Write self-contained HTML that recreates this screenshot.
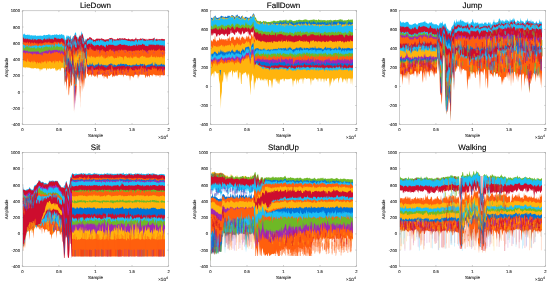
<!DOCTYPE html>
<html><head><meta charset="utf-8"><title>Activity amplitude plots</title>
<style>html,body{margin:0;padding:0;background:#fff}svg{display:block}</style></head>
<body>
<svg width="550" height="286" viewBox="0 0 550 286" font-family="'Liberation Sans', sans-serif" text-rendering="geometricPrecision">
<rect width="550" height="286" fill="#fff"/>
<filter id="bl" x="-2%" y="-2%" width="104%" height="104%"><feGaussianBlur stdDeviation="0.35"/></filter>
<g filter="url(#bl)">
<rect x="23" y="32" width="41" height="92" fill="#1CBEF5"/>
<path fill="#CD0F2D" d="M23 38.4l.5-1.3 .5 1.7 .5 .4 .5-1.3 .5 .6 .5 .9 .5-.5 .5-.5 .5 .3 .5 .1 .5 .9 .5-1 .5 .6 .5 .2 .5 .1 .5-.3 .5 .6 .5-.2 .5-.5 .5-1.3 .5 2.9 .5-1.2 .5-.6 .5 .8 .5-.8 .5 .8 .5 .8 .5-1.1 .5 0 .5 0 .5-.7 .5 .7 .5-.2 .5-.3 .5 0 .5 .9 .5-.5 .5 .7 .5 .6 .5-1.5 .5 .2 .5-.3 .5-.8 .5 .5 .5 1.2 .5-.9 .5 .7 .5-1.8 .5 1.1 .5 .3 .5 0 .5-2.7 .5 2.4 .5-.4 .5 .8 .5-1.1 .5 .5 .5 .6 .5-.7 .5 0 .5 1.4 .5-1.8 .5-1.3 .5 1.1 .5-.4 .5-.3 .5 .9 .5 1.2 .5-1.1 .5 .1 .5-.2 .5 .4 .5 .1 .5 0 .5 .1 .5-.5 .5-.6 .5 .5 .5 0 .5 .2 .5 .6 .5 .7V124H23z"/>
<path fill="#FF5F10" d="M23 41.4l.5 .9 .5 .5 .5-.6 .5 0 .5 .2 .5 .4 .5-.1 .5-.3 .5-1 .5 1.6 .5 .7 .5-1.9 .5 .5 .5 .2 .5 1.1 .5 .4 .5-2 .5 .9 .5-.3 .5 .4 .5 1.1 .5-2.1 .5 .6 .5 .5 .5 0 .5 .8 .5-.3 .5-1 .5 .7 .5 1.9 .5-1.4 .5-.9 .5 .9 .5-.8 .5 1.1 .5-2.4 .5 2.5 .5-1.3 .5 .5 .5 0 .5-.4 .5-.8 .5 .2 .5 .5 .5-1.1 .5 .6 .5 0 .5 .3 .5-.2 .5 .1 .5-.4 .5-.8 .5 1.2 .5 .3 .5-.4 .5 .5 .5 .3 .5-.7 .5 .7 .5 .2 .5-1.2 .5 .4 .5-1 .5-.3 .5 .7 .5 .2 .5 .8 .5-1.6 .5 .9 .5-.2 .5-.4 .5 2.2 .5-1.3 .5-.8 .5 1.4 .5-1.8 .5-.1 .5 .7 .5 1.3 .5-1.7 .5 2.3 .5-.4V124H23z"/>
<path fill="#1CBEF5" d="M23 43.8l.5 1.2 .5 .1 .5-.1 .5 .5 .5-.1 .5 2.6 .5-3.5 .5 1 .5-.8 .5 .8 .5 .6 .5 1.2 .5-2.5 .5 .7 .5 1.1 .5 .2 .5-1.2 .5 1.1 .5-1.3 .5 0 .5 .6 .5-.6 .5 .1 .5-.1 .5 0 .5-.1 .5-.3 .5 1 .5 0 .5 .1 .5 .1 .5-.6 .5-.4 .5 .1 .5 .5 .5 .5 .5-.6 .5-.2 .5 .3 .5-.8 .5-.5 .5 .7 .5 .4 .5-.5 .5 .2 .5-1.7 .5 1.5 .5-.1 .5-.5 .5 0 .5 .3 .5 .2 .5-.6 .5 .6 .5-.9 .5 2.6 .5-2 .5-.2 .5-.2 .5 2.5 .5-2.3 .5 .2 .5 1.6 .5-.9 .5-2.3 .5 1.3 .5 0 .5 .2 .5-.4 .5 0 .5-1.9 .5 1.2 .5 1.3 .5-.7 .5 .4 .5 .2 .5-.8 .5-.4 .5 2.6 .5-.3 .5-.3 .5 1.1V124H23z"/>
<path fill="#6EB928" d="M23 45.3l.5 1.7 .5 1.9 .5-.7 .5-.4 .5-1.1 .5 .9 .5-1.6 .5 .9 .5-1.2 .5 1.1 .5 1 .5-1.1 .5 .2 .5 1.8 .5-1.1 .5 .1 .5-.5 .5 1.1 .5-.3 .5-.2 .5 .2 .5-1.2 .5 .6 .5 .4 .5 1 .5-.2 .5-.2 .5-.6 .5-1.6 .5 2.5 .5-1.9 .5 .6 .5 .5 .5 .2 .5 .4 .5-.7 .5-.5 .5-.9 .5 1.8 .5 .8 .5-2.2 .5 .8 .5-.6 .5 0 .5 .1 .5-2.3 .5 2.3 .5-.7 .5 .6 .5-.5 .5 .7 .5 .4 .5-1 .5-.3 .5 1.6 .5-.8 .5-.9 .5-.7 .5 3.1 .5-1.9 .5-1.3 .5 1 .5-.3 .5-.1 .5 1.4 .5-.1 .5-1.9 .5 .1 .5 .6 .5 .7 .5-.1 .5 .4 .5-.3 .5-.2 .5 .9 .5-2.4 .5 2.1 .5-.6 .5 .7 .5 2.4 .5-1.5 .5-.7V124H23z"/>
<path fill="#A028B4" d="M23 50.6l.5 .4 .5-1 .5 .5 .5-1.1 .5 1.7 .5 .1 .5-.2 .5-.4 .5 .3 .5-.4 .5 1.6 .5 .3 .5-1.3 .5 .3 .5 .7 .5-.8 .5 .9 .5-.9 .5 .5 .5-.5 .5 .4 .5 .7 .5-2 .5 1.6 .5-.5 .5 .3 .5 0 .5-1.2 .5 .9 .5 .4 .5-1 .5 1.3 .5 .7 .5 .3 .5-.4 .5-.4 .5-1.1 .5 1.9 .5-2 .5 .9 .5-.1 .5-.9 .5 .1 .5-.3 .5 .3 .5-.5 .5-.2 .5-.3 .5 1 .5 .3 .5-1.6 .5-1 .5 1.5 .5-.5 .5 .4 .5 .8 .5-.3 .5-.3 .5-.5 .5 .6 .5-.5 .5 0 .5-.3 .5 .8 .5-1 .5 .6 .5-.6 .5 1 .5-.8 .5 .2 .5 1 .5-.3 .5-1 .5 .5 .5 2.6 .5-3.5 .5 1.3 .5 1.7 .5-2.9 .5 2.1 .5 .2 .5 0V124H23z"/>
<path fill="#FF5F10" d="M23 52.5l.5 .2 .5 0 .5-.8 .5 1.5 .5 0 .5-.2 .5-1 .5 .6 .5 0 .5 .1 .5 1 .5-.9 .5 .1 .5-.4 .5 .8 .5 .5 .5 .1 .5-.8 .5 2.3 .5-1.7 .5-.3 .5-.2 .5 .7 .5-1 .5 .6 .5 .7 .5-.2 .5 .3 .5-.5 .5 0 .5-.3 .5 1.4 .5-1.5 .5 .5 .5 .1 .5 1 .5 .1 .5-2.7 .5 3.7 .5-2.4 .5-1.3 .5 .7 .5-.9 .5 1.4 .5-.7 .5 .1 .5 .1 .5 .1 .5 .3 .5 .3 .5-1.3 .5 .6 .5-2.4 .5 1.9 .5 1.7 .5-1.8 .5 1.3 .5-.8 .5-.6 .5 .7 .5-.7 .5 .8 .5-2 .5 .1 .5 1.3 .5-.5 .5-.6 .5 .6 .5-.2 .5 .4 .5 .6 .5 .5 .5-1.8 .5 1.5 .5 1.5 .5-1.8 .5 .5 .5-1.2 .5 1.7 .5 .3 .5 .7 .5 .1V124H23z"/>
<path fill="#FFB40A" d="M23 62l.5-2.8 .5 2.6 .5-1.5 .5 .5 .5 .2 .5 .7 .5-.2 .5 1.3 .5-4.9 .5 2.6 .5 .8 .5 1 .5-.8 .5 .3 .5 .6 .5-.1 .5-.7 .5-1.2 .5 1.4 .5 1.3 .5-1 .5-2.2 .5 1.9 .5-.1 .5 .3 .5 .5 .5 2 .5-2.8 .5 .5 .5 .3 .5 1 .5-.6 .5-.8 .5 .8 .5-.4 .5 2.1 .5-2.7 .5-.8 .5 2 .5-1.5 .5 1.2 .5-1 .5 0 .5-1.3 .5 2 .5-2.6 .5 4.2 .5-1.3 .5-1.7 .5-.9 .5 2.4 .5-1 .5-1.1 .5 .9 .5-.3 .5 .7 .5 .4 .5 .9 .5-.8 .5-1.8 .5 1 .5-.2 .5 3 .5-4.8 .5 1.7 .5 1.5 .5-1.7 .5-.3 .5 .7 .5-.3 .5 2.2 .5-3 .5 .6 .5-.6 .5 1.8 .5-1 .5 1.7 .5 0 .5 .5 .5-1.5 .5-5.1 .5 5.7V124H23z"/>
<rect x="64" y="30" width="23" height="94" fill="#1CBEF5"/>
<path fill="#CD0F2D" d="M64 39.5l.5 1.1 .5 3.5 .5 .9 .5-6.2 .5 1.4 .5-.3 .5-.6 .5-2.2 .5 1.5 .5 .5 .5 1 .5-.5 .5 .7 .5-.5 .5 2 .5-.3 .5-1.5 .5-5 .5 6 .5-2.7 .5-3.1 .5-.5 .5 .2 .5 1.5 .5 .2 .5 1.2 .5 1.2 .5 2.3 .5-3.3 .5-4.8 .5 3.8 .5-.7 .5-5.1 .5 10.1 .5-6.9 .5-.2 .5 .4 .5-1.7 .5 7.3 .5 2.2 .5-2.3 .5 3.1 .5-1.8 .5-2.3 .5 1.5 .5 1.2V124H64z"/>
<path fill="#1CBEF5" d="M64 43l.5 5.2 .5-5.6 .5 3.6 .5 .9 .5-.6 .5-2.1 .5-1.7 .5 1.1 .5-6.6 .5 5.3 .5-.1 .5 7.5 .5-8.2 .5-1 .5 3.7 .5 0 .5-4.4 .5 2.9 .5-3.5 .5 4.8 .5-5.8 .5 4.1 .5-4.3 .5 4.2 .5 1.4 .5-2.6 .5-1.2 .5 3.8 .5-1.8 .5-1.3 .5 1.7 .5 .3 .5-2.6 .5 .8 .5-2.2 .5-.7 .5 .1 .5 1.7 .5 2 .5-.4 .5 6 .5-3 .5-.2 .5 .2 .5-3 .5 1.1V124H64z"/>
<path fill="#CD0F2D" d="M64 41.9l.5 6.5 .5 1 .5 3.5 .5-2.5 .5-3.3 .5-.5 .5-2 .5-1.6 .5 5.1 .5-4.5 .5 1.4 .5 2.4 .5-1.4 .5 .3 .5 4.7 .5-4.6 .5-1.9 .5-3.3 .5 4.7 .5-.3 .5-2.5 .5 4 .5-.1 .5 1.4 .5-1 .5-3.4 .5-3 .5 5 .5-4.3 .5 5.4 .5-9.6 .5 7.9 .5-4.9 .5-2.7 .5 2.8 .5-3.1 .5 6.8 .5-1.3 .5 1.1 .5 1.2 .5 3.6 .5-2 .5 1.4 .5-.3 .5-5.1 .5 .6V124H64z"/>
<path fill="#FF5F10" d="M64 47l.5 7.8 .5-3.8 .5-2.3 .5 5.1 .5-2.6 .5-2.2 .5-.7 .5-1.7 .5 4.4 .5-.6 .5-1.2 .5-1.6 .5 1.3 .5 8.2 .5-6.2 .5-.3 .5 1.3 .5-10.8 .5 5.6 .5 9.5 .5-10.3 .5 8.6 .5-3.1 .5-.9 .5 1.2 .5-1.9 .5 .2 .5-.1 .5-.5 .5-2.6 .5 1.4 .5 3.2 .5-2.7 .5 2.9 .5-6.5 .5 1.9 .5 1.2 .5-.9 .5 3.7 .5 1.1 .5 1.2 .5-1 .5 2.8 .5-5.9 .5-2.3 .5-.6V124H64z"/>
<path fill="#FFB40A" d="M64 52.9l.5 10 .5-1.3 .5 2.2 .5-3.2 .5 2.1 .5-6.4 .5-2.2 .5-2.8 .5-.5 .5 5.4 .5 .3 .5 1.3 .5-9.3 .5 10.2 .5-3.3 .5-1.7 .5-1.5 .5 1.1 .5-1.6 .5 7.5 .5-7.2 .5 5.9 .5-4.8 .5 4.8 .5-2 .5-3.9 .5 2.2 .5-1.1 .5 1.3 .5-2.5 .5 .7 .5 6.2 .5-8.6 .5 4.6 .5-6.9 .5 10.4 .5 .6 .5-8.4 .5 12 .5-9.4 .5 6 .5-.1 .5-1.1 .5-1 .5-6 .5 3.5V124H64z"/>
<path fill="#0573D7" d="M64 56.4l.5 17.4 .5-4.1 .5 .8 .5-2.8 .5-.2 .5-.3 .5-7 .5-1.8 .5 .7 .5-3.1 .5 5.2 .5 2.4 .5-5.4 .5 5.8 .5 .7 .5-1.9 .5-6.3 .5 2.2 .5 1.8 .5 14.4 .5-10.8 .5 8.1 .5-3.5 .5 6.9 .5-7.3 .5-4.4 .5-.8 .5-.9 .5 7.4 .5-6.9 .5 1.9 .5 11 .5-14.8 .5 7.2 .5-4.6 .5-1.9 .5 6.2 .5-.7 .5 8.2 .5-13.3 .5 11.2 .5-8.1 .5 2.4 .5-2.8 .5-7.9 .5 6.3V124H64z"/>
<path fill="#CD0F2D" d="M64 61.8l.5 14.7 .5-9.3 .5 3.4 .5-.2 .5-1.2 .5-2.7 .5-3.7 .5-.3 .5-4.1 .5 6.8 .5 .3 .5 3.9 .5-7 .5 4.9 .5-.3 .5-2.3 .5-4.8 .5 2.5 .5 1.9 .5 17.5 .5-15.6 .5 11.8 .5-4.9 .5 4.1 .5-3 .5-4.9 .5-4.4 .5 5.5 .5-3.8 .5-2.7 .5 6 .5 7.8 .5-15.8 .5 8.9 .5-9.4 .5 6.8 .5 3.6 .5-4.8 .5 7.8 .5-9.9 .5 13.4 .5-8.8 .5 0 .5-3.5 .5-10.8 .5 6.3V124H64z"/>
<path fill="#FF5F10" d="M64 62.1l.5 12.6 .5-3.7 .5 .7 .5-1.1 .5 1 .5 .5 .5-4.5 .5 2.3 .5 .1 .5 3 .5 1.2 .5-.2 .5-3.9 .5 .3 .5 3.7 .5 1.6 .5-11.3 .5 2.4 .5 1.6 .5 18.7 .5-12.2 .5 5 .5-1.4 .5 5 .5-5.2 .5-3.1 .5-10.5 .5 6.9 .5 2.4 .5-3 .5 4.1 .5 9.3 .5-20.2 .5 13.6 .5-12.5 .5 3.5 .5 5.9 .5-1.3 .5 10.9 .5-16.6 .5 12.6 .5-9.7 .5 3.1 .5-3.6 .5-13.5 .5 6.6V124H64z"/>
<path stroke="#FF5F10" stroke-width="0.6" fill="none" opacity="0.85" d="M68.6 68.9v10.3M85.3 63.4v9.5M75 65.7v11.7M64.4 44.3v11.4M73.8 51.3v10.5M68.1 65.4v9M72 72.4v12.2M83.6 75.4v12.4M68.1 66.2v11.2M80.5 62.2v7.4M67.3 57.8v9.7M81.8 67.7v7.6M67.6 67.6v11M72.4 71.2v13M81.8 55.1v5.8M70.8 70.7v13.9M69.1 72.1v11.1M68.4 67.5v4.7M71.7 76.5v10.9M80.2 91.5v4.2"/>
<path stroke="#CD0F2D" stroke-width="0.6" fill="none" opacity="0.85" d="M65 72v7.8M78.4 69v5.6M77.9 60.1v4.8M75.7 62.7v6.1M69.4 60.7v7.2M71.2 76v6.1M80.1 62.9v6.7M74.3 67.2v5.1M68.8 63v9.8M66.5 67.1v4.2M79.9 55v9.3M71.7 66v13.8M77.3 64.4v9.3M71.6 68.3v8.7M79.2 57.3v4.3M72.6 50.9v10.3M71.3 69v6.6M72.6 55.6v13.3M66.9 73.5v12M67.4 75.8v7.5M86.9 53v8.9M83.3 64.4v9.1M68.5 65.7v6.8M66.3 59.8v11.7M64.5 51.8v10M69.9 81.8v4.1M82.1 59.2v10M75.3 90.1v12.7M77.2 68v6.7M72.8 50.6v12.5M65.7 53.1v11.7M66.2 67v5M72.7 67.5v7M73.7 65.5v4.5M66.4 72.1v6.2M75.5 70.7v6.4M82.9 61.3v4.8"/>
<path stroke="#0573D7" stroke-width="0.6" fill="none" opacity="0.85" d="M66.8 50.4v14M79.2 65.8v10.1M78.6 66.7v4.7M83.8 69.8v10.3M71.9 61.1v11M79.2 68.3v9.4M66.2 55.1v10.3M83.6 59.4v11.6M67.9 58.3v13.2M84.2 58.4v4.6M69.7 64.3v4.5M86.6 45.5v9.3M67.9 48.3v13.2"/>
<path stroke="#A028B4" stroke-width="0.6" fill="none" opacity="0.85" d="M81.1 63.1v7.9M70.6 64.7v12.8M81.1 71.3v11.1M70 55.5v9.3M66.1 71.7v7.4M81.9 61v6.3"/>
<path stroke="#1CBEF5" stroke-width="0.6" fill="none" opacity="0.85" d="M73.3 68.8v4.4M86.8 51.5v7.6M64.1 56.4v10.7M64.9 72v13.9M81.9 47.4v11.5M81.2 66.4v5M72.9 65.3v13M70.8 71.8v13.2M86.7 51.6v6.3M76.5 75.2v8.8M78.8 74.9v6.9M79.7 58.5v12.6M65.4 69v6.9M75.7 73.9v11"/>
<path stroke="#1CBEF5" stroke-width="0.6" fill="none" opacity="0.8" d="M84.1 38.8v3.9M80.3 44v6.6M70.8 40.1v3.1M83.8 52.6v6.4M77.7 49.4v7.3M70.6 39.6v7.4M70.1 41.4v5.6"/>
<path stroke="#0573D7" stroke-width="0.6" fill="none" opacity="0.8" d="M85.9 51.7v7.1M70.9 47.5v3.8M78.2 40.9v3.1M85.3 53.2v3.2M81.5 39.9v4.3M73 42.5v5.3M84.7 47.7v4.3M74.3 50.4v4.1"/>
<path stroke="#CD0F2D" stroke-width="0.6" fill="none" opacity="0.8" d="M78.4 45.4v3.7M76.3 38v7.9M71.9 49.3v6.9M83.2 43.9v7.2M70.2 44.3v4.3M81.5 40.9v3.7M70.2 53.5v7M81.2 39.1v4.8M86.7 40.5v6.9M85.5 53.7v4.5M70.4 36.5v6.8M83.3 38.2v4.2M77.7 50.1v5.4M82.1 46.9v5M72.4 51.4v4.9"/>
<rect x="87" y="35" width="78" height="89" fill="#CD0F2D"/>
<path fill="#1CBEF5" d="M87 40.9l.5-.1 .5-.3 .5-.7 .5 .5 .5-1.3 .5-.6 .5 .9 .5 .5 .5 .6 .5-.7 .5 .4 .5 .7 .5 1.4 .5-.9 .5 0 .5-.4 .5 2.2 .5-2.9 .5 .6 .5 0 .5 0 .5 0 .5-.9 .5-.3 .5 2.3 .5-1.8 .5-.2 .5-.8 .5 1.2 .5 .3 .5-.2 .5-.1 .5 .4 .5 1.6 .5-1.2 .5 .6 .5 .4 .5-.7 .5-.4 .5-.6 .5 .7 .5 .2 .5 .4 .5-2.4 .5-.2 .5 .6 .5 .4 .5-1.5 .5 .8 .5-.3 .5 4.1 .5-3.4 .5-.2 .5 1.6 .5-.9 .5 .6 .5-.6 .5 .4 .5-.4 .5 0 .5 .1 .5-.3 .5 .2 .5 .6 .5-1 .5-1.8 .5 2.9 .5-1.7 .5 .5 .5 0 .5 0 .5-.2 .5 .3 .5 .1 .5-.1 .5-.3 .5 .5 .5 .1 .5 0 .5 .3 .5 .2 .5-.2 .5 .4 .5 .2 .5-.2 .5-.4 .5 1.5 .5-2 .5 1.4 .5-.6 .5 .1 .5 .7 .5-.9 .5 1.4 .5-.8 .5-1.7 .5 .7 .5 .1 .5-1.1 .5 1.4 .5 1.7 .5-2.5 .5-.3 .5 .8 .5 .1 .5-.7 .5 .1 .5 .8 .5-.6 .5-.2 .5-1.1 .5 .1 .5 2.3 .5-1.2 .5 1.3 .5-1 .5 .8 .5-.1 .5-1.1 .5 .2 .5 .7 .5-.5 .5 .1 .5-.6 .5 .6 .5 0 .5-.4 .5 .2 .5-.1 .5 .1 .5-1.3 .5 3.6 .5-2.7 .5 1.3 .5-3.3 .5 1.4 .5 .5 .5 1.7 .5-.9 .5 .6 .5-.4 .5-1 .5 .7 .5-.4 .5 .4 .5 .2 .5-1 .5 1.7 .5-1.1 .5-.1 .5 .8 .5-.7 .5 .9 .5-.6 .5 .1 .5-.4V124H87z"/>
<path fill="#CD0F2D" d="M87 44.2l.5 .8 .5-.8 .5-.6 .5 .3 .5 .1 .5-1.8 .5 3.7 .5-4.3 .5 2.3 .5 .1 .5 .4 .5 .6 .5 .2 .5 .2 .5 .4 .5 .9 .5-1.7 .5-.1 .5 .6 .5-.4 .5-.3 .5 .2 .5 .1 .5 .6 .5 .6 .5-.7 .5-.6 .5 .5 .5-.4 .5-.6 .5 2 .5-1.5 .5 .7 .5 .2 .5 1 .5-.4 .5 1.5 .5-3.1 .5-.3 .5 .9 .5 .4 .5-.3 .5-1.1 .5 0 .5 .4 .5-.5 .5 .5 .5-.5 .5 .5 .5-.1 .5 0 .5 0 .5 .2 .5 .4 .5 0 .5 .4 .5-.4 .5 .4 .5-.6 .5 1.1 .5-1 .5-.8 .5 .4 .5-.2 .5-.6 .5 .3 .5-.3 .5 0 .5 1.1 .5-.5 .5 .2 .5-.2 .5 .2 .5-.4 .5 .3 .5 0 .5 .1 .5 .9 .5-.8 .5-.1 .5 .5 .5 .5 .5 .2 .5-.5 .5-.2 .5 .4 .5 .6 .5-1 .5 .6 .5 .1 .5-.3 .5-.5 .5 .3 .5-.5 .5 .2 .5-.1 .5 1.3 .5-2.3 .5 0 .5 1.3 .5 .7 .5-2.3 .5 1.5 .5-1.3 .5 1.5 .5-1.4 .5 .9 .5-.2 .5 .2 .5-.8 .5-.8 .5 .8 .5 .3 .5-.1 .5 .1 .5 .9 .5 .2 .5 .5 .5-.6 .5 .4 .5 0 .5 .5 .5-.9 .5-1.8 .5 1.6 .5-1.5 .5 1.3 .5-1 .5 .8 .5-.8 .5 1.4 .5-1.8 .5 1.1 .5 .3 .5-.7 .5 .7 .5 0 .5-.2 .5 .1 .5-1.6 .5 2 .5-1.1 .5 .5 .5-.7 .5 1.5 .5-.6 .5 .2 .5 0 .5 .2 .5-.2 .5 .1 .5-.3 .5 .5 .5 1.7 .5-1.8 .5 0V124H87z"/>
<path fill="#FF5F10" d="M87 50.9l.5-2.1 .5-.1 .5 1.2 .5 .5 .5-2.6 .5-.7 .5-.2 .5 2.3 .5-.4 .5 1.2 .5 .4 .5-1.8 .5 2.5 .5-.6 .5 .5 .5-.2 .5 0 .5-.3 .5-2.3 .5 2.3 .5-.4 .5 .1 .5-.6 .5 .3 .5 .8 .5 1.4 .5-2.1 .5 .7 .5-.5 .5-.7 .5-.7 .5 2.6 .5-1 .5-.2 .5 1.3 .5 .3 .5 .6 .5-1.1 .5-.3 .5 0 .5-.3 .5 .5 .5 .6 .5-2.5 .5 .7 .5-.4 .5-.7 .5 1 .5 1.3 .5-1.8 .5 1 .5 .6 .5-.6 .5 1.5 .5-.7 .5 .2 .5-.7 .5 .1 .5-.4 .5 1.3 .5-.7 .5-1.3 .5 .7 .5-.6 .5 .6 .5-.6 .5 1.2 .5-.7 .5-1 .5 .5 .5 .2 .5 .9 .5-.9 .5-.5 .5 .4 .5-.2 .5 .1 .5 .5 .5 0 .5 .3 .5 1 .5 .4 .5-1.8 .5 .7 .5 .2 .5-.8 .5 .8 .5-.6 .5 .4 .5-.1 .5 .9 .5-1 .5 0 .5 .2 .5-.4 .5 .9 .5-1.2 .5-.3 .5 .7 .5 .1 .5-.1 .5-.8 .5 .1 .5 1.2 .5-.4 .5 .1 .5-1.1 .5 .2 .5 .9 .5-1.1 .5-.8 .5 .8 .5 .8 .5-.5 .5 .3 .5 .9 .5-.1 .5 .2 .5 1.1 .5-1.5 .5 .7 .5-.4 .5-1 .5-.5 .5 .8 .5-.7 .5 .9 .5-.2 .5-1.6 .5 1.9 .5-.5 .5-.5 .5-.5 .5 .8 .5 .9 .5-.6 .5 .2 .5 .1 .5 0 .5-.1 .5-.6 .5 0 .5-1.3 .5 2.1 .5-2.9 .5 2.1 .5 .6 .5-.2 .5 .6 .5-1.1 .5 0 .5 0 .5 .9 .5-.4 .5 .2 .5 .4V124H87z"/>
<path fill="#FFB40A" d="M87 56.3l.5 .5 .5-2.6 .5 2.1 .5 1 .5 0 .5-1.5 .5 2.4 .5-2.7 .5 .4 .5 .7 .5 .3 .5 .7 .5-.7 .5-1.1 .5 2.1 .5-.9 .5 1.6 .5-1.9 .5 .3 .5-.7 .5 .4 .5 .5 .5-.7 .5-1.3 .5 2.1 .5 .2 .5-1.4 .5 .6 .5-1.3 .5-.7 .5 2.4 .5-.1 .5 1.4 .5-3.2 .5 3 .5 .5 .5-.5 .5-.2 .5-.5 .5 0 .5-1.2 .5 2.5 .5-3.4 .5 .6 .5 1.3 .5-.8 .5 0 .5-.4 .5-.7 .5 1.6 .5-1.1 .5 .7 .5 1.3 .5-.5 .5 1.7 .5-1.9 .5 .7 .5 0 .5 0 .5 .3 .5-2.6 .5 1.8 .5 .3 .5-2.3 .5 1.4 .5-.4 .5 .1 .5 .3 .5 .3 .5 0 .5 .6 .5-.7 .5 4.1 .5-4.1 .5-.5 .5-.5 .5-.2 .5 1 .5-.4 .5 1.2 .5 .3 .5-.2 .5-.4 .5 .2 .5-.3 .5 1.7 .5-3.4 .5 1.9 .5 .5 .5-.8 .5 1.7 .5-.9 .5-.6 .5-1.2 .5 1 .5 .2 .5-.5 .5-1.6 .5 2.1 .5-.1 .5 .7 .5-.4 .5 .2 .5 .9 .5-.4 .5-1.5 .5 .3 .5-.4 .5-.3 .5-.2 .5-.7 .5 .9 .5 .1 .5 .9 .5-.7 .5-.8 .5 1.9 .5-.6 .5 .8 .5-.5 .5 .4 .5-.6 .5 .3 .5 .6 .5-1 .5 .2 .5-.3 .5-1.1 .5-1.1 .5 2.8 .5-.9 .5 .3 .5-.4 .5 1.1 .5-1.5 .5 .9 .5 .4 .5 .4 .5-2.4 .5 1.6 .5 .1 .5 .3 .5-1 .5 .6 .5 .5 .5-.1 .5-.7 .5 .3 .5-.5 .5 .3 .5 .3 .5 1.6 .5-3.7 .5 3.9 .5-3.4 .5 .7V124H87z"/>
<path fill="#0573D7" d="M87 64.2l.5 .1 .5 .9 .5-.2 .5 .5 .5-1.3 .5-1.7 .5 1.9 .5 .7 .5-1.5 .5 1.6 .5-3.3 .5 3.1 .5-.3 .5 1.3 .5-.1 .5-1.9 .5 1.2 .5-.7 .5 .4 .5-1.2 .5 .7 .5 0 .5-2.5 .5 2.3 .5 1.2 .5-2 .5 2.3 .5-1.5 .5-.5 .5 2.1 .5-1.1 .5 0 .5 0 .5 1.1 .5-1.1 .5 .5 .5 .2 .5-1.1 .5 1.6 .5-.6 .5 0 .5 .5 .5-1 .5-.8 .5 .3 .5-.4 .5-.3 .5-.1 .5-.1 .5 .7 .5-.4 .5 3.1 .5-2.3 .5 .3 .5-.6 .5 1 .5-.1 .5 .3 .5 .7 .5-1.5 .5 .5 .5-.7 .5-.1 .5-.6 .5 1.2 .5-1.2 .5 .6 .5-1.7 .5 1.9 .5-.8 .5 .3 .5 .3 .5-.6 .5 .4 .5 .7 .5-1.2 .5 .8 .5-.3 .5 0 .5 .6 .5 .2 .5 .1 .5 .5 .5-.3 .5-.4 .5 .2 .5 .4 .5 .3 .5-.3 .5-.3 .5-.5 .5 1.3 .5-1.4 .5 .3 .5 .8 .5-1.5 .5 1.3 .5-1.6 .5-.2 .5 1.3 .5 0 .5-.5 .5 .8 .5-.4 .5 .6 .5-1.9 .5 .4 .5-.2 .5 .9 .5-.6 .5 0 .5-.2 .5 .8 .5 1.9 .5-3.1 .5 1.1 .5 1.3 .5-.2 .5 0 .5-.7 .5 .2 .5-.8 .5 .4 .5-.1 .5-.1 .5 0 .5-.2 .5-.6 .5-.5 .5 1.4 .5-2.9 .5 4.1 .5-1 .5 1.3 .5-1.5 .5-2.9 .5 2.3 .5 .4 .5-.2 .5-.7 .5 2 .5 .1 .5-.6 .5-1 .5 1.2 .5-.3 .5-.5 .5-.6 .5-.2 .5 .7 .5 1 .5-1.7 .5 1.2 .5-.2 .5 .9 .5-1.3V124H87z"/>
<path fill="#CD0F2D" d="M87 66.8l.5-.4 .5 .4 .5 .2 .5 .1 .5-.1 .5-.9 .5-.1 .5-.4 .5 .4 .5-.2 .5 1.3 .5-1.8 .5 .8 .5 1.3 .5 0 .5 1.1 .5-1.6 .5-1.5 .5 1.8 .5-.9 .5 .4 .5-2.1 .5 .1 .5 1.4 .5 .4 .5-.3 .5 .1 .5-.3 .5-.8 .5-.2 .5 1.2 .5 .3 .5-.3 .5 0 .5 .8 .5 .3 .5-.2 .5 1 .5 .1 .5-2.4 .5 1.1 .5-.5 .5-.1 .5-1.7 .5 .4 .5-.7 .5 .6 .5 .9 .5-1.4 .5 1.9 .5 .1 .5-.7 .5 1.1 .5 1.2 .5-2.1 .5 1.2 .5-.1 .5-.3 .5 .1 .5-1 .5 .7 .5-.5 .5 .1 .5 1 .5-1.4 .5-.4 .5 1.5 .5-.9 .5 .2 .5-.7 .5 .5 .5-.2 .5 .4 .5-.4 .5-.6 .5 1.6 .5-.3 .5 1.2 .5-1.4 .5-.1 .5-.1 .5 .3 .5 .1 .5-.3 .5 .3 .5 .1 .5 1.1 .5-.8 .5 .6 .5-1.7 .5 .9 .5 1.6 .5-2.8 .5 .2 .5 1 .5-.6 .5-.2 .5 .3 .5 .3 .5-.3 .5 .1 .5 0 .5 .8 .5-1.3 .5 .6 .5-.2 .5-1.5 .5 2.2 .5 .6 .5-1.8 .5 .4 .5-.4 .5 1.6 .5-1.5 .5-1.8 .5 1.6 .5 1.3 .5-1.3 .5 2.9 .5-1.2 .5-.3 .5 .2 .5-.6 .5 .5 .5-.1 .5-.6 .5-.4 .5-.2 .5 .1 .5-.1 .5-.5 .5 1.5 .5-1.2 .5 .6 .5-1.2 .5 1.4 .5 .4 .5-1.2 .5 2.6 .5-2.3 .5 .2 .5 .8 .5-.6 .5 .7 .5-.9 .5 0 .5 .7 .5 .2 .5-.1 .5-.9 .5 .6 .5-.2 .5 .6 .5-.8 .5 1 .5-.2V124H87z"/>
<path fill="#FF5F10" d="M87 68.1l.5 .6 .5 .1 .5 2.3 .5-2 .5 .3 .5 1.7 .5-2.3 .5 2.4 .5-2.7 .5-3 .5 2.1 .5 2 .5-.7 .5 1.8 .5-1 .5 .4 .5-.8 .5 .2 .5 .4 .5-1 .5 .1 .5 1.2 .5 .6 .5-2.5 .5-1.4 .5 3.1 .5-1.2 .5 2.6 .5-2.1 .5-.8 .5 1.8 .5-1 .5 .6 .5 1.1 .5-1 .5 2.4 .5-2.5 .5-.3 .5 .5 .5-.5 .5 .6 .5-.6 .5 .3 .5-.1 .5-1 .5 1.4 .5-1 .5 .4 .5-4.9 .5 0 .5 4.3 .5-.6 .5 2.3 .5-1.4 .5 .8 .5-1.1 .5 1 .5 1.3 .5-.2 .5-2 .5 0 .5 .2 .5-.7 .5 .2 .5 2.5 .5-1.5 .5-1.8 .5 1.1 .5 2 .5-2.8 .5 1.4 .5-.1 .5 .7 .5-3.5 .5 3.9 .5 1.3 .5-3.8 .5 1.2 .5-1.9 .5 1.9 .5 .6 .5 .1 .5 .6 .5-1.8 .5-.9 .5 2.6 .5-3.9 .5 2.2 .5 0 .5 1.6 .5-.8 .5 1.2 .5-1.1 .5 .8 .5-.4 .5 .4 .5-2.1 .5-.1 .5 1 .5 .2 .5 .2 .5 .3 .5-1.4 .5-.7 .5 2.1 .5-.8 .5-1.1 .5-1.4 .5-1.1 .5 2.2 .5-.1 .5 .1 .5-1.4 .5 1.4 .5 .7 .5-1 .5 1.2 .5 .7 .5 1.3 .5 .5 .5-1.9 .5-1 .5 .4 .5 .8 .5-.4 .5 .2 .5 .3 .5-.1 .5 .6 .5-3.2 .5 1.4 .5-2.5 .5 2.8 .5 .5 .5-1.1 .5-1.2 .5 2.4 .5-1.1 .5 .2 .5 .6 .5 2.5 .5-2.5 .5 .9 .5-1.2 .5 .3 .5-1.2 .5 .5 .5 1.6 .5-1.1 .5-.3 .5 4.6 .5-2.4 .5-1.8 .5 .4 .5 .3 .5-1.2V124H87z"/>
<path stroke="#CD0F2D" stroke-width="0.6" fill="none" opacity="0.8" d="M120.3 66.1v4.3M164.3 67.7v2.7M128.2 68.3v3.6M113.2 72.8v2.3M91.6 72.6v2.4M114.8 67.1v3.8M163.8 66.7v3.4M103.2 65v4.4M97.5 71.7v2.4M113.5 71.4v4.7M143.5 66.4v2.5M135 71.7v4.5M160.4 66v4.3M121.4 69.3v4.1M142 67.7v2.7M115.8 70.9v3M144.4 67.1v4.7M104.2 72.1v2.3M160 66.9v4.7M110.6 67.7v3.7M87.7 69.9v3.6M158.1 66.5v3.9M161.1 65.7v2.4M113.6 68.6v2.5M103.4 67v3.9M116.4 71.5v3M99.4 65.8v4.7M122.5 67.5v2.3"/>
<path stroke="#A028B4" stroke-width="0.6" fill="none" opacity="0.8" d="M92.9 71.3v4.4M107.9 70.9v3M128 69.3v3.7M118.4 68v2.7M89.1 66.1v1.7M102.5 73.1v2.2M110.9 69.2v2.6M92.5 69.5v4M147.4 69.6v2.1M87.3 67.1v4.8M144.7 70.1v2.3M119.6 70.7v2.3M98.9 71.2v3.8M134.1 67.8v2.6M163 67.4v2.9M108.5 73.7v1.6M146.9 67.9v3.9M122.7 70.8v3.5M116.1 73.8v2.2M163.5 72.1v3.6M135.6 72.5v3M147.4 72.8v3M137.9 66.6v1.8M93.2 65.6v4.4M162.9 67v4.5M139.3 71.4v2.4M125.7 72.7v2.5M99 71.1v2.5M91.6 67.6v3.9M141.9 69.8v4.3M105.8 72.7v1.7M112.1 70v2.3"/>
<path stroke="#A028B4" stroke-width="0.6" fill="none" opacity="0.7" d="M114.6 51v2.9M113.6 50v1.2M139.4 52.9v1M113.9 49.1v2.9M97.3 48.9v2.5M164.9 52.3v1.2M118.8 50.1v2.8M145.8 49.7v1.9M147.7 51.2v2.3M162.5 52v2.7M131.6 50.8v1.3M100.1 50.5v2.5M154 51.9v1.6M113.1 49.1v2.1M160.8 51.8v1.9M99.4 50.9v2.8M146.9 50.4v1.8M132.5 53.1v1.5M119.7 49v1M106 52.5v2.4M124.2 50v1.5M146.8 51.5v1.1M135.9 52.7v1.1M164.8 49.7v1.6M163.2 52.8v1.4M143.2 50.8v1.8M148.1 52.1v1.5M125.2 50.8v2.2M129.4 52.1v1.3M90.3 47.5v2.2"/>
<path fill="#fff" d="M23 33.4l.5 1.2 .5-.2 .5-1.1 .5 1.4 .5 .1 .5 .3 .5-.2 .5-.1 .5-.2 .5 .4 .5 .3 .5-1.3 .5 1 .5 .5 .5-.1 .5-.4 .5 .3 .5 .2 .5 .1 .5-.1 .5-.1 .5 .1 .5-.1 .5 .2 .5-.6 .5 1 .5 .2 .5-1 .5 .8 .5-.2 .5-.1 .5 .1 .5-.1 .5-.3 .5 0 .5 .6 .5-.5 .5 .6 .5-.4 .5 0 .5-.7 .5 .3 .5-.6 .5 .4 .5 .4 .5-.5 .5-.1 .5 .1 .5 0 .5-.3 .5-.6 .5 1.2 .5-.7 .5-.3 .5 .9 .5 .3 .5-.3 .5-.1 .5-.3 .5 .1 .5 0 .5-.1 .5-.2 .5 0 .5 .2 .5-.1 .5-.8 .5 .8 .5 .1 .5 0 .5 .3 .5-.1 .5-.9 .5 1 .5-.1 .5-1.3 .5 .5 .5 .2 .5 .2 .5 .9 .5-.9 .5 .7 0-.4 .5 1.1 .5 3.4 .5 .6 .5-3.1 .5-.5 .5-1.9 .5 1.9 .5-.1 .5-.7 .5 1 .5 .1 .5-.2 .5-1.5 .5 3.9 .5-.1 .5-.1 .5-.9 .5-1.3 .5-.6 .5 .2 .5-1.4 .5-2 .5-.3 .5 .4 .5 3.9 .5 .1 .5 .2 .5 2.3 .5-1.6 .5-1.2 .5-.4 .5-1.9 .5 2 .5-1.1 .5-4 .5 2.1 .5 .1 .5 2 .5 1.2 .5 1.8 .5 2.4 .5 .9 .5-2.8 .5 1 .5-.9 .5 .7 0-1.4 .5 .2 .5 .7 .5-.5 .5-.6 .5-.8 .5-.5 .5 .7 .5 .3 .5 .4 .5 .4 .5 .9 .5 .1 .5-.2 .5 .4 .5 .3 .5-.3 .5-.3 .5-.7 .5 .3 .5-.9 .5 .7 .5 .2 .5-.6 .5 .3 .5 .1 .5-.1 .5 .2 .5-.5 .5-.1 .5 .3 .5 .2 .5 .4 .5-.1 .5-.1 .5 .7 .5 0 .5-.2 .5 .1 .5-.4 .5 .2 .5-.4 .5 .4 .5-.3 .5-.3 .5-.5 .5-.2 .5 0 .5 0 .5-.4 .5 .5 .5 .4 .5-.1 .5 .7 .5 .3 .5-.2 .5-.4 .5 .6 .5-.1 .5-.1 .5 0 .5-1.6 .5 1.4 .5-.1 .5-.9 .5 .5 .5-.8 .5 .7 .5 0 .5 .3 .5-.7 .5 .3 .5-.1 .5 .4 .5-.1 .5-.4 .5-.5 .5 1 .5 .2 .5 .1 .5 0 .5 .4 .5-.7 .5-.1 .5 .4 .5 .5 .5-.6 .5 .8 .5-.5 .5 0 .5-.1 .5-.4 .5 1.1 .5-.4 .5-.4 .5 .4 .5-.5 .5-.4 .5-1.3 .5 1.7 .5 .3 .5-.2 .5 .2 .5 0 .5-.3 .5 .5 .5-1 .5 .2 .5 0 .5 .3 .5-.3 .5-.2 .5 .1 .5 .2 .5 .2 .5-.1 .5 .5 .5 .5 .5-1.4 .5 1.1 .5 .4 .5-1 .5 1 .5-.6 .5-.8 .5 .6 .5 .1 .5-.4 .5 .5 .5-.3 .5-.2 .5 .2 .5-.6 .5-.3 .5 .7 .5-1.5 .5 1.7 .5 .5 .5-.3 .5-.2 .5-.5 .5 .9 .5 0 .5-.1 .5-.1 .5 0 .5-.1 .5 .4 .5-.6 .5-.2 .5 .6 .5-.6 .5 .4 .5 .2 .5-.2 .5 .1 .5 .2V11H23z"/>
<path fill="#fff" d="M23 66.7l.5 .8 .5-.3 .5 .4 .5-.2 .5-.1 .5 1.1 .5-1.3 .5 0 .5 .7 .5-.4 .5 .2 .5 .2 .5-.4 .5 .6 .5-.3 .5 .7 .5-.3 .5 .7 .5-.8 .5 .8 .5-.6 .5 .4 .5-.5 .5-.1 .5-.1 .5 .6 .5 .3 .5-.6 .5 .4 .5 0 .5-.3 .5 .9 .5-.8 .5 3.4 .5-2.8 .5 .6 .5-.5 .5 1.5 .5-2.3 .5 1 .5-1.2 .5 .2 .5 .2 .5-.2 .5 .2 .5-.6 .5 2.8 .5-1.2 .5-.9 .5-.9 .5 1.8 .5-.9 .5-.2 .5-.3 .5 1.5 .5-1 .5 .5 .5-.5 .5-.4 .5 .4 .5 0 .5 .1 .5-.6 .5-.1 .5 3.1 .5-2.4 .5 1.9 .5 1 .5-1.8 .5 .2 .5-.4 .5-.8 .5-.1 .5 2.6 .5-1.2 .5-1.5 .5-.6 .5-.4 .5 .1 .5 .2 .5 .2 .5 1.2 0-.5 .5 17.4 .5-5.6 .5 1.4 .5 .2 .5 8.5 .5-10 .5-2.6 .5-3.1 .5 19.1 .5 1.6 .5-10 .5 2.7 .5-7.5 .5 3.7 .5 1 .5 .5 .5-13.1 .5 2.5 .5 2.6 .5 35.2 .5-29.9 .5 20.2 .5-13.2 .5 6 .5-8.2 .5-8.9 .5-3.2 .5 3.1 .5 1.9 .5-3.3 .5 3.8 .5 17.1 .5-27.8 .5 13.7 .5-5.8 .5 13.4 .5-7.4 .5-4.2 .5 8.8 .5-17.6 .5 15.4 .5-10.8 .5 2.2 .5 0 .5-16.6 .5 10.6 0 1.1 .5 .4 .5 .3 .5 2.6 .5-2.5 .5 .5 .5 .2 .5-.7 .5 .1 .5 2.7 .5-3 .5 .3 .5 1.1 .5 .1 .5-1 .5 2.1 .5-.6 .5-.9 .5 2 .5-2.7 .5-.1 .5 4.1 .5-3.5 .5-.7 .5 .2 .5 0 .5-.3 .5 .7 .5-1 .5 .5 .5 .3 .5 1.6 .5-.5 .5-1.1 .5 4 .5-2.8 .5 .5 .5 .5 .5-1 .5 1 .5 1.6 .5 0 .5-2.8 .5-.4 .5 .3 .5 .5 .5-.7 .5-.4 .5-.5 .5-.8 .5 .6 .5 2.8 .5-.2 .5-1.2 .5-.6 .5 1.4 .5-.5 .5-.6 .5-.3 .5 .3 .5 .9 .5-1.1 .5-.2 .5-.3 .5-.5 .5 .4 .5 .3 .5 .1 .5-.9 .5 1 .5 0 .5-.2 .5-.7 .5 3.2 .5-3 .5 .5 .5-.4 .5 .6 .5-.5 .5 1.1 .5-.2 .5-.6 .5 1.1 .5-1.3 .5 1.5 .5-1.2 .5 5.7 .5-4.9 .5 .2 .5-.5 .5 .4 .5 .9 .5-1 .5 1.9 .5-1.4 .5-1.6 .5-.1 .5-.1 .5-.2 .5 .2 .5 .6 .5-.6 .5 4.4 .5-3.7 .5 1.7 .5-2.1 .5-.4 .5-.1 .5 .5 .5-.4 .5 .4 .5-.4 .5 .4 .5-.5 .5 .4 .5-.2 .5 .9 .5 2.6 .5-1.3 .5-1.7 .5 .6 .5 1.7 .5-1.5 .5-.5 .5 .5 .5 1.8 .5-2.9 .5 .1 .5 0 .5 .7 .5-1 .5 2 .5-2.4 .5-.1 .5 1.4 .5-1.1 .5 .4 .5 .1 .5 2.1 .5-1.9 .5-.3 .5 .3 .5 1 .5-.5 .5-1 .5 .5 .5 2.9 .5-2.7 .5-.6 .5 .8 .5-.9 .5 .4 .5 .9 .5-.8 .5 0 .5 .1 .5-.1V124H23z"/>
<path fill="#A028B4" d="M74.2 86L74.6 100 74.9 111 75.2 98 75.6 86z"/><path fill="#1CBEF5" d="M74.0 84L74.4 97 74.7 84z"/><path fill="#FF5F10" opacity=".7" d="M79.9 86L80.2 110 80.5 86z"/><path fill="#CD0F2D" opacity=".7" d="M75.6 86L75.9 104 76.3 86z"/>
</g>
<g stroke="#262626" stroke-width="0.5" fill="none" opacity="0.45">
<rect x="22.3" y="10.8" width="146.3" height="113.6"/>
<path d="M22.3 124.4v-1.3M22.3 10.8v1.3M58.9 124.4v-1.3M58.9 10.8v1.3M95.4 124.4v-1.3M95.4 10.8v1.3M132 124.4v-1.3M132 10.8v1.3M168.6 124.4v-1.3M168.6 10.8v1.3M22.3 10.8h1.3M168.6 10.8h-1.3M22.3 27h1.3M168.6 27h-1.3M22.3 43.3h1.3M168.6 43.3h-1.3M22.3 59.5h1.3M168.6 59.5h-1.3M22.3 75.7h1.3M168.6 75.7h-1.3M22.3 91.9h1.3M168.6 91.9h-1.3M22.3 108.2h1.3M168.6 108.2h-1.3M22.3 124.4h1.3M168.6 124.4h-1.3"/>
</g>
<g fill="#262626" stroke="#262626" stroke-width="0.1">
<text x="95.5" y="8.2" font-size="8" text-anchor="middle" fill="#000" stroke="#000" stroke-width="0.12">LieDown</text>
<g font-size="4.2">
<text x="22.3" y="131.3" text-anchor="middle">0</text>
<text x="58.9" y="131.3" text-anchor="middle">0.5</text>
<text x="95.4" y="131.3" text-anchor="middle">1</text>
<text x="132" y="131.3" text-anchor="middle">1.5</text>
<text x="168.6" y="131.3" text-anchor="middle">2</text>
<text x="20" y="12.4" text-anchor="end">1000</text>
<text x="20" y="28.6" text-anchor="end">800</text>
<text x="20" y="44.8" text-anchor="end">600</text>
<text x="20" y="61" text-anchor="end">400</text>
<text x="20" y="77.3" text-anchor="end">200</text>
<text x="20" y="93.5" text-anchor="end">0</text>
<text x="20" y="109.7" text-anchor="end">-200</text>
<text x="20" y="126" text-anchor="end">-400</text>
</g>
<g font-size="4.4">
<text x="95.5" y="137" text-anchor="middle">Sample</text>
<text transform="translate(7.6 67.6) rotate(-90)" text-anchor="middle">Amplitude</text>
<text x="158.2" y="138.6" font-size="4.6">×10<tspan dy="-1.8" font-size="3.4">4</tspan></text>
</g>
</g>
<g filter="url(#bl)">
<rect x="211" y="12" width="44" height="112" fill="#0573D7"/>
<path fill="#FFB40A" d="M211 19.5l.5-.1 .5 .4 .5-.1 .5-.3 .5-1.8 .5-1.5 .5 1.4 .5-.1 .5-.1 .5 1.9 .5-.7 .5 .5 .5 .7 .5-1 .5 .1 .5 .1 .5-.8 .5 .1 .5-1.4 .5 1.9 .5-1 .5 .1 .5-.5 .5 0 .5 .3 .5 .7 .5-1 .5 1 .5-.1 .5-.2 .5 .3 .5-.4 .5-.1 .5 .7 .5-1.2 .5 1.4 .5-1.9 .5 1.1 .5-.3 .5-1.5 .5-.7 .5 1.4 .5-1.6 .5 1.5 .5-.4 .5 1.6 .5 1.9 .5-1 .5-2.8 .5 0 .5 .9 .5-.2 .5-1.3 .5 .9 .5 1.9 .5-.4 .5 .3 .5 .3 .5 .5 .5 .2 .5-1.1 .5-1.3 .5-.7 .5-1.2 .5 3 .5-.6 .5 1.5 .5 0 .5 0 .5-1 .5-.4 .5 1.9 .5 .4 .5 .7 .5-2.6 .5 .9 .5 0 .5-.2 .5-.5 .5 .6 .5-.8 .5-1.6 .5 0 .5-.9 .5-1.4 .5 2 .5 0 .5 2.5V124H211z"/>
<path fill="#1CBEF5" d="M211 20.1l.5-1.1 .5 1.2 .5 0 .5 .7 .5-1.5 .5-.6 .5-2.3 .5 1.5 .5-.1 .5 2.4 .5-1.6 .5 1.5 .5-1.5 .5 .7 .5-.2 .5 1.4 .5-1.1 .5-.4 .5-1.2 .5 .1 .5 .3 .5 .2 .5 .3 .5-.4 .5 0 .5 2 .5-1.9 .5 0 .5 .3 .5-.5 .5 .9 .5 .5 .5-1.5 .5 0 .5 0 .5-.7 .5-.8 .5 1.9 .5-2 .5 1.2 .5-.7 .5 .4 .5-.7 .5 .3 .5 1.3 .5 .7 .5 .8 .5 .1 .5-2 .5-.7 .5 .7 .5-1.5 .5 .8 .5 .5 .5 .6 .5-.2 .5 .4 .5 1.1 .5 .1 .5-1.8 .5 .4 .5 1.8 .5-2.8 .5 1.2 .5 .2 .5 .9 .5 .2 .5 0 .5 .4 .5-1.6 .5-.2 .5 .1 .5 .7 .5 .2 .5 1.9 .5-2.1 .5 .3 .5 .1 .5-2.1 .5 .6 .5 .4 .5-1.3 .5-.5 .5-.4 .5-.7 .5 .7 .5 .7 .5 3.3V124H211z"/>
<path fill="#6EB928" d="M211 26.6l.5-1 .5 .4 .5 .8 .5 2.3 .5-5 .5 1.8 .5-.8 .5-1.1 .5 .7 .5-.3 .5 .7 .5 .6 .5 1.3 .5-.4 .5-.7 .5 .4 .5 .1 .5-1 .5 0 .5 .7 .5-1.8 .5 .8 .5 .2 .5-1.3 .5 1.6 .5 1.2 .5-.9 .5 .8 .5-1.4 .5 .8 .5-.7 .5 .5 .5-1.4 .5 .2 .5-.1 .5 .7 .5-.9 .5 1.6 .5 0 .5-.8 .5-1 .5-.1 .5-.8 .5 1 .5 .5 .5 1.8 .5 .3 .5-1.6 .5-.1 .5-2.7 .5 2.1 .5-.4 .5-.4 .5-.4 .5 1.3 .5-.5 .5 .6 .5 1.3 .5 .2 .5-1.2 .5 0 .5-.8 .5 .3 .5 .9 .5-1.5 .5 1.6 .5 .3 .5-1 .5-1.6 .5-1.7 .5 3 .5-1.8 .5 2.1 .5 .5 .5-1.1 .5 .6 .5 .3 .5 .5 .5 .5 .5-1.6 .5 .3 .5-.4 .5-1.1 .5-1.6 .5 .5 .5 6.6 .5-2.1 .5-.5V124H211z"/>
<path fill="#CD0F2D" d="M211 29.8l.5-.6 .5-.2 .5 .2 .5 .5 .5-1.4 .5 .8 .5-.3 .5-.9 .5 .3 .5-1 .5 1.4 .5 .9 .5 .1 .5-.2 .5 0 .5 .2 .5-2.4 .5 2.2 .5 .6 .5-1.8 .5-1.2 .5 1.1 .5 1.1 .5-.8 .5 .6 .5 .7 .5 .8 .5-1.3 .5-1.4 .5 1.4 .5 .6 .5-1.1 .5-1.5 .5-.2 .5 .2 .5 .7 .5 0 .5 .9 .5 .2 .5-.8 .5-1.3 .5 .7 .5-1.5 .5 1.1 .5 .5 .5 1 .5 1.1 .5-.3 .5-1.2 .5-2.1 .5 1.5 .5-.4 .5-.7 .5 1.1 .5 .3 .5-.2 .5 .1 .5 .5 .5 .4 .5-.9 .5 .2 .5 0 .5-1.1 .5 .1 .5 1.2 .5-.4 .5 .9 .5-.6 .5-.9 .5-.4 .5 1.5 .5-.8 .5 2.3 .5-2.3 .5 .2 .5-.1 .5 1.5 .5-.6 .5 1.8 .5-2.2 .5 0 .5 .4 .5-1.9 .5 .4 .5-1.7 .5 4.9 .5-.1 .5 .8V124H211z"/>
<path fill="#FFFFFF" d="M211 35.4l.5 0 .5-2.6 .5 2.5 .5 .3 .5-3 .5 1.9 .5-1.5 .5 .1 .5 .4 .5 1.9 .5 1.1 .5 .6 .5-1.9 .5-1.2 .5-.1 .5 2 .5-.7 .5-.3 .5 .2 .5-1.7 .5 .8 .5-.5 .5 .1 .5 .9 .5-.4 .5 1.1 .5 .6 .5-2.2 .5 .6 .5-.8 .5 .2 .5 2.1 .5 .7 .5-.9 .5-1.7 .5 .8 .5-.6 .5-.2 .5-1 .5-3.4 .5 3.5 .5 .1 .5-.7 .5 .3 .5 .6 .5 .9 .5 .5 .5 .3 .5-2.6 .5-.7 .5 1.5 .5-1.1 .5-.9 .5-.1 .5 2.5 .5-2.1 .5 2.6 .5-.9 .5 2.1 .5-2 .5 1.7 .5-2.9 .5-1.6 .5 2.5 .5 1.3 .5-1.3 .5 .4 .5 0 .5-1.7 .5 0 .5 .3 .5-.4 .5-.6 .5 3.1 .5-3 .5 4.7 .5-1.3 .5-.1 .5 2.4 .5-5.7 .5 1.2 .5-.1 .5-.5 .5 1.7 .5-4.3 .5 10.6 .5-4 .5 3V124H211z"/>
<path fill="#FF5F10" d="M211 40.4l.5-.2 .5 1.4 .5 0 .5-1.9 .5-1 .5 .9 .5 .2 .5-5.2 .5 5.3 .5 1.2 .5 .8 .5-2.2 .5 .3 .5 1.2 .5-1 .5-.4 .5-2.8 .5 1.7 .5 1 .5-.4 .5-1.6 .5 2.7 .5-1.4 .5 0 .5 .2 .5 .6 .5-.7 .5 1.3 .5-1.4 .5 0 .5 .2 .5 2.3 .5-2.4 .5-1.7 .5 1.1 .5 .4 .5-3.9 .5 6.3 .5-.6 .5-3.4 .5 .4 .5-.5 .5-.8 .5 1 .5-1.1 .5 3 .5 .3 .5 .7 .5-.9 .5-2.4 .5 .7 .5-1.6 .5 1.3 .5 .7 .5 1 .5-2 .5-.9 .5 4.4 .5-.9 .5-2.5 .5 1.4 .5-2.7 .5 .8 .5 .5 .5 1.2 .5-1.9 .5 2.8 .5-.1 .5 .3 .5-2.7 .5-1.3 .5 3.3 .5-2.3 .5 .1 .5 .2 .5-2.1 .5 3.6 .5 .9 .5-.4 .5-2.3 .5-2.7 .5 1 .5 2.9 .5-4.3 .5 0 .5 7.2 .5-3.4 .5 .4V124H211z"/>
<path fill="#FFB40A" d="M211 47.9l.5-1.8 .5 .6 .5 1.2 .5-.2 .5-3 .5 1 .5 .2 .5 .3 .5-.7 .5 1.4 .5-.5 .5 .3 .5 .6 .5-2.6 .5 1.8 .5 .9 .5-1.6 .5 .2 .5 .1 .5-1.5 .5 .4 .5-.1 .5 1.8 .5-1.6 .5 .7 .5 1.7 .5-1.3 .5-.3 .5-.9 .5 1.2 .5-.4 .5-.7 .5-.1 .5 .9 .5-.9 .5-.3 .5-.1 .5 .9 .5 .9 .5-1.4 .5-2.5 .5 1 .5-.5 .5 2.5 .5-1 .5 .7 .5 2.7 .5-2 .5-.7 .5-.7 .5 1 .5-2.4 .5 .5 .5 .4 .5 1.2 .5-.7 .5-.2 .5 1.4 .5-.4 .5 .1 .5-1.1 .5-.3 .5-1.5 .5 .8 .5 .7 .5-.1 .5 .4 .5-1.4 .5 0 .5-.9 .5-1 .5 .4 .5 1.6 .5-2.3 .5 1.3 .5-.1 .5 .8 .5 2.8 .5 .3 .5-2.9 .5-4 .5 1.6 .5-2.7 .5-.3 .5 0 .5 6.3 .5-1.9 .5-.6V124H211z"/>
<path fill="#0573D7" d="M211 53.5l.5 1.7 .5-2.4 .5 1.1 .5 .1 .5-.7 .5-1.2 .5-.6 .5 .6 .5-.5 .5 1.5 .5-.4 .5 1 .5 .4 .5-.8 .5-2.7 .5 3.2 .5-2.5 .5 1.5 .5-3.8 .5 2.9 .5-1 .5-.9 .5 2 .5-.3 .5-.4 .5 2.1 .5-1.3 .5 0 .5 .8 .5-1 .5-.5 .5 1.9 .5-2.4 .5 .9 .5-.9 .5 1.2 .5-1.5 .5 1.3 .5 0 .5-.7 .5-.9 .5 .2 .5-1.4 .5 2.4 .5 0 .5-.3 .5 1 .5 .3 .5-.8 .5-2.1 .5 1 .5-.3 .5-.9 .5 1.4 .5 .7 .5-1.3 .5 .9 .5 1.2 .5 1.3 .5-2.7 .5-.4 .5 .5 .5-3.1 .5 2 .5-.3 .5-.2 .5 2.3 .5-3.1 .5-1.1 .5-.6 .5 .3 .5 0 .5-.5 .5 .1 .5-.1 .5-.3 .5 2.1 .5 3 .5 1.4 .5-5.5 .5-1.6 .5-1.2 .5-.3 .5-1.3 .5 .6 .5 8.5 .5-2.5 .5-.6V124H211z"/>
<path fill="#1CBEF5" d="M211 56.5l.5-2.5 .5 2.5 .5 0 .5 .2 .5-1.9 .5-.9 .5 .6 .5-1.4 .5 1.4 .5 1.7 .5-.7 .5 .9 .5-.4 .5-1.7 .5 1.2 .5-.2 .5-.3 .5-.5 .5-.2 .5 .1 .5-.9 .5 1.2 .5 1.4 .5-2.2 .5 1.9 .5 0 .5-1 .5 1.6 .5-1.9 .5-.9 .5 .4 .5 .9 .5-.5 .5-.3 .5 .2 .5-1.7 .5 .5 .5 1.5 .5 .2 .5-.8 .5-1.4 .5 .3 .5 .1 .5 .7 .5-.3 .5 2.2 .5-1.3 .5 .8 .5-1 .5-1.1 .5 .8 .5-.7 .5 .9 .5-.7 .5 .3 .5 .3 .5 .2 .5 .4 .5-.7 .5 .6 .5 .9 .5-1.4 .5-2.6 .5 .6 .5 1.2 .5 1 .5-2.1 .5 .7 .5-1.9 .5-1.5 .5 .2 .5-2.4 .5 2.4 .5-.2 .5 .6 .5-1.8 .5 3.5 .5 3 .5 .5 .5-4.3 .5-3.7 .5 .2 .5-.6 .5 .3 .5-1.6 .5 10.6 .5-2.9 .5-3.7V124H211z"/>
<path fill="#A028B4" d="M211 60.2l.5-1.2 .5 0 .5 .9 .5 .4 .5-2.2 .5 .6 .5-.9 .5-1.4 .5 1.5 .5 3 .5-3.2 .5 2.5 .5-.7 .5-.2 .5-.6 .5 .8 .5-.9 .5 .1 .5-.8 .5-.6 .5-.4 .5-.1 .5 2.5 .5-1.5 .5 1.8 .5-1.4 .5 .2 .5-.6 .5-.8 .5 1.4 .5-.4 .5 .6 .5-1.1 .5-.6 .5 .8 .5-.3 .5-.8 .5 1.8 .5-.2 .5-.4 .5-.4 .5-.2 .5-1.6 .5 2.8 .5-1.1 .5 .7 .5 .7 .5 .1 .5-1.1 .5-3.1 .5 2.9 .5-1.3 .5 .4 .5 .7 .5 .4 .5-1.2 .5 1.1 .5 .9 .5 .4 .5-1.1 .5-.9 .5-.3 .5-2.4 .5 1.7 .5 1.5 .5-.8 .5-.6 .5-1.3 .5 .2 .5-1.5 .5-.9 .5 .5 .5 .6 .5-.8 .5 .5 .5-3.1 .5 6.3 .5 2.8 .5-.3 .5-3.9 .5-5.3 .5 .3 .5-.8 .5 .1 .5 .7 .5 10 .5-4.9 .5-.5V124H211z"/>
<path fill="#FF5F10" d="M211 62.3l.5-1.6 .5 1.9 .5-.4 .5-2 .5-.1 .5 1.2 .5 .3 .5-2.7 .5 1.3 .5-.4 .5 2.7 .5-4.2 .5 6 .5-2.8 .5 .4 .5 .1 .5-1 .5-.6 .5-.7 .5-.3 .5-1.7 .5 1.7 .5 .9 .5-.2 .5 .4 .5 .6 .5 1.2 .5-.7 .5-2 .5 1.2 .5 1.9 .5-2.4 .5 0 .5-.3 .5 .1 .5 0 .5-.4 .5 .4 .5 2 .5-2.1 .5-1.5 .5 .7 .5-.4 .5 2 .5-.9 .5 .5 .5 .7 .5 .2 .5-1.7 .5-.9 .5 2 .5-1.7 .5-1 .5-.8 .5 4.1 .5-1.8 .5 .9 .5 2.7 .5-.2 .5-2.8 .5 .7 .5-2.2 .5 .6 .5-1 .5-1.3 .5 2.1 .5-2 .5 4.7 .5-7.3 .5 1.9 .5-2 .5 1.2 .5-.4 .5 1.1 .5-1.5 .5-.2 .5 5.1 .5 0 .5 3.3 .5-6.8 .5-1.8 .5 .7 .5-2.2 .5 2 .5-.8 .5 11.2 .5-.5 .5-4.6V124H211z"/>
<path fill="#FFB40A" d="M211 64l.5-.4 .5 1.6 .5 2.4 .5-2.9 .5-1.8 .5 .7 .5 .4 .5-5.2 .5 4.5 .5 3 .5-3 .5 .7 .5 2.5 .5-2.7 .5-.2 .5 1.6 .5-1.8 .5-.1 .5-.8 .5 .2 .5-1.4 .5 1.8 .5-.6 .5 1.6 .5-1.1 .5 1.6 .5-1.8 .5 .6 .5-1.3 .5 1.3 .5-.2 .5-.6 .5-.2 .5 1.4 .5-2.3 .5 1 .5 .1 .5 .1 .5-2.2 .5 1.9 .5-1.1 .5 1.8 .5-1.8 .5 1.1 .5-.5 .5 2.3 .5 .6 .5-2.4 .5 .5 .5-.6 .5 .2 .5 1.2 .5-3 .5 1.4 .5 .5 .5-.6 .5 1.2 .5 .4 .5 .3 .5-.7 .5-.9 .5-2.5 .5-1.9 .5 3.1 .5 .1 .5-1.6 .5-.4 .5 .4 .5-1.8 .5 1.9 .5-2.8 .5 2.6 .5-1.4 .5-.8 .5 .4 .5-1.1 .5 3.1 .5 4.3 .5-.5 .5-5.4 .5-.3 .5-.5 .5-.3 .5-2.1 .5 2.2 .5 12.5 .5-4 .5-2.4V124H211z"/>
<rect x="255" y="16" width="98" height="108" fill="#6EB928"/>
<path fill="#0573D7" d="M255 18.4l.5 1.5 .5 .3 .5 .6 .5 1.8 .5-1.4 .5 2.3 .5-.8 .5 .2 .5-.1 .5-.2 .5 .3 .5 1.5 .5-1.4 .5 1 .5-3 .5 1.9 .5 .1 .5-.3 .5-.6 .5 1.3 .5-.1 .5-.4 .5-.5 .5 1.4 .5 .1 .5 .1 .5 .1 .5-1 .5 .4 .5-.1 .5-.3 .5-.2 .5 .2 .5 2.4 .5-2.8 .5-.2 .5 .3 .5 .1 .5-.5 .5 .4 .5 .2 .5 .2 .5-1 .5 .7 .5-.4 .5 .9 .5-.7 .5 0 .5 0 .5-1.1 .5-.2 .5 1.2 .5-1.4 .5 2.2 .5-.7 .5-.6 .5 .4 .5-1.2 .5 1 .5 .8 .5-4.9 .5 5.2 .5-1.1 .5 .1 .5 1.2 .5-.3 .5-1 .5 1.5 .5-3.2 .5 1.5 .5-.3 .5 1.2 .5-2.6 .5 1.9 .5 .4 .5-.7 .5 1.2 .5 .7 .5-.2 .5-1.5 .5 .5 .5 1.4 .5-2.8 .5 1.2 .5-.7 .5 1.1 .5-.8 .5 .6 .5-1.9 .5 1.5 .5-.2 .5-.8 .5 .7 .5 .3 .5-.2 .5-.1 .5-.5 .5 .2 .5-.2 .5 1.2 .5-.1 .5-.9 .5 .2 .5-.3 .5 .7 .5-.9 .5 2 .5-1.4 .5-1.8 .5 1.8 .5 1.2 .5-1.6 .5 .2 .5 1.7 .5-1.3 .5-.8 .5-.4 .5 .8 .5-.1 .5 1 .5-.6 .5 1 .5 1 .5-1.1 .5-.8 .5-.2 .5 .3 .5 .1 .5 .4 .5-.2 .5-.5 .5 .4 .5-.3 .5 .6 .5-2.1 .5 2.1 .5 0 .5-1.1 .5 .2 .5 0 .5 .5 .5 .8 .5 .7 .5-1.6 .5-.7 .5 2.3 .5-.3 .5-2.5 .5 1.3 .5 .1 .5 .2 .5-.1 .5-2.6 .5 2.2 .5 .2 .5-.1 .5-.9 .5 .4 .5-.2 .5-.5 .5 1.1 .5-.6 .5 .6 .5-.6 .5 .8 .5-1.3 .5 1.1 .5-.4 .5-.7 .5 .5 .5-.1 .5 .3 .5 .6 .5-1.8 .5 1.2 .5 1 .5-1.1 .5 1.6 .5-1 .5-1.4 .5 1.8 .5-.6 .5 3.2 .5-2.2 .5-.2 .5 .1 .5-1.5 .5-.8 .5 1.3 .5 .1 .5-.1 .5 .4 .5 .3 .5-.4 .5 .6 .5-.7V124H255z"/>
<path fill="#FFB40A" d="M255 19.6l.5-.6 .5-.2 .5 2.2 .5 1.5 .5-.3 .5 0 .5 .2 .5 .1 .5 1.1 .5-.7 .5 1 .5 .4 .5-.6 .5 .7 .5-1.3 .5-.4 .5 .1 .5-1.3 .5 3 .5-1.5 .5 .6 .5-.3 .5 .5 .5 0 .5 .7 .5-.8 .5 .3 .5-.5 .5 .4 .5 .9 .5 .6 .5-3.3 .5 2.3 .5-.5 .5-1.1 .5 .4 .5 1.2 .5-1.1 .5 1.2 .5-.7 .5 2 .5-1.7 .5-.7 .5 .8 .5-.3 .5-.8 .5 1.4 .5 0 .5 .6 .5-1.4 .5 .2 .5-.6 .5 1.9 .5-.9 .5 0 .5-.2 .5 .5 .5-1 .5-.4 .5 2.8 .5-3.1 .5 1 .5 .6 .5-1.3 .5 1.1 .5 1.3 .5-.9 .5-.3 .5-1.9 .5 1.5 .5-.7 .5 1.1 .5-.3 .5 .6 .5 0 .5 .9 .5-.4 .5 1.1 .5-1.5 .5-.4 .5 .3 .5 .5 .5-.9 .5 .7 .5-.4 .5-.7 .5-.2 .5-.4 .5 .9 .5 .5 .5-.6 .5 1.5 .5-3.1 .5 2.1 .5-.9 .5 3.2 .5-3.7 .5 1.7 .5-1.2 .5 .1 .5-.9 .5 .7 .5 .4 .5 1.1 .5 .8 .5-2.5 .5 .9 .5-1.4 .5 .8 .5 1 .5-.4 .5 .6 .5 .2 .5-1.5 .5 .6 .5 .1 .5-.1 .5 .1 .5-.1 .5 .1 .5-.1 .5 .3 .5 .8 .5-.8 .5 .1 .5-.2 .5 .8 .5-1.1 .5 .4 .5 .3 .5-.3 .5 .6 .5-.4 .5-.8 .5 .7 .5-.7 .5 .9 .5-.3 .5-.1 .5 .6 .5 .5 .5-.5 .5 .2 .5 .1 .5 .3 .5-1.5 .5 1.3 .5-1.7 .5 .5 .5 .9 .5-.9 .5 1.7 .5-.2 .5-5.3 .5 4.7 .5 .3 .5-.8 .5-.1 .5 .1 .5 .1 .5-.1 .5 0 .5 1.2 .5-2.3 .5 .4 .5-2 .5 1.2 .5 .4 .5 1.3 .5-1 .5 .4 .5-.3 .5 2.6 .5-2.3 .5 .4 .5 .1 .5-.2 .5-.4 .5 .6 .5-.5 .5-1.1 .5 2.5 .5-1.1 .5-1.8 .5 2 .5 0 .5 .4 .5-.7 .5-.5 .5 .8 .5-.3 .5 1 .5-1 .5-.6 .5 0 .5 .3V124H255z"/>
<path fill="#1CBEF5" d="M255 19.5l.5 1.3 .5 .3 .5 2.2 .5-1.2 .5 2 .5-.7 .5 .3 .5 1.1 .5-.9 .5 .9 .5-1 .5-.3 .5 .5 .5 0 .5-1.4 .5 .3 .5 1.8 .5-.7 .5 .5 .5-1 .5 2 .5-1.7 .5-.1 .5 .5 .5 .3 .5-.9 .5 1.8 .5 0 .5-1.1 .5 .6 .5 .4 .5-.9 .5 .1 .5-.6 .5 .4 .5-.1 .5 .7 .5-1 .5-.9 .5 2.3 .5-1.1 .5 .7 .5 .2 .5-.5 .5 1.1 .5-1 .5-.4 .5-.8 .5 1.9 .5-1.4 .5 1.5 .5-.9 .5 1.2 .5-1.9 .5 1.8 .5 .7 .5-1.2 .5-1.1 .5 3.5 .5-2.2 .5-.6 .5 1.9 .5-2.1 .5 .2 .5-1 .5 2.2 .5-.5 .5-1 .5 .8 .5 .6 .5-1.6 .5 1.5 .5-1 .5 1.1 .5 0 .5 0 .5-1.5 .5 2.3 .5-.6 .5 .3 .5-.9 .5 1.9 .5-3.5 .5 1.2 .5 .5 .5-1 .5 .3 .5 .3 .5 .5 .5 .5 .5-.9 .5 .4 .5-1.9 .5 2.3 .5-.5 .5 .4 .5-1.3 .5 .4 .5 .2 .5-1.6 .5 2.1 .5-.4 .5 .3 .5-1.1 .5 1.4 .5-.5 .5-.8 .5 0 .5 1.6 .5-.7 .5-.5 .5-.1 .5 .6 .5-.9 .5-.1 .5 .5 .5 .6 .5-.2 .5 .9 .5-1.4 .5 .2 .5 .2 .5 .1 .5-.1 .5 .8 .5-.9 .5 .2 .5 0 .5 2.6 .5-2.8 .5 .7 .5-.6 .5 .8 .5-.5 .5-1.4 .5 1.4 .5 .1 .5-.4 .5 0 .5-2.6 .5 3.3 .5-.3 .5 .2 .5-.4 .5 0 .5 .1 .5 0 .5 .6 .5-.9 .5-.3 .5-.1 .5 .5 .5 .3 .5 .2 .5 .3 .5-.6 .5-1 .5 .8 .5-.1 .5-.4 .5 .7 .5 .2 .5-1.5 .5 1.1 .5-.9 .5 1.1 .5-.4 .5-1.3 .5 1.1 .5-.3 .5-.1 .5 .8 .5 .1 .5 1.2 .5 0 .5-.2 .5-.7 .5 1.1 .5-2 .5 1.2 .5-.6 .5 1 .5-2.3 .5 1.5 .5-1.2 .5 .9 .5 .6 .5-1 .5 .8 .5-.2 .5-.5 .5 .6 .5-.1 .5-1.7 .5 1.6 .5 .2V124H255z"/>
<path fill="#6EB928" d="M255 28.3l.5 .9 .5-.9 .5 .8 .5 .4 .5-.7 .5 2 .5-.5 .5 .1 .5 .3 .5 0 .5-.1 .5 1 .5-1.5 .5 1.1 .5-.6 .5 1.3 .5 0 .5-.7 .5 .8 .5-.4 .5-.2 .5 .3 .5 .8 .5-1.3 .5 1.1 .5-.9 .5 .6 .5-.2 .5 .4 .5 0 .5 .5 .5-.4 .5-1.7 .5 .3 .5-.6 .5 1.6 .5-.5 .5 1.8 .5-2.1 .5 1.8 .5-.7 .5 .2 .5-.3 .5 .6 .5-1.3 .5 1.3 .5-.1 .5-.9 .5 .1 .5-.7 .5 .7 .5 0 .5-.2 .5-1 .5 2.6 .5-.9 .5-.5 .5 0 .5 .2 .5 1.2 .5-.9 .5 .2 .5 .4 .5-1.2 .5 .9 .5 1.2 .5-.7 .5 .2 .5-1.7 .5 .9 .5-.8 .5 1.5 .5-.5 .5-.1 .5 .5 .5 0 .5 1.2 .5-.8 .5-1.4 .5 .9 .5-1.8 .5 .7 .5 .6 .5-.1 .5-1.1 .5 .7 .5-.2 .5 0 .5 .4 .5-1.2 .5 0 .5 .9 .5 .7 .5 .6 .5-.6 .5-1.5 .5 1.4 .5-.1 .5 0 .5 0 .5-.6 .5 .1 .5 .1 .5-1.3 .5 1.8 .5-.5 .5 1.4 .5-.9 .5 .5 .5-1.9 .5 1.4 .5 0 .5-.4 .5-.3 .5 .2 .5-.2 .5-.1 .5 .2 .5 .4 .5 .6 .5-1 .5 1.2 .5-1.7 .5 1.4 .5-.5 .5 .1 .5-.2 .5-.8 .5 .5 .5 2.3 .5-1.8 .5 1.2 .5-1 .5 .8 .5-.8 .5 1.9 .5-1.8 .5-.5 .5-.3 .5-.5 .5 .4 .5 1 .5-.3 .5 .5 .5-.9 .5 1.4 .5-1.5 .5-.1 .5 .3 .5 0 .5 .4 .5 .3 .5-1.4 .5 .8 .5-.7 .5 1.1 .5-1 .5 .6 .5 .7 .5-.8 .5-.6 .5 .3 .5 1.6 .5-2.1 .5 1.4 .5-1.5 .5 .1 .5 .8 .5-.2 .5-.3 .5 .4 .5-.7 .5 1.7 .5-.5 .5 1.1 .5-.9 .5 0 .5 .7 .5-.7 .5-1.2 .5 1 .5-.2 .5 .3 .5 2.5 .5-2.7 .5 .6 .5-.6 .5-2 .5 .7 .5-.5 .5 1.2 .5 .2 .5 .1 .5 0 .5 .2 .5 .2V124H255z"/>
<path fill="#CD0F2D" d="M255 31.7l.5 .9 .5-.2 .5 0 .5 .3 .5-.4 .5-.5 .5 2.6 .5-1.4 .5 1.2 .5-.6 .5-.9 .5 1.7 .5-.3 .5 2.5 .5-2.6 .5 .8 .5-1.1 .5-.3 .5 .5 .5 .4 .5 .5 .5-.1 .5 .7 .5-.9 .5 .2 .5 .1 .5 1.1 .5-1.3 .5-.9 .5 1.1 .5 .1 .5 .2 .5 .5 .5-1.1 .5 .4 .5 0 .5 0 .5-.3 .5 .9 .5-.3 .5-2.6 .5 1.5 .5 2.8 .5-2 .5-.9 .5 1.7 .5-1.9 .5 .6 .5-.1 .5-.3 .5 .2 .5-.5 .5 .8 .5-.6 .5 1.1 .5-.6 .5 .8 .5 .4 .5-.1 .5-.4 .5 .4 .5-1.4 .5 2.6 .5-1.3 .5 0 .5 .5 .5-1 .5 .2 .5-.8 .5 1.5 .5-1 .5-.2 .5 1.9 .5-.9 .5 .5 .5 .3 .5-.1 .5-.1 .5-.7 .5-.9 .5 1.2 .5-1.3 .5 .6 .5 .9 .5 0 .5-.5 .5-1.1 .5 1.6 .5-1.6 .5 1.7 .5-.6 .5 1.1 .5 .2 .5-1.8 .5-.2 .5 1 .5-1.2 .5-.1 .5 .2 .5-.5 .5 .6 .5-.7 .5 .7 .5 .9 .5 .5 .5 .2 .5-1.1 .5 .1 .5-.2 .5 .9 .5-1.8 .5 0 .5-.1 .5 .6 .5-1.1 .5 1.1 .5-.8 .5 1.2 .5-.2 .5 .2 .5 .1 .5 .3 .5-.3 .5 .1 .5-.4 .5 .2 .5-.9 .5 2.1 .5-.2 .5-2.1 .5-.7 .5 1.7 .5 .3 .5 0 .5-.1 .5 .1 .5 .1 .5-.3 .5-1.3 .5 1.4 .5-.8 .5 1.5 .5-.6 .5-.4 .5 .5 .5 .6 .5-1.4 .5 .2 .5 1.8 .5-.8 .5-.5 .5-.3 .5 .7 .5-1.2 .5 .2 .5 .4 .5 .1 .5-.1 .5 .3 .5 .5 .5-.9 .5-.3 .5 1 .5-1.1 .5 .9 .5-.5 .5 .3 .5-.6 .5-.9 .5 1.1 .5-.3 .5-.4 .5 .1 .5 .6 .5-.3 .5 .2 .5 1.2 .5 .8 .5 .9 .5-2.5 .5 0 .5-.9 .5 .2 .5 1 .5-.4 .5 .2 .5 .5 .5-.2 .5-.3 .5-2.2 .5 2 .5 .6 .5 0 .5 .2 .5-1.1 .5 .1V124H255z"/>
<path fill="#FFB40A" d="M255 37.3l.5 2 .5 .1 .5 1 .5 .1 .5-1.4 .5 .9 .5 .7 .5 .5 .5-1 .5 1.2 .5-.1 .5 .7 .5-.8 .5 .2 .5-.9 .5 .8 .5 .3 .5-.3 .5 .3 .5 .8 .5-.5 .5-.5 .5 1.5 .5-.7 .5-.3 .5-.3 .5 .8 .5-.3 .5 .1 .5-.7 .5 .8 .5 .1 .5-.8 .5-.4 .5 1.8 .5 0 .5-2.3 .5 .9 .5-.3 .5-.1 .5 .5 .5 .2 .5-.4 .5-.1 .5 .8 .5-.4 .5-.6 .5-.6 .5 .5 .5 1 .5-.3 .5-1 .5 .6 .5-2.4 .5 3.3 .5 0 .5-1.4 .5 0 .5 0 .5-.2 .5 1 .5-.4 .5-2 .5 1.9 .5 .6 .5 .4 .5-2.3 .5 1.5 .5 0 .5-.2 .5 0 .5 .7 .5-.8 .5 1.3 .5-.5 .5-.8 .5 1.3 .5-.1 .5-.1 .5-.3 .5-.1 .5-.2 .5 .1 .5-.5 .5 .3 .5-.7 .5 .8 .5-.9 .5-.5 .5-.1 .5 1.4 .5-.4 .5 .2 .5-.4 .5 .3 .5 .5 .5 .3 .5-2.3 .5 2.3 .5-.9 .5 .3 .5 .6 .5-1.4 .5 .3 .5 1.3 .5-.9 .5 .7 .5-.2 .5 2.6 .5-2.7 .5-1.5 .5 1.7 .5-1.2 .5-.1 .5 .3 .5-.6 .5-.2 .5 1.2 .5 .7 .5-1.2 .5 .3 .5 .4 .5-.3 .5 .4 .5 .8 .5-1.8 .5 .8 .5-.5 .5 .9 .5-.9 .5 1.1 .5-.7 .5 1.3 .5-1.2 .5 .3 .5-1.1 .5 .9 .5-.1 .5 .8 .5-.7 .5 .6 .5 .1 .5-1.4 .5 .3 .5 1 .5-.2 .5-.4 .5-.4 .5 .3 .5-1.7 .5 1.3 .5 .3 .5-.4 .5 .4 .5 1 .5-.6 .5 0 .5-.3 .5 .9 .5-1.2 .5 .4 .5-.3 .5 1.3 .5-1.5 .5-.3 .5 .7 .5 .1 .5-.4 .5 .2 .5-.9 .5 .6 .5 0 .5 1.3 .5-.9 .5-.2 .5 .3 .5 .3 .5 1.8 .5-1.6 .5-.2 .5-.4 .5 .2 .5 .9 .5-1.2 .5-.7 .5 1.3 .5-.6 .5 0 .5 .2 .5 .4 .5-2.7 .5 2.4 .5-.8 .5 .4 .5 0 .5 0V124H255z"/>
<path fill="#0573D7" d="M255 48.3l.5 .3 .5 .9 .5-1.5 .5 .1 .5-.2 .5 .8 .5-.8 .5 1.9 .5-1 .5 1.4 .5-1.5 .5 .9 .5 0 .5 .2 .5 .3 .5-1.7 .5 1.2 .5-1.8 .5 1.5 .5 .8 .5-.5 .5 1 .5-.2 .5-.7 .5 0 .5-.2 .5-.7 .5 1.4 .5 .2 .5-1.6 .5 .9 .5 .4 .5-.6 .5-.5 .5 1.3 .5-1.2 .5-.3 .5 .4 .5-.4 .5 .1 .5 .3 .5-.9 .5 1 .5-.1 .5 0 .5-.5 .5-1.1 .5 1.2 .5-.4 .5 0 .5-.1 .5 0 .5-.1 .5 .3 .5 .3 .5-.8 .5 .2 .5 0 .5 .3 .5-.4 .5-.6 .5 .9 .5 .2 .5 2.6 .5-2.5 .5-1.1 .5 1.1 .5-1.4 .5 .6 .5-1.4 .5 1.4 .5-.2 .5 1.5 .5-1.1 .5 2.1 .5-.4 .5-.8 .5 .2 .5-.5 .5 .5 .5-1 .5-.1 .5-.9 .5 1 .5-.6 .5 1.3 .5-1 .5-.5 .5 .3 .5 0 .5-.4 .5-.3 .5 1.4 .5-1.2 .5 1.4 .5 .7 .5-.6 .5-1.5 .5 .9 .5-.1 .5 1 .5-1.5 .5 .5 .5 0 .5-.3 .5 .5 .5 .1 .5 .2 .5 .4 .5-2.1 .5 1.6 .5-.8 .5 .7 .5-1 .5 .4 .5-.2 .5 .3 .5 .3 .5 .3 .5-2.7 .5 2 .5 .8 .5-.6 .5 1.1 .5-.9 .5 .3 .5-1.3 .5 2 .5-1.6 .5 .5 .5 .2 .5-.3 .5 .5 .5 0 .5 .6 .5 .7 .5-.7 .5-.4 .5-.8 .5-.1 .5-1.2 .5 1 .5 1.4 .5-1.9 .5 1 .5 .2 .5-.5 .5 .1 .5 0 .5 .4 .5-.2 .5-1.3 .5 2.5 .5-.4 .5 .2 .5-1.2 .5 1.5 .5-.6 .5-.7 .5 0 .5 .6 .5-2.2 .5 1.9 .5 .4 .5 .1 .5 0 .5-1.1 .5-1.9 .5 1.7 .5-.1 .5 .4 .5 .3 .5 1.7 .5-1.7 .5 .1 .5-.6 .5 1.5 .5-.4 .5-.6 .5 .2 .5 0 .5 .7 .5-1.1 .5 .3 .5-.1 .5-.6 .5 .4 .5 0 .5 .2 .5 .1 .5 .3 .5 .6 .5-1.7 .5 2 .5-1.6 .5 .6V124H255z"/>
<path fill="#1CBEF5" d="M255 51.2l.5 .4 .5-.6 .5-2.2 .5 2.1 .5-1.8 .5 1.5 .5-.4 .5 .3 .5-.8 .5 .7 .5 .3 .5-.4 .5 .4 .5-.7 .5 .4 .5-.5 .5 .9 .5-1.8 .5 1.9 .5-2.6 .5 2.5 .5-1.4 .5 1.3 .5-1 .5 1.5 .5-.8 .5-.5 .5 1.6 .5-.6 .5 .6 .5-.4 .5-1.5 .5-.1 .5 .9 .5 .4 .5-1.1 .5 1.2 .5-2.1 .5 1.7 .5-.1 .5-.1 .5 0 .5-.1 .5 .2 .5-.2 .5-.4 .5-1.4 .5 1.6 .5-.5 .5-.5 .5 .7 .5-.3 .5 1.3 .5-.9 .5 .6 .5-2.4 .5 2.3 .5 .8 .5-.8 .5 .1 .5-.2 .5 0 .5 1.1 .5-1.3 .5 .4 .5 .7 .5-.9 .5-.1 .5-1.4 .5 1.4 .5-.8 .5 .6 .5-.2 .5 1.1 .5-.1 .5 2.5 .5-1.7 .5 .7 .5-1.1 .5-.7 .5 0 .5-.2 .5-.4 .5 .4 .5 .4 .5-.6 .5-.6 .5 .8 .5 1.2 .5-1.2 .5-.7 .5 .9 .5-.3 .5 .4 .5-.3 .5 .4 .5-2.6 .5 1.9 .5-.2 .5 .6 .5-.8 .5 .3 .5-.3 .5 .7 .5-.9 .5 .2 .5 1.6 .5-.7 .5-.5 .5 .2 .5-.2 .5-.5 .5-.1 .5 2.1 .5-2 .5 .5 .5 0 .5 .4 .5-.7 .5-.1 .5 .7 .5 2.3 .5-2.3 .5-.3 .5 .4 .5-.6 .5 .3 .5 .5 .5-.6 .5 .2 .5 .4 .5-.9 .5 .1 .5 2 .5-.5 .5-.2 .5-.3 .5-.4 .5-.8 .5 .3 .5-.1 .5 .7 .5 0 .5-.8 .5-.1 .5 .9 .5-.8 .5-1.5 .5 1.7 .5 1 .5-.1 .5-.4 .5-.4 .5 .5 .5-1.8 .5 1.3 .5 .3 .5-.9 .5 .9 .5 0 .5-1.2 .5 .4 .5 .8 .5 .6 .5-2 .5 1.1 .5-.4 .5 0 .5 1.1 .5-.7 .5-.5 .5 .4 .5 2.1 .5-.9 .5-.7 .5 .2 .5 0 .5-.4 .5 1.8 .5-2 .5 0 .5-.2 .5 1.7 .5-.3 .5-.8 .5 0 .5 .3 .5-.5 .5 .8 .5-.7 .5 .6 .5-.3 .5 0 .5-.4 .5 .2 .5 .2V124H255z"/>
<path fill="#6EB928" d="M255 54.6l.5-.5 .5-.6 .5-.5 .5 .8 .5-.5 .5-3.4 .5 3.9 .5 .4 .5 .2 .5 .3 .5-.4 .5-1.2 .5 .6 .5 .3 .5-.1 .5-.5 .5-1.3 .5 2.2 .5-.1 .5 .2 .5-.8 .5-.1 .5 1.2 .5-.4 .5 .3 .5-1.6 .5 .7 .5 1.1 .5 .3 .5-.8 .5 .6 .5-1.3 .5 .5 .5-.5 .5 .3 .5-.5 .5 .2 .5 .2 .5 0 .5-.5 .5 .8 .5-.5 .5 1.9 .5-1.9 .5-.6 .5 .6 .5 .3 .5-.5 .5 .3 .5-1.1 .5 .9 .5 .1 .5 1.5 .5-.7 .5-.6 .5-.5 .5-.4 .5 .7 .5 0 .5-.1 .5 .6 .5-.4 .5 .7 .5-.7 .5 0 .5 1.4 .5-1.1 .5 .9 .5-2.5 .5 1.9 .5-2.1 .5 1.9 .5-.4 .5-.4 .5 .7 .5 .4 .5 .2 .5 .1 .5-1.9 .5 3.8 .5-2.6 .5 .1 .5 .7 .5 .5 .5-2.2 .5 1.2 .5-.9 .5 .1 .5-.3 .5-.1 .5 .7 .5 .7 .5-1 .5 1.2 .5-.9 .5-2.1 .5 2.6 .5-1.8 .5 .2 .5 .7 .5 1.1 .5-1.9 .5 .5 .5-1 .5 .8 .5 .6 .5 .1 .5 0 .5-1 .5 1.1 .5-.3 .5 1 .5-1.2 .5 .4 .5-.3 .5 .2 .5-.3 .5 2.4 .5-2 .5-.3 .5 .1 .5 .9 .5-.7 .5 1.2 .5-1 .5 1 .5-1.7 .5 1 .5-.4 .5-.5 .5 .7 .5-1.3 .5 .8 .5 1.1 .5-.5 .5-.5 .5-.1 .5-.1 .5 .1 .5 .2 .5-1.3 .5 1.1 .5 .5 .5 .5 .5 .1 .5 .4 .5-1.5 .5-.6 .5 1.5 .5-.3 .5-.4 .5 .1 .5 1.1 .5-.3 .5 .6 .5-1.5 .5-.4 .5 .5 .5-.8 .5 .1 .5-.2 .5 .4 .5-.1 .5 .1 .5 .5 .5-.1 .5-1.8 .5 1.9 .5 0 .5 .6 .5-1.5 .5 .8 .5 .2 .5 .3 .5 .6 .5-1.6 .5 1.5 .5 .2 .5-.6 .5-.5 .5 .1 .5-.4 .5 .7 .5-.3 .5-.1 .5 .4 .5-.9 .5-.7 .5 .4 .5-.2 .5 1.4 .5-1 .5 .5 .5-.1 .5-.5 .5 1.4V124H255z"/>
<path fill="#FF5F10" d="M255 57.7l.5-1.6 .5-.2 .5 .2 .5 1.6 .5-1.9 .5-.2 .5-1.6 .5 2 .5 0 .5 .2 .5-.5 .5 1.3 .5-.7 .5-.3 .5-.3 .5-1.8 .5 2.5 .5-.7 .5 1.5 .5-1.2 .5-.1 .5 1.1 .5-.6 .5 3 .5-2.3 .5 1.4 .5-2.5 .5-.9 .5-.9 .5 3.9 .5-1.3 .5 .3 .5-.5 .5 1.8 .5-1.3 .5-.7 .5-.8 .5 .7 .5-.2 .5 0 .5 .9 .5 .5 .5-.1 .5-1.6 .5-.2 .5 1.3 .5 0 .5-.1 .5 .6 .5-1.7 .5-1 .5 1.3 .5-.1 .5-.8 .5 1.7 .5-.6 .5 .3 .5 .6 .5-.8 .5 1 .5-.1 .5-.8 .5 .4 .5-.2 .5-.2 .5 1 .5-.6 .5-.7 .5 .4 .5-.4 .5-1.2 .5 2.1 .5-.7 .5 1.9 .5 0 .5-2.2 .5 .7 .5 1.1 .5-1.5 .5 1.5 .5-.6 .5 1.1 .5-2.1 .5 .6 .5-.3 .5 0 .5 1.4 .5-2.1 .5-.2 .5 1.5 .5-1.6 .5 .9 .5 1.3 .5-.6 .5-.5 .5-3.3 .5 5.2 .5-2.7 .5-.4 .5-.9 .5 .6 .5-1 .5 2.1 .5-.4 .5 .2 .5 1.1 .5-2.3 .5 1.3 .5 1.1 .5 .1 .5-.7 .5-.5 .5-.8 .5 .7 .5 .5 .5-.1 .5-.4 .5 1.4 .5-1.2 .5 .9 .5 .4 .5-2 .5 0 .5 3.9 .5-3.3 .5 .2 .5 0 .5 1 .5-3.7 .5 2.7 .5 .2 .5-1.4 .5 1.4 .5 1.1 .5-2.6 .5 .9 .5 1.1 .5-.4 .5 .4 .5-.9 .5-.6 .5 .8 .5 1.2 .5-1.3 .5 .2 .5 .7 .5-.5 .5-1.4 .5 1 .5 1.6 .5-3.3 .5 2.5 .5-.8 .5 1 .5-1.3 .5 .7 .5 .8 .5-2.6 .5 3.4 .5-2.9 .5-1.7 .5 3.4 .5-.6 .5-2.2 .5 2.2 .5-.4 .5 3.5 .5-1.4 .5-1.2 .5-.9 .5 .7 .5-.2 .5-.6 .5 1.2 .5-.9 .5 .4 .5-1.2 .5 .5 .5 .8 .5 .6 .5-.1 .5-1.4 .5 .8 .5-.6 .5-.3 .5 .6 .5 .8 .5 .8 .5-2.8 .5 .9 .5 .9 .5-.5 .5-.1 .5 .5 .5-3.3 .5 4.4V124H255z"/>
<path fill="#A028B4" d="M255 59.9l.5 1.1 .5-.7 .5-.4 .5-1.1 .5 .2 .5-1.8 .5 1.8 .5 .1 .5-.7 .5 1 .5-.2 .5 .2 .5 .7 .5-1.2 .5 .6 .5-2.2 .5 2.4 .5 .1 .5-.1 .5 0 .5-.3 .5-.3 .5 1.3 .5-1.7 .5 1.5 .5-1.4 .5 1.9 .5-.6 .5 .2 .5-.9 .5 .4 .5 .3 .5-.5 .5 .3 .5-1.7 .5 1.1 .5-.9 .5 1.8 .5-.9 .5 .8 .5 .2 .5-2.4 .5 2.1 .5 .5 .5 .5 .5-2.5 .5-.1 .5 .9 .5 .6 .5-1.8 .5 5.3 .5-3.5 .5-3.1 .5 3.3 .5-.5 .5-.9 .5 1.2 .5-.1 .5-.1 .5-.7 .5 .1 .5-1 .5 1 .5 .6 .5 0 .5-.9 .5 2.1 .5-1.9 .5-.8 .5 .6 .5 .5 .5 .8 .5-1.8 .5 .9 .5-1.1 .5 2.3 .5 5.3 .5-4.2 .5-.1 .5 .4 .5-2.2 .5 .6 .5-.5 .5-.1 .5 .7 .5-.6 .5 0 .5-.7 .5 2.2 .5-1.1 .5-.1 .5 .3 .5 .7 .5-2.2 .5 .3 .5 2.6 .5-2 .5 .8 .5-1.6 .5 3.3 .5-2.8 .5 .7 .5 .7 .5-1.3 .5 .2 .5 0 .5-1.1 .5-.4 .5 3.4 .5-1.4 .5-2 .5 1.4 .5-.6 .5 1.4 .5-1.2 .5-2.6 .5 2.9 .5 3.5 .5-3 .5 1.5 .5-3.1 .5 .9 .5 1.2 .5-.6 .5-.8 .5 .4 .5-.1 .5 .8 .5 .2 .5-.2 .5 0 .5 .1 .5 1.1 .5-1.9 .5 .2 .5 2.7 .5-1.1 .5-1.1 .5 .3 .5-.5 .5-.4 .5 .4 .5-.5 .5-1 .5 1.1 .5 1 .5-1.7 .5-1.2 .5 1.5 .5 1.3 .5 .7 .5-1.8 .5 2.5 .5-1.9 .5 .5 .5-.5 .5-.3 .5 .9 .5 .4 .5-1.2 .5-.4 .5 1.8 .5-1 .5-.8 .5-.7 .5 .6 .5 0 .5 .7 .5-.3 .5-.4 .5 1.3 .5-1 .5 1.2 .5-2.4 .5 .2 .5 2.5 .5-.5 .5-.8 .5-.8 .5-.6 .5 1.1 .5 1.7 .5-2 .5 .1 .5 1.3 .5-1.5 .5 .5 .5 .7 .5 .4 .5 .7 .5-3.5 .5 1.6 .5 .5 .5-.9 .5 .9 .5-1V124H255z"/>
<path fill="#0573D7" d="M255 62.5l.5-.9 .5-.7 .5 .6 .5-.7 .5 .1 .5 .1 .5 .5 .5 .9 .5-1.3 .5-.9 .5 1.1 .5 .8 .5-.6 .5 .8 .5-.8 .5 .4 .5-.3 .5 .2 .5 .2 .5 .2 .5 .3 .5 0 .5-.1 .5-1.1 .5 2.1 .5-1.3 .5 .8 .5 .5 .5 1.2 .5-1.2 .5-1.3 .5 2 .5-2.6 .5-.4 .5 1.8 .5 .6 .5-.8 .5 .7 .5-.7 .5-1 .5 1.3 .5 .3 .5-.4 .5 .2 .5-.4 .5-.6 .5 1.3 .5-1.3 .5 0 .5-.4 .5 .8 .5 0 .5-.3 .5 0 .5 .7 .5-2.1 .5 2 .5-1 .5 .3 .5 0 .5 1.6 .5-.1 .5 1.5 .5-1.3 .5-.5 .5 .2 .5 0 .5-.2 .5 1.6 .5-2.2 .5 1 .5 .8 .5-.2 .5-.6 .5 .2 .5 2.5 .5-2.5 .5 .8 .5-1.8 .5 .5 .5 .3 .5-.1 .5-.8 .5 1 .5-.6 .5-.9 .5-.7 .5 1.1 .5 .8 .5 1.3 .5-1.3 .5-.8 .5 1.2 .5-1.5 .5 .5 .5 .2 .5-.5 .5-.1 .5 0 .5 1.2 .5-.8 .5-1 .5 .8 .5 .2 .5 .4 .5 1 .5-1.3 .5 .5 .5 .1 .5-.3 .5-.4 .5-.1 .5-.6 .5-.1 .5 0 .5-.2 .5-.3 .5 1.2 .5-.5 .5 2.2 .5-1.6 .5-2.2 .5 2.8 .5 .1 .5 .9 .5-1.7 .5 .2 .5 .5 .5-.1 .5-.1 .5 1 .5 1.4 .5-4.4 .5 2 .5 1.3 .5-3.1 .5 1.9 .5 .3 .5-1.4 .5 1 .5 1.1 .5-1 .5-2.4 .5 1.4 .5 .8 .5-1.8 .5 2.1 .5-.8 .5 .3 .5 .7 .5 .1 .5-.1 .5-.9 .5 .5 .5 .4 .5-.6 .5 .6 .5-.7 .5 1 .5-1.1 .5 .5 .5 .1 .5 1.6 .5-2.2 .5 .8 .5-.7 .5 0 .5-.7 .5 1.1 .5-1.7 .5 3 .5-1.8 .5 .4 .5-.5 .5 .8 .5-.7 .5 1.2 .5-.1 .5-1.1 .5 .8 .5-.3 .5-.2 .5 .3 .5-.1 .5-.2 .5 .3 .5 .5 .5 0 .5-.3 .5-1.3 .5 1.4 .5 .6 .5-1.2 .5 .5 .5-1.3 .5-.7V124H255z"/>
<path fill="#CD0F2D" d="M255 63.3l.5-.7 .5-.4 .5 .3 .5 1.3 .5-1.2 .5 2.4 .5-1.6 .5 .1 .5-1.4 .5 1.1 .5 2 .5-.3 .5 .2 .5 1 .5-.6 .5-.7 .5 .9 .5-.3 .5-.9 .5 1.5 .5-.8 .5 .9 .5 .1 .5 .4 .5-1.3 .5 1 .5-.4 .5 .8 .5-1.4 .5 1.6 .5 .5 .5-1.6 .5-.1 .5-.2 .5 .8 .5-1.7 .5 1.4 .5-.6 .5-.1 .5 .8 .5-1.2 .5 .2 .5 .8 .5 0 .5-.9 .5 .9 .5-.6 .5-1.6 .5 1.1 .5-.4 .5 .8 .5-.1 .5 0 .5 1 .5-.8 .5-.6 .5 1.7 .5-1.2 .5 1.1 .5-1.2 .5 .5 .5-.5 .5 1.8 .5-1.6 .5 1.3 .5-.9 .5 .2 .5-.5 .5 .1 .5-1 .5 3.6 .5-2.7 .5-1.2 .5 1.7 .5-1 .5 1.3 .5 .2 .5-.5 .5-.7 .5 0 .5 .7 .5-.1 .5 .5 .5-1.2 .5-.7 .5 .8 .5 .4 .5-.3 .5-.2 .5-.1 .5 .6 .5 .3 .5-1.2 .5 .7 .5 .1 .5 2 .5-2.7 .5-.1 .5-1.2 .5 .9 .5 .9 .5-.8 .5 1.3 .5-1.1 .5 1.1 .5-.8 .5 .5 .5-.4 .5-.2 .5 .1 .5-.2 .5-.6 .5 1.5 .5 .3 .5-.6 .5-3.1 .5 3.1 .5 .1 .5 .1 .5-.4 .5-.5 .5 .3 .5 .3 .5-.3 .5-1 .5 2.5 .5-1.3 .5 .2 .5-.9 .5 1.4 .5-.1 .5-1.8 .5 1 .5 .8 .5-1.3 .5-.7 .5 1.1 .5-.1 .5 1 .5-.1 .5-.1 .5-.4 .5 .8 .5-.6 .5-1 .5 .5 .5 .7 .5-.5 .5 0 .5 .3 .5-.2 .5 .2 .5-.6 .5 2.6 .5-1.2 .5-1 .5 1.7 .5-1.4 .5-.2 .5 .2 .5 0 .5 1.6 .5-1.4 .5-1 .5-.8 .5 2 .5-.7 .5-.4 .5 0 .5 1.2 .5-2.5 .5 .8 .5 .8 .5 3.1 .5-2.5 .5 0 .5-.2 .5-.3 .5-1.3 .5 .8 .5 .1 .5 .8 .5-.4 .5 1.7 .5-.7 .5-.7 .5-.4 .5 0 .5-1.3 .5 1.7 .5-.4 .5 1.2 .5-1.2 .5 .5 .5-.8 .5 .5V124H255z"/>
<path fill="#1CBEF5" d="M255 64.2l.5 .7 .5-1.3 .5-.5 .5-.8 .5 1.5 .5 1 .5 .1 .5 .8 .5-.2 .5 .4 .5 .4 .5-1 .5 1.8 .5-.2 .5-.4 .5-.1 .5 .2 .5 .8 .5-.1 .5 0 .5 .1 .5 1.5 .5-1.4 .5 .2 .5 .2 .5 .1 .5 .1 .5 .7 .5 1.1 .5-1.7 .5 .6 .5-1.6 .5 .6 .5 .4 .5-1.4 .5 3.9 .5-3.2 .5 .3 .5 .9 .5-.1 .5-1.2 .5 .5 .5 .3 .5-.4 .5 1 .5-1.4 .5 1.9 .5-1.7 .5 0 .5-.1 .5-.3 .5 .2 .5-.3 .5 .9 .5-.5 .5-.7 .5 1.6 .5-1.2 .5 1.4 .5-1.2 .5 .6 .5 .1 .5-.2 .5 1.1 .5-.6 .5 .6 .5-1 .5-1 .5 0 .5-.3 .5 .7 .5 1.6 .5-1.4 .5 .4 .5-.5 .5 .8 .5-.3 .5 .7 .5-.4 .5 1 .5-1.3 .5 .6 .5-2.1 .5 1.1 .5 .3 .5-.5 .5-.9 .5 .7 .5 .4 .5 1.3 .5-1.6 .5-.6 .5 1.2 .5-.3 .5-.3 .5-.1 .5-.1 .5 .3 .5 .4 .5-.7 .5 1.2 .5-1.1 .5 .2 .5-.4 .5-.2 .5 .3 .5 .1 .5 .3 .5 .3 .5 .6 .5-1.1 .5 .4 .5-.6 .5 .3 .5-1 .5 1.5 .5-1 .5 .7 .5-.1 .5-.1 .5-.3 .5 1.1 .5-.4 .5-.6 .5-.2 .5 .7 .5 .1 .5-.4 .5-.1 .5 .9 .5-.2 .5-1 .5 1.3 .5-1.5 .5 1.8 .5-.3 .5-.9 .5 2.5 .5-1.3 .5-1.4 .5 .9 .5-.3 .5-.5 .5-.1 .5 .2 .5 .6 .5-.1 .5 1 .5-1.5 .5 .4 .5 0 .5-.2 .5 .3 .5 .5 .5-.1 .5-1.4 .5 .5 .5 .4 .5 .2 .5 .4 .5-.9 .5 0 .5-1 .5 1 .5-.3 .5 .2 .5 0 .5-.9 .5-.3 .5 1.3 .5 0 .5 1.7 .5-1.5 .5-.9 .5 .1 .5 2.6 .5-1.1 .5-.8 .5 .3 .5-.6 .5 .9 .5 .1 .5 .5 .5-.9 .5-.4 .5 1.2 .5-.8 .5 .1 .5-.8 .5 .2 .5 .4 .5-.3 .5 .9 .5-1 .5 .9 .5-.7V124H255z"/>
<path fill="#FFB40A" d="M255 65l.5-.1 .5-.9 .5 0 .5 .8 .5-.1 .5 .7 .5 0 .5-.2 .5 1.2 .5 0 .5 .9 .5-1 .5 1.2 .5 .8 .5 .9 .5-1.7 .5 2.2 .5-1.4 .5-.4 .5-1.3 .5 2.8 .5-.6 .5 .3 .5-.3 .5-.4 .5 .8 .5 .4 .5-.6 .5 1.7 .5-.8 .5-2.3 .5 1.3 .5 1 .5-.7 .5 .3 .5-1 .5 1.2 .5-.3 .5-.5 .5 .5 .5-.4 .5 1.3 .5-1.8 .5 .6 .5 .5 .5-.2 .5 .7 .5-.5 .5-.2 .5-.6 .5 .4 .5-.1 .5 0 .5-1.6 .5 1.8 .5 .3 .5 0 .5-.5 .5 .1 .5-.2 .5-.1 .5 .3 .5 1 .5 .8 .5-.7 .5-.1 .5 0 .5-1 .5-.3 .5-.3 .5 1.1 .5 .5 .5-.9 .5 2.1 .5-1.5 .5 .8 .5 .3 .5-1.4 .5 .7 .5 .3 .5 .1 .5-.3 .5-.1 .5-1.2 .5-.3 .5 1.6 .5-1.3 .5 .4 .5 .9 .5-1.6 .5 1.8 .5-.5 .5-.4 .5-.3 .5 .5 .5 .3 .5-1.1 .5 .1 .5 .2 .5 .7 .5-.5 .5-.1 .5 1.5 .5-1.3 .5 .8 .5-.4 .5-.2 .5-.1 .5 .5 .5 .4 .5-1.5 .5 .1 .5 0 .5 .9 .5-.8 .5-.1 .5 .1 .5 1.6 .5-3.8 .5 2 .5 1.3 .5-.6 .5 0 .5 1.4 .5-2 .5-1.1 .5 2.7 .5-.4 .5-.4 .5-.5 .5 .9 .5-1.1 .5 .7 .5-.5 .5 .6 .5-2.4 .5 2.5 .5-.2 .5 1.7 .5-2 .5 .5 .5-.8 .5 .5 .5-.4 .5 2 .5-2.2 .5 .8 .5 .1 .5 .8 .5-.8 .5-.5 .5 1.2 .5-.9 .5 .2 .5 .9 .5-3 .5 2.1 .5 0 .5-.1 .5-.6 .5 1.3 .5-1.4 .5 .3 .5 .6 .5 .3 .5-1.4 .5 .3 .5 .4 .5-.5 .5-.4 .5 .2 .5 .5 .5 .5 .5-.4 .5-.2 .5 1 .5-.6 .5 0 .5-.1 .5-.3 .5-.3 .5 .8 .5-.6 .5 .6 .5-1.1 .5 .8 .5 1.6 .5-1.5 .5 .7 .5-1.1 .5 .8 .5-1.2 .5 2 .5-.2 .5-1.1 .5-.6V124H255z"/>
<path fill="#fff" d="M211 17.7l.5 .2 .5-.5 .5 .9 .5 .5 .5-2.3 .5 .9 .5-1.3 .5 .1 .5-.9 .5 2.5 .5-.5 .5 .7 .5 0 .5-.3 .5-.1 .5 .5 .5-.6 .5-.8 .5-.2 .5-.2 .5-.9 .5 .8 .5 .3 .5-.4 .5 .7 .5 .8 .5-.9 .5 .1 .5-.5 .5 .9 .5-.4 .5 .1 .5-.6 .5-1.1 .5 .7 .5 .3 .5-.8 .5 1.4 .5-.2 .5-.3 .5-1.2 .5 .2 .5-.4 .5 .6 .5 .4 .5-.2 .5 1.4 .5 .2 .5-.8 .5-1.9 .5 1.5 .5-1.3 .5-.3 .5 1.3 .5 .7 .5-.6 .5 .3 .5 1.4 .5 .2 .5-.7 .5-1 .5-.1 .5-.7 .5 1.2 .5 1.2 .5 0 .5 .4 .5-1.5 .5 .5 .5-.1 .5-.3 .5 .6 .5 .5 .5-.1 .5 .2 .5-.3 .5 .1 .5-.3 .5-1.3 .5 .4 .5 .2 .5-.3 .5-1.6 .5-.8 .5-.7 .5 .8 .5 .9 .5 2 0 .1 .5 .5 .5 .5 .5 1.4 .5 .7 .5 .8 .5-.2 .5 .6 .5-.6 .5 .4 .5 .4 .5-.9 .5 .5 .5 .7 .5 0 .5-.1 .5-.2 .5-.8 .5 .3 .5 .4 .5-.2 .5 .2 .5-.4 .5 .9 .5-.1 .5 .3 .5-.4 .5 .3 .5 0 .5-.1 .5-.1 .5-.1 .5-.1 .5-.1 .5-.3 .5 .1 .5-.4 .5-.5 .5 .6 .5-.4 .5 0 .5 .5 .5 .2 .5-.2 .5 0 .5-.4 .5 .5 .5-.3 .5-.3 .5-.2 .5-.3 .5 .1 .5 .2 .5 .1 .5-.1 .5 .1 .5 0 .5-.7 .5 .3 .5 .2 .5-.6 .5 1 .5-1.5 .5 1 .5 .4 .5-.5 .5 .9 .5-.4 .5-.6 .5 .2 .5-1 .5 .7 .5 .2 .5 0 .5-.2 .5 .9 .5 .3 .5-.2 .5 0 .5-.2 .5 .1 .5-.1 .5-.3 .5-.5 .5 .4 .5 0 .5-.6 .5 .2 .5-.3 .5 .1 .5 0 .5 .3 .5 .2 .5-.3 .5 .2 .5 .1 .5-.3 .5-.1 .5-.3 .5-.1 .5 .3 .5-.4 .5-.5 .5 1.2 .5-.5 .5 .6 .5 0 .5 0 .5 0 .5 0 .5-.1 .5 .1 .5-.6 .5 .3 .5 .1 .5-.2 .5-.3 .5-.1 .5 0 .5 .2 .5 .5 .5 .1 .5-.6 .5 .5 .5-.1 .5 .5 .5-.6 .5-.8 .5 .7 .5 .3 .5-.4 .5 .8 .5-1 .5 .9 .5-.3 .5 .2 .5 0 .5-.2 .5 .1 .5-.1 .5 .2 .5 0 .5 .2 .5 0 .5-.2 .5 0 .5-.3 .5 .4 .5-.5 .5 .4 .5-.5 .5-.1 .5 .7 .5-.3 .5 .5 .5 0 .5-.4 .5 0 .5-.3 .5 .2 .5 0 .5-.3 .5 .3 .5 .2 .5-.2 .5-.1 .5 0 .5-.1 .5-.7 .5 .4 .5 .1 .5-.5 .5-.2 .5 1.3 .5-1.3 .5 1 .5 .5 .5 0 .5 .1 .5-.4 .5 .1 .5 .1 .5-.5 .5 .5 .5-.3 .5 0 .5 0 .5-1.4 .5 1.6 .5-.2 .5-.9 .5 .6 .5 .1 .5-.2 .5-.6 .5 .4 .5 .6V11H211z"/>
<path fill="#fff" d="M211 76.8l.5-1.5 .5-1.6 .5-.5 .5 1.4 .5-3.2 .5 6.7 .5-6.3 .5-1.1 .5 .7 .5 1.1 .5 .2 .5 1.1 .5-.4 .5-.7 .5 .4 .5-.1 .5 1.2 .5-2.6 .5 1.2 .5-1.7 .5-.9 .5 .8 .5 3.4 .5 8.7 .5-11.7 .5 1.2 .5-.5 .5 3.9 .5-2.4 .5 5.8 .5-7.1 .5 10.7 .5-9.7 .5 4 .5-5.8 .5 2.4 .5-2.6 .5 .9 .5 0 .5-1 .5-1.2 .5 1 .5 6.8 .5-5 .5-2.1 .5 1.1 .5 1.2 .5-.6 .5-.4 .5-1.9 .5 2.8 .5-1.8 .5-1.3 .5 10.5 .5-3.7 .5 2.9 .5-7 .5-.2 .5 .7 .5 11.1 .5-.2 .5-10.4 .5 .9 .5 .6 .5-2.5 .5 1.2 .5-.9 .5 0 .5-.6 .5 .1 .5 4.2 .5-3.7 .5 6.1 .5-5.2 .5 1.6 .5-2.7 .5 8.5 .5 5.9 .5 8.5 .5-15.9 .5 2.3 .5-6.7 .5-1.9 .5 3.3 .5-1.7 .5 15.6 .5-5.4 .5-4.7 0 0 .5 3.3 .5-5 .5-.5 .5-.7 .5 3.6 .5-3.2 .5-.5 .5 1.3 .5-1.3 .5 2.4 .5-.2 .5 1.6 .5-2.5 .5-.1 .5 1.9 .5-.5 .5-.7 .5 2.5 .5-3.3 .5 .5 .5-.3 .5 2.6 .5-1.5 .5-.8 .5 .2 .5 5.5 .5 2.7 .5-8 .5 .6 .5 0 .5 1.3 .5-2.1 .5 9.4 .5-8.8 .5 8.4 .5-9.5 .5 0 .5 1.5 .5-1.4 .5-.2 .5 .2 .5 3.4 .5-1.3 .5-1.5 .5 2.5 .5 2.2 .5-.8 .5-4.6 .5 6.3 .5-5.2 .5-.9 .5 1.5 .5-1.4 .5 .4 .5-.6 .5 0 .5-.3 .5 3.2 .5-1.2 .5-1.7 .5 0 .5 .3 .5 0 .5 .8 .5-1.2 .5 .7 .5-.1 .5-.5 .5 .2 .5 .6 .5-1.4 .5 .5 .5-.3 .5 .8 .5 1.7 .5 6.4 .5-6.3 .5-1 .5 1.5 .5-1.6 .5-1.1 .5 0 .5 6.1 .5-6 .5 2.7 .5-3 .5 5.1 .5-3.4 .5-.9 .5-.7 .5-.4 .5 1.6 .5-1.4 .5-.1 .5 .2 .5 6.1 .5-6.8 .5 2.1 .5-2.3 .5 .2 .5 .2 .5 .7 .5 .1 .5 .1 .5-.4 .5-.4 .5 .2 .5 .1 .5 .2 .5-.2 .5 2.4 .5 5 .5-7.4 .5 .4 .5 2.4 .5-3 .5 2.3 .5-.7 .5-1.7 .5-.3 .5 .3 .5 .4 .5 .8 .5 0 .5-.7 .5 3.5 .5-3.7 .5-.3 .5 .5 .5-.2 .5 .1 .5 3.7 .5-3.1 .5-.9 .5 .6 .5-.5 .5 .7 .5 4 .5-3.9 .5-1 .5 .5 .5 2.6 .5-.4 .5-2.3 .5-.2 .5 .3 .5-.3 .5-.7 .5 10.4 .5-9.9 .5 8.1 .5-3.2 .5-1.8 .5-2.6 .5-.3 .5-.3 .5 4.8 .5-4.7 .5 3 .5-1.6 .5-1.3 .5 1.4 .5-1.3 .5-.5 .5 .4 .5-.4 .5 5.5 .5-3.1 .5-2.2 .5 .5 .5-1.3 .5 .2 .5 .6 .5 1.1 .5 2.6 .5 1 .5-4.6 .5 1.6 .5-1 .5-.4 .5 3.1 .5-3.1 .5 .1 .5 5.7 .5-4.6 .5-1 .5 .1 .5-.9 .5 1 .5-.1 .5-.4 .5 6.5 .5-6.9 .5 1.7 .5-2.2 .5 8.5V124H211z"/>
<path fill="#FFB40A" d="M218.3 70L219.3 84 219.8 80 220.2 100 220.5 96 220.9 109 221.3 92 221.7 96 222.2 80 222.8 83 223.5 70z"/><path fill="#0573D7" d="M219.6 70L220.3 76 221 70z"/>
</g>
<g stroke="#262626" stroke-width="0.5" fill="none" opacity="0.45">
<rect x="210.5" y="10.7" width="146" height="113.7"/>
<path d="M210.5 124.4v-1.3M210.5 10.7v1.3M247 124.4v-1.3M247 10.7v1.3M283.5 124.4v-1.3M283.5 10.7v1.3M320 124.4v-1.3M320 10.7v1.3M356.5 124.4v-1.3M356.5 10.7v1.3M210.5 10.7h1.3M356.5 10.7h-1.3M210.5 29.6h1.3M356.5 29.6h-1.3M210.5 48.6h1.3M356.5 48.6h-1.3M210.5 67.5h1.3M356.5 67.5h-1.3M210.5 86.5h1.3M356.5 86.5h-1.3M210.5 105.5h1.3M356.5 105.5h-1.3M210.5 124.4h1.3M356.5 124.4h-1.3"/>
</g>
<g fill="#262626" stroke="#262626" stroke-width="0.1">
<text x="283.5" y="8.1" font-size="8" text-anchor="middle" fill="#000" stroke="#000" stroke-width="0.12">FallDown</text>
<g font-size="4.2">
<text x="210.5" y="131.3" text-anchor="middle">0</text>
<text x="247" y="131.3" text-anchor="middle">0.5</text>
<text x="283.5" y="131.3" text-anchor="middle">1</text>
<text x="320" y="131.3" text-anchor="middle">1.5</text>
<text x="356.5" y="131.3" text-anchor="middle">2</text>
<text x="208.2" y="12.2" text-anchor="end">800</text>
<text x="208.2" y="31.2" text-anchor="end">600</text>
<text x="208.2" y="50.1" text-anchor="end">400</text>
<text x="208.2" y="69.1" text-anchor="end">200</text>
<text x="208.2" y="88" text-anchor="end">0</text>
<text x="208.2" y="107" text-anchor="end">-200</text>
<text x="208.2" y="126" text-anchor="end">-400</text>
</g>
<g font-size="4.4">
<text x="283.5" y="137" text-anchor="middle">Sample</text>
<text transform="translate(195.8 67.5) rotate(-90)" text-anchor="middle">Amplitude</text>
<text x="346.1" y="138.6" font-size="4.6">×10<tspan dy="-1.8" font-size="3.4">4</tspan></text>
</g>
</g>
<g filter="url(#bl)">
<rect x="400" y="19" width="37" height="105" fill="#1CBEF5"/>
<path fill="#CD0F2D" d="M400 26l.5 0 .5 2.1 .5-2 .5 1.2 .5-.7 .5 0 .5 .4 .5-.4 .5 .9 .5-.1 .5-.5 .5 0 .5-.2 .5-.4 .5 .6 .5-.3 .5 .3 .5 1.5 .5 .1 .5-.2 .5 1.1 .5-.4 .5 .5 .5-.7 .5-.6 .5-.8 .5 2 .5-1.2 .5-.8 .5-.8 .5 .9 .5 1.2 .5 .7 .5-.8 .5 1.2 .5-1.4 .5-2.1 .5 .2 .5-1.2 .5 1.4 .5 .5 .5-.3 .5 0 .5-1.1 .5 1.3 .5-1.4 .5 .1 .5 1.3 .5-1 .5 .1 .5 .5 .5 .1 .5 .1 .5 .3 .5 .7 .5-.3 .5 1 .5-.2 .5-.6 .5-1.7 .5-.6 .5 .9 .5 1.8 .5-.4 .5 .4 .5 .2 .5 .6 .5-1.1 .5 .6 .5 .6 .5 .3 .5-2 .5 4.4 .5-2.9V124H400z"/>
<path fill="#1CBEF5" d="M400 31.5l.5 .3 .5 1.7 .5-.4 .5-1 .5 .2 .5-.7 .5 1.6 .5-1.2 .5 1.3 .5-.6 .5-.7 .5-.5 .5 1.9 .5-2 .5 .7 .5-.4 .5 1.4 .5 1.5 .5-.8 .5 1 .5-.2 .5-.7 .5 1.5 .5-.7 .5-.4 .5 .8 .5-.7 .5-1.1 .5 0 .5 .4 .5-.8 .5 2.1 .5-1.3 .5-.3 .5 1 .5 0 .5-1.8 .5 0 .5-.4 .5 .9 .5-.7 .5 .1 .5-1.1 .5 1.9 .5-1.4 .5 .1 .5 .1 .5-.4 .5-.6 .5 .6 .5 .7 .5-.5 .5 .1 .5 .3 .5-.9 .5 1.7 .5 3.3 .5-3.4 .5 .9 .5-1.6 .5 1.3 .5-2.3 .5 1.1 .5 1.5 .5 .7 .5-.7 .5 .7 .5-.6 .5 1.9 .5-1.8 .5 .9 .5-1.1 .5 1.5 .5-.8V124H400z"/>
<path fill="#6EB928" d="M400 33.1l.5-.8 .5 1.1 .5-.9 .5 .7 .5 .2 .5 0 .5-1.7 .5 2.3 .5 .5 .5-.6 .5 .3 .5-1.1 .5 0 .5-.5 .5-.2 .5 1.5 .5 .4 .5 1.3 .5 .1 .5 .3 .5-.3 .5-.2 .5 .1 .5 .3 .5-.6 .5 .3 .5 2.4 .5-3.1 .5-.5 .5-.3 .5 .4 .5 .1 .5 1.3 .5-.5 .5 0 .5-.3 .5-1.3 .5 .3 .5-.9 .5 .2 .5-1.2 .5 2.2 .5-.5 .5-.8 .5 1.2 .5-1.7 .5-.2 .5 .4 .5-.8 .5 1.5 .5 1.2 .5-1.8 .5 .4 .5 .5 .5 2.2 .5-.2 .5-2.5 .5 2.3 .5-1.5 .5-.6 .5 .2 .5 .1 .5-.8 .5 1.2 .5-.2 .5 .4 .5 1.6 .5-.1 .5-1.3 .5 .2 .5 1 .5-1.2 .5-.3 .5 1.9V124H400z"/>
<path fill="#A028B4" d="M400 32.9l.5 2.5 .5-.2 .5-.3 .5-.2 .5 .1 .5 1.3 .5-.5 .5-.5 .5 .8 .5-.4 .5 .7 .5-1.9 .5 .4 .5-1.7 .5 1.6 .5 .8 .5 .6 .5 1.7 .5-1.4 .5 .9 .5-.5 .5 .9 .5-.8 .5 1.7 .5-1.7 .5-.2 .5 0 .5-.5 .5 .5 .5-.2 .5-.6 .5 1.2 .5-.3 .5-.3 .5 .2 .5 .4 .5-1.2 .5-1 .5 .7 .5-.6 .5 .3 .5-.1 .5-.2 .5 .8 .5-.5 .5-.4 .5-.2 .5-.2 .5 1.8 .5-1.5 .5-.5 .5 .4 .5 .3 .5 1.5 .5-1.4 .5 .2 .5 4.4 .5-3.3 .5-.8 .5-.9 .5-.6 .5 .6 .5 .2 .5 1.9 .5-.3 .5-.3 .5 1.1 .5-.3 .5-.5 .5 .7 .5 .4 .5 .1 .5-.6 .5-.5V124H400z"/>
<path fill="#FF5F10" d="M400 37.8l.5-3 .5 1.7 .5 .8 .5 .4 .5 .3 .5-.5 .5-.2 .5-.9 .5 1.8 .5-.3 .5-1.2 .5 .6 .5 .6 .5-1.8 .5 1 .5-.1 .5 1 .5 .1 .5 1.7 .5-.8 .5 .7 .5-.7 .5 0 .5 1.8 .5-2.3 .5 1.3 .5-.4 .5-1.2 .5-.3 .5-1.3 .5 1.7 .5 .4 .5 .2 .5 .9 .5-.8 .5-.1 .5-.8 .5-.8 .5 0 .5-.7 .5 0 .5 0 .5 .6 .5 1.9 .5-.6 .5-1.8 .5 .1 .5-1.2 .5 .2 .5 1.5 .5-.8 .5 .1 .5 .3 .5 .9 .5 1.7 .5-3.4 .5 2 .5 .4 .5-.6 .5 .1 .5-.5 .5-.1 .5-.3 .5 .9 .5 .4 .5-.4 .5 1 .5 .2 .5-1 .5 1.1 .5 .1 .5-1.1 .5 .6 .5 .8V124H400z"/>
<path fill="#CD0F2D" d="M400 42.7l.5 1.2 .5-.6 .5 3.4 .5-3.5 .5 2.7 .5-2.4 .5 .3 .5-.5 .5 1.5 .5-2.2 .5 1.7 .5-1.2 .5 .8 .5-1 .5 1.8 .5-1.5 .5 .1 .5 2.9 .5-.2 .5 0 .5-.5 .5-.8 .5-2 .5 3.3 .5-1.2 .5-.6 .5 .3 .5 .1 .5-1.6 .5-1.7 .5 1.1 .5 4.7 .5-3.2 .5 3.6 .5-4.9 .5 2.5 .5-1.4 .5-.6 .5-6.1 .5 6.2 .5-.1 .5 .8 .5-.4 .5 .1 .5-2.3 .5 2.4 .5-1.3 .5 1.1 .5-.1 .5-2.6 .5 1.8 .5 .6 .5-.2 .5 1.9 .5-3.5 .5 2 .5 .2 .5-1 .5 .8 .5-.2 .5-1.4 .5-.7 .5 1.7 .5 2.5 .5-.6 .5-.9 .5 .5 .5 1.8 .5-2 .5-1 .5 1.5 .5-1.9 .5 2.6 .5-.9V124H400z"/>
<path fill="#1CBEF5" d="M400 47l.5 .8 .5 .1 .5-.1 .5 0 .5-1.3 .5-2.5 .5 2.6 .5 1.3 .5-.9 .5 4.3 .5-4.8 .5 .5 .5-2.4 .5 1.2 .5 1.5 .5 .9 .5-3.3 .5 4 .5 2 .5-6.1 .5 4.7 .5-4 .5 3.3 .5 3.6 .5-6.8 .5 2.4 .5-2.2 .5 1.4 .5-.9 .5 .7 .5 .6 .5-1.3 .5 .8 .5-.5 .5 1.1 .5-1.7 .5-2.3 .5 3.4 .5-.2 .5-3.6 .5 3.4 .5 .1 .5-1.2 .5 0 .5-.1 .5 .9 .5-2 .5 1.7 .5-.7 .5 .3 .5 1.3 .5-1.4 .5 0 .5 .9 .5-.4 .5 .8 .5-1.5 .5 3.3 .5-.2 .5-4.3 .5 1.7 .5-1 .5 .4 .5 0 .5 1.5 .5 .6 .5-1 .5 1.6 .5-.4 .5-.5 .5 1.6 .5-1.9 .5 1 .5 1.7V124H400z"/>
<path fill="#FFB40A" d="M400 51.3l.5-1 .5-.2 .5 .7 .5 .4 .5-.2 .5-.4 .5 1.2 .5-.9 .5-1 .5 3.7 .5-1 .5-2.6 .5 0 .5-4 .5 6.3 .5-2.7 .5 1.3 .5-.8 .5 .1 .5 1.8 .5 .4 .5 2.6 .5-2.6 .5-.4 .5-.7 .5-1.1 .5 .6 .5 0 .5-1.9 .5 1 .5-.6 .5-1.1 .5 3 .5 .4 .5 .2 .5-.3 .5-2.9 .5 2.8 .5-3.9 .5-.5 .5-.1 .5 4.2 .5-1.5 .5 2.8 .5-2.6 .5 0 .5 .5 .5 1.9 .5-.8 .5-2.1 .5 1.2 .5-2.2 .5 1.8 .5 .6 .5-.9 .5 .8 .5-.6 .5 1.2 .5-3.3 .5 1.6 .5 2.5 .5-2.7 .5 2.2 .5 .8 .5-1.2 .5-.2 .5 .6 .5-.8 .5 .6 .5-.1 .5 .7 .5-6.1 .5 1.9 .5 2.6V124H400z"/>
<path fill="#A028B4" d="M400 57.3l.5-.5 .5 .4 .5-2.3 .5 2.6 .5 1.5 .5-1.2 .5-.6 .5 1 .5-.5 .5-.2 .5-1.9 .5 1.5 .5-5.8 .5 5.6 .5-3.9 .5 3.9 .5-.2 .5 .8 .5 .3 .5-.6 .5 .2 .5 .8 .5 1 .5-2.4 .5-.2 .5 2.8 .5-1.9 .5 .5 .5-1.8 .5 1 .5-.2 .5 .7 .5-.1 .5 .2 .5-.1 .5-.6 .5-1.5 .5 .8 .5 1.2 .5-1.2 .5 .4 .5 .9 .5-2.3 .5 1.2 .5 .3 .5 .4 .5 .7 .5-4.3 .5 2.9 .5-3.9 .5 3.9 .5 .5 .5-.7 .5 .6 .5-.1 .5 0 .5-.2 .5 .3 .5-1.1 .5 .1 .5 .7 .5-3.2 .5 7 .5-4.8 .5 2 .5-1.5 .5-.2 .5 1.9 .5-.7 .5-.8 .5 .6 .5 .6 .5-.3 .5-.9V124H400z"/>
<path fill="#0573D7" d="M400 58.3l.5 .8 .5-.7 .5 .3 .5 1.4 .5-.4 .5-2.4 .5 2.4 .5 .1 .5 .7 .5-.9 .5-.9 .5 .9 .5-1.9 .5 .6 .5-.4 .5 .7 .5-.4 .5 2.6 .5-1.2 .5 .7 .5 .3 .5-.8 .5 .2 .5-1.3 .5 .4 .5-.2 .5 1.4 .5-2 .5-.8 .5 .9 .5 .8 .5-2.9 .5 1.3 .5 7.2 .5-4.8 .5 .5 .5-1.6 .5-1.1 .5 1.1 .5-.7 .5 .4 .5-.4 .5 1.7 .5-1.2 .5 .8 .5-1.4 .5 .8 .5-.4 .5-1 .5 .7 .5-.8 .5 2 .5-.5 .5 1.2 .5-3.2 .5 1.8 .5 3.2 .5-3 .5-2 .5 1.9 .5-1.8 .5 1 .5 0 .5 1.7 .5-.7 .5-.1 .5 .1 .5 2.9 .5-3.5 .5 1.3 .5-.2 .5-.9 .5 0 .5-1.1V124H400z"/>
<path fill="#6EB928" d="M400 61l.5-1.1 .5 2.1 .5 0 .5-1.8 .5 .1 .5 1.3 .5 .3 .5-2.1 .5 2.5 .5-.2 .5-1 .5 .3 .5 .8 .5-3.3 .5 2.6 .5-.6 .5-.2 .5-.6 .5 3.2 .5-1.3 .5-.6 .5-.4 .5 2.2 .5-2.5 .5 .7 .5-1.1 .5 .7 .5-.1 .5-2.3 .5 .9 .5-.6 .5 1.6 .5-.4 .5 2.9 .5-.9 .5-.5 .5-1.9 .5-.3 .5 .8 .5 1.3 .5 .2 .5 .1 .5-2.1 .5 1 .5-.1 .5-.1 .5 .1 .5-.6 .5-.4 .5 .3 .5 0 .5 1.8 .5-1.6 .5-1.4 .5 2.2 .5 2.2 .5-2.3 .5-.6 .5 1.1 .5-1.5 .5 .2 .5-1 .5 1.1 .5 .3 .5 .1 .5-.7 .5 1.8 .5 .5 .5-2.9 .5-1.1 .5 1.3 .5 1.8 .5-.6 .5-.4V124H400z"/>
<path fill="#FF5F10" d="M400 64.9l.5-.6 .5-1.5 .5-.2 .5 .3 .5 .1 .5 1.2 .5 .4 .5-1.5 .5 1.5 .5-2.8 .5 .4 .5-.1 .5-1.7 .5 .9 .5-1.9 .5 3.3 .5 .2 .5-.1 .5 .6 .5-.1 .5 1.2 .5-1.6 .5-.1 .5 1.2 .5-.8 .5-.4 .5-1.9 .5-.9 .5 3.5 .5 1 .5-3.2 .5 1.3 .5 .4 .5 .2 .5-1.4 .5 1.1 .5 1.7 .5-2.7 .5-.6 .5-.7 .5 1.8 .5 .9 .5-1.8 .5 1.5 .5-3.1 .5 1.3 .5 1.3 .5-1.5 .5 1 .5 0 .5-2 .5 3.6 .5-.8 .5 .5 .5-.4 .5-1 .5 1.2 .5-.4 .5-.5 .5 0 .5-.9 .5 1.3 .5-1.2 .5 .3 .5 .8 .5 2.1 .5-1.2 .5-2 .5 .6 .5 .7 .5 2.1 .5-2.6 .5 .2 .5-5.6V124H400z"/>
<path stroke="#FFB40A" stroke-width="0.7" fill="none" opacity="0.8" d="M431.7 58.6v6.6M436.2 65.7v5.1M431.8 65.1v3.9M430.5 63.3v3.7M425.2 59.7v4.5M423.1 65.9v5.6M424.7 59.7v6M429.7 61.7v4.6M403 62.3v2.3M431.4 65v3.4M430.4 59.7v6.2M435.1 61v6.6M418 65.2v3.4M419.7 66.8v2.2M422.9 64.3v5.6M419.9 57.8v5.2M418.2 64.9v6M433.3 61.2v6.8M436.2 64.2v5.7M405.2 61.4v6.1M418.6 65.4v6.2M406.5 59.2v5.7M417.9 64.3v2.6M422.3 65.7v4.1M406.6 64.3v2.3M410.5 67.2v5.1M432.4 60.9v6.5M418.9 62.3v2.7M404.7 66.8v3M407.4 66.7v5.9M434 62.8v5.9M424.2 60v5.9M404.3 63.3v4.5M421.8 67v4.2M411.5 67.2v5.3M429.1 62.6v4.8M424.6 64.9v5.4M406.9 65.3v3.1M421 61.7v3.9M400.7 62.4v2.3M405.8 68.2v5.8M415.4 60.7v4.8M416.7 63.4v5.1M410.9 70.3v3.6M417 61.3v4.1M433.1 67.9v2.9"/>
<path stroke="#CD0F2D" stroke-width="0.7" fill="none" opacity="0.8" d="M405.7 69.4v3.2M425.3 62.7v5.8M423.8 60.4v4.9M402.6 70.4v5.1M436.1 68.1v2.2M433.6 66.3v2.5M426.9 61.9v2.7M408.9 67.1v2.3M410.7 64.3v4.5M431.1 58.1v3.9M436.5 66.7v2.1M414.8 68.7v2.6M422.8 66.5v7M424.3 63.1v5.5M428.9 67.4v3.1M419.6 61.8v2.6M422.4 63.4v3.9M429.2 62.4v5.3M408.9 67.1v4.3M424.9 62.4v2.9M434.7 67.2v3.9M409.4 66.7v5.4M428.4 62.6v4.1M420.6 59.6v4.1M416.3 60v3.8M423.5 64.1v6.1M412.6 63.6v2.9M429.2 61v6.8M404 62.8v4.7M428.1 59.8v6.7M414.3 64.1v3.8M431.2 63.8v6.1M415.3 60.9v5M432.8 65.2v5.6M420.9 61.2v5.6M412.2 64v2.7M407.8 64.8v6.7M419.9 66.1v5.3M405.2 67.7v5.3M404.6 63.5v4.2M417.4 61v2.6M403.6 62.6v4.4M434.3 68.1v5.9M409.3 61.3v6.9M430.7 61.5v2.3M412.6 61.8v5.6M415.2 60v6.3M429.9 59.7v6.9M402 70.6v3.3M402.2 71.6v2.7M429.7 65.3v4.2M433.9 59.2v5.4M430.5 63.4v4.5M421.7 60.1v6.8M423.2 61v3.8M425.1 57.5v4.8M428.9 65.2v6.2M415.6 61v6.8M432.9 63.5v3.9M401.8 60.3v6.8M413.6 67.3v6.2M405.2 65.2v5.9"/>
<path stroke="#A028B4" stroke-width="0.7" fill="none" opacity="0.8" d="M406.6 68.4v2.6M431.3 64v4.6M420.6 64v2.1M409.1 64.5v3.3M432.3 58.3v3.9M426.1 59.6v6M415.6 58.9v6.5M404.7 69.2v5.1M411 62.4v4.6M427.3 61.6v5.8M411.6 63.6v5.7M426.1 68.7v2.5M431.1 58.3v4.5M407.7 68.1v3.3M423.2 59.2v5.8M417.1 62.1v5M402.4 62.6v5.4M412.6 60.7v4.5M419.7 59.7v5.7M430.6 65.7v2.9M431.6 56.7v5.8M409.1 60.2v6.5"/>
<path stroke="#0573D7" stroke-width="0.6" fill="none" opacity="0.8" d="M409.6 47.8v2M423.7 43.5v2M415.5 48.9v2.1M436.7 45.4v3.2M417.5 49.1v1.8M433.7 44.3v3.8M414.7 48.9v1.8M427.7 48.1v2.1M417.2 47.7v3.6M419.4 42v2.9M432 43.9v3.2M402 46.1v1.6M416 45v3.7M406.3 44.4v2M425.8 45.9v2.3M404.2 49.9v1.7M413.8 44.4v1.6"/>
<path stroke="#1CBEF5" stroke-width="0.6" fill="none" opacity="0.8" d="M409.6 48.2v1.6M405.4 44.8v2.8M408 43.4v3.6M419.3 44.7v2.2M411.4 45.2v2.2M409.4 46.9v3.4M424.6 41.8v2.8M414.5 47.1v2.3M405.6 47.6v2.7M422.6 44.1v2.4M405.8 45v2M413.6 48.5v2.8M423.7 41.1v2.7"/>
<path stroke="#CD0F2D" stroke-width="0.6" fill="none" opacity="0.8" d="M411.9 48.8v2.5M402.1 43.8v3.5M401.2 47.1v1.5M427.7 43.7v2.3M427.2 44.9v2.4M409.5 49v1.9M432.3 46.5v1.8M402.1 45.8v1.8M432.4 46.2v3.6M414.8 43.4v1.9M412.8 44v3.8M420.2 48.1v1.6M400.9 44.4v3.6M412.2 46.1v1.6M411.4 49.6v3M409.4 47.2v2.6M424.6 45.5v3M427.7 46.1v2M421.6 45.9v2.8M407.3 47.4v1.6"/>
<rect x="437" y="18" width="18" height="106" fill="#1CBEF5"/>
<path fill="#CD0F2D" d="M437 27.4l.5 .7 .5 .8 .5 .3 .5 .9 .5-2.7 .5 .9 .5-.9 .5 .9 .5-1.4 .5 4.8 .5-6.2 .5 1.2 .5-1.1 .5 2.5 .5-2.1 .5 2.6 .5-1.8 .5 3.2 .5 1.8 .5-2 .5 3.1 .5 2.4 .5-1.5 .5-.7 .5-.5 .5 1.9 .5 1.7 .5-2.6 .5-2.7 .5 .8 .5-3.6 .5 .9 .5 .7 .5-1.7 .5-2.2 .5-1.8V124H437z"/>
<path fill="#0573D7" d="M437 32.3l.5-.5 .5 4 .5-1.4 .5-3.2 .5-3.1 .5 8.9 .5-2.6 .5 1.8 .5 0 .5 .4 .5-5.6 .5 0 .5-2.5 .5 1.2 .5-4.7 .5 10 .5-1.7 .5 8.2 .5-1.6 .5-1.6 .5 2.8 .5-1.3 .5-4.2 .5 4.8 .5-2.3 .5 2.2 .5 .5 .5 2 .5-4.9 .5 .2 .5-5.7 .5 1.7 .5-.6 .5-4.8 .5 1.4 .5 1.4V124H437z"/>
<path fill="#1CBEF5" d="M437 33.4l.5 .4 .5 3.2 .5 1.4 .5-3.9 .5-.6 .5 2.4 .5 1.2 .5 0 .5 4.1 .5 2.5 .5-8.4 .5-2.8 .5-3.9 .5 3.4 .5-2.1 .5 5.6 .5 3 .5 3.3 .5-.4 .5 4.9 .5-.9 .5-1.4 .5-1 .5-1 .5 1.3 .5 3 .5 .1 .5-1.5 .5-6.1 .5-2.8 .5-1.7 .5-.6 .5 1.5 .5 .3 .5-7.6 .5 2.6V124H437z"/>
<path fill="#CD0F2D" d="M437 33.6l.5 .9 .5 4 .5 .8 .5-6.4 .5 6.5 .5 3.6 .5-2.2 .5 1.2 .5 .9 .5 1.8 .5-6.1 .5-1.6 .5-4.4 .5 .1 .5 1.9 .5 0 .5 11.1 .5 .2 .5 1.1 .5 1.1 .5 .8 .5 .3 .5-1.6 .5 3 .5-2.6 .5 .4 .5 3.4 .5-1.2 .5-10.1 .5-1.6 .5-3 .5-1.5 .5 2.6 .5-1.9 .5-1.8 .5-4.7V124H437z"/>
<path fill="#FF5F10" d="M437 35.7l.5 .3 .5 2.7 .5 6.3 .5-6.1 .5 2.4 .5 5.5 .5-1.1 .5-.2 .5 3.1 .5 .2 .5-7 .5-5.1 .5-.6 .5-1.3 .5 2.2 .5 12 .5 4 .5 .4 .5 2.9 .5-1.6 .5 .1 .5 2.4 .5-2.2 .5-3.2 .5 1.3 .5 2.2 .5 6.8 .5-5 .5-8.3 .5-7.3 .5 .2 .5-1.9 .5 4.4 .5-.8 .5-5.8 .5-4.9V124H437z"/>
<path fill="#CD0F2D" d="M437 39.8l.5 .5 .5 4.5 .5-.7 .5-3.9 .5 5.6 .5 9.3 .5-4.4 .5 2.4 .5 2.4 .5 .8 .5-6.6 .5-8.4 .5-2.9 .5-4.1 .5 6 .5 9.1 .5 7.5 .5 6.8 .5 1.3 .5-2.1 .5 5.1 .5-4.2 .5 2 .5-5.1 .5 2.5 .5-.2 .5 17.6 .5-8.4 .5-16.9 .5-4.4 .5-2.6 .5-.6 .5 2.5 .5 5.4 .5-4.9 .5-13.5V124H437z"/>
<path fill="#1CBEF5" d="M437 39.9l.5 4.7 .5 4.9 .5-7.1 .5-.5 .5 7.7 .5 9.6 .5 1.6 .5-3.8 .5 4.2 .5 1.7 .5-7.2 .5-11.4 .5-7 .5 1 .5 3.6 .5 11 .5 13.3 .5 4.8 .5 2.9 .5-2.7 .5-1.3 .5 4 .5-8 .5 1.6 .5 .1 .5 3.4 .5 8.7 .5-1.6 .5-16.5 .5-4.6 .5-3.8 .5-.4 .5 .7 .5 4.6 .5-2.6 .5-12.8V124H437z"/>
<path fill="#FF5F10" d="M437 43l.5 0 .5 12.2 .5-7.1 .5-2 .5 10.3 .5 8.3 .5 0 .5 3.2 .5 3.8 .5-1.7 .5-10.7 .5-10.9 .5-5 .5-.1 .5 2.6 .5 17.2 .5 12.2 .5 4.8 .5 2.2 .5-1.4 .5 2.3 .5-3 .5-3 .5-6 .5 1.9 .5 3.6 .5 9.8 .5-3.5 .5-18.6 .5-2.3 .5-1.2 .5-5 .5 3.1 .5 6.4 .5-16.3 .5-7.9V124H437z"/>
<path fill="#6EB928" d="M437 47.8l.5 .1 .5 10.1 .5-8.9 .5 5.7 .5 5.6 .5 10.9 .5 1.4 .5 1.8 .5 4.5 .5 5.9 .5-17.2 .5-25.5 .5 4.1 .5 .8 .5 1.8 .5 19.1 .5 16.9 .5 5.7 .5 .1 .5-5.8 .5 3.7 .5 2.4 .5-7.1 .5-2.5 .5 1.7 .5 3.2 .5 14.1 .5-7.6 .5-23.9 .5-2.1 .5-6.1 .5-.3 .5 5.3 .5 2.6 .5-6.7 .5-15V124H437z"/>
<path fill="#0573D7" d="M437 49.1l.5 2.8 .5 8.9 .5-3.9 .5-3.4 .5 6.2 .5 15.9 .5 2.7 .5 0 .5 4.2 .5 5.4 .5-16.8 .5-14.2 .5-7.5 .5-.2 .5 2.8 .5 20 .5 18.4 .5 6.8 .5 3.4 .5-5.7 .5-.5 .5 1.5 .5-5.5 .5-3.9 .5-.5 .5 2.8 .5 11.6 .5-3.3 .5-27.4 .5-2 .5-3.9 .5-1.7 .5 5.4 .5 8.1 .5-9.4 .5-16V124H437z"/>
<path fill="#FF5F10" d="M437 50.8l.5 3.5 .5 8.5 .5-8.7 .5 3.9 .5 12.1 .5 10.9 .5 3.1 .5-.8 .5 10 .5-.2 .5-14.4 .5-16.6 .5-9.4 .5 .5 .5 1.5 .5 24.1 .5 22.6 .5 9.4 .5 .4 .5-12.2 .5 8.1 .5-2 .5-11.1 .5-3.3 .5 2.8 .5 4.6 .5 9.2 .5-5.3 .5-25 .5-4.6 .5-5 .5-2.1 .5 5.5 .5 5.3 .5-8.7 .5-17V124H437z"/>
<path stroke="#1CBEF5" stroke-width="0.55" fill="none" opacity="0.85" d="M450.1 86.3v12M441.6 72.6v13.8M454 86.6v5.4M452.9 65.3v16.9M447.1 97.4v13M446.1 96.8v13.8M451.3 64.5v10.1M448.9 66.9v18.4M443.1 56.1v9.7M453.2 45.3v13M447.9 72.1v14.9M439.2 44.9v13.1M448.3 70.3v10.9M450.9 105.5v13.2M443.6 37v7M447.3 81.9v19.3M451.1 67.2v8.1M442.2 70.9v17.1M448.5 54.5v12.1M446 85.9v16.5M438.4 43.2v17.4M452.4 66.5v7.5M454.2 57.9v18.7M453.6 69.5v13.5M449.8 93.2v7.1M446.2 100.8v14.3M439.1 51v9.9M452.4 61.9v12.2"/>
<path stroke="#0573D7" stroke-width="0.55" fill="none" opacity="0.85" d="M452.5 58.7v15.7M437.2 35.4v14.8M437.5 41.1v18.7M454.8 68.9v6.4M453 45.2v7.5M438.1 64.3v9.8M449.8 85.2v15.2M454.2 78.7v18.5"/>
<path stroke="#6EB928" stroke-width="0.55" fill="none" opacity="0.85" d="M446 62.8v8.1M445.1 61v16.8M446.5 89v16.9M438.3 53.5v15.2M444.8 39.5v16.8M454.5 56.8v12.7M446.5 73.6v12.9M451.8 65.6v11M441.9 63.2v10.2M451.3 77.7v8.7M441.8 77.2v9.3"/>
<path stroke="#CD0F2D" stroke-width="0.55" fill="none" opacity="0.85" d="M450.9 60.7v16.4M440.6 76.9v15.8M445.6 81.5v19M450.5 91.6v19.6M453.7 66.1v11.8M446.7 58.3v19.5M453 63.9v8.1M439.1 37.6v9.7M445.5 70v10.9M452.8 67.6v7.6M453.9 59.8v17.5M454.5 65.4v19.6M443 50.6v13M447.2 85.9v11.4"/>
<path stroke="#A028B4" stroke-width="0.55" fill="none" opacity="0.85" d="M454 86.1v7M447.9 82.1v12.5M447.9 103.7v16.1M454.2 48.4v8.1M438.7 53v16.9M451.8 63v5.3M442.4 58.9v5.4M447.2 56v9.2M440.8 81.4v18.1"/>
<rect x="455" y="16" width="87" height="108" fill="#1CBEF5"/>
<path fill="#CD0F2D" d="M455 27.8l.5-1.4 .5-1 .5 1.1 .5-.3 .5-2.2 .5 1.2 .5-.8 .5 .9 .5 .5 .5-2.1 .5 2.6 .5 .6 .5-2.5 .5 1.8 .5 .8 .5-1 .5 .5 .5-.6 .5 1 .5-1 .5-.7 .5 1.3 .5-.2 .5-1.3 .5-1.4 .5 1.3 .5 1.2 .5 2.2 .5-.8 .5-.2 .5-1.1 .5-1.6 .5 .4 .5 .2 .5 .5 .5 .5 .5-.3 .5 2 .5 .6 .5-1 .5-1.5 .5 1.1 .5-1.9 .5 2.5 .5-1.9 .5-1.8 .5 1.6 .5 1.9 .5 .7 .5-.7 .5-.2 .5 0 .5-.5 .5 .4 .5-.4 .5-.3 .5 .1 .5-1.3 .5 .6 .5 .2 .5-.3 .5-.1 .5 .4 .5 .4 .5 .4 .5-1.1 .5-.5 .5 .2 .5 .1 .5 1.6 .5 1.5 .5-.3 .5-1 .5-.3 .5-1.9 .5 .6 .5-.6 .5-.6 .5 .5 .5-.7 .5 1.4 .5-.7 .5-1.4 .5 1.5 .5-.6 .5-.4 .5-.2 .5-1.2 .5 1.2 .5-.5 .5 1.7 .5-1 .5-2 .5 1.2 .5 .5 .5-.4 .5 1 .5-.8 .5 .9 .5-1.9 .5 .3 .5 .6 .5-.7 .5 .8 .5-.6 .5 .3 .5-1.7 .5 2.6 .5-.4 .5-.1 .5-1.5 .5-.2 .5-.2 .5-1.5 .5 3.4 .5-1.1 .5-.4 .5-.6 .5-.5 .5-.2 .5 3.4 .5-.2 .5 .7 .5-1.1 .5-.4 .5 .2 .5-.8 .5 1.2 .5-.1 .5 1.4 .5-1.8 .5 0 .5 .6 .5-.8 .5-.6 .5-.1 .5 1.3 .5-.1 .5 .8 .5 1.6 .5-1.5 .5-1 .5-.6 .5-.8 .5 .5 .5-2.1 .5 2.8 .5-.6 .5 .5 .5-.1 .5 .4 .5-.9 .5 .8 .5-.1 .5 .3 .5-.6 .5 .3 .5 .7 .5 .5 .5 .1 .5-.5 .5-.3 .5-.9 .5 1 .5 0 .5 1.7 .5-.6 .5-1.7 .5 1 .5-.8 .5 .1 .5 .2 .5 .3 .5 1V124H455z"/>
<path fill="#1CBEF5" d="M455 29.7l.5-.5 .5-.8 .5 .6 .5 .7 .5-2.3 .5 .5 .5-1.6 .5 .4 .5 1.4 .5-1 .5 .7 .5 .1 .5-1.7 .5 1.5 .5 .5 .5 1 .5-1.5 .5 .5 .5-1.1 .5 2 .5-1.7 .5-.2 .5 2.6 .5-2.6 .5 .6 .5 .2 .5 1.4 .5 .7 .5-.5 .5 .1 .5-3.1 .5 1.1 .5-.2 .5-.3 .5 0 .5 2.1 .5-2.5 .5-.8 .5 2.6 .5 .1 .5-1 .5 1.6 .5-1.5 .5-.5 .5 .7 .5-1.2 .5 .9 .5 1.5 .5-.6 .5 .7 .5 .1 .5-1.6 .5 .4 .5 .5 .5-1.2 .5 .7 .5-1.1 .5 1 .5-.3 .5-2.7 .5 2.3 .5 1.2 .5-1.6 .5 1.9 .5-.3 .5-1.6 .5 1 .5-1.5 .5 1.6 .5 1.5 .5-.6 .5 1.6 .5 0 .5-4.1 .5 2.5 .5-1.1 .5-3.3 .5 2 .5 1 .5-.4 .5 .6 .5-.9 .5-.7 .5 .5 .5-.6 .5 .3 .5-1.5 .5-.4 .5 .3 .5 0 .5 .9 .5 .7 .5-2.6 .5 1.5 .5-.5 .5 .8 .5 .6 .5 .1 .5-1.4 .5-1.2 .5 1.8 .5-1.4 .5 .2 .5-1 .5 .4 .5 .2 .5 1.6 .5-1.6 .5 2.7 .5-1.5 .5-.9 .5-.4 .5 .1 .5 0 .5 .9 .5-.5 .5-2.6 .5 2 .5 .3 .5 .3 .5 .7 .5-.7 .5 1.2 .5 0 .5-.9 .5 0 .5 1 .5-1.9 .5 1.6 .5-.6 .5 .8 .5-.5 .5 0 .5-.9 .5 1.1 .5-.4 .5 .6 .5 0 .5 .9 .5 1.7 .5-1.6 .5-1.4 .5-.6 .5-.4 .5 .2 .5 .7 .5 .9 .5-1 .5 .6 .5-1 .5 3.3 .5-.9 .5-1.7 .5 .1 .5-.8 .5 .3 .5-.2 .5 1 .5-.3 .5-.9 .5 .7 .5 .3 .5-.9 .5-.2 .5 1.9 .5 .6 .5 .9 .5-1.1 .5 .5 .5-1.4 .5 0 .5 .2 .5-.5 .5-.9V124H455z"/>
<path fill="#CD0F2D" d="M455 33.5l.5-1 .5 0 .5 .6 .5-1.3 .5-.9 .5 .6 .5-.5 .5-1 .5 1.8 .5-1 .5 1.1 .5-.7 .5-.5 .5 .8 .5 .5 .5 1.2 .5-2.7 .5 1.4 .5-.9 .5 .6 .5-.3 .5 1.1 .5-.3 .5-1.3 .5 1.1 .5 1.1 .5-.8 .5 1.5 .5-.5 .5 2.4 .5-4.5 .5-.6 .5 .3 .5 .6 .5-.8 .5 .8 .5-.5 .5 .7 .5-.7 .5 .7 .5-.1 .5 .3 .5-.7 .5-.5 .5 0 .5-.6 .5 1.7 .5 1 .5 2.1 .5-2.7 .5 .9 .5-2.1 .5 .1 .5-.9 .5 1.8 .5-2.1 .5 .6 .5 .9 .5-.5 .5-.9 .5 .5 .5 .5 .5 1 .5 0 .5 0 .5 .8 .5-2.7 .5-.3 .5 1.2 .5 1.2 .5-1 .5 0 .5 1.4 .5 1.3 .5-3.5 .5-1.1 .5 2 .5-2.1 .5 .8 .5 .5 .5-.3 .5-1.3 .5 1.3 .5 .3 .5-1.4 .5 .1 .5-.9 .5-2.5 .5 3 .5-1.2 .5 1.1 .5 .8 .5-.5 .5-.9 .5 2 .5-1 .5-.1 .5 .2 .5 0 .5-2.1 .5 .8 .5 1.4 .5-1 .5 .3 .5-1.2 .5-.5 .5 1.5 .5-1.9 .5 2.8 .5-3.3 .5 .7 .5 3.1 .5-3.8 .5 3.2 .5-1 .5-.3 .5-1.5 .5 .7 .5-.3 .5 1.1 .5 3.1 .5-2 .5-1 .5 2.2 .5-1.8 .5 0 .5 .4 .5 .5 .5-1 .5-.5 .5 1.2 .5-.6 .5 .3 .5-.9 .5 .9 .5-.3 .5 .8 .5 1.9 .5-1.1 .5 .2 .5-.1 .5-1.4 .5 .2 .5-1 .5-1 .5 1.6 .5 .4 .5 .5 .5 1.3 .5-.8 .5 .3 .5-.4 .5 .6 .5-2.2 .5 .5 .5-.2 .5 .7 .5 .4 .5-.9 .5 .6 .5 0 .5-1.3 .5 .3 .5 .7 .5 .2 .5 .2 .5 1.1 .5-1.9 .5 .5 .5 .1 .5-.2 .5 .7 .5-1.5 .5 2.6V124H455z"/>
<path fill="#A028B4" d="M455 37l.5 .6 .5-1.6 .5 1 .5-3.9 .5 1.4 .5 4.7 .5-6.4 .5 2.9 .5 0 .5-.7 .5 .7 .5 0 .5 2.4 .5-2.1 .5-1 .5 2.1 .5-1.4 .5 .6 .5 .3 .5-.3 .5-1.5 .5 2.6 .5 1.5 .5-2.5 .5 2.2 .5-1.9 .5 .1 .5 1.9 .5 .6 .5 1 .5-3.7 .5 .1 .5 .1 .5-1.4 .5 1.8 .5-.6 .5-.9 .5 1.6 .5-.5 .5 .6 .5 1.7 .5-2.4 .5 0 .5-.4 .5-.8 .5 .3 .5 .5 .5 3 .5 .2 .5-1.4 .5-.9 .5-1.1 .5 0 .5 1.1 .5 .2 .5-1.5 .5 1.4 .5-.9 .5 2 .5-2.6 .5-.3 .5 1.5 .5-.6 .5 1.5 .5-.6 .5-2.5 .5 2.3 .5-.5 .5-1.8 .5 2.1 .5 1.2 .5-.8 .5 1.1 .5-2 .5 .9 .5-.5 .5 1.1 .5-1.3 .5-.8 .5 .6 .5 2.2 .5-3.3 .5 1.4 .5-1.1 .5 0 .5 .5 .5-4.3 .5 2.6 .5 .8 .5-1.1 .5 2.5 .5-.4 .5-.8 .5 3 .5-2.3 .5 .7 .5-1 .5 3.5 .5-2.3 .5-1.8 .5 1.4 .5-.5 .5-1.1 .5 .4 .5-2.7 .5 2.8 .5-1.8 .5 0 .5 3 .5 .1 .5-.7 .5-2.2 .5 1.2 .5-1.2 .5 .8 .5 .5 .5-.6 .5 .1 .5 1.2 .5-.8 .5 1.4 .5 .1 .5-.4 .5 .7 .5-1.8 .5 .9 .5-1.5 .5 2.7 .5-1.5 .5 1.1 .5-1.5 .5 1.2 .5 1 .5-.8 .5-.5 .5-1.4 .5 2.2 .5 3.4 .5-2.7 .5 .9 .5-.1 .5 1.4 .5-3.6 .5-1.2 .5 .5 .5 3.6 .5-1.1 .5 2.4 .5 .6 .5-.4 .5-2.1 .5-1.2 .5 1.2 .5-1.4 .5 3.2 .5-2.9 .5-.1 .5 .1 .5-4.7 .5 5.9 .5-1 .5-2.3 .5 2 .5 2.8 .5-2 .5-.9 .5 .7 .5-.5 .5-.3 .5 .4 .5 .3 .5-.7 .5-.1 .5 .5V124H455z"/>
<path fill="#FF5F10" d="M455 38.6l.5 .5 .5 0 .5-.5 .5 1.4 .5-.9 .5 1.1 .5-3 .5-1 .5 2.3 .5 1.1 .5-2.2 .5 0 .5-3.5 .5 5.6 .5-.7 .5-1.9 .5 1.1 .5-.6 .5-.2 .5 .7 .5 2.2 .5-2 .5 1 .5-.8 .5 .8 .5-3.3 .5 3 .5 3 .5-2.7 .5 .9 .5-.4 .5-3.1 .5 1.2 .5 2.3 .5-3.9 .5 1.6 .5-2.5 .5 1.3 .5 3.3 .5-.9 .5-.1 .5-.5 .5 .4 .5-2.3 .5 .5 .5-2 .5 5.7 .5-1.7 .5 .5 .5 0 .5-.9 .5 1.9 .5-2.8 .5-1.5 .5 3.8 .5-.8 .5-2 .5 .4 .5-1.3 .5 2.9 .5-.3 .5-3.4 .5 1.7 .5 1.4 .5 .5 .5-.4 .5 .2 .5 0 .5-1.1 .5 1.7 .5 1.7 .5-.3 .5-.8 .5 .7 .5-1.6 .5-1.3 .5-2.9 .5 3.2 .5-3.6 .5 3.9 .5 .4 .5-1.8 .5 2.4 .5-1.2 .5 1.8 .5-.4 .5-6.1 .5 1.6 .5 3 .5-.7 .5-.6 .5 1.7 .5-1.2 .5 .5 .5-1.6 .5 2.3 .5 1.3 .5-1.2 .5-.7 .5 1 .5-.8 .5 2.4 .5-2.8 .5-1.6 .5 0 .5-1 .5 1.1 .5 1.1 .5-2.2 .5 1.2 .5 2.8 .5-3.6 .5 .8 .5 .5 .5 .3 .5 .9 .5-3 .5-.1 .5 1.9 .5-.6 .5 1.2 .5 .9 .5 .8 .5-1.1 .5 .5 .5-1.2 .5 1.2 .5 1.6 .5-2.4 .5 .3 .5-.1 .5-.3 .5-.4 .5 1.2 .5-1.1 .5 .3 .5 .6 .5 2.7 .5-1.3 .5-.4 .5 .5 .5-2.9 .5 .8 .5 1.2 .5-.7 .5 1 .5 3.5 .5-.8 .5 1.3 .5 2.4 .5-6.6 .5 .8 .5 .2 .5-.5 .5-.6 .5 .3 .5-1.6 .5-.4 .5 1.1 .5 3 .5-2.6 .5 .8 .5-2.8 .5 3.8 .5-.3 .5 1 .5 2.1 .5-3.3 .5 1 .5 3.2 .5-6.8 .5-.3 .5 2.7 .5 .1V124H455z"/>
<path fill="#0573D7" d="M455 46.3l.5 1 .5-.6 .5-1.1 .5-3 .5 7 .5-3.8 .5-3.3 .5 3.5 .5 2 .5-3.1 .5 2.8 .5-3.9 .5 2.5 .5 4.1 .5-2.8 .5-1.2 .5 .4 .5 .8 .5-1.1 .5 6.4 .5-4.7 .5-.5 .5 1.3 .5-4.4 .5 3 .5-2.8 .5 3.6 .5 .8 .5 .8 .5-.5 .5-3.5 .5-.1 .5 1.5 .5 .5 .5-.9 .5 1 .5 3 .5-2.6 .5 .3 .5 0 .5 2.2 .5-3.5 .5 .5 .5 .9 .5-1.1 .5-1.4 .5 1.5 .5 .1 .5 2.3 .5 .6 .5-1 .5-4.4 .5 3.6 .5 .1 .5-1.1 .5-.6 .5 3.6 .5-5.2 .5 2.2 .5-1.8 .5 .5 .5 1.3 .5 1.9 .5-.5 .5-3.2 .5 2.8 .5 1.7 .5-7.4 .5 3.5 .5 3.8 .5-1.1 .5-4.7 .5 6 .5 3.2 .5-7.2 .5 2.7 .5-2 .5-.6 .5-3 .5 6.4 .5 3.8 .5-9 .5 3 .5-1.8 .5-3.8 .5 3.5 .5 .4 .5-2.1 .5-1.7 .5 4.9 .5-1.2 .5 .8 .5-1.2 .5 4.1 .5-3.6 .5 1.6 .5 2.1 .5-2.5 .5 .8 .5-3.7 .5 .4 .5 1.6 .5-1.5 .5 2.5 .5-4.8 .5-.2 .5 2.1 .5 1.8 .5-.8 .5-1.6 .5-.3 .5 .7 .5-3.2 .5 3.2 .5-.1 .5 1.8 .5-1.5 .5 0 .5-4.2 .5 3.7 .5-1.1 .5 2.2 .5-.5 .5 .6 .5-1.5 .5 .7 .5 1.3 .5 .9 .5-.9 .5 0 .5-1.1 .5-2.4 .5 .4 .5 2.7 .5 4 .5-4.1 .5 .6 .5 2.6 .5-1.8 .5-.4 .5 4 .5-10.8 .5 6.6 .5-1.1 .5 1.2 .5 4.6 .5-.5 .5 1.6 .5-1.5 .5 2.3 .5-3.8 .5-3 .5 .9 .5-3.1 .5 3.7 .5-1.9 .5-.2 .5 .3 .5 .1 .5-.2 .5 1.6 .5-2.4 .5 1 .5 2 .5-.5 .5-.2 .5-.2 .5-.8 .5-.6 .5 .2 .5 5 .5-4.2 .5-1.2 .5 .5V124H455z"/>
<path fill="#CD0F2D" d="M455 48.6l.5-.5 .5-.9 .5 .5 .5 .1 .5-.6 .5 .7 .5-1.8 .5 1.6 .5-2.3 .5 1.6 .5 2.4 .5-.7 .5 1.6 .5-3.9 .5 2.3 .5 1.1 .5-1.5 .5-.7 .5 .4 .5 2.1 .5-2.5 .5 2.9 .5 .2 .5-1.9 .5 .9 .5 2.7 .5-3.7 .5 .7 .5 2.2 .5-2.3 .5 .1 .5-2.2 .5 4.9 .5-3 .5-.6 .5 .7 .5-.8 .5 1.3 .5-.8 .5 2.7 .5-1.5 .5-1.7 .5 2.6 .5-2.1 .5-3.2 .5 3.5 .5 .9 .5 .5 .5 .3 .5 .6 .5 2.7 .5-4.4 .5 1.5 .5-1.5 .5-1 .5 1.4 .5 0 .5-3.1 .5 .2 .5-.8 .5-1.8 .5 3.6 .5 .8 .5 1 .5-.2 .5 .3 .5-3 .5 4 .5-1.3 .5-2.5 .5 .7 .5 1.4 .5 2.1 .5-.7 .5-2 .5 .8 .5-1.7 .5 1 .5 0 .5-2.1 .5-1.3 .5 2.7 .5-2.6 .5 2.3 .5-.2 .5-2.3 .5 1.4 .5-2.1 .5 2 .5 .1 .5 1.3 .5-.2 .5-.8 .5 .3 .5-1.7 .5 2.3 .5-3.8 .5 3.9 .5 .7 .5-.5 .5 .4 .5-1.1 .5 1.5 .5 1.3 .5-6.5 .5 1.5 .5-1 .5 1.5 .5 .1 .5 1.4 .5-4.3 .5 .1 .5 1.5 .5 .3 .5 .9 .5-.3 .5-4.1 .5 3.5 .5-.7 .5-.4 .5 4.3 .5-.6 .5 0 .5-1.4 .5-1.7 .5-8.4 .5 11.6 .5-1 .5-.8 .5-.5 .5 .6 .5 1 .5-.7 .5 1.3 .5-1.7 .5-1.3 .5 4 .5-1.8 .5 .8 .5 1.7 .5-4.5 .5 2.9 .5-1.1 .5 3.6 .5-1.8 .5 1 .5 2.1 .5 2.8 .5-1.2 .5-5.3 .5 2.8 .5-1.6 .5-2.3 .5 1.1 .5 0 .5 3.2 .5-1 .5-3.4 .5 1 .5 1.1 .5-5 .5 4.8 .5-1.3 .5-.8 .5 2.9 .5-1.4 .5-.8 .5 1.8 .5 .8 .5-4.4 .5 4.6 .5-3.9 .5 1.5 .5 0V124H455z"/>
<path fill="#1CBEF5" d="M455 55.6l.5 4.1 .5-10 .5 2.5 .5 1.9 .5-2.9 .5-.8 .5 .8 .5-3.7 .5 3.8 .5 3.1 .5 1.2 .5-.3 .5-5.8 .5 5.2 .5-.4 .5 1.4 .5-1.3 .5-.1 .5 3.9 .5-1.8 .5-.2 .5 .4 .5-.4 .5-.3 .5 4 .5-.5 .5-3.8 .5 5.9 .5-1.1 .5 .1 .5-2.6 .5 3.1 .5-2.9 .5 1.7 .5-5 .5 3.4 .5-1.4 .5 1.2 .5-.4 .5 .8 .5-2.9 .5 2.4 .5-1.6 .5 1 .5-2 .5-.3 .5 .7 .5 5.5 .5-5.9 .5 .6 .5 3.6 .5-3.6 .5 1.1 .5-4 .5 .9 .5 2.2 .5-2.8 .5 .3 .5 0 .5 1 .5-2.8 .5-.9 .5 3.3 .5 1.8 .5 1 .5-2.6 .5-1.4 .5 3.5 .5-3.3 .5 3.4 .5 .5 .5-.2 .5-.8 .5-2.2 .5 .6 .5-7.7 .5 9.9 .5-4.5 .5 0 .5 3.5 .5-1.6 .5-3.3 .5 4.3 .5-.8 .5-5.5 .5 1.3 .5-1.5 .5-.3 .5 1.7 .5-.5 .5 1.7 .5 .3 .5-1.3 .5-4.5 .5 3.5 .5 1.1 .5 1.9 .5-1.3 .5-1.1 .5-4.2 .5 5.7 .5-1.8 .5-.8 .5 2.1 .5-3.1 .5-1.1 .5 1.2 .5 1.1 .5 2.4 .5-4.4 .5 .6 .5-1.4 .5-1.3 .5 3.8 .5-.4 .5-.2 .5 1.5 .5-7.9 .5 4.5 .5-1.8 .5 .1 .5 5.5 .5-.5 .5 .8 .5-2.8 .5-.6 .5 3.3 .5-4.2 .5 3.3 .5-3.9 .5 7.5 .5-.5 .5-6.5 .5 7.3 .5-2.7 .5 .2 .5 1.6 .5-1.3 .5 .3 .5-.2 .5 1.1 .5-6 .5 5.2 .5 .7 .5 .6 .5 .8 .5 .7 .5 3.8 .5-.6 .5-1.3 .5-3.3 .5-1.2 .5 .2 .5-3.2 .5 3.5 .5-.2 .5-1.3 .5-.9 .5 .9 .5-1.6 .5 3.3 .5 2.3 .5-7.1 .5-.5 .5 3.4 .5 5.7 .5-6.3 .5-.5 .5 .9 .5-.8 .5-.2 .5 1.7 .5-3.4 .5 .3V124H455z"/>
<path fill="#FF5F10" d="M455 55.2l.5 3.5 .5-5.9 .5 .3 .5-.6 .5-2 .5 1 .5 1 .5 .2 .5 2.8 .5-3 .5 6.2 .5-2.7 .5 .8 .5-2.9 .5 4.3 .5-1.4 .5-.3 .5 3.2 .5-2.8 .5 0 .5 .6 .5 1.6 .5-1 .5 .2 .5 .5 .5-1.6 .5-1.5 .5 8.4 .5 .6 .5-3.4 .5 .9 .5-2.9 .5 .2 .5-.4 .5 .4 .5 .4 .5-2 .5 4.6 .5-2.1 .5-1.5 .5 1 .5 .5 .5 .3 .5-3.6 .5 1.9 .5 .4 .5 1.6 .5-2.9 .5 2 .5 .9 .5-1.9 .5 .5 .5-2.3 .5 .6 .5-2.5 .5 3.5 .5-1.9 .5-2.5 .5 1.2 .5-.6 .5 .8 .5 5.3 .5-.7 .5-.5 .5-.3 .5 .1 .5-5 .5 1.4 .5 2.2 .5 3.5 .5-2.7 .5-2.3 .5 1.3 .5-1.7 .5 1.8 .5-.4 .5-2.9 .5-11.5 .5 14.5 .5-1.3 .5 1.1 .5-2.6 .5 5.3 .5-7.9 .5-2.1 .5 3.8 .5-1.5 .5-3.8 .5 2.8 .5-2.8 .5 1.5 .5 7.4 .5-3.4 .5-3.7 .5 2.2 .5 .7 .5-.3 .5 .1 .5 .2 .5-6.8 .5 10 .5-4.4 .5-2 .5-1.2 .5-1.4 .5 2.2 .5-1 .5 2.1 .5-2.8 .5 1.7 .5-1.4 .5-8.5 .5 9.8 .5 2.3 .5-2.3 .5-1 .5 1.1 .5-3 .5 4.4 .5-1.4 .5 2.5 .5-1.7 .5 1.2 .5-.5 .5-.2 .5 1.2 .5-1.9 .5 .8 .5-.8 .5-3.9 .5 4 .5 4.2 .5-2.7 .5-1.4 .5 3.1 .5-3.5 .5 1.4 .5 .3 .5 .8 .5-1.4 .5 2.4 .5-3.3 .5 1.8 .5 1.9 .5 2.3 .5-.8 .5 .9 .5 1.4 .5 1.2 .5-2.6 .5 .1 .5-.8 .5-5 .5 1.1 .5 1.2 .5-.4 .5-3.2 .5 3.3 .5 3.5 .5-1.5 .5-3.3 .5 2.5 .5 3.4 .5-2 .5-.8 .5-4.2 .5 2.3 .5 .4 .5 1.4 .5-.9 .5-2.1 .5 .1 .5 1 .5-1.3V124H455z"/>
<path stroke="#CD0F2D" stroke-width="0.7" fill="none" opacity="0.85" d="M492.3 37.6v5.2M497.3 50.1v10.5M536.7 43.7v7.4M497.9 52.1v11.2M508.1 59.2v8.5M521 40.3v7.7M506.5 54.1v6.2M527.5 37.3v3.8M533.2 48.9v10.5M502 41v10.5M497.6 53v5M530.1 41.5v7.3M512.7 57.9v9.2M531.7 43.7v5.7M540.8 52.9v11M519 68.9v5.3M515.6 50.4v10M530.4 48.1v8.8M534.7 50.8v9.4M487.8 55.7v11.6M508.6 69.3v4M534.4 58.5v4.1M490.3 61.8v5M509.1 35.1v9.1M534 45.2v9.1M506.1 41.3v3.9M511.8 60.5v7.6M539.6 53.3v10.7M492.9 58.2v9.4M505.7 61.1v6.3M513.3 36.4v11.5M522.7 38.9v3.6M491.9 61v9.6M529.7 81.5v8.4M541.2 52.8v10M535.8 48v5.8M497.3 65.6v5.5M530 55.4v6.1M526.7 46.6v10.3M486.1 39.9v4M496.6 67.9v8.9M539.3 54.2v7.8M497.8 58.4v8.7M516 40.9v3.8M538 50.5v11M508 57.1v10.8M517 46.5v4.3M506.1 52.2v11.9M497 35.9v5.7M498 44.3v5.3M512.8 47.3v3.5M497.1 37.1v4.6M489.9 62.9v5.6M516.1 57.5v8.1M517.2 36.8v8.7M520.9 35.7v8M495.1 49.6v4.5M529.3 63.8v5.7M535.2 37.9v12M540.3 36.3v7.6M501.1 62.8v10.5M515.8 35.8v10.6M508.5 67.5v7M532.6 50.8v11.8M527.7 65.9v3.1M539.6 37.7v7.3M531.2 70.6v4.3M500.5 37.4v3.6M532.4 35.6v5.4M493.9 50.6v11.2M525.5 56.9v6.1M529.6 73.4v4.9M532.9 44.2v9.5M511 50.9v6.2M529.1 80.5v10.8M508.3 36.2v6.4M541.2 59.2v9.9M523.2 57.6v6.6M531.7 43.9v4.4M538.3 52.5v8.2M522.6 36.5v10.9M499.3 39v10.7M519.5 35.9v6.1M530 70.6v8.7M490.1 68.3v5.5M524.7 53v3.8M492.6 66v3.5M541.9 48.2v8.4M507.9 47.1v10.5M486.7 36.8v9.6"/>
<path stroke="#1CBEF5" stroke-width="0.7" fill="none" opacity="0.85" d="M524.1 40.6v11.7M522.4 48.4v11.5M490.2 64.7v6.1M494.5 61.3v4.1M535.2 63.7v6.9M519.7 57.9v3.3M521.4 48.3v7.7M534.4 67.8v5.8M532.9 44.7v6.6M538.1 67.5v9.9M500.7 51.3v10.6M530.4 51v5.1M510.5 65.5v9.2M517.5 44.8v9M521.2 64.4v5.4M518.7 39.9v9.5M519.1 49.1v5.1M507.9 56.7v8.9M492.6 62.2v11.1M506.4 56.3v8.6M534.8 68.6v5.4M519.9 59.1v5.1M508.2 33.5v11.4M539.5 42.4v9.9M506 56.7v6.4M529.6 44.5v6.2M498.5 43v5.8M525.3 41.3v11M491.4 66.2v3.8M503.5 49.2v6.5M514.9 40v3.6M509.1 37.4v4.3M512.6 50.6v8.5M486.9 49v5.5M495.4 35.7v7.3"/>
<path stroke="#0573D7" stroke-width="0.7" fill="none" opacity="0.85" d="M519.7 61.7v4.2M504.4 67.9v3.7M540.9 58.9v11.2M486.7 47.5v8.2M513.3 46v6.3M486.9 63.2v3.5M513.7 34.9v4.9M510.9 37.3v5.9M519.2 59.5v5.4M510.9 34.8v4.1M536.1 69.3v5.7M533.8 47.5v3.8M528.1 69v6.6M535.4 44.7v10.3M494 61v8.7M517.5 42v11.8M516.6 40.3v7.8M518.4 43.3v11.2M535.7 47.5v6.5M491.8 61.1v5.2M512.3 68.7v4.6M506.3 52v5.2M520.9 61.6v3.6M496.1 57.6v4.4M520.5 32.1v11.6M526.7 54.7v6.2M511.3 47.7v4.5M535 36.8v9.8M512.5 35.5v10.2M518.5 37.7v10.9M528.8 53.6v3.4M520.8 40.3v8.4"/>
<path stroke="#6EB928" stroke-width="0.7" fill="none" opacity="0.85" d="M490.4 40.8v10.7M520.6 66.1v7.5M504.2 68.2v3.5M525.9 42.1v8.4M486.3 33.7v11.1M537.7 58.6v3.3M516.5 60.4v3.2M515.6 63.6v9.5M488.7 49v3.7M487.6 63.1v7.3M514.6 35.4v3.1M501.4 51.1v3.2M501.2 36.7v11.6M517.3 54.2v10.6M526.6 64.6v9.8M495.2 68.3v7.5M524.4 66.5v5.5M542 40v5.8M507.6 58.5v10.5M518.3 34.8v8.3M518.9 63v3.6M529.3 47.7v6.1M529.6 82.5v7.9M534.9 62.5v7.6M498.7 63.7v8.2M541.9 46.7v9.3M535.5 63v8.9M486.8 59.2v9M538.9 66.4v9.2M493 42.4v5.5"/>
<path stroke="#A028B4" stroke-width="0.7" fill="none" opacity="0.85" d="M509.5 65.1v5.5M509.4 66.9v4.9M529.1 82.1v4.5M486.2 34.1v10M525.1 50.2v11.9M502.6 60.1v4.4M518 55.2v8.5M501 52v10.9M509.6 65.5v7.3M529.2 42.8v3.7M491.5 54.5v9.8M522 43.7v6.9M519.2 32.7v10.4M528 44.4v9.4M528.6 71.7v8.6M509.5 34.2v5.7M489.9 64.4v3.7M487.3 58.7v7.8M524.5 39.3v11.3M530.1 71.8v6.7M520.3 66.7v8.7M541.3 61.7v9.3M489.9 46.8v4.8M502.5 58.8v4M503.9 34.6v9.1M515.3 52.1v11.3M486.6 38.7v11.3M534.8 37v10.5M529.7 46.7v6.5M507.8 55.6v7.6M518.8 41.2v10.1M510 52v11M516.4 56.7v4.3M492.5 41.5v11.3M539.9 45.8v10.1M527.5 53.3v7.6M534.7 55.2v6.3M497.6 41.1v6.7M509.4 59.3v10.7M499.5 44.5v6.5M512 46.6v6.1M509.8 50v5.2"/>
<path stroke="#FFB40A" stroke-width="0.7" fill="none" opacity="0.85" d="M489.2 36.1v6.3M511.6 53v4M515.5 54v9.3M517.2 62.1v6M519.2 52.7v5.3M519.8 37.9v4.7M500.4 52.9v3.1M500.1 71.9v3.3M501.1 60.8v5.6M515.5 40.5v5.9M506.2 56.7v11.8M509.1 39.2v6.7M488.5 40.3v5.1M502.2 39.4v5.4M514.7 62.7v10.7M536.1 59.2v3.7M514.2 34.6v5.9M502.1 63.8v5.6M538.7 42.6v3.3M534.1 42.4v3.6M499.9 41.7v6.3M497.6 49.5v6M515.7 51.2v8.7M514.5 36.7v11.7M506.9 54.9v9.6M498.8 50.9v3.5M516.5 46.1v7.4M496.2 65.6v6.4M535.2 66.5v4.4M509.1 63.2v5.9M530 48.3v10.5"/>
<path stroke="#CD0F2D" stroke-width="0.7" fill="none" opacity="0.85" d="M464.7 40.4v5.7M483.8 51.5v5.6M484.4 55.5v8.7M474.4 52.7v8.5M469.7 51.8v4.8M477.9 55v8.1M472.5 50.2v3.6M484.7 51.6v8.2M479.5 59.7v8.9M472.9 55.2v3.2M463.4 45.4v6.7M473.8 54.7v3.3M474 58.3v7.3M480 68.5v5M471.7 49.5v4.7M455.1 63.3v3.6M458.6 43.9v6.2M480.3 59v3.6M458.9 50.9v8.3M466.4 40.8v8.6M464.6 46.8v7.8M485.3 44v5.7M482.4 42v6M484 60.6v7.1M477.2 61.7v7.1M467.1 46.5v5.2"/>
<path stroke="#1CBEF5" stroke-width="0.7" fill="none" opacity="0.85" d="M459.3 44.3v8.1M461.7 47.7v3.9M478.8 68v5M467.9 44.8v7.2M460.7 41.3v8.9M480.1 51.2v7.1M481.6 62.6v6.1M485.3 47.4v8.6"/>
<path stroke="#0573D7" stroke-width="0.7" fill="none" opacity="0.85" d="M456.3 60.1v4.2M469.9 48.4v8.7M456.8 61.3v5.6M479 62.3v4"/>
<path stroke="#6EB928" stroke-width="0.7" fill="none" opacity="0.85" d="M472.6 65.1v3.5M472.1 67.6v5.5M462.7 61v4.7M478.2 55v7.5M458.3 47.8v6.3M470.5 68.4v5.1M470.5 56.3v3.7M467.4 50.6v7M455 53.6v5.6M463.4 47.3v6.3M468.7 44.5v8.3M469.6 67.7v3.6"/>
<path stroke="#A028B4" stroke-width="0.7" fill="none" opacity="0.85" d="M470 67.2v4.6M469.4 59.2v5.8M476.1 43v7.1M480.9 57.4v8.2M456.1 46.6v5.3M473.9 60v4M461 62.4v6.4"/>
<path stroke="#FFB40A" stroke-width="0.7" fill="none" opacity="0.85" d="M468.1 58.6v7.2M471.2 63.3v6.7M456.4 41.1v7M459.9 61.3v7.1M476.3 66.4v7.7M455.6 54.4v6.1M459.3 57.8v8.8M474.2 53.8v3.6M456.5 50.1v4.9M458.8 40.4v5M470.9 65.3v7.9M477 48.8v4.2M485.5 39.8v9"/>
<path stroke="#A028B4" stroke-width="0.6" fill="none" opacity="0.8" d="M511.2 30.7v4.2M532 31.4v3M536.6 22.7v2.4M499.2 20.9v3M505 28.2v3.4M505 28.2v3.8M499.4 29.5v3.5M530.4 21.7v4M522.3 32.5v3.2M518.6 28.5v4M522.3 22.9v4.6M528.7 18.9v4.7M509.9 34.9v3.5M507.9 24v4.6M513.4 30.9v3.3"/>
<path stroke="#6EB928" stroke-width="0.6" fill="none" opacity="0.8" d="M530.3 23.5v2.8M516.8 27.9v2.6M532.5 30.9v3.9M524.1 31v4.6M534 32.9v4.6M496.6 28.8v4.9M499.2 20.7v2.7M528.7 30.3v3.2M491.9 35.3v2.1M540 35.2v4.5M533.9 32.1v4.8M538.5 26.9v2.2M495.7 28.8v2.7M526.6 27.1v4.4M525 32.1v3.3M492.8 31.2v3M505.2 31.1v4M533.8 30.2v5M490.5 33.1v3.3"/>
<path stroke="#1CBEF5" stroke-width="0.6" fill="none" opacity="0.8" d="M541.9 28v4.6M533.6 23v3.5M505.6 31.4v3.6M508.6 22.5v3.5M535.7 25.4v3.7M535.2 28.9v2.6M506.9 22.1v3M535.1 24.1v4.7M504.8 31.2v2.6"/>
<path stroke="#FF5F10" stroke-width="0.6" fill="none" opacity="0.8" d="M520.3 22.2v2.5M531.7 24.1v2.7M520.5 31.1v2.1M536.7 33.2v4.7M519.8 28.2v2.7M491.6 38.4v2.2M527.9 28.3v2.9M512 31.7v2.1M535.1 23.8v4.8M510.6 24.1v2.8M510 23.4v2.6M501 28.5v4M529.6 38.4v4.1M519.2 27.6v4M518.2 33.4v3.5M523.7 29.4v4.1M524.2 35.8v4.2"/>
<path fill="#fff" d="M400 21.6l.5-.8 .5 1.7 .5-.1 .5 0 .5-.2 .5 .4 .5-.9 .5 1.4 .5-.3 .5-.2 .5-.1 .5-.3 .5-.3 .5-.4 .5 .5 .5 .1 .5 .7 .5 .9 .5 .7 .5 .4 .5 .2 .5-.9 .5 .8 .5 .4 .5-.8 .5-.5 .5 .1 .5-.3 .5-.6 .5 .5 .5-.6 .5 .9 .5 .5 .5-.3 .5 .4 .5 0 .5-1.8 .5 .1 .5 0 .5 0 .5-.4 .5 .3 .5-.3 .5-.2 .5 .3 .5-.4 .5-.3 .5-.1 .5-.1 .5-1.2 .5 1.8 .5 .5 .5-.3 .5 .7 .5 .3 .5-.1 .5 .1 .5 .2 .5-1.1 .5-.3 .5 .6 .5-.5 .5-.7 .5 1.3 .5 1.2 .5-1.5 .5 1.8 .5-.2 .5 .2 .5-.5 .5 .4 .5-.4 .5 .5 .5-.3 0 .2 .5 1 .5-.7 .5 1 .5 .1 .5-2.9 .5 1.1 .5-2 .5 1.7 .5-1 .5 .2 .5-1.9 .5 3.5 .5 0 .5 .5 .5-1.3 .5-.2 .5 .1 .5 1.3 .5 2.1 .5 .9 .5 1 .5 0 .5 .9 .5 1.1 .5-.6 .5 .7 .5-.5 .5-.9 .5-2.5 .5-.4 .5-.9 .5-.6 .5-.7 .5-2.8 .5-.1 .5-2.1 0 4.4 .5-1.9 .5 1.1 .5-4.5 .5 3.9 .5-1.6 .5 1.8 .5-1.2 .5-1.4 .5 2.6 .5-2.7 .5 .2 .5-1.5 .5 2.6 .5 0 .5-1 .5 1.2 .5-.2 .5 .3 .5 .7 .5 .3 .5-.2 .5 .4 .5-.1 .5-1 .5 1.3 .5-2.1 .5 2.7 .5 .9 .5-1.8 .5 1.9 .5-1.3 .5-1.4 .5 .5 .5-.5 .5-2.7 .5 .1 .5 3.5 .5-.8 .5 1.5 .5 .3 .5-2.1 .5 1.5 .5-.3 .5-.7 .5 .9 .5-1.1 .5 1.7 .5 .8 .5-1.4 .5 1.2 .5-1.2 .5 1 .5-.6 .5-1.3 .5 1 .5 1 .5-.3 .5-.3 .5-1.3 .5 .7 .5-.3 .5-.9 .5 1.8 .5 .4 .5 .2 .5-1.1 .5-.5 .5-.7 .5 1 .5 1.3 .5-2.4 .5 3.6 .5-1.9 .5 1.4 .5-1.3 .5-1.7 .5-.2 .5-2.6 .5 3.7 .5-1.1 .5 1.2 .5-.6 .5 .4 .5-.5 .5 .1 .5-.5 .5-.9 .5-2.5 .5 0 .5 1 .5 .9 .5 1.6 .5-.9 .5-.9 .5 .1 .5 1.5 .5-1.4 .5 1.9 .5-.7 .5-1 .5 .6 .5-2.4 .5 1.6 .5 1 .5-1.2 .5 .5 .5 .9 .5-.2 .5 .8 .5-3.9 .5 2.5 .5-.1 .5-.6 .5 .5 .5-2.1 .5 2.2 .5-3.1 .5 2.9 .5-2.2 .5 2.8 .5 1.5 .5-.6 .5 .8 .5-2.3 .5-.1 .5 .9 .5-.4 .5 .9 .5 0 .5-.2 .5-3.7 .5 4.3 .5-2 .5 1.4 .5-.4 .5 .3 .5 0 .5 1.3 .5 .3 .5 .3 .5-2 .5-1.4 .5 1 .5-.3 .5-2.7 .5 2.9 .5 .1 .5 .8 .5-1.2 .5 1 .5-.1 .5-2.2 .5 2.5 .5 .3 .5-1 .5 .7 .5-.4 .5 1.4 .5 .4 .5-.1 .5-.6 .5 .3 .5-1.9 .5 1.7 .5 .5 .5 .5 .5-.5 .5-.3 .5-3.6 .5 3.5 .5-1.6 .5 2.1 .5-2.2 .5 2.7V11H400z"/>
<path fill="#fff" d="M400 74l.5-.6 .5 4.6 .5-4.3 .5 .9 .5 10.4 .5-7 .5-2.3 .5-1.2 .5 1.3 .5 2.8 .5-4.9 .5 5 .5-5.8 .5 6.7 .5-5.4 .5-2.3 .5 .6 .5 13.4 .5-12.4 .5 .9 .5 0 .5 .7 .5-.9 .5-.6 .5 .4 .5 .6 .5-1.7 .5 3.3 .5-5.2 .5 .4 .5-.6 .5 1.1 .5 2.3 .5 3.8 .5-5.9 .5 4.9 .5-6.1 .5 3.1 .5 .2 .5-1.2 .5-2.6 .5 .5 .5-.6 .5 2.2 .5 7.8 .5 2.8 .5-11.9 .5 2.1 .5 4.9 .5-8 .5 2 .5 9.3 .5-11 .5 3.5 .5-2.6 .5 0 .5 .5 .5 3.4 .5 1.9 .5-7.5 .5 2.9 .5-3.1 .5 .3 .5 4.1 .5-2.7 .5-.5 .5 5.3 .5-3.8 .5 5.6 .5-6.8 .5 3.2 .5-1.4 .5 1.3 .5-2.2 0-13.3 .5 .5 .5 12.9 .5-4.4 .5-4.7 .5 12.3 .5 16.7 .5 3.5 .5-1.5 .5 10.8 .5-4 .5-16.6 .5-21.1 .5-7.6 .5-.4 .5 3.6 .5 32.1 .5 14.6 .5 6.1 .5 3.3 .5-6.4 .5 4 .5-1.6 .5-8.4 .5-4.8 .5 4.4 .5 1.6 .5 18 .5-8.1 .5-29.2 .5-5.1 .5-5.2 .5-2.3 .5 8.2 .5 11.1 .5-13 .5-21.2 0 12.1 .5 3.3 .5-1.2 .5-4 .5 2.7 .5-4.2 .5 .7 .5 .9 .5-1.6 .5 7.2 .5-6.6 .5 2.9 .5 6.1 .5-4.7 .5-2.2 .5 2.3 .5-1.5 .5 .1 .5 .1 .5 1.9 .5-1.5 .5 1.3 .5-.3 .5 .4 .5 11.5 .5 7.8 .5-11.9 .5 2.1 .5-4.8 .5 1.3 .5 3.2 .5-7.6 .5-1.7 .5 3.8 .5-3.7 .5 3.6 .5-2.6 .5 0 .5 1.9 .5-1.8 .5 5.7 .5 .3 .5-5.7 .5-1.6 .5 4.6 .5-1.3 .5-4 .5 .8 .5 2 .5 3.2 .5 13.5 .5-17 .5-1.8 .5 1.1 .5 0 .5 1.2 .5-2.7 .5 5.1 .5-6 .5-.6 .5 1.9 .5 17.3 .5-18.6 .5 9.8 .5-1.5 .5 8.9 .5 2.5 .5-19.2 .5-.3 .5 .9 .5 6.1 .5-3.8 .5 1.1 .5 0 .5 .9 .5 2.1 .5-3 .5 4 .5-6.2 .5 .8 .5 .1 .5 4.4 .5-3.3 .5-.1 .5 .2 .5-.7 .5 2 .5 1.8 .5 .4 .5-2.7 .5 2.7 .5-.6 .5 .4 .5 4.1 .5 4.1 .5-5.3 .5 3 .5-5.2 .5 2.6 .5-3.1 .5-.6 .5 .2 .5 .7 .5-1.7 .5-3.8 .5 7 .5-7.5 .5 1.5 .5 8.5 .5-8.4 .5 3.1 .5-4.7 .5 15.2 .5-12.9 .5-1.8 .5 .9 .5 10.4 .5-4.9 .5-6.8 .5 .4 .5-.7 .5 5.6 .5-3.9 .5 6.8 .5-7 .5 1.2 .5 8.2 .5-6.6 .5 2.1 .5-3.2 .5 .2 .5-.4 .5-.1 .5 17.8 .5-19.5 .5 2.9 .5-1.7 .5-.2 .5 1.5 .5 11.1 .5-6.9 .5-1.5 .5-3.4 .5 1 .5 7.1 .5-5.1 .5 1.8 .5 3.7 .5 6.2 .5 4.1 .5-9.1 .5-1 .5-5.6 .5 4.2 .5-4.1 .5-3.9 .5 5.4 .5-6.4 .5 .8 .5 .2 .5 1 .5 7.6 .5-7.2 .5-2.6 .5 5.9 .5-3.6 .5 1.7 .5-3.2 .5 5.4 .5-2.7 .5-4.6 .5 14 .5-13.5 .5 16.9 .5-16.6V124H400z"/>
</g>
<g stroke="#262626" stroke-width="0.5" fill="none" opacity="0.45">
<rect x="399.4" y="10.5" width="146.1" height="113.9"/>
<path d="M399.4 124.4v-1.3M399.4 10.5v1.3M435.9 124.4v-1.3M435.9 10.5v1.3M472.4 124.4v-1.3M472.4 10.5v1.3M509 124.4v-1.3M509 10.5v1.3M545.5 124.4v-1.3M545.5 10.5v1.3M399.4 10.5h1.3M545.5 10.5h-1.3M399.4 29.5h1.3M545.5 29.5h-1.3M399.4 48.5h1.3M545.5 48.5h-1.3M399.4 67.5h1.3M545.5 67.5h-1.3M399.4 86.4h1.3M545.5 86.4h-1.3M399.4 105.4h1.3M545.5 105.4h-1.3M399.4 124.4h1.3M545.5 124.4h-1.3"/>
</g>
<g fill="#262626" stroke="#262626" stroke-width="0.1">
<text x="472.4" y="7.9" font-size="8" text-anchor="middle" fill="#000" stroke="#000" stroke-width="0.12">Jump</text>
<g font-size="4.2">
<text x="399.4" y="131.3" text-anchor="middle">0</text>
<text x="435.9" y="131.3" text-anchor="middle">0.5</text>
<text x="472.4" y="131.3" text-anchor="middle">1</text>
<text x="509" y="131.3" text-anchor="middle">1.5</text>
<text x="545.5" y="131.3" text-anchor="middle">2</text>
<text x="397.1" y="12.1" text-anchor="end">800</text>
<text x="397.1" y="31" text-anchor="end">600</text>
<text x="397.1" y="50" text-anchor="end">400</text>
<text x="397.1" y="69" text-anchor="end">200</text>
<text x="397.1" y="88" text-anchor="end">0</text>
<text x="397.1" y="107" text-anchor="end">-200</text>
<text x="397.1" y="126" text-anchor="end">-400</text>
</g>
<g font-size="4.4">
<text x="472.4" y="137" text-anchor="middle">Sample</text>
<text transform="translate(384.7 67.5) rotate(-90)" text-anchor="middle">Amplitude</text>
<text x="535.1" y="138.6" font-size="4.6">×10<tspan dy="-1.8" font-size="3.4">4</tspan></text>
</g>
</g>
<g filter="url(#bl)">
<rect x="23" y="178" width="39" height="88" fill="#1CBEF5"/>
<path fill="#CD0F2D" d="M23 185.2l.5 5.1 .5-.3 .5 .1 .5 .2 .5 .3 .5 .3 .5-1 .5 .8 .5-.7 .5 .3 .5-.6 .5-.9 .5 0 .5 .1 .5 .6 .5 .7 .5 .3 .5-.4 .5 .5 .5-.5 .5 .8 .5-3.1 .5-1.1 .5-.7 .5 .3 .5-.8 .5-.7 .5-1.7 .5 .4 .5-1.2 .5-.8 .5-1.8 .5 1.5 .5-.3 .5 1 .5 1 .5-.2 .5 0 .5 0 .5-.7 .5 .8 .5 3.2 .5-2.1 .5-.5 .5 1.1 .5 .1 .5 0 .5-1.3 .5 1.7 .5-1.1 .5-.6 .5-1.2 .5-.3 .5-.2 .5 0 .5 .4 .5-.7 .5-1.3 .5 2.4 .5-1.3 .5-.6 .5 2.1 .5-.9 .5 .1 .5-1.1 .5 .4 .5 .5 .5-.7 .5 .6 .5 .2 .5 1.5 .5 .7 .5 1.4 .5 .2 .5 .9 .5 .5 .5 .7 .5 .1V266H23z"/>
<path fill="#A028B4" d="M23 190.2l.5 3.7 .5 1.1 .5-.6 .5 .7 .5 .4 .5-1.4 .5 .5 .5 .1 .5-1.3 .5 .2 .5-1.3 .5 .7 .5-1.6 .5 1.6 .5 0 .5 .5 .5 1.4 .5-1 .5 .3 .5 .4 .5-1.3 .5-2 .5-.8 .5-1.1 .5 .6 .5-.6 .5-.5 .5-.6 .5-.8 .5 0 .5-1.3 .5-1.8 .5 1.6 .5-.1 .5-.2 .5 1 .5 .3 .5-.1 .5-1.7 .5 2.7 .5-1 .5 1.4 .5-.6 .5 .9 .5-1.5 .5 .6 .5 .2 .5 1.3 .5-.7 .5-1.9 .5 .9 .5-1.4 .5-.3 .5-.2 .5 .6 .5-1 .5 .6 .5 1.5 .5-1.2 .5 0 .5-.5 .5-.2 .5 1.2 .5-.9 .5-1.6 .5 1.1 .5 .3 .5 .5 .5 1.3 .5-.4 .5 0 .5 .7 .5 1.8 .5 .7 .5 .9 .5 .2 .5 .8 .5-.2V266H23z"/>
<path fill="#1CBEF5" d="M23 191.5l.5 4.1 .5 0 .5-.6 .5 2.2 .5-1.1 .5 .1 .5-.3 .5 .1 .5 .2 .5-1 .5 .4 .5-.4 .5-1.4 .5 .4 .5 1.2 .5 0 .5 1.4 .5-1.7 .5 .1 .5 .4 .5-.4 .5-2.2 .5-1.2 .5-.4 .5-.5 .5 .1 .5-.2 .5-2 .5 .4 .5-.5 .5-1.3 .5-1.2 .5-.3 .5 2 .5 .4 .5 0 .5 .4 .5-1.7 .5 4.1 .5-2.7 .5 0 .5 .2 .5 .3 .5-.2 .5 0 .5 .3 .5 .7 .5-.4 .5 1.5 .5-.6 .5-1.6 .5-1.5 .5 .9 .5-1.1 .5 .7 .5-.4 .5 .3 .5 .9 .5-.2 .5-1.2 .5 3.2 .5-2.7 .5 .8 .5-.3 .5-.5 .5-.4 .5 .1 .5 .6 .5 0 .5 .3 .5 1.3 .5 1.2 .5 .6 .5 .4 .5-.2 .5 1.8 .5 1 .5-.7V266H23z"/>
<path fill="#6EB928" d="M23 191.6l.5 4.5 .5 0 .5 .3 .5 .5 .5 .8 .5-.3 .5 .3 .5-1.9 .5 .2 .5 1.2 .5-1 .5-.3 .5-2.5 .5 4 .5-1.7 .5-.3 .5 .6 .5 0 .5 1.1 .5-.1 .5-1.4 .5-1.9 .5-.9 .5 .1 .5-.4 .5-1.8 .5 3.7 .5-1.8 .5-1.8 .5-.3 .5-2 .5 0 .5-.7 .5 .8 .5 2.4 .5-1 .5 1 .5 .1 .5-.6 .5 2.2 .5-1 .5 .4 .5 1 .5 0 .5-.7 .5 .7 .5 .9 .5 .4 .5 .3 .5-2.8 .5 1.4 .5-.9 .5 1.5 .5-2.2 .5 1.1 .5 .1 .5 .5 .5 .4 .5-.2 .5-.8 .5-.6 .5 .4 .5 .8 .5-.5 .5-.7 .5 .4 .5 .7 .5-.4 .5 .4 .5-.1 .5 .9 .5 .7 .5 .5 .5 .6 .5-.1 .5 .9 .5 .9 .5-.4V266H23z"/>
<path fill="#FF5F10" d="M23 192.3l.5 4.7 .5 .4 .5 .9 .5-.3 .5 .7 .5-.3 .5-1.5 .5 1.6 .5-1.1 .5 .6 .5-.7 .5-.5 .5-.4 .5-.1 .5 .6 .5 .8 .5 .1 .5-.2 .5 1.2 .5 .2 .5-2.3 .5-.5 .5-.4 .5-.8 .5-.6 .5-.2 .5 .6 .5 .3 .5-.4 .5-2.3 .5 1 .5-1 .5 .4 .5-.2 .5 1.4 .5 1 .5-.7 .5 .5 .5-.9 .5 0 .5 .1 .5 .9 .5-.3 .5 .6 .5-.7 .5 .9 .5-.6 .5 0 .5 .2 .5-.4 .5 .6 .5-2.2 .5 .8 .5 .1 .5 .3 .5-.6 .5 1.3 .5-.2 .5-.3 .5-.9 .5 .4 .5-.7 .5 1.2 .5-.6 .5 .3 .5-.9 .5 .6 .5 1.1 .5-.4 .5 1.1 .5-.6 .5 1.5 .5-.8 .5 1.4 .5 1.1 .5-.7 .5 .5 .5 1.4V266H23z"/>
<path fill="#1CBEF5" d="M23 195l.5 4.1 .5 .5 .5 0 .5 1.6 .5-.1 .5-2.2 .5-.7 .5 1.6 .5-1 .5 .7 .5-1.3 .5 .6 .5-.8 .5 .6 .5 .7 .5-.1 .5 1 .5 1.8 .5-2.1 .5 1.5 .5-1.3 .5-2 .5-.4 .5-.7 .5 .4 .5-.3 .5 2.5 .5-1.7 .5-1.3 .5-.3 .5-.9 .5-.4 .5 .5 .5 .5 .5-.1 .5 1.3 .5-1.4 .5 1.3 .5-1.7 .5 .8 .5 .2 .5 .3 .5-.9 .5 .9 .5-.5 .5-.4 .5 .6 .5 .4 .5-2.2 .5 1.5 .5 0 .5-1.6 .5-.3 .5-.2 .5 1.1 .5 .4 .5 .5 .5-.8 .5 0 .5 0 .5-1.4 .5 1.1 .5 .4 .5 0 .5-1 .5 .4 .5 .1 .5-.2 .5 3.4 .5-.8 .5-.1 .5 1 .5-.2 .5 1.6 .5 0 .5 .1 .5 .3 .5 .6V266H23z"/>
<path fill="#CD0F2D" d="M23 205l.5 3.3 .5-3.6 .5 6.1 .5-3.2 .5 1.8 .5-5.5 .5 3.7 .5-1.4 .5-2.9 .5-5.8 .5 6.2 .5 3.1 .5-2.5 .5-.9 .5 .3 .5 1.6 .5-.8 .5-2.1 .5 3 .5-.3 .5 .7 .5-5.3 .5 1.7 .5 .1 .5-.6 .5 1.2 .5 .8 .5-1.4 .5-2.3 .5-.8 .5 1.1 .5 3.7 .5-.7 .5-3 .5 1 .5-1.2 .5 .8 .5-5.2 .5 5.5 .5 .3 .5-2.1 .5-1.5 .5 .2 .5 2.2 .5-3.2 .5 1.5 .5 .6 .5-1.1 .5-1 .5 .1 .5 1.2 .5-2.3 .5 .6 .5-.1 .5-.7 .5 .3 .5 .2 .5 3.5 .5-5.9 .5-2.2 .5 5.4 .5 .2 .5-.1 .5-5 .5 4.4 .5 1.8 .5-2.2 .5-2 .5 8.7 .5-3.2 .5-1.1 .5 2.4 .5 2.5 .5 .9 .5-1.7 .5 2.4 .5-.8 .5-.1V266H23z"/>
<path fill="#FFB40A" d="M23 245.5l.5-1 .5-.9 .5-2.1 .5-1 .5-3.3 .5-2.6 .5-2.3 .5-1.7 .5-.4 .5 .1 .5-2.2 .5 .8 .5 .7 .5-1 .5 0 .5-.5 .5-.2 .5 .9 .5-.4 .5-1 .5 .8 .5-1.7 .5-1.7 .5 .5 .5-.6 .5 .6 .5 .5 .5 1.6 .5-.9 .5-.3 .5-.3 .5-1.6 .5-.3 .5 .3 .5-.3 .5-2.9 .5-1 .5-2.5 .5-1.1 .5-1.2 .5-2.2 .5-.5 .5-.5 .5-2.9 .5-2.4 .5-1.2 .5-1.4 .5-1.8 .5-.2 .5-.2 .5 .9 .5-1.9 .5 .1 .5-.1 .5 1.9 .5 .7 .5 .8 .5-.6 .5 .2 .5-.4 .5-.3 .5-.1 .5 .2 .5 2.6 .5-2.6 .5-.2 .5 1.3 .5-.2 .5-.2 .5 1.6 .5 1.5 .5 .4 .5 .9 .5 .2 .5 1.4 .5 0 .5 .7 .5 1.1V266H23z"/>
<path fill="#CD0F2D" d="M23 245.7l.5-.9 .5-1.5 .5-2.4 .5-.8 .5-2.8 .5-2 .5-1.5 .5-2.6 .5-.4 .5-1.3 .5-.1 .5 .6 .5-.1 .5-.7 .5-.5 .5 .5 .5-1.1 .5 .5 .5 0 .5-1.4 .5 2.8 .5-3.3 .5-.7 .5-1.5 .5 1.4 .5-.4 .5 .1 .5 .2 .5 .5 .5 .4 .5-1.4 .5 .2 .5 .2 .5-.4 .5 .8 .5-2.9 .5-1.7 .5-.9 .5-1.6 .5-.5 .5-1.1 .5-1.5 .5-.8 .5-1.2 .5-.6 .5-2.5 .5 .3 .5-2.1 .5 1.4 .5-1.2 .5 .7 .5-.6 .5 .8 .5-2.7 .5 3 .5 .1 .5 .5 .5-1.2 .5 .3 .5-1.1 .5-.5 .5 .9 .5 .2 .5 .1 .5 .2 .5-.9 .5 1.4 .5-.6 .5 .2 .5 .6 .5 .7 .5 2 .5-.4 .5 .7 .5 1.3 .5-.3 .5 .5 .5 .5V266H23z"/>
<path fill="#1CBEF5" d="M23 247.3l.5-2.2 .5-1.7 .5-3.1 .5-1.1 .5-.8 .5-4.1 .5 .1 .5-1.8 .5-2.6 .5-1.1 .5 2 .5-.6 .5 .9 .5 .5 .5-3.8 .5 1 .5-.9 .5 .6 .5-1.3 .5 2.6 .5-2.1 .5-2.6 .5-1.1 .5 1 .5 0 .5 1.2 .5-1.4 .5 .6 .5 2.6 .5-2.5 .5-1.6 .5 .3 .5 2.9 .5-3.1 .5-.1 .5 0 .5-1.4 .5-3.6 .5 .9 .5-1.3 .5-.3 .5 .6 .5-1.5 .5-2.4 .5 .5 .5-2.4 .5 1.3 .5-2 .5-2.4 .5 7 .5-5.2 .5-5.3 .5 6.4 .5-1.9 .5 1.5 .5 1.7 .5 7.7 .5-10.1 .5 2.3 .5 1.6 .5-1 .5-2.5 .5-1.4 .5 2.7 .5 .5 .5-1.5 .5 1.9 .5-3 .5 5.1 .5-1.2 .5-1.2 .5 2.9 .5 2.9 .5-1.8 .5 1 .5 .8 .5 .9 .5-.3V266H23z"/>
<path fill="#FF5F10" d="M23 244.9l.5 1.6 .5-2.3 .5-3.8 .5 3.9 .5-7.1 .5-1.6 .5-1.9 .5 2.4 .5-4.4 .5 .7 .5-2.8 .5 0 .5 1.5 .5-1.2 .5-.9 .5-2.4 .5 2.2 .5-2.5 .5 3.6 .5-1.8 .5 .2 .5-1.6 .5-6.8 .5 9.2 .5-4.5 .5 2.2 .5 2 .5-2.7 .5-.5 .5-1.8 .5 1.2 .5 .4 .5-.1 .5-.9 .5 1.7 .5 .3 .5-1.8 .5-1.4 .5-.5 .5-.6 .5 4.4 .5-.9 .5-4.8 .5 .4 .5 2.4 .5-1.7 .5-.8 .5 2.9 .5-2.6 .5-.4 .5 2.4 .5-2.1 .5-.6 .5-4.7 .5 6 .5 2.2 .5-.3 .5-3.2 .5 1.5 .5-.7 .5-.7 .5 .2 .5 1.9 .5-1.7 .5 0 .5 .1 .5 .6 .5 1.3 .5 1 .5-.5 .5 3.2 .5-.1 .5 0 .5-.3 .5 2.5 .5-3.7 .5 1.7 .5-.7V266H23z"/>
<path stroke="#A028B4" stroke-width="0.7" fill="none" opacity="0.85" d="M29.5 203.6v4.6M31.2 202v3.5M32.8 199.3v6.7M33 194.6v6.1M31 198.2v4M29.2 203.4v4.6M35.3 196.5v5.2M23.8 196.8v6.9M35.4 196.8v6.6M34.2 193.1v3.5M26.5 203.9v7M34.5 195.2v3.6M26.3 202.3v6.9M37.5 199.8v3.7M24.3 205.6v6.7M26.4 198.2v6.7M27.2 195.2v6.6M23.5 201.9v6.1M37.3 188.9v6.1M36 193.9v4.9M29.9 195.8v2.9"/>
<path stroke="#FF5F10" stroke-width="0.7" fill="none" opacity="0.85" d="M31.6 198.4v4.9M24.2 209.2v5.4M25.1 201.3v4.1M34.2 193.5v2.6M26.8 201.3v3.7M34.7 197.3v3.8M31.5 201.8v6.5M30.8 195.8v3.8M34.6 198.4v4.8M27.9 202.6v5.9M30.4 201.2v3.3M24.3 198v6.5M32.7 196v7M26 200.2v5.5M28.1 202.7v6.1M26.6 195.3v6.3M23.9 206.7v6.3M23.3 206.2v3.5M23.5 198.4v2.5M27.5 201.4v4.1"/>
<path stroke="#CD0F2D" stroke-width="0.7" fill="none" opacity="0.85" d="M24.7 207.1v3.4M36.2 194.7v5M25.9 206.3v4.6M35.6 190.9v4.5M36.2 196.5v3.7M24.6 204v5.3M33.1 196.7v5.4M30.6 195.7v2M30.1 203.5v2.7M37.4 192.5v3.3M37.5 188.4v6.7M26.2 199.6v3.5M24.9 206.6v4.9M35.1 197.5v6.4M35 197.3v7M35.7 199.6v5.5M26.3 198.2v3M34.6 194.6v5.9M33.2 195.5v6.8M31.3 203.2v3.8M29.3 199.5v4.6M35.4 192.7v2.7M32.9 197.1v6.9M35.2 194.3v2.3M32.7 200v6.5M23.3 197.7v6.5M34.9 193.7v6.8M30.5 193.5v6M36.7 193.7v3.8M28.2 197.9v2.5M36.8 193.4v2.6M30.6 198.2v2.4M35.2 198.7v4.1M36 192.8v6.7M32.3 198.1v2.5M27.4 202.6v4.3"/>
<path stroke="#0573D7" stroke-width="0.7" fill="none" opacity="0.85" d="M29.6 195.1v5.3M33.4 203.5v4.4M26 198.1v2.4M30.1 201.4v2.3M25.1 197.2v4.9M25.2 201.6v7M27 197.5v5.8M31.5 195.9v6.5M33.7 196.8v6.4M28.7 193.6v6.9M35.7 193.4v4.7M27.6 202.6v6.7M31.9 201.8v6.6"/>
<path stroke="#A028B4" stroke-width="0.7" fill="none" opacity="0.85" d="M59.1 219v3.5M58.6 226.2v2.6M61.8 220.1v5.2M55.2 228.5v3.7M47.5 215.7v5.6M55.5 226.8v6.5M52.7 222.7v5M49.4 222.6v3.8M52.9 217.9v2.8M56.1 227.6v3.6M61.1 219.8v6.5M56.1 213.9v3.5M56.3 226v2.7M48.1 213.9v4.6"/>
<path stroke="#0573D7" stroke-width="0.7" fill="none" opacity="0.85" d="M55.3 217.9v5.9M53.9 226.4v3.3M53.4 227.6v3.9M46.9 214.7v2.6M59.9 225.8v6.5M61.7 217.5v4.7M60 215.5v4.5M54.7 223.1v4"/>
<path stroke="#FF5F10" stroke-width="0.7" fill="none" opacity="0.85" d="M59.6 220.3v6.2M61.1 228.8v3.4M49 224.6v4.6M56 223.6v5.5M50.2 214.6v2.1M49.2 217.6v4.7M59.3 220.8v2.2M48.6 224.9v6.2M49.2 220.6v4.2M60.7 227.5v6.4M53.6 224.6v2.9M47.9 214.8v4.6M61.9 219.4v6.9"/>
<path stroke="#FFB40A" stroke-width="0.7" fill="none" opacity="0.85" d="M52.5 225.1v6.5M54.6 215v4M47.8 221v4.1M53.7 216.3v4M48 227.7v4.2M48.4 222.9v6.8M58.9 215.2v5.2M46.9 222v6.4M62 223.5v4M57.3 224.7v6.4M54 220.5v3.9M59.6 220.5v6M61.2 224.9v3.7M52.2 231.1v4.9M47.8 217.6v4.8"/>
<path stroke="#FFB40A" stroke-width="0.7" fill="none" opacity="0.85" d="M28.8 224.8v5.5M34.4 225.7v5.6M30.4 227.8v3.5M29.9 229.2v5.2M33.4 222.5v3.2M30.9 222.1v5.9M27.4 226.8v3M29.5 223.7v4.4M32 225.4v6M34.6 223.1v5.1M33.2 221v5.7M32.4 223.1v3.6M29.8 222.2v5.5M32 228.8v2.8M30.6 230v2.8M32.8 229.6v2.7M27.7 228.6v2.9M34.3 225.5v5.8M31.5 222.5v5"/>
<path stroke="#FF5F10" stroke-width="0.7" fill="none" opacity="0.85" d="M32.8 227.2v3.1M30.7 225.5v4.7M35.7 226.5v2.2M29.4 225.5v5.4M35.3 218.8v4.6M31.5 224.4v2.2M30.9 223.5v5.5M28.2 229.2v3.8M35 219.9v5.2M33.9 227v3.5M34 221.4v5.5"/>
<rect x="62" y="172" width="10" height="94" fill="#1CBEF5"/>
<path fill="#CD0F2D" d="M62 183.5l.5 2.5 .5 .1 .5 1.9 .5-.6 .5 .3 .5 1.2 .5-5.3 .5-1.8 .5 .3 .5 1.9 .5-1 .5 5.8 .5-.8 .5-1.8 .5-1.7 .5-1.1 .5-6.2 .5-.5 .5 1 .5 .8V266H62z"/>
<path fill="#1CBEF5" d="M62 194.7l.5 2 .5-4.4 .5 3.8 .5 .1 .5 2.1 .5-4.3 .5-4.7 .5 .3 .5-.8 .5-2.3 .5 7.8 .5 1 .5 1.6 .5-5.5 .5-2.4 .5-3.5 .5-1.2 .5-3.6 .5 1.3 .5-1.8V266H62z"/>
<path fill="#CD0F2D" d="M62 197.9l.5 2.2 .5 .1 .5 2.8 .5 1.6 .5-2.1 .5-6 .5-5.1 .5-.8 .5 .2 .5 1.3 .5 4.7 .5 2.7 .5 2.2 .5-4.4 .5-5.3 .5-3.4 .5-1.4 .5-8.4 .5 9.5 .5-4V266H62z"/>
<path fill="#A028B4" d="M62 205.1l.5 3.4 .5-2.4 .5 2.4 .5 4 .5 8.2 .5-10.2 .5-8.1 .5-4.3 .5 .6 .5 1.3 .5 2.8 .5 3.8 .5 3.1 .5-6.9 .5-2.4 .5-7.2 .5-3.4 .5 3.1 .5 .9 .5-1.6V266H62z"/>
<path fill="#CD0F2D" d="M62 209.6l.5 5.5 .5-2.6 .5 1.8 .5 6.9 .5 7.5 .5-15 .5-8.4 .5-4.5 .5-1.8 .5 8.4 .5 5.7 .5 2.8 .5-1.5 .5-2.2 .5-4.7 .5-10.1 .5 3.6 .5 3.9 .5-3.6 .5-4.5V266H62z"/>
<path fill="#0573D7" d="M62 220.6l.5 8 .5 2.3 .5 4 .5 7.3 .5 9.6 .5-19.7 .5-13.3 .5-1.6 .5 2.4 .5-2.3 .5 14.5 .5 3.8 .5 4 .5-8.1 .5-6.6 .5-14 .5 9 .5-2.6 .5 5.6 .5-2.3V266H62z"/>
<path fill="#CD0F2D" d="M62 222.3l.5 10 .5 .2 .5 2.8 .5 11.5 .5 9 .5-13.2 .5-16.6 .5-6.1 .5 3.9 .5-.3 .5 11.4 .5 5 .5 7.3 .5-13.6 .5-2.5 .5-16 .5 7.6 .5-1.4 .5 10.6 .5-5.7V266H62z"/>
<rect x="72" y="171" width="93" height="95" fill="#1CBEF5"/>
<path fill="#CD0F2D" d="M72 174.1l.5 .5 .5-.3 .5-.2 .5 .8 .5 1.5 .5-1.2 .5 .3 .5-.2 .5-.2 .5-.4 .5 .4 .5-.5 .5 .2 .5-.1 .5-.1 .5-.3 .5 .2 .5-.3 .5-.8 .5 1.4 .5-.8 .5 1.4 .5-.8 .5 .1 .5-.9 .5-.4 .5 1.5 .5 .2 .5-.2 .5 .5 .5-.7 .5 .1 .5-.4 .5 .3 .5 .1 .5-.1 .5 0 .5 .1 .5 .4 .5-.3 .5-.4 .5 .8 .5-1.3 .5 .5 .5-.2 .5 .2 .5-.2 .5 0 .5 0 .5 .5 .5 .3 .5-1.5 .5 1.1 .5 .2 .5 1 .5-1 .5 .2 .5 0 .5-.4 .5 .2 .5-.4 .5 .6 .5 .1 .5-.2 .5-.8 .5 .2 .5-.4 .5 .6 .5-.2 .5 .4 .5-.2 .5-.2 .5 .3 .5-.1 .5 .2 .5 .4 .5-1.5 .5 .8 .5 .8 .5-1 .5 .5 .5 1 .5-1.1 .5 .8 .5-.8 .5 .2 .5 .1 .5-.8 .5 .8 .5-.1 .5-1.4 .5 1.1 .5 .6 .5-.7 .5-.1 .5-.1 .5-.7 .5 .4 .5 .5 .5-.5 .5 1.1 .5-.1 .5-.2 .5 .1 .5 .1 .5-1.3 .5 2 .5 .3 .5-.9 .5-.1 .5 .2 .5-2.3 .5 2 .5-.3 .5-1.5 .5 1.4 .5 .7 .5-.6 .5 0 .5 .3 .5 .4 .5-.8 .5 1.4 .5-1.4 .5-.1 .5-.8 .5 1.5 .5-.6 .5 .1 .5-.3 .5-.5 .5 .4 .5-.2 .5 .5 .5 .2 .5 0 .5-.1 .5-.1 .5 .4 .5-.4 .5 1 .5-.6 .5-.1 .5 .6 .5-.8 .5 1 .5-.1 .5-.7 .5-.2 .5 .5 .5-1.1 .5 .9 .5 .1 .5-.6 .5-1.7 .5 1.5 .5 .6 .5-.2 .5 1 .5-1.5 .5 1.2 .5 .1 .5-1.3 .5-.3 .5 1 .5 0 .5 0 .5-.2 .5-.3 .5 .8 .5 .7 .5-1.6 .5 1.5 .5-.7 .5-.2 .5 .4 .5 .3 .5-.6 .5 0 .5 .1 .5 0 .5 .4 .5-.6 .5 1.1 .5 .4 .5-.8V266H72z"/>
<path fill="#FF5F10" d="M72 177l.5 .6 .5 .6 .5-.3 .5 .5 .5-.2 .5-.4 .5 .6 .5-.2 .5 .3 .5-1.1 .5 1.2 .5-.7 .5 .3 .5-.6 .5-.5 .5 0 .5 .4 .5-.3 .5 .5 .5 .1 .5 .4 .5-.3 .5-.1 .5-.1 .5-.7 .5 1 .5-.5 .5 2.4 .5-1.5 .5-1.2 .5 .9 .5-.6 .5-2 .5 2.5 .5 .5 .5-1 .5 1.9 .5-1.4 .5-.1 .5 .8 .5-.9 .5-.2 .5 .8 .5-.2 .5-.3 .5 .1 .5-.2 .5 .4 .5-.3 .5 .1 .5-.2 .5 .5 .5 .1 .5-.4 .5-.2 .5-.2 .5 .7 .5-.5 .5 .6 .5-.1 .5-.8 .5 .9 .5-.8 .5 0 .5 .3 .5 .6 .5-1 .5 .6 .5-.1 .5-.5 .5 .4 .5 .1 .5 0 .5 .5 .5-.4 .5 .3 .5-1.1 .5 1.6 .5-.9 .5 .2 .5-.7 .5 .6 .5 .3 .5 .2 .5 0 .5-.4 .5-.1 .5 .3 .5-.4 .5-.4 .5 .6 .5 .1 .5-.6 .5-.5 .5 .9 .5 .1 .5-1.1 .5 .8 .5 .1 .5-.5 .5 .6 .5-1.1 .5 1.1 .5 0 .5 .3 .5-1.2 .5 1.5 .5-.3 .5 .3 .5-.7 .5 .8 .5-.4 .5-1.1 .5 1.4 .5-.9 .5 .1 .5 0 .5 .5 .5 .2 .5-.8 .5 1.1 .5-.8 .5 .7 .5-.8 .5 .4 .5-.8 .5 .7 .5-.3 .5 .1 .5 1.9 .5-1.7 .5-.7 .5 .3 .5 .2 .5-.1 .5-.4 .5 .6 .5-.1 .5 0 .5 0 .5-.1 .5 .9 .5-.5 .5 .4 .5 .2 .5 0 .5-.3 .5 .3 .5-.8 .5 0 .5 .5 .5-.5 .5 0 .5 .2 .5-.1 .5 .6 .5-.6 .5 .6 .5-.9 .5 .7 .5-.2 .5-.7 .5 .5 .5 .2 .5-.1 .5 .5 .5-.6 .5 .3 .5 0 .5 .5 .5 .6 .5-.5 .5 .2 .5 .1 .5-.6 .5 0 .5-.5 .5 .3 .5 .1 .5-1 .5-.8 .5 2.8 .5-1.8 .5 1.3 .5-.1 .5 .3V266H72z"/>
<path fill="#0573D7" d="M72 179.3l.5 0 .5-.1 .5 .7 .5 .6 .5-.8 .5 .8 .5-.8 .5 .4 .5 .2 .5-.4 .5-.4 .5 .1 .5 .2 .5 .8 .5-1 .5 .5 .5-.8 .5-.1 .5-.2 .5 .3 .5-.2 .5 1.2 .5-.1 .5 0 .5-.8 .5 .9 .5-.7 .5-.2 .5 .4 .5-.6 .5 .5 .5 .7 .5-.8 .5-.1 .5-.7 .5 .7 .5 .3 .5 .4 .5-.7 .5-.1 .5 .9 .5-1.3 .5 .2 .5-.1 .5 .8 .5-.5 .5 .4 .5 .1 .5-.1 .5 .1 .5-.4 .5 .6 .5-.1 .5-.4 .5-.1 .5 0 .5 .8 .5-.2 .5-.2 .5-.7 .5 1.1 .5-1.9 .5 1 .5 .7 .5-.8 .5-.1 .5 .3 .5 .1 .5 .1 .5-.3 .5-.8 .5 .6 .5 .2 .5 .1 .5 .1 .5 .3 .5-.5 .5-.3 .5 1.1 .5-.4 .5-.2 .5-.4 .5 .4 .5 .6 .5-.3 .5-1.2 .5 1.1 .5 0 .5 0 .5-.8 .5 .4 .5 .7 .5-.4 .5 0 .5-.4 .5-.1 .5-.6 .5 .7 .5-.1 .5-.1 .5 .5 .5-.3 .5 .4 .5-.2 .5 .1 .5 1 .5-1 .5-.2 .5 0 .5-1.1 .5 1.2 .5-.3 .5 .1 .5 .3 .5 .2 .5 .1 .5-.3 .5-.6 .5 1.2 .5-.2 .5 .3 .5-.1 .5-.4 .5 1.1 .5-.7 .5-.7 .5 .4 .5-.5 .5-.4 .5 .5 .5 1.4 .5-1.4 .5 .5 .5-.8 .5 .4 .5 0 .5 .9 .5-1.1 .5-.6 .5 1.2 .5-.1 .5-.2 .5 .8 .5-.7 .5 .2 .5 .2 .5 .8 .5-1 .5 .3 .5-1.1 .5 1.2 .5-.6 .5 .3 .5-.1 .5-1.3 .5 1.1 .5-.4 .5 0 .5 .7 .5-.6 .5 .5 .5-.1 .5-.3 .5 0 .5-.7 .5 1.2 .5-1.3 .5 1.2 .5 .7 .5 0 .5-.1 .5 0 .5 .6 .5-.5 .5-.5 .5 0 .5-.6 .5 .8 .5 0 .5-.3 .5 .5 .5-1.4 .5 .4 .5 .8 .5 2.1 .5-1.3V266H72z"/>
<path fill="#A028B4" d="M72 180.4l.5-.6 .5 .7 .5 .4 .5 .4 .5 .8 .5-1 .5-.2 .5 .3 .5-.6 .5 0 .5 .1 .5-.2 .5 1.2 .5-1.4 .5 .1 .5-.2 .5 1.8 .5-2 .5 .3 .5 .7 .5-.6 .5 0 .5-.7 .5 .8 .5 0 .5 .1 .5-.2 .5 .1 .5 .3 .5-.2 .5 .4 .5-.4 .5 0 .5 .2 .5-.4 .5 0 .5-.4 .5 .5 .5 .5 .5 .6 .5-.6 .5-1 .5 .8 .5-.7 .5 .2 .5 .1 .5-.1 .5-.3 .5 .4 .5 .1 .5 .5 .5-.7 .5-.3 .5 1.1 .5-.2 .5-.1 .5-.4 .5 0 .5 .7 .5-.8 .5 .9 .5-.9 .5 .5 .5-.5 .5-.2 .5 .1 .5-.8 .5 1 .5 .6 .5-.7 .5-.3 .5 .6 .5 .6 .5-.7 .5 0 .5 .3 .5-.9 .5 .6 .5 .2 .5-.2 .5 .2 .5 .4 .5-.3 .5 .3 .5-.4 .5 .6 .5-.7 .5 .1 .5 0 .5-1.6 .5 1.8 .5-.5 .5 0 .5-.4 .5-.2 .5 .5 .5 .2 .5 0 .5 .4 .5 .4 .5-1.1 .5-.2 .5 1.3 .5-.8 .5 .2 .5-.2 .5 .9 .5-.3 .5-.1 .5 .4 .5-.4 .5-.2 .5 0 .5 .4 .5-.7 .5 .1 .5-.3 .5 .3 .5 .2 .5 .2 .5-.1 .5 0 .5-.5 .5-.3 .5 1.2 .5-.8 .5 1.1 .5-1.2 .5-.5 .5 .7 .5-.4 .5 .2 .5-.9 .5 1.5 .5-.8 .5 .4 .5 0 .5 .1 .5 .8 .5-.2 .5-.5 .5 0 .5 .2 .5-.2 .5 .1 .5 .8 .5-.5 .5-.3 .5-.2 .5 .1 .5 0 .5-.3 .5 .4 .5-.4 .5 0 .5 .3 .5-.2 .5 0 .5 .2 .5-.9 .5 .9 .5 .6 .5-.5 .5 .2 .5-1.4 .5 .8 .5-.3 .5 .2 .5 .4 .5-.1 .5 1.4 .5-.6 .5-.2 .5-.2 .5-1.6 .5 .8 .5 .9 .5-.3 .5-.1 .5 0 .5 0 .5 .5 .5-.2 .5 .1 .5-1.4 .5 1.7V266H72z"/>
<path fill="#1CBEF5" d="M72 181.8l.5-.8 .5 .4 .5 .7 .5-.5 .5 .4 .5-.1 .5 .3 .5 .3 .5-.4 .5-.8 .5 .6 .5-.2 .5-.2 .5-.8 .5 .7 .5 0 .5 0 .5-.2 .5-.4 .5 .7 .5-.7 .5 .1 .5 .6 .5 .6 .5-.4 .5 .5 .5-1.1 .5 0 .5 .7 .5-.3 .5 0 .5-.2 .5 .2 .5 .3 .5-.5 .5 .2 .5-.2 .5 .4 .5 .1 .5-.3 .5 .1 .5-.3 .5-.6 .5 .1 .5-1.2 .5 2.3 .5 .3 .5-1.3 .5 1 .5-.2 .5 .3 .5-.1 .5-.2 .5-.1 .5 .1 .5 .5 .5-.5 .5-.2 .5 1.9 .5-1.8 .5-.3 .5 .2 .5 .6 .5-.2 .5-.1 .5 .1 .5 1.4 .5-2 .5 0 .5 .8 .5-.1 .5-.4 .5-.2 .5-.2 .5 1.5 .5-1 .5 .1 .5-.5 .5 .2 .5 .1 .5 .6 .5 0 .5-.5 .5-.5 .5 .7 .5 .1 .5 .5 .5-.6 .5-.6 .5 .2 .5 .1 .5-.4 .5 .9 .5-1 .5-1 .5 1.1 .5 .3 .5 0 .5-.4 .5-.1 .5 .3 .5 .4 .5 .9 .5-.6 .5-.7 .5 1.1 .5-.1 .5-.2 .5 .2 .5-1.5 .5 1.3 .5-.4 .5 1.5 .5-.7 .5-.8 .5 .2 .5-.2 .5 .1 .5-.1 .5 .4 .5-1.1 .5 .1 .5 .7 .5-.1 .5-1 .5 1.4 .5-.2 .5-.1 .5 .1 .5 .2 .5-1.1 .5 .3 .5 0 .5 .1 .5 .4 .5-.2 .5 .8 .5-1.1 .5 .2 .5 .9 .5-.7 .5 .2 .5 0 .5 .3 .5 .6 .5-.6 .5-.4 .5 .6 .5-.5 .5-.6 .5-.2 .5 1 .5-.1 .5-.3 .5-.5 .5 1.6 .5-.7 .5-.1 .5-.3 .5-.3 .5 .1 .5 .3 .5-.3 .5-.4 .5 .9 .5-.1 .5-.1 .5 .4 .5 0 .5 1.1 .5-1.1 .5 .5 .5-.1 .5 1 .5-1.3 .5-.3 .5 .1 .5 .5 .5-1.1 .5 .7 .5-.2 .5-.7 .5 1.2 .5-.5 .5 .4 .5 .2V266H72z"/>
<path fill="#CD0F2D" d="M72 185.4l.5 .5 .5 .7 .5 0 .5-.4 .5 .2 .5-.6 .5 .2 .5 .1 .5-.3 .5-.4 .5 1 .5-.5 .5-.3 .5-.2 .5-.4 .5 .6 .5-.4 .5 .6 .5-1 .5 .3 .5 .4 .5-.2 .5 0 .5 1.1 .5-1.1 .5-.2 .5 .3 .5 .3 .5 .2 .5 .1 .5-.6 .5-.1 .5 1 .5-.5 .5-.9 .5 .7 .5 .5 .5-.7 .5 .2 .5 .3 .5-.5 .5 .4 .5-.5 .5-.1 .5 0 .5-.5 .5 .8 .5 .1 .5-.4 .5-.2 .5 .8 .5 0 .5-.1 .5 .5 .5-1.1 .5 .7 .5 .4 .5 0 .5-.1 .5-.7 .5 0 .5 .1 .5 .5 .5-1.1 .5-.4 .5 1.3 .5-.5 .5 .1 .5 .8 .5-1.5 .5 .5 .5 .7 .5-.8 .5 .9 .5-.3 .5-.3 .5 .5 .5-.4 .5 .6 .5 1.1 .5-1.6 .5 .3 .5-.5 .5 0 .5 .2 .5-.2 .5 .2 .5-.3 .5 .2 .5-.1 .5-.5 .5-.2 .5 .7 .5 1.1 .5-.4 .5 .7 .5-1.9 .5 .9 .5-1.2 .5-2.4 .5 2.3 .5-.5 .5 .8 .5 .8 .5 .3 .5 0 .5-.2 .5-.7 .5 .9 .5-.1 .5 .2 .5-.5 .5-.2 .5-.1 .5 .2 .5-.4 .5 1.2 .5-1.5 .5 1 .5-.2 .5 0 .5 .2 .5-.1 .5 .2 .5-.1 .5-.4 .5-.1 .5 0 .5 .2 .5-.7 .5-.1 .5 0 .5 .4 .5 .1 .5 .1 .5 .4 .5-.1 .5 0 .5 0 .5 1 .5-1.9 .5 .9 .5-.1 .5 1.6 .5-1.4 .5 0 .5 .3 .5-.4 .5-.3 .5 0 .5 .3 .5-.3 .5 .3 .5-.2 .5 1.1 .5-1.2 .5 0 .5 .2 .5 .3 .5-.1 .5-.5 .5 .4 .5-.4 .5-.1 .5 0 .5 .1 .5 .5 .5 0 .5 .1 .5 .1 .5 .4 .5-.4 .5 0 .5-1.5 .5 .8 .5 .5 .5-.2 .5 0 .5 .2 .5-.4 .5-.1 .5 .6 .5 .1 .5 .5 .5-.4 .5-.7V266H72z"/>
<path fill="#6EB928" d="M72 190.1l.5 .2 .5 0 .5 0 .5 1.4 .5-.5 .5-.7 .5-.2 .5 .5 .5-.4 .5 .1 .5 .2 .5-.5 .5 .1 .5 .1 .5-.2 .5-1.1 .5 .8 .5-.4 .5 1 .5-.4 .5 .3 .5-.4 .5-.6 .5 1.4 .5 0 .5-.5 .5-.5 .5 0 .5 .9 .5-.2 .5-.2 .5 .1 .5-.8 .5 .5 .5 1.1 .5-1 .5 .2 .5 1 .5-1.1 .5-.8 .5 .9 .5-.1 .5-.5 .5 .1 .5-.2 .5 .5 .5 .9 .5-1.8 .5 1.2 .5 .2 .5-.1 .5-.1 .5-.3 .5 .1 .5-.2 .5-.4 .5 1 .5-.7 .5-.2 .5 .4 .5-1.1 .5 1.3 .5 0 .5-.2 .5-.9 .5 .7 .5 .3 .5-.4 .5 .1 .5-.1 .5-.1 .5 .3 .5 .1 .5-.9 .5 .7 .5-.3 .5 .3 .5 .6 .5-.3 .5-.1 .5-.1 .5 1.1 .5-.3 .5-1.2 .5 .4 .5 .1 .5 .4 .5-.4 .5-.5 .5-.1 .5 .8 .5-.5 .5 0 .5 .1 .5 1.2 .5-1.1 .5-.7 .5 .2 .5-.3 .5 .9 .5-.5 .5 .3 .5 .5 .5-.9 .5 .3 .5 .4 .5 .4 .5-.4 .5 0 .5-.6 .5 .6 .5-.5 .5 1.2 .5-.4 .5-.6 .5-.7 .5 .5 .5 1.2 .5-.7 .5-.1 .5 0 .5-.2 .5 0 .5 .3 .5 1 .5-.6 .5-.3 .5-.7 .5 .3 .5-.6 .5 .1 .5-.2 .5 .4 .5-.6 .5 1.3 .5 .3 .5-.9 .5 .2 .5-.1 .5 .5 .5 1.1 .5-.6 .5-1.5 .5 1.6 .5-.5 .5-.6 .5 .3 .5 .1 .5-.1 .5 .1 .5-.7 .5 .5 .5 0 .5 .5 .5-.4 .5-.9 .5 1.8 .5-1.4 .5 .3 .5-.2 .5 .1 .5-.5 .5 0 .5 .2 .5 .1 .5 .2 .5 0 .5 .2 .5 .2 .5 .7 .5-.4 .5 .2 .5-.1 .5-.1 .5 .2 .5 .4 .5-1.8 .5 .7 .5 1.4 .5-1.7 .5 .4 .5 0 .5 .2 .5 .3 .5 .1 .5-.4V266H72z"/>
<path fill="#FF5F10" d="M72 191.6l.5 .1 .5-1 .5 1.4 .5-1.8 .5 1.6 .5-.2 .5-.4 .5 1 .5-.2 .5-.2 .5 0 .5 .1 .5-.3 .5 1.4 .5-1.6 .5 .1 .5 .1 .5-1 .5 2 .5-1.2 .5-.4 .5 0 .5 .1 .5 2.8 .5-2.7 .5-.7 .5 1.7 .5-1.2 .5 .5 .5-.1 .5-.5 .5 0 .5 1.4 .5 .5 .5-3.7 .5 2.2 .5 1 .5-1.2 .5-1.4 .5 2.6 .5-.4 .5-2.1 .5 1.8 .5-.7 .5 .2 .5-.6 .5 .5 .5 1.6 .5-1.3 .5 0 .5 1.1 .5-.6 .5-.2 .5-1.5 .5 1.9 .5-.8 .5 .2 .5-.1 .5 .3 .5 .8 .5-.7 .5 .3 .5 .9 .5-1.2 .5-1.4 .5 .3 .5-1 .5 2.3 .5-1.2 .5 1 .5-1 .5 1.5 .5-2 .5 1.6 .5 .7 .5-1.2 .5-.1 .5 .3 .5 1.3 .5-2.2 .5 1.1 .5-.2 .5 1 .5-1.6 .5 1.1 .5-.5 .5 .2 .5-.2 .5-.4 .5-.4 .5 .7 .5-.2 .5 1.2 .5-1.8 .5-.6 .5 1.4 .5 .1 .5-.1 .5-.4 .5-1.2 .5 0 .5 1.2 .5 1.2 .5-1.3 .5 .8 .5 .3 .5 .2 .5-.3 .5-.1 .5 .1 .5-.4 .5-.1 .5 .8 .5-.3 .5-1.6 .5 .6 .5-.1 .5-1.6 .5 .7 .5 1.5 .5-.3 .5 2.8 .5-2.6 .5 0 .5-1.6 .5 1.8 .5 2 .5-1.9 .5 .3 .5-2.2 .5 .4 .5 .5 .5 .3 .5-.5 .5-.8 .5 1.7 .5 2.2 .5-2.3 .5-.4 .5 .2 .5-.1 .5-1.3 .5 2 .5 .3 .5 1.5 .5-2 .5-.7 .5 0 .5 .9 .5 .3 .5-1.6 .5 1.5 .5-.9 .5-.7 .5 .4 .5 1 .5-1.7 .5 1.4 .5 1.3 .5-1.5 .5 1.3 .5-1.7 .5 .5 .5 1.4 .5-1.9 .5 1.6 .5-.1 .5 .2 .5-.9 .5-1.1 .5 1.2 .5 .3 .5-.2 .5 .5 .5-.4 .5-.6 .5 .3 .5 .7 .5-.5 .5 .1 .5 .3 .5-.5 .5 .3 .5-.1 .5-.4 .5-.7V266H72z"/>
<path fill="#FFB40A" d="M72 195.7l.5 .3 .5 .3 .5 .2 .5-.2 .5 .2 .5-.3 .5 .4 .5-.5 .5-.1 .5 .1 .5 .4 .5-.3 .5-.8 .5 0 .5 0 .5 .2 .5-.5 .5 1.1 .5-.7 .5-.7 .5 .7 .5 .2 .5 .2 .5 .2 .5-.7 .5 .2 .5 .7 .5-.4 .5 .2 .5 .9 .5-1.1 .5-.7 .5 .7 .5-.3 .5-.2 .5 .2 .5 .2 .5-.3 .5 .7 .5-2.1 .5 2.3 .5-.5 .5-.6 .5-1.4 .5 1.2 .5 1.1 .5-.8 .5 0 .5-.2 .5 .7 .5-.1 .5 0 .5-.5 .5 .2 .5 .1 .5 1.5 .5-1 .5 .8 .5-1 .5 0 .5 .6 .5-.5 .5-.1 .5-.1 .5-1.1 .5 1.7 .5 0 .5-.7 .5-.1 .5-.3 .5 0 .5 0 .5-.5 .5-.4 .5 1.2 .5 0 .5-.1 .5 .2 .5 1.4 .5-1.5 .5 .8 .5-.7 .5 .3 .5 0 .5-.6 .5 .8 .5-.8 .5 .3 .5-.1 .5 .4 .5-.1 .5-.5 .5 .2 .5-.3 .5 0 .5 0 .5-.1 .5 .2 .5 1.1 .5-1.5 .5 .7 .5 .4 .5-.1 .5 .7 .5-.6 .5-.3 .5 .2 .5 .2 .5-.3 .5 .2 .5 0 .5-.3 .5-.5 .5 .2 .5 .5 .5-.7 .5 .2 .5-.4 .5 .6 .5 .6 .5-.4 .5 .5 .5-.1 .5-.5 .5-.4 .5 .4 .5 .4 .5-.7 .5-.3 .5 .3 .5-.3 .5-.4 .5 .4 .5 .3 .5 0 .5 .1 .5-.3 .5 .3 .5-.3 .5 .5 .5 0 .5-.8 .5 .7 .5-.2 .5 .7 .5 .3 .5-.6 .5 0 .5-.5 .5 0 .5-.2 .5 .7 .5 .7 .5-.3 .5-.6 .5 0 .5-.1 .5 .5 .5-.3 .5-.4 .5-.1 .5 .3 .5-.8 .5 .6 .5-.2 .5 .4 .5-.2 .5 .1 .5 .7 .5 0 .5 .1 .5 0 .5 .3 .5-.2 .5 .4 .5-.7 .5 0 .5 0 .5-.3 .5 .8 .5-1.4 .5 .2 .5 .4 .5 .4 .5 .1 .5 .4V266H72z"/>
<path fill="#6EB928" d="M72 200.7l.5-.2 .5 .1 .5 1.7 .5-.9 .5-1.8 .5 1.3 .5 .2 .5 0 .5 .9 .5-1.3 .5 0 .5-1.4 .5 1.7 .5-.4 .5-.7 .5 .9 .5-.6 .5-.2 .5 .8 .5-1.5 .5 2 .5-.2 .5-.8 .5 .2 .5 .2 .5-.8 .5 1.1 .5-.1 .5 .5 .5-.1 .5-.3 .5 0 .5 1.3 .5-1.7 .5-.3 .5 .4 .5-.2 .5 .3 .5 .6 .5-.6 .5-.3 .5 .3 .5-.2 .5-1.3 .5 1.2 .5-.3 .5 .1 .5-.5 .5 1.1 .5 0 .5-.3 .5 .2 .5 .2 .5-.2 .5 .2 .5-.2 .5 .4 .5 0 .5 0 .5-.9 .5 .5 .5 0 .5-.7 .5 .6 .5-.1 .5-.2 .5 .9 .5-1.1 .5 .6 .5-.2 .5 .1 .5-.1 .5 .1 .5 .2 .5 1.2 .5-1.6 .5 0 .5-.2 .5 .2 .5-.1 .5 .1 .5 .1 .5-.2 .5 .5 .5-.1 .5-.2 .5 .3 .5-.4 .5 0 .5-.6 .5-.2 .5 .8 .5 .3 .5 .7 .5-1.8 .5-.3 .5 .6 .5 .5 .5 .3 .5-.8 .5 .1 .5-1.1 .5 1.2 .5 1.1 .5-.9 .5 .8 .5-.7 .5 0 .5 .2 .5 0 .5 0 .5-.1 .5 0 .5-.3 .5 .2 .5-.1 .5 .2 .5 .9 .5-.8 .5 .4 .5 .1 .5-.4 .5 .9 .5-1.5 .5 .3 .5 .1 .5-.8 .5 .1 .5-.2 .5 1 .5-.6 .5-.3 .5 .8 .5-.2 .5-.3 .5 0 .5 .6 .5 .7 .5-1.1 .5-1.3 .5 2.3 .5-.5 .5-.6 .5 .2 .5 .3 .5-.3 .5 .7 .5 .7 .5-1.1 .5-.4 .5 .1 .5 .6 .5-.3 .5 .5 .5-.5 .5-.4 .5-.2 .5 .6 .5 .2 .5-1.2 .5 .3 .5 .1 .5 .1 .5-.2 .5 .1 .5 .3 .5 .5 .5-1.3 .5 1.2 .5 .3 .5-.1 .5-.5 .5 .5 .5 .2 .5 .8 .5-.3 .5-.4 .5-.2 .5-1.2 .5 1.2 .5-.8 .5 .8 .5-.2 .5 .3 .5-.2 .5 0V266H72z"/>
<path fill="#FFB40A" d="M72 202.3l.5 .3 .5-.1 .5 .2 .5-.2 .5 .4 .5 1 .5-1.4 .5 .6 .5-.2 .5 .4 .5-.5 .5-.3 .5-.1 .5-.1 .5 0 .5-.2 .5-.1 .5 .4 .5-.9 .5 1.3 .5-.5 .5-1.1 .5 1 .5 .1 .5 .1 .5-.2 .5 1.2 .5-.9 .5-.8 .5 .6 .5 0 .5-.4 .5-.2 .5 1.1 .5-1.3 .5 .2 .5 .1 .5 .7 .5-.1 .5-.1 .5 .3 .5-.3 .5-.2 .5 0 .5-.3 .5 .1 .5 .6 .5-1.5 .5 1.4 .5-.9 .5 .5 .5 .3 .5-.1 .5 .3 .5 .1 .5 .6 .5-.3 .5-1.3 .5 1 .5 .1 .5 1 .5-1.4 .5-.6 .5 .1 .5 .4 .5 .1 .5-.1 .5 .1 .5 .3 .5-.6 .5-.1 .5 .5 .5-.7 .5 .7 .5-.2 .5 0 .5 .2 .5 .1 .5-.2 .5 .6 .5 .2 .5 .3 .5-.2 .5-.7 .5-.3 .5 .6 .5-.4 .5-.2 .5 0 .5-.1 .5-.1 .5 .9 .5-.8 .5-.1 .5 .2 .5 .2 .5-.4 .5-.6 .5 .4 .5 .6 .5-.5 .5-.5 .5 .9 .5 .3 .5-.5 .5 .6 .5-.4 .5 1 .5-.6 .5-.6 .5 .4 .5 .2 .5-.8 .5 .8 .5 0 .5-1.2 .5 1 .5-1.5 .5 1.5 .5-.1 .5 .9 .5-.7 .5-.1 .5-.4 .5 .5 .5 0 .5-.6 .5 .8 .5-.4 .5-.6 .5-.2 .5 .1 .5 .2 .5-.5 .5 1.5 .5-.8 .5-.2 .5 .4 .5 .2 .5-.5 .5 .3 .5 0 .5 .4 .5-.5 .5 .3 .5-.3 .5 .3 .5-.1 .5 .3 .5-.5 .5-.2 .5-.3 .5 .8 .5-.5 .5-.1 .5 .5 .5 0 .5-1 .5 .2 .5 .2 .5 .1 .5 .1 .5-.6 .5 1.3 .5-1.2 .5 1.2 .5-.7 .5 .5 .5 0 .5 0 .5-.2 .5 .5 .5 0 .5-.9 .5 .5 .5-.7 .5 .1 .5 .8 .5 .4 .5-1 .5 .3 .5 .8 .5-.8 .5 0 .5 .7 .5-.4V266H72z"/>
<path fill="#0573D7" d="M72 207.6l.5-.2 .5 .3 .5 .1 .5-.7 .5 1.1 .5 .4 .5-.2 .5 .3 .5-.8 .5-1.2 .5 1 .5 0 .5 .7 .5 0 .5-1 .5 .2 .5-.1 .5-.3 .5 .7 .5-.1 .5 .5 .5-.6 .5 1.6 .5-1.5 .5-.2 .5 .5 .5-.1 .5 0 .5 .3 .5-1 .5 .8 .5-1.3 .5 1.2 .5 .4 .5-1.3 .5 .6 .5 .2 .5-.5 .5 .6 .5 .3 .5-.3 .5-.6 .5 .1 .5 0 .5 .2 .5-.1 .5 1.6 .5-1.5 .5 1.8 .5-1.2 .5-.5 .5 .9 .5-.6 .5 .7 .5-.7 .5 .3 .5 .1 .5-.4 .5-.4 .5 .1 .5 .3 .5 .5 .5-.4 .5 .4 .5-.5 .5 .2 .5-.3 .5 0 .5 .1 .5 .5 .5-.4 .5-.1 .5 0 .5-.1 .5 .2 .5 .2 .5-1.4 .5 1.2 .5 .2 .5-.8 .5 .1 .5 .8 .5-.3 .5 .4 .5 .9 .5-1.1 .5-.1 .5-.6 .5 .7 .5-.3 .5-.5 .5 .8 .5-.1 .5 .1 .5-.6 .5 .3 .5-.4 .5 0 .5-.2 .5-.1 .5-1.2 .5 1 .5 1 .5 .8 .5-.2 .5 0 .5-.5 .5-.2 .5 .3 .5 .2 .5 .4 .5-.8 .5 .5 .5-.1 .5-.5 .5-.6 .5 .6 .5-.1 .5 .9 .5-.5 .5 .1 .5 .1 .5-.2 .5-.2 .5 .3 .5-.9 .5 .6 .5-.2 .5 .7 .5-1.6 .5 .6 .5-.1 .5 1 .5-.6 .5 1 .5-.7 .5-.3 .5-.4 .5 .9 .5 .6 .5-.6 .5 .7 .5-.8 .5-1.3 .5 2.2 .5-.8 .5 0 .5 1.6 .5-1.5 .5-.5 .5 .3 .5-.1 .5 1 .5-.4 .5-.6 .5 .7 .5-.6 .5-.3 .5-.1 .5-.5 .5 .4 .5-.1 .5-.2 .5 .3 .5 .1 .5-.6 .5 .7 .5 .6 .5 .1 .5 .4 .5 0 .5 .1 .5-.6 .5 .5 .5-.1 .5 0 .5-.4 .5-.6 .5 .3 .5 .1 .5 0 .5 .2 .5-.2 .5 .4 .5 .5 .5-.8V266H72z"/>
<path fill="#CD0F2D" d="M72 216l.5-2.8 .5 1.8 .5-1 .5 .2 .5 1.5 .5 .4 .5-1.4 .5 .4 .5-1.1 .5-.8 .5 .9 .5-.1 .5 0 .5 .4 .5-1 .5 .6 .5 .1 .5 1.6 .5-1.7 .5 .4 .5-.4 .5 .7 .5-2.2 .5 1.6 .5-.4 .5 .3 .5-.1 .5 .9 .5 0 .5 0 .5-.4 .5-.7 .5 .2 .5 .6 .5-.8 .5 .5 .5 1.6 .5-1.8 .5-.6 .5 2.8 .5-1.1 .5-1.7 .5 1.8 .5-1.1 .5-.8 .5 1.3 .5-.5 .5 1.3 .5 .7 .5-3 .5 2.4 .5-2.5 .5 2.7 .5-1.2 .5-1 .5 1 .5-.1 .5 .7 .5 .1 .5-.8 .5 .6 .5-3.1 .5 2.2 .5-.7 .5 0 .5 .5 .5-.2 .5 .7 .5 1.8 .5-.7 .5-.7 .5 .3 .5-1.5 .5-.4 .5 1.5 .5-.3 .5-.5 .5-.5 .5 1 .5 .1 .5-2 .5 2.1 .5-.6 .5 1.7 .5-.5 .5-1.1 .5-.3 .5 1.5 .5-.3 .5 1.4 .5-2.9 .5 1 .5 .7 .5-.8 .5-.5 .5-.5 .5 .4 .5 .4 .5 .3 .5-1.6 .5 1.8 .5-1.3 .5 .7 .5 .7 .5-1.7 .5 1.5 .5 1.9 .5 0 .5-.9 .5-1 .5 .4 .5 .4 .5-5.3 .5 4.5 .5 .1 .5 0 .5-.7 .5 .3 .5 4 .5-4.7 .5 2.1 .5-.6 .5 2.6 .5-2.6 .5-.3 .5 1.6 .5-1.6 .5-.1 .5 .6 .5-1.1 .5 .4 .5 .4 .5-1.1 .5 .2 .5 1.1 .5 .4 .5-.4 .5-.1 .5-1.1 .5 1.8 .5 1.5 .5-1.3 .5-1 .5-.8 .5 1 .5 1.2 .5-.9 .5-1.2 .5 2.5 .5-1.5 .5 .3 .5-1.8 .5 1.4 .5 .5 .5-1.5 .5 .4 .5 1.2 .5-.9 .5 .5 .5-.1 .5-.5 .5-.2 .5 .4 .5-.4 .5 .4 .5-1.2 .5 1.6 .5 .3 .5 .4 .5-.4 .5 .6 .5-1.1 .5-1.8 .5 3.2 .5-2.2 .5 .5 .5 0 .5-1.8 .5 1.6 .5 .3 .5-.5 .5 2.1 .5-2.7 .5 1.3 .5-.1 .5 .7V266H72z"/>
<path fill="#1CBEF5" d="M72 216.5l.5 1.4 .5-.7 .5 1.7 .5-.5 .5-.1 .5 1.1 .5-1.8 .5 .9 .5 .3 .5-.7 .5 3.7 .5 0 .5-5.1 .5 3 .5-.7 .5-2.2 .5 1.5 .5-1 .5 0 .5 .6 .5-1.5 .5 2.2 .5 1.3 .5-2.3 .5 3.2 .5-1.2 .5-1.7 .5 .3 .5 .4 .5-1.9 .5 .8 .5 .7 .5-.3 .5 .2 .5-1 .5 2.7 .5-1.8 .5-.5 .5-1.3 .5 2 .5-.3 .5 .5 .5-.2 .5-2.2 .5 .4 .5 1.3 .5 0 .5-.1 .5 .4 .5-.1 .5 1.2 .5-.7 .5-.6 .5 .2 .5-.3 .5 .6 .5 1 .5-.7 .5 1.2 .5-1.1 .5-.3 .5 .5 .5-.4 .5-3.3 .5 2.8 .5 .3 .5 .2 .5-1.1 .5-.2 .5-5.1 .5 5.1 .5 0 .5 .3 .5-.8 .5 .5 .5-.3 .5 .6 .5 .3 .5 1.1 .5 .5 .5-1.2 .5 0 .5 0 .5 1.7 .5-.6 .5-1 .5-.5 .5 1.2 .5 .6 .5-1.8 .5-.8 .5 .8 .5-.3 .5-1.1 .5 1.6 .5-.1 .5-.3 .5-1.1 .5 1.4 .5-.6 .5-.1 .5 .1 .5 .5 .5 .4 .5 .5 .5-.4 .5-2.1 .5 1.9 .5 .6 .5-.7 .5-1.8 .5 3.6 .5-1.8 .5-.8 .5 2.3 .5-3.5 .5 .2 .5 .6 .5 .5 .5 1 .5 1.4 .5-1.8 .5 1.7 .5-1.9 .5 .1 .5 .1 .5 .8 .5-.7 .5-.5 .5-.3 .5 .1 .5 1.3 .5-1.4 .5-.3 .5 .4 .5 .4 .5 2 .5-1.8 .5 1.2 .5 .2 .5-1 .5 .3 .5-1.6 .5 1 .5-.8 .5-.2 .5 1.2 .5 .8 .5-2.1 .5-.9 .5 2.9 .5-1.1 .5-.8 .5 2.3 .5-1.3 .5 .5 .5 .7 .5-2.4 .5 .1 .5 2.4 .5-2 .5 .6 .5-.3 .5-.5 .5 .1 .5-.5 .5 1.2 .5 .4 .5-2.7 .5 3.7 .5-1.3 .5 .6 .5-1.6 .5 1.2 .5-1.3 .5 1.6 .5-.7 .5 1.6 .5-2.3 .5 1 .5 1.8 .5-2.1 .5 1.4 .5 2.2 .5-4.2 .5 1.4V266H72z"/>
<path fill="#6EB928" d="M72 220.3l.5 0 .5 1.1 .5 .3 .5-1.2 .5 .7 .5 1.8 .5-2.7 .5-.1 .5 .7 .5-.4 .5-.2 .5 1 .5 1.3 .5-2.7 .5-.7 .5 1.2 .5 0 .5 1 .5 .9 .5-1.9 .5 .2 .5-.1 .5-4.1 .5 4.3 .5 .2 .5-.8 .5 .6 .5-.1 .5 1.7 .5-1.6 .5 .1 .5-1.1 .5 1.5 .5-.7 .5-1.1 .5 1.1 .5-.6 .5 .3 .5-.1 .5 .5 .5 .1 .5 .6 .5-1 .5 1 .5-.3 .5-2.8 .5 1.8 .5-1.1 .5 2.7 .5-3.2 .5 1.7 .5 .8 .5-1.4 .5 2.9 .5-2.2 .5-.8 .5 .2 .5 1.1 .5 .1 .5 .1 .5-1.6 .5 .4 .5 .5 .5-1.5 .5 0 .5 1.2 .5 .2 .5 .8 .5 2.1 .5-3.8 .5 1.7 .5-2.7 .5 1.4 .5-.9 .5 0 .5 .9 .5 1 .5 .6 .5 .8 .5 .1 .5-2 .5 1.6 .5-.8 .5 .2 .5-.1 .5-1 .5 2.4 .5-2 .5-1.4 .5 1.3 .5 .1 .5 0 .5 .1 .5 2.5 .5-2.7 .5 .5 .5-.3 .5-.1 .5-.1 .5 1 .5-1.9 .5 1.4 .5-.7 .5 .9 .5 3 .5-3.5 .5 1.1 .5-1.1 .5-.3 .5-.4 .5 2.1 .5 1.1 .5-1.9 .5-1 .5 2.1 .5-2 .5 0 .5 1.3 .5-3.8 .5 3.4 .5-.6 .5 .9 .5-.9 .5-.8 .5 1.1 .5-.3 .5-.4 .5-.2 .5 2.2 .5-2.9 .5 1.3 .5-.7 .5 3.7 .5-.7 .5-1.9 .5-.4 .5-.1 .5-1 .5 1.2 .5 1 .5-.3 .5-.9 .5-.7 .5 .9 .5-2 .5 2.2 .5 .3 .5-4.2 .5 4.5 .5-1.1 .5 .5 .5-.1 .5 1 .5 1.6 .5-2.5 .5-.4 .5 .6 .5-.2 .5-.7 .5 1.5 .5-2.6 .5-1.6 .5 1.8 .5 1.3 .5 2.8 .5-3.1 .5-1 .5 2.2 .5 2.6 .5-4.6 .5 2 .5-.3 .5 .2 .5-.6 .5-.5 .5 1.6 .5-2.6 .5 1.7 .5-.4 .5 .1 .5 1.8 .5-1.2 .5 0 .5-.4 .5 .6 .5-.5V266H72z"/>
<path fill="#A028B4" d="M72 223.7l.5 1.7 .5-1.1 .5 1.1 .5-.6 .5-.3 .5 .8 .5-1.4 .5 2.1 .5-1.4 .5-1.4 .5 1.6 .5 .8 .5-2.6 .5 .6 .5 .4 .5-1 .5 1.4 .5 .6 .5-1.3 .5-3.2 .5 2.8 .5 1.5 .5-.6 .5-.1 .5 1.1 .5 2.6 .5-3.8 .5-.5 .5 1.9 .5-2.5 .5-.2 .5 2.1 .5-1.5 .5 2.1 .5-2.2 .5 .9 .5-.2 .5-1 .5 .5 .5 1.3 .5-1.7 .5 1.9 .5-.9 .5-1.1 .5 2.4 .5-2.2 .5 3.8 .5-2.7 .5 1.1 .5 4.1 .5-5 .5 .7 .5-3.2 .5 3.5 .5-3.2 .5 1.4 .5 2.2 .5-.6 .5-1.1 .5-1.6 .5 .1 .5 2.9 .5-1.9 .5-.3 .5-4.5 .5 5.5 .5 .7 .5 2 .5 1 .5-5.2 .5-1.7 .5 3 .5-.3 .5-1.6 .5 3.5 .5-1.8 .5 1.6 .5-1.7 .5-.3 .5 .4 .5 1 .5-.7 .5 1.8 .5-1.4 .5 .7 .5-1.1 .5 1.2 .5-.8 .5 3.9 .5-3.8 .5-.7 .5 .8 .5-1 .5 .9 .5-1.6 .5 5.8 .5-3.3 .5-2.6 .5 .1 .5 1 .5 .4 .5-.9 .5 2.6 .5-3.6 .5 2.2 .5-.3 .5 3.3 .5-2.2 .5 1.5 .5-1 .5-2.7 .5 .6 .5 .1 .5-1.7 .5 3.7 .5-.2 .5-.3 .5-5.4 .5 9.7 .5-3.6 .5-3.3 .5 1.1 .5 1.3 .5-.6 .5-1.2 .5 1.7 .5 .1 .5-2.4 .5 1.4 .5 2 .5-3.4 .5-1 .5 3.5 .5 2.8 .5-3.7 .5-4.4 .5-.8 .5 4.8 .5 5 .5-4.6 .5 2 .5 .7 .5-2.8 .5 1.6 .5-.4 .5-.4 .5-1.1 .5 1.9 .5-.4 .5-1.2 .5-.2 .5-1.1 .5-2.2 .5 3.8 .5 .5 .5-.3 .5 .1 .5-1.1 .5 1.3 .5-3.1 .5 1.4 .5-.5 .5 .6 .5 2.1 .5-1.3 .5 1.1 .5 .5 .5-1.2 .5-.3 .5-1.8 .5 2.7 .5 2 .5 .5 .5-1.9 .5-.8 .5 2.3 .5-3 .5-.2 .5 4.3 .5-2.5 .5 2.7 .5-2.9 .5-4.8 .5 4.5 .5-.5 .5-.3V266H72z"/>
<path fill="#FFB40A" d="M72 231.3l.5 1.5 .5-.5 .5 .9 .5-4 .5 1.5 .5 .7 .5-6.8 .5 6.5 .5-5.1 .5 4.3 .5-.5 .5 1.4 .5-1 .5-1.5 .5-1.1 .5 5.3 .5-7.1 .5 4.5 .5 0 .5-3.7 .5 2.9 .5 3.6 .5 .1 .5-6.5 .5 7.4 .5-4.1 .5 .9 .5-3.3 .5 3.3 .5 .6 .5-1.6 .5 .3 .5 1.6 .5-2.7 .5 .6 .5 1.1 .5 4.5 .5-3.9 .5-2.2 .5 5.5 .5-5.6 .5 1.3 .5-1.6 .5 .4 .5 2.8 .5-3.5 .5 5.5 .5-1.9 .5 3.3 .5-3.1 .5-1.9 .5 .7 .5-1 .5 .6 .5 .5 .5-5.6 .5 5.2 .5 0 .5 .8 .5-1.1 .5-5.9 .5 7.2 .5 1.2 .5-2.5 .5 2.4 .5 3.3 .5-11 .5 11 .5-6.4 .5 .7 .5 7.5 .5-10.5 .5-5.3 .5 7.9 .5 .7 .5 8.3 .5-4.8 .5-3 .5-.4 .5 1.4 .5-2.7 .5 1.3 .5 .3 .5-4 .5 2.4 .5-4 .5 4.3 .5 .8 .5-3.9 .5 1.4 .5-.4 .5 7.6 .5-10.2 .5-.3 .5 4.7 .5 0 .5 1.8 .5-3.1 .5-1.7 .5 1.9 .5 3.6 .5-2.8 .5 1.5 .5-.4 .5 2.9 .5-9 .5 6.5 .5 1.3 .5 .3 .5-.3 .5-2.2 .5 2.5 .5-1.5 .5 2 .5 .5 .5-3 .5-4.8 .5 11.7 .5-8.7 .5 2.4 .5-7.1 .5 .9 .5 8.5 .5 4.3 .5-8.3 .5 .8 .5-5.7 .5-2.8 .5 4.9 .5 6.7 .5-5.5 .5-2.1 .5 4.4 .5-2 .5 6.4 .5-2.2 .5-.5 .5-2.5 .5 1.8 .5 0 .5-5.5 .5 6.3 .5 5.2 .5-7.5 .5 4 .5-4.9 .5-3.4 .5 5 .5 .6 .5-.7 .5-1.1 .5-3.1 .5 4.1 .5-3.4 .5 1.8 .5 4.3 .5-.6 .5 .9 .5-3 .5 .4 .5 4.7 .5-3.1 .5-4.9 .5 4.8 .5-3.3 .5 2.2 .5-6.7 .5 5.9 .5 .2 .5 1 .5-.7 .5-2 .5 5.3 .5-3.3 .5-3.6 .5 5.2 .5 0 .5-6.2 .5 1.5 .5-5.7 .5 8.9 .5 .3 .5 6.9 .5-8.1 .5-1.3 .5 6.3V266H72z"/>
<path fill="#FF5F10" d="M72 238.7l.5 .4 .5-.5 .5 1.2 .5-.7 .5-.1 .5 .1 .5 .9 .5-.4 .5-.1 .5-.5 .5 .9 .5 0 .5-.8 .5 .2 .5 .5 .5-.6 .5-.3 .5 0 .5-1 .5 .6 .5 .4 .5 .1 .5-.2 .5 .4 .5-.1 .5-.1 .5 .6 .5-.7 .5 1.1 .5-.3 .5-.6 .5 .2 .5 .2 .5-.2 .5-.7 .5 .4 .5 .3 .5 0 .5-.1 .5 .1 .5 .1 .5 0 .5-.2 .5-.5 .5 .5 .5-.7 .5 .5 .5-.5 .5 .2 .5 .5 .5 .2 .5 .5 .5-.3 .5-.1 .5-.1 .5-.2 .5 .5 .5 .2 .5-.6 .5-.4 .5 .3 .5-.1 .5 1.5 .5-1.2 .5-.2 .5 .6 .5-.3 .5-.9 .5 .2 .5 .4 .5 .4 .5-.6 .5 1.7 .5-2 .5-.5 .5 1.6 .5-.8 .5-.4 .5 1.3 .5-.9 .5 .5 .5 .6 .5-.8 .5 0 .5 .2 .5-.5 .5 .9 .5 .4 .5-2.2 .5 1.2 .5-.6 .5 .2 .5-.2 .5 .6 .5-.4 .5 .1 .5-.2 .5 0 .5 .4 .5-1.5 .5 1 .5 .1 .5 .2 .5 .3 .5 0 .5-.2 .5 .3 .5-.2 .5 1.5 .5-.9 .5-1.8 .5 .4 .5 .5 .5 .4 .5 1.4 .5-1.2 .5-1.9 .5 1 .5 1.8 .5-1.2 .5 .2 .5-.1 .5 .2 .5-.7 .5 .9 .5-.8 .5 .1 .5-.3 .5-.1 .5-.1 .5 .2 .5-.4 .5 .7 .5-.4 .5 1 .5-.1 .5 .3 .5-.6 .5 0 .5-.1 .5-.7 .5 1.2 .5-.3 .5-.1 .5 .4 .5 .3 .5-.9 .5-.2 .5 .5 .5-.3 .5 1 .5-.5 .5-.7 .5 .3 .5 .2 .5-.2 .5 .7 .5-.1 .5-2 .5 2 .5-1.3 .5 .1 .5 .4 .5 .2 .5-.7 .5 1.5 .5-.9 .5 .4 .5-.3 .5 1.1 .5-.1 .5-.5 .5 .1 .5-.8 .5 .9 .5-.6 .5 .5 .5-.8 .5 .4 .5 .5 .5-.9 .5 .2 .5 .2 .5 .4 .5-.9 .5 .9V266H72z"/>
<path fill="#fff" d="M23 184.9l.5 4.3 .5 .3 .5 .1 .5 .6 .5-.2 .5-.2 .5-.3 .5 .1 .5-.5 .5 .2 .5-.3 .5-.6 .5-1.6 .5 1.1 .5 .6 .5 .8 .5 .2 .5 0 .5 .2 .5-.1 .5-1.1 .5-2.3 .5-.6 .5-.5 .5 0 .5-.5 .5 0 .5-1 .5-.9 .5-.3 .5-1.8 .5-.7 .5 .6 .5 .1 .5 .7 .5 .5 .5 .5 .5-.5 .5-.1 .5 .3 .5 .2 .5 .8 .5 0 .5 .2 .5-.4 .5 .1 .5 .6 .5 .3 .5 .1 .5-.7 .5-.4 .5-1.7 .5-.3 .5-.4 .5 .8 .5-.7 .5 .5 .5-.3 .5 .1 .5-.7 .5 .9 .5 .3 .5-.6 .5 .3 .5 0 .5-.7 .5 .6 .5 0 .5-.2 .5 .9 .5 1.1 .5 .9 .5 .7 .5 .8 .5 .2 .5 1.1 .5 .9 .5 0 0-.2 .5 .1 .5 .8 .5-.6 .5-1.6 .5-.4 .5-.3 .5-2.3 .5-1.4 .5-.7 .5 2.6 .5 1.4 .5 1.8 .5 .8 .5-2 .5-2.3 .5-3.5 .5-2.4 .5-.9 .5-1.4 .5-.9 0-.9 .5 .5 .5-.2 .5 1 .5-.1 .5-.2 .5 .1 .5 .2 .5-1.6 .5 1.3 .5-.1 .5 .2 .5-.2 .5 .1 .5-.4 .5 .1 .5 .2 .5-.5 .5-.3 .5-.1 .5 .8 .5-.3 .5 .3 .5-.7 .5 .2 .5 .7 .5-.4 .5 0 .5 .5 .5 .2 .5-1.1 .5 .8 .5 0 .5-1.1 .5 .3 .5 0 .5 .1 .5 .3 .5 .3 .5 .1 .5-.1 .5 .1 .5-.5 .5 .3 .5-.9 .5-.2 .5 1 .5-.1 .5 0 .5 .4 .5-1.3 .5 1.5 .5 0 .5-.3 .5-.4 .5 .7 .5-.5 .5 .3 .5 .1 .5-.5 .5 .6 .5 0 .5-.1 .5 0 .5-.3 .5-.6 .5 .5 .5 .2 .5-.3 .5 .1 .5-.5 .5-.4 .5 1.1 .5-.4 .5-.1 .5 .2 .5 .3 .5-.1 .5-.8 .5 1 .5-.2 .5-.1 .5 .3 .5 .1 .5-.4 .5 .1 .5 .3 .5 0 .5-.5 .5 .3 .5-.2 .5-.1 .5 .2 .5-.1 .5 .1 .5-.2 .5 .2 .5-.6 .5 .7 .5-.4 .5-.3 .5 .3 .5-.1 .5-1.1 .5 1.9 .5-.1 .5-.2 .5 .1 .5-.2 .5-.3 .5 .6 .5 .2 .5-.6 .5-.1 .5-.1 .5 0 .5-.1 .5 .1 .5 0 .5-.2 .5 .9 .5-.2 .5 .1 .5-.1 .5 0 .5-.2 .5 .1 .5-.8 .5 .6 .5 .1 .5-.6 .5 .3 .5 0 .5 .2 .5-.1 .5 0 .5 .4 .5-.2 .5 0 .5-.5 .5 .2 .5 .7 .5-.1 .5-.3 .5 .3 .5 .2 .5-.5 .5 .5 .5-.4 .5 0 .5-.6 .5 .8 .5-.6 .5-.2 .5 .8 .5-.1 .5-.4 .5 .4 .5-.4 .5 .2 .5-.1 .5-.4 .5 .3 .5-.1 .5 .1 .5 .2 .5 .2 .5 0 .5 .2 .5 .1 .5 0 .5 .4 .5 0 .5 0 .5-.2 .5-.2 .5-.2 .5-.2 .5 .3 .5-.4 .5 .1 .5 .2 .5 .1 .5-.2 .5 .4 .5 .2 .5 0V153H23z"/>
<path fill="#fff" d="M23 251.4l.5-6 .5 1.9 .5-4.8 .5 6.1 .5-9.4 .5-3 .5-2.3 .5-1.9 .5-.7 .5 1 .5-1.9 .5 .3 .5 9.4 .5-9.6 .5 .6 .5-2 .5 .3 .5 4.1 .5-2.6 .5-1.2 .5 8.7 .5-8.7 .5-1.5 .5-.5 .5-1.2 .5 0 .5 2.4 .5-2.2 .5-.1 .5 1.4 .5-1.8 .5 2.9 .5 .5 .5-3.6 .5 4.6 .5-2.8 .5-.1 .5 6.7 .5-7.9 .5 2 .5 .4 .5 .6 .5 4.1 .5-4.6 .5 1 .5-1 .5 .6 .5 0 .5 .6 .5 2.3 .5-1.5 .5 0 .5-.2 .5 4.5 .5-1.3 .5 .7 .5 4.7 .5-5 .5 .3 .5-1.8 .5 .8 .5-2.3 .5 1.2 .5-2.1 .5-.2 .5-.7 .5 9.1 .5-7.8 .5 .1 .5 .6 .5-1.1 .5 .8 .5-.3 .5 4.2 .5-1.3 .5-1.6 .5-.6 .5 6.4 0-6.4 .5 9.3 .5 1.6 .5 5.6 .5 9.8 .5 0 .5-5 .5-14.1 .5-4.2 .5 3 .5-.6 .5 17.1 .5 3.8 .5 0 .5-1.1 .5-6.9 .5-19.2 .5 13.3 .5-.7 .5 14.6 .5-2.6 0 1.2 .5 0 .5 0 .5 0 .5 0 .5 0 .5 0 .5 0 .5 0 .5 0 .5 0 .5 0 .5 0 .5 0 .5 0 .5 0 .5 0 .5 0 .5-.1 .5-.1 .5 .2 .5 0 .5 0 .5 0 .5 0 .5 0 .5 0 .5 0 .5 0 .5 0 .5 0 .5 0 .5 0 .5 0 .5 0 .5 0 .5 0 .5 0 .5 0 .5 0 .5 0 .5 0 .5 0 .5 0 .5 0 .5 0 .5 0 .5 0 .5 0 .5 0 .5 0 .5 0 .5 0 .5 0 .5 0 .5 0 .5 0 .5 0 .5 0 .5 0 .5 0 .5 0 .5 0 .5 0 .5 0 .5 0 .5 0 .5 0 .5 0 .5 0 .5-.2 .5 .2 .5 0 .5 0 .5 0 .5 0 .5 0 .5 0 .5 0 .5 0 .5 0 .5 0 .5 0 .5 0 .5 0 .5 0 .5 0 .5 0 .5 0 .5 0 .5 0 .5 0 .5 0 .5 0 .5 0 .5 0 .5 0 .5-.1 .5 0 .5 .1 .5-.3 .5 0 .5 .3 .5 0 .5 0 .5 0 .5 0 .5 0 .5 0 .5 0 .5 0 .5 0 .5 0 .5 0 .5 0 .5-.1 .5-.1 .5-.1 .5 .2 .5 .1 .5 0 .5 0 .5 0 .5 0 .5 0 .5 0 .5 0 .5 0 .5 0 .5-.3 .5-.1 .5 .4 .5 0 .5-.1 .5 0 .5 0 .5 .1 .5 0 .5 0 .5 0 .5 0 .5 0 .5 0 .5 0 .5 0 .5 0 .5 0 .5 0 .5 0 .5 0 .5 0 .5 0 .5 0 .5 0 .5 0 .5 0 .5 0 .5 0 .5-.1 .5 .1 .5 0 .5-.1 .5 .1 .5-.5 .5 .5 .5-.2 .5 .2 .5-.2 .5 .2 .5 0 .5 0 .5 0 .5 0 .5 0 .5 0 .5 0 .5 0 .5 0 .5 0 .5 0 .5 0 .5 0 .5 0 .5 0 .5 0 .5 0 .5 0V266H23z"/>
<g stroke-width="0.45" opacity="0.55" fill="none"><path d="M95.5 256.6V249.2" stroke="#0573D7"/><path d="M132 256.6V249.7" stroke="#A028B4"/><path d="M90.1 256.6V249.2" stroke="#A028B4"/><path d="M161.7 256.6V249.5" stroke="#CD0F2D"/><path d="M160.5 256.6V249.6" stroke="#CD0F2D"/><path d="M161.4 256.6V249.2" stroke="#A028B4"/><path d="M152.7 256.6V249.9" stroke="#0573D7"/><path d="M74.5 256.6V249.9" stroke="#A028B4"/><path d="M119.2 256.6V249.3" stroke="#CD0F2D"/><path d="M159.4 256.6V249.8" stroke="#0573D7"/><path d="M129 256.6V249.8" stroke="#A028B4"/><path d="M110.6 256.6V249.9" stroke="#CD0F2D"/><path d="M117.5 256.6V249.6" stroke="#0573D7"/><path d="M137.9 256.6V249.9" stroke="#A028B4"/><path d="M107.3 256.6V249.8" stroke="#CD0F2D"/><path d="M128.7 256.6V249.4" stroke="#A028B4"/><path d="M105.7 256.6V249.1" stroke="#A028B4"/><path d="M103.2 256.6V249.3" stroke="#A028B4"/><path d="M109.1 256.6V249.3" stroke="#0573D7"/><path d="M118.7 256.6V249.8" stroke="#CD0F2D"/><path d="M82.2 256.6V249.9" stroke="#CD0F2D"/><path d="M99.5 256.6V249.7" stroke="#A028B4"/><path d="M147 256.6V249.7" stroke="#CD0F2D"/><path d="M95.3 256.6V249.1" stroke="#0573D7"/><path d="M97.9 256.6V249.2" stroke="#A028B4"/><path d="M138.8 256.6V249.7" stroke="#0573D7"/><path d="M95.2 256.6V249.5" stroke="#CD0F2D"/><path d="M124.4 256.6V249.2" stroke="#A028B4"/><path d="M147.6 256.6V249.3" stroke="#0573D7"/><path d="M141.4 256.6V249.2" stroke="#A028B4"/><path d="M80.7 256.6V249.3" stroke="#CD0F2D"/><path d="M163.5 256.6V249.6" stroke="#A028B4"/><path d="M86.1 256.6V249.5" stroke="#CD0F2D"/><path d="M125.1 256.6V249.1" stroke="#A028B4"/><path d="M121.7 256.6V250" stroke="#CD0F2D"/><path d="M96.5 256.6V249.8" stroke="#CD0F2D"/><path d="M139.4 256.6V249.9" stroke="#A028B4"/><path d="M120 256.6V249.6" stroke="#CD0F2D"/><path d="M126.3 256.6V249.2" stroke="#A028B4"/><path d="M160 256.6V249.3" stroke="#CD0F2D"/><path d="M159.7 256.6V249.5" stroke="#A028B4"/><path d="M139.7 256.6V249.8" stroke="#CD0F2D"/><path d="M153.5 256.6V249.5" stroke="#CD0F2D"/><path d="M98.3 256.6V249.2" stroke="#A028B4"/><path d="M74.8 256.6V250" stroke="#CD0F2D"/><path d="M98.2 256.6V249.4" stroke="#CD0F2D"/><path d="M90.8 256.6V250" stroke="#0573D7"/><path d="M107.3 256.6V249.9" stroke="#A028B4"/><path d="M82.9 256.6V249.7" stroke="#CD0F2D"/><path d="M156.8 256.6V249.1" stroke="#A028B4"/><path d="M107.5 256.6V249.7" stroke="#CD0F2D"/><path d="M134 256.6V249.7" stroke="#CD0F2D"/><path d="M152.6 256.6V250" stroke="#A028B4"/><path d="M89.6 256.6V249.3" stroke="#CD0F2D"/><path d="M121.7 256.6V249.8" stroke="#A028B4"/><path d="M160.2 256.6V249.3" stroke="#A028B4"/><path d="M119 256.6V250" stroke="#A028B4"/><path d="M141.9 256.6V249.8" stroke="#0573D7"/><path d="M91.8 256.6V249.7" stroke="#A028B4"/><path d="M119.2 256.6V250" stroke="#A028B4"/><path d="M102.2 256.6V249.9" stroke="#0573D7"/><path d="M72.5 256.6V249.1" stroke="#CD0F2D"/><path d="M118.6 256.6V249.7" stroke="#CD0F2D"/><path d="M108.4 256.6V249.4" stroke="#A028B4"/><path d="M158.7 256.6V249.1" stroke="#CD0F2D"/><path d="M144.3 256.6V249.3" stroke="#0573D7"/><path d="M153.6 256.6V249.7" stroke="#A028B4"/><path d="M137.5 256.6V249.6" stroke="#A028B4"/><path d="M78.2 256.6V249.3" stroke="#A028B4"/><path d="M87.9 256.6V249.8" stroke="#CD0F2D"/><path d="M111 256.6V249.2" stroke="#CD0F2D"/><path d="M81.5 256.6V249.2" stroke="#CD0F2D"/><path d="M141.4 256.6V249.4" stroke="#A028B4"/><path d="M89.5 256.6V249.5" stroke="#CD0F2D"/><path d="M115.8 256.6V249.7" stroke="#CD0F2D"/><path d="M107.8 256.6V250" stroke="#CD0F2D"/><path d="M107 256.6V249.3" stroke="#A028B4"/><path d="M120.4 256.6V249.6" stroke="#CD0F2D"/><path d="M140.4 256.6V249.7" stroke="#CD0F2D"/><path d="M158.5 256.6V249.6" stroke="#CD0F2D"/><path d="M163.7 256.6V249.8" stroke="#CD0F2D"/><path d="M110.7 256.6V249.7" stroke="#CD0F2D"/><path d="M91.5 256.6V249.9" stroke="#CD0F2D"/><path d="M129.7 256.6V249.2" stroke="#A028B4"/><path d="M131 256.6V249.9" stroke="#0573D7"/><path d="M95.3 256.6V250" stroke="#CD0F2D"/><path d="M120 256.6V249.8" stroke="#CD0F2D"/><path d="M153.8 256.6V249.3" stroke="#CD0F2D"/><path d="M75.6 256.6V249.9" stroke="#0573D7"/><path d="M101.5 256.6V249.3" stroke="#CD0F2D"/><path d="M118.2 256.6V249.9" stroke="#CD0F2D"/><path d="M159.1 256.6V249.4" stroke="#CD0F2D"/><path d="M151.2 256.6V249.3" stroke="#A028B4"/><path d="M128.6 256.6V249.9" stroke="#CD0F2D"/><path d="M163.6 256.6V249.7" stroke="#0573D7"/><path d="M102.9 256.6V249.2" stroke="#CD0F2D"/><path d="M134.6 256.6V249.2" stroke="#A028B4"/><path d="M128.8 256.6V249.1" stroke="#A028B4"/><path d="M83.4 256.6V249.7" stroke="#CD0F2D"/><path d="M84.8 256.6V249.6" stroke="#0573D7"/><path d="M143 256.6V249.5" stroke="#0573D7"/><path d="M90.3 256.6V249.8" stroke="#CD0F2D"/><path d="M87.1 256.6V250" stroke="#A028B4"/><path d="M95.5 256.6V249.3" stroke="#A028B4"/><path d="M163.6 256.6V249.9" stroke="#A028B4"/><path d="M138.4 256.6V249.5" stroke="#A028B4"/><path d="M101.6 256.6V249.2" stroke="#0573D7"/><path d="M143.1 256.6V249.7" stroke="#CD0F2D"/><path d="M103 256.6V249.7" stroke="#CD0F2D"/><path d="M109.8 256.6V249.1" stroke="#CD0F2D"/></g><g stroke-width="0.5" opacity="0.8" fill="none"><path d="M163.9 250V235.9" stroke="#FF5F10"/><path d="M130.1 250V232.4" stroke="#FF5F10"/><path d="M129.6 250V235.3" stroke="#FF5F10"/><path d="M109.3 250V236.1" stroke="#FF5F10"/><path d="M156.9 250V237.5" stroke="#FF5F10"/><path d="M82.8 250V232.7" stroke="#FF5F10"/><path d="M105.8 250V236.3" stroke="#FF5F10"/><path d="M84.7 250V233.3" stroke="#FF5F10"/><path d="M96.9 250V235.1" stroke="#FF5F10"/><path d="M158.8 250V235.9" stroke="#FF5F10"/><path d="M122.5 250V235.2" stroke="#FF5F10"/><path d="M130.2 250V236.6" stroke="#FF5F10"/><path d="M114.5 250V235.8" stroke="#FF5F10"/><path d="M145.5 250V234.1" stroke="#FF5F10"/><path d="M107.2 250V232.6" stroke="#FF5F10"/><path d="M92.5 250V235.6" stroke="#FF5F10"/><path d="M152.1 250V234.6" stroke="#FF5F10"/><path d="M123.1 250V236" stroke="#FF5F10"/><path d="M114.9 250V236.5" stroke="#FF5F10"/><path d="M86.2 250V232.9" stroke="#FF5F10"/><path d="M162 250V236" stroke="#FF5F10"/><path d="M73.7 250V235.1" stroke="#FF5F10"/><path d="M152 250V237.2" stroke="#FF5F10"/><path d="M160.5 250V234.7" stroke="#FF5F10"/><path d="M81.6 250V237.3" stroke="#FF5F10"/><path d="M162.6 250V232.6" stroke="#FF5F10"/><path d="M97.1 250V233.9" stroke="#FF5F10"/><path d="M102.9 250V237.2" stroke="#FF5F10"/><path d="M103.3 250V232.2" stroke="#FF5F10"/><path d="M142.2 250V235" stroke="#FF5F10"/><path d="M147.7 250V236" stroke="#FF5F10"/><path d="M162.6 250V235" stroke="#FF5F10"/><path d="M118.7 250V237.7" stroke="#FF5F10"/><path d="M89.3 250V234.3" stroke="#FF5F10"/><path d="M162.9 250V237.9" stroke="#FF5F10"/><path d="M147.2 250V236.2" stroke="#FF5F10"/><path d="M149 250V237.3" stroke="#FF5F10"/><path d="M131.1 250V234.9" stroke="#FF5F10"/><path d="M121.3 250V233.9" stroke="#FF5F10"/><path d="M107.1 250V236.6" stroke="#FF5F10"/><path d="M76.4 250V237.2" stroke="#FF5F10"/><path d="M98.4 250V235.5" stroke="#FF5F10"/><path d="M89.5 250V236.9" stroke="#FF5F10"/><path d="M142.1 250V233.1" stroke="#FF5F10"/><path d="M116.9 250V235" stroke="#FF5F10"/><path d="M127.2 250V232.2" stroke="#FF5F10"/><path d="M144.9 250V236.2" stroke="#FF5F10"/><path d="M129.3 250V234.1" stroke="#FF5F10"/><path d="M130 250V235.5" stroke="#FF5F10"/><path d="M98 250V234.4" stroke="#FF5F10"/><path d="M159.9 250V233.8" stroke="#FF5F10"/><path d="M117.6 250V234.1" stroke="#FF5F10"/><path d="M134.3 250V234.4" stroke="#FF5F10"/><path d="M157.7 250V232.9" stroke="#FF5F10"/><path d="M99.9 250V237.8" stroke="#FF5F10"/><path d="M133.3 250V236.4" stroke="#FF5F10"/><path d="M114.2 250V232.4" stroke="#FF5F10"/><path d="M76.4 250V236.6" stroke="#FF5F10"/><path d="M162.7 250V234.9" stroke="#FF5F10"/><path d="M138.3 250V234" stroke="#FF5F10"/><path d="M142.1 250V233.6" stroke="#FF5F10"/><path d="M107 250V236.7" stroke="#FF5F10"/><path d="M118.9 250V235.1" stroke="#FF5F10"/><path d="M74.9 250V233.8" stroke="#FF5F10"/><path d="M96.4 250V234.6" stroke="#FF5F10"/><path d="M88.5 250V237.5" stroke="#FF5F10"/><path d="M148.1 250V236.8" stroke="#FF5F10"/><path d="M109.8 250V235.9" stroke="#FF5F10"/><path d="M103.8 250V233.7" stroke="#FF5F10"/><path d="M156.8 250V236.7" stroke="#FF5F10"/><path d="M152.4 250V235.8" stroke="#FF5F10"/><path d="M134.6 250V237.9" stroke="#FF5F10"/><path d="M125.5 250V233.6" stroke="#FF5F10"/><path d="M91.4 250V237.5" stroke="#FF5F10"/><path d="M91.2 250V232.4" stroke="#FF5F10"/><path d="M125 250V232.6" stroke="#FF5F10"/><path d="M115 250V233.9" stroke="#FF5F10"/><path d="M103.2 250V236.5" stroke="#FF5F10"/><path d="M103 250V237.5" stroke="#FF5F10"/><path d="M148 250V237.1" stroke="#FF5F10"/><path d="M97.2 250V234" stroke="#FF5F10"/><path d="M97.2 250V234.5" stroke="#FF5F10"/><path d="M99 250V234.4" stroke="#FF5F10"/><path d="M130 250V235.6" stroke="#FF5F10"/><path d="M142.7 250V237" stroke="#FF5F10"/><path d="M107.8 250V237.4" stroke="#FF5F10"/><path d="M109.6 250V233.3" stroke="#FF5F10"/><path d="M108.3 250V233.7" stroke="#FF5F10"/><path d="M95.8 250V232.7" stroke="#FF5F10"/><path d="M153.9 250V233.5" stroke="#FF5F10"/></g>
</g>
<g stroke="#262626" stroke-width="0.5" fill="none" opacity="0.45">
<rect x="22.3" y="152.5" width="146.3" height="113.9"/>
<path d="M22.3 266.4v-1.3M22.3 152.5v1.3M58.9 266.4v-1.3M58.9 152.5v1.3M95.4 266.4v-1.3M95.4 152.5v1.3M132 266.4v-1.3M132 152.5v1.3M168.6 266.4v-1.3M168.6 152.5v1.3M22.3 152.5h1.3M168.6 152.5h-1.3M22.3 168.8h1.3M168.6 168.8h-1.3M22.3 185h1.3M168.6 185h-1.3M22.3 201.3h1.3M168.6 201.3h-1.3M22.3 217.6h1.3M168.6 217.6h-1.3M22.3 233.9h1.3M168.6 233.9h-1.3M22.3 250.1h1.3M168.6 250.1h-1.3M22.3 266.4h1.3M168.6 266.4h-1.3"/>
</g>
<g fill="#262626" stroke="#262626" stroke-width="0.1">
<text x="95.5" y="149.9" font-size="8" text-anchor="middle" fill="#000" stroke="#000" stroke-width="0.12">Sit</text>
<g font-size="4.2">
<text x="22.3" y="273.3" text-anchor="middle">0</text>
<text x="58.9" y="273.3" text-anchor="middle">0.5</text>
<text x="95.4" y="273.3" text-anchor="middle">1</text>
<text x="132" y="273.3" text-anchor="middle">1.5</text>
<text x="168.6" y="273.3" text-anchor="middle">2</text>
<text x="20" y="154.1" text-anchor="end">1000</text>
<text x="20" y="170.3" text-anchor="end">800</text>
<text x="20" y="186.6" text-anchor="end">600</text>
<text x="20" y="202.9" text-anchor="end">400</text>
<text x="20" y="219.1" text-anchor="end">200</text>
<text x="20" y="235.4" text-anchor="end">0</text>
<text x="20" y="251.7" text-anchor="end">-200</text>
<text x="20" y="267.9" text-anchor="end">-400</text>
</g>
<g font-size="4.4">
<text x="95.5" y="279" text-anchor="middle">Sample</text>
<text transform="translate(7.6 209.4) rotate(-90)" text-anchor="middle">Amplitude</text>
<text x="158.2" y="280.6" font-size="4.6">×10<tspan dy="-1.8" font-size="3.4">4</tspan></text>
</g>
</g>
<g filter="url(#bl)">
<rect x="211" y="170" width="43" height="96" fill="#FFB40A"/>
<path fill="#6EB928" d="M211 176.1l.5-1.2 .5 .3 .5-1.6 .5-.3 .5 1.4 .5-1.6 .5-.3 .5 1.2 .5 .7 .5-.1 .5-.2 .5 2.3 .5-3.6 .5 1.9 .5-.6 .5-.1 .5-.1 .5-.3 .5 .3 .5 .6 .5-.2 .5 .7 .5-.9 .5 .2 .5 .2 .5 .8 .5-.8 .5-.5 .5 2.8 .5 .2 .5 .1 .5-1 .5-.3 .5 1 .5 .9 .5-1.6 .5-.3 .5 1.5 .5-1.8 .5-1 .5 1.4 .5-1.2 .5 0 .5 1.7 .5 .2 .5-.6 .5 .2 .5 .7 .5-.1 .5-1.1 .5-.6 .5-.2 .5 .5 .5 2.4 .5-1.7 .5-.5 .5 .6 .5-3 .5 2.4 .5-.2 .5 .9 .5-.8 .5-.5 .5 0 .5 .8 .5 1.7 .5 .9 .5-1.9 .5 0 .5-1.8 .5 1.9 .5-.4 .5 0 .5 .4 .5-.3 .5-.5 .5 .3 .5 3.3 .5-3.3 .5-.2 .5 .4 .5-.6 .5-.7 .5-.2 .5-.7 .5-.5V266H211z"/>
<path fill="#CD0F2D" d="M211 175.6l.5 .9 .5 .1 .5 .5 .5-.6 .5 .4 .5-1 .5 0 .5 0 .5 1 .5 .2 .5-1 .5 .9 .5 0 .5 .2 .5-.9 .5 .2 .5 .5 .5-.6 .5 .9 .5-.7 .5 .4 .5-1.5 .5 .7 .5 .4 .5 1.4 .5-1.1 .5 .6 .5 .9 .5 1.1 .5-.7 .5 .2 .5 .2 .5-1.4 .5 .6 .5 .3 .5-.5 .5 .2 .5 .1 .5 .2 .5-1.3 .5-.6 .5 2.4 .5-1.9 .5 1.6 .5 .2 .5 .4 .5-.3 .5-.3 .5 .1 .5-.8 .5 .5 .5-.2 .5 0 .5 1 .5-.5 .5 0 .5 1.6 .5-2.4 .5 .5 .5 .8 .5-1.2 .5-.4 .5 .4 .5 .4 .5-.1 .5-1.2 .5 1.9 .5-.2 .5-.3 .5-.3 .5-.2 .5 1 .5-.1 .5 .4 .5-.2 .5-.2 .5-.2 .5 .8 .5-.7 .5 .7 .5-1.4 .5 .7 .5 .3 .5-.8 .5-.7 .5 .7V266H211z"/>
<path fill="#1CBEF5" d="M211 184.9l.5 .5 .5-1.8 .5 .5 .5 1.3 .5-2.8 .5 2.1 .5-.7 .5-1.6 .5 .4 .5 1.2 .5 1.1 .5-2.5 .5 2.1 .5-.3 .5 1.2 .5-3.8 .5 2.8 .5-1 .5 1.4 .5-2 .5 4.8 .5-2.5 .5-3.5 .5 .8 .5 1.8 .5-.8 .5 0 .5 .1 .5 .8 .5 1.1 .5 .7 .5-2.8 .5 1.3 .5-1 .5 1.8 .5-2.2 .5-1.4 .5 3 .5-2.6 .5 1.2 .5 1.4 .5-1 .5 1.4 .5-.5 .5 1.9 .5-.2 .5-3.1 .5 .9 .5-2.3 .5 2.7 .5 2.8 .5-2.7 .5-1.2 .5 4.5 .5-1.9 .5-3 .5 1.1 .5-1.2 .5 1.7 .5 .8 .5-2 .5 2.5 .5-2.2 .5 1.1 .5 .1 .5-.3 .5 1.6 .5-1.4 .5 .9 .5-2.1 .5 .5 .5-.2 .5 1.3 .5 .1 .5-.4 .5 .8 .5 1.6 .5-2.9 .5 1.3 .5-2 .5 2.7 .5-2.6 .5 .7 .5-.8 .5-.3 .5 1.6V266H211z"/>
<path fill="#FFFFFF" d="M211 190.2l.5-.6 .5 2 .5-1.9 .5 1.1 .5-.3 .5-3.2 .5 3.3 .5-4 .5 4.9 .5 .7 .5-.2 .5 .1 .5 .8 .5 1.4 .5-2.4 .5 1 .5 .1 .5-1 .5 2.6 .5 3.3 .5-5.2 .5 1.4 .5-5.8 .5 1.8 .5-4.1 .5 4.8 .5-2 .5 4.7 .5-4.9 .5 3.6 .5-6.8 .5 5.6 .5 .1 .5 3.1 .5-.4 .5-1.7 .5-.7 .5 2 .5-2.6 .5-1.3 .5-1.9 .5 4.7 .5-1.6 .5-.2 .5 0 .5 .8 .5 1.1 .5 1.8 .5-3.2 .5 3.3 .5-9 .5 5.2 .5-.8 .5 1.5 .5-1.5 .5 3.8 .5-2.5 .5 .3 .5-1.6 .5 .8 .5 2.6 .5-2.5 .5-.9 .5 .4 .5 4.1 .5-1.8 .5 .4 .5-2.1 .5 .6 .5-1.7 .5 2.9 .5-5.3 .5 5 .5-3.9 .5 2.8 .5 .1 .5 1.3 .5 .8 .5-.7 .5-.1 .5 .1 .5-1.2 .5 .2 .5 .4 .5-1.3 .5-2.1V266H211z"/>
<path fill="#0573D7" d="M211 196.9l.5-.4 .5-.7 .5-3.4 .5 4.2 .5-.7 .5 1.7 .5-2.6 .5 2 .5-.5 .5 1.2 .5-.7 .5 1.1 .5-.5 .5 1.3 .5 0 .5 .1 .5-.6 .5 1 .5-2 .5 2.2 .5-.8 .5-2.6 .5-1.8 .5-.4 .5 .1 .5 .8 .5-.2 .5 1.9 .5 .7 .5-1.1 .5 .3 .5 .8 .5-.1 .5-1.9 .5 1.7 .5 .1 .5-.6 .5 .8 .5-3.3 .5-.4 .5 4.9 .5-3.1 .5-1.7 .5 3.1 .5-2.4 .5 .5 .5 2.4 .5 .3 .5-3.6 .5 5.3 .5-4.1 .5 .6 .5-2.6 .5 3.6 .5 2.2 .5-3.5 .5-1.2 .5 1.2 .5 .6 .5-.7 .5-1.9 .5 2.2 .5 0 .5-.7 .5-.3 .5 .7 .5 1.7 .5-.6 .5-1.3 .5-.6 .5 .3 .5 .8 .5 1.3 .5 1.6 .5-2 .5-2.4 .5 2.9 .5-.2 .5-1.3 .5-.7 .5-2.5 .5 6.8 .5 4.1 .5-7.4 .5-1.6 .5 4.1V266H211z"/>
<path fill="#FF5F10" d="M211 197.9l.5 .2 .5-.6 .5 .2 .5-.6 .5 .7 .5 .1 .5 .8 .5-.5 .5 .7 .5 .6 .5 .9 .5-.2 .5 .2 .5-.4 .5 2.2 .5-1.7 .5 .9 .5-.2 .5-.7 .5 1.8 .5-1.5 .5-1.7 .5-3.6 .5 .9 .5-.1 .5 1.5 .5-.4 .5 2.9 .5-1.2 .5-.2 .5 0 .5-1.1 .5 .5 .5-1.9 .5 1.7 .5 0 .5-.4 .5 0 .5-.5 .5-.3 .5 .9 .5-1.3 .5 .5 .5 2.2 .5-1.3 .5-.2 .5 .8 .5 .8 .5-1.9 .5 0 .5 0 .5-1 .5 .9 .5 1.3 .5-.3 .5 .3 .5-.1 .5-1.5 .5-1.3 .5 1.9 .5 1.1 .5-1.7 .5 .1 .5-.3 .5 1.1 .5 .6 .5-.1 .5 .3 .5-2.3 .5 .3 .5 .2 .5 1 .5-.1 .5 .3 .5-.5 .5-.9 .5 .3 .5 1.4 .5 .4 .5-.6 .5 .4 .5-.1 .5-.7 .5-.3 .5-.3 .5-.2V266H211z"/>
<path fill="#FFB40A" d="M211 202.4l.5 .7 .5-1.1 .5-.6 .5 1 .5-.3 .5-.5 .5 1 .5 .2 .5 1.2 .5 .6 .5 0 .5 .8 .5-.4 .5 .9 .5-.5 .5-.2 .5 1.1 .5 .8 .5-1.2 .5 2.1 .5-1.6 .5-1.9 .5-4.7 .5 .6 .5 0 .5 .6 .5-.5 .5 2.9 .5-1 .5 .2 .5 0 .5-.7 .5-1.1 .5 .4 .5 1.1 .5-.3 .5 .5 .5-.2 .5-1.6 .5-.9 .5 1 .5 .1 .5 .5 .5 .5 .5 .4 .5 0 .5 .3 .5 .2 .5-1.1 .5-.2 .5 .4 .5-.8 .5 .8 .5 .8 .5-.9 .5-.6 .5-.2 .5 .5 .5-.4 .5-.2 .5 .4 .5 .5 .5-.7 .5 .3 .5-.3 .5 .8 .5-.1 .5 .3 .5-.1 .5-1.1 .5 .4 .5 1.2 .5 .1 .5-1 .5 0 .5-.7 .5 .8 .5 .1 .5-.3 .5 .9 .5-.3 .5-1.3 .5-1.3 .5 1.5 .5 1.4 .5 .3V266H211z"/>
<path fill="#A028B4" d="M211 208.7l.5-.2 .5 .3 .5-.1 .5-.5 .5 1.8 .5 .1 .5-.3 .5 1.3 .5-.5 .5 1.8 .5-.8 .5 1.1 .5-1 .5 1.4 .5 .5 .5 .5 .5 .1 .5-.9 .5 1.3 .5-.3 .5 .7 .5-4.1 .5-5.2 .5 .9 .5 .5 .5-.2 .5-.2 .5 2.6 .5-.8 .5 .9 .5-.4 .5-1.5 .5 .3 .5 .2 .5 .3 .5 1.4 .5-1.3 .5-1.4 .5 .2 .5-.2 .5 .4 .5-.2 .5 .3 .5 .3 .5 1 .5-.7 .5 .9 .5-.4 .5-1.2 .5 .3 .5 .5 .5-1.1 .5-.6 .5 1.2 .5 .9 .5-1.6 .5 2 .5-1.7 .5 .1 .5-.2 .5 .4 .5 .3 .5-.6 .5-.1 .5 .4 .5 .9 .5-.3 .5-.3 .5-.9 .5-.3 .5 1 .5 .1 .5 1.4 .5-1.2 .5-.1 .5-.7 .5 .3 .5 .7 .5-.4 .5-.5 .5 .7 .5-1.1 .5-1.1 .5 2.2 .5-.2 .5 3.1V266H211z"/>
<path fill="#FF5F10" d="M211 213.9l.5-.1 .5 .6 .5-.1 .5-.1 .5 .4 .5-.1 .5 .6 .5 .5 .5 .4 .5 0 .5 1.7 .5 .6 .5 .3 .5 .4 .5 .8 .5-.3 .5 .3 .5 .1 .5 .8 .5 .5 .5-.2 .5-3.6 .5-5.9 .5 .6 .5-.8 .5 .5 .5-.2 .5 1.4 .5-.6 .5 .2 .5-.3 .5-1.2 .5 .5 .5-1.6 .5 .2 .5 .2 .5-.9 .5 .1 .5-1.7 .5-2.3 .5 2.8 .5-.3 .5-.7 .5-.1 .5 2.2 .5 .1 .5-.8 .5 2 .5-2.1 .5-.3 .5-.9 .5 0 .5 1.5 .5 .6 .5-1.2 .5-.2 .5 1.1 .5-1.3 .5-.1 .5-.5 .5 .4 .5-.8 .5 1.1 .5-.4 .5-.5 .5 1 .5 .5 .5 .7 .5-.6 .5-1.3 .5-.7 .5 1.5 .5 .1 .5-.1 .5-.4 .5-1.9 .5 2.2 .5 0 .5 .2 .5 0 .5-.8 .5-.2 .5 1 .5-1.2 .5 .5 .5 .6V266H211z"/>
<path fill="#1CBEF5" d="M211 231.7l.5 3.3 .5-3.7 .5 .8 .5 .3 .5 3.6 .5-5 .5 1.9 .5 2.2 .5 0 .5-.7 .5 2.4 .5 .4 .5 2.4 .5 3.8 .5-5.2 .5-4.3 .5 7.2 .5-4 .5 4.9 .5-1.2 .5 1.1 .5-4.8 .5-8.6 .5 4.5 .5-2.8 .5-1 .5-1.9 .5 1.8 .5 .5 .5-6 .5 8.9 .5-2.7 .5-4.9 .5-1 .5-7.9 .5-.4 .5 5 .5 1.9 .5-5.1 .5 7.5 .5-1.6 .5-3.1 .5-2.1 .5 10 .5-8.8 .5 1 .5 5.1 .5-5 .5-1.5 .5 7.4 .5-5.5 .5-3 .5-.9 .5-.5 .5 1.9 .5 .8 .5 1.9 .5-4.9 .5 2.2 .5 8.9 .5-17.8 .5 13 .5-4 .5 1.4 .5-2.7 .5 2.8 .5-1.3 .5-1.7 .5 2.5 .5-2.3 .5-1.3 .5 3.2 .5 .2 .5-3.5 .5-1.8 .5 9.8 .5-8.6 .5 2.6 .5 1.2 .5 0 .5 4.2 .5-4.6 .5-2.3 .5-.5 .5 2.4 .5-2.4V266H211z"/>
<path stroke="#FF5F10" stroke-width="0.7" fill="none" opacity="0.9" d="M220.3 234.3v8.9M219.7 227.9v19.1M220.3 238.5v12.7M221.8 247.7v9.7M215.1 250.3v9.5M214.3 246.1v10.8M221.1 246.1v6.6"/>
<path stroke="#A028B4" stroke-width="0.7" fill="none" opacity="0.9" d="M216 245.3v6M216.1 231.3v12.4M215.2 248.2v9.9M213.1 238.1v18.8M215.6 240.2v13.1M213.9 246.6v15.4M215.5 249.9v8.6M218.6 245.4v8.5M220.2 247.2v11.6M214.5 249.2v7M211.6 240.6v16.3M218 235.7v15.8M221.2 244.1v14.6M215.3 230.5v11.2M219.6 233.6v7.7"/>
<path stroke="#CD0F2D" stroke-width="0.7" fill="none" opacity="0.9" d="M213.9 242.5v19.1M216.2 229v18.1M212.6 247.1v16M214.8 229.2v18.7M213.1 234.7v11.5M214.6 250v9.9M214.2 239.4v10.4M212.7 247.4v8M219.9 234.2v13.2M219.4 241.5v19.6M221.5 248.9v9.6M213.4 236.3v14.7"/>
<path stroke="#0573D7" stroke-width="0.7" fill="none" opacity="0.9" d="M221.5 234.7v15.5M220.7 242.1v19M214.6 227.8v16.5M213.4 242v19.3M221.5 241.7v12.8M211.8 236.5v16.9M213.6 233.2v14.3M215.2 239.1v12.8M212.6 230.8v14.4M220.8 242.2v13.9M212.7 240v8.6"/>
<path stroke="#6EB928" stroke-width="0.7" fill="none" opacity="0.9" d="M221.9 243.6v17.8M211.1 250.4v10.1M216.8 246.4v14.6M220.4 245.7v11.6M216.2 246.8v14.6M215.9 251v6.1M218.1 247.1v16.6M215 240v9.1M221.8 244.7v18.6M214.2 247.2v13.8"/>
<path stroke="#FF5F10" stroke-width="0.7" fill="none" opacity="0.9" d="M245.6 222.3v3.1M243.9 221.9v8.6M232.7 227.5v9.8M244 226.1v7.5M246.2 227.4v4.7M235.2 223.7v9.8M233.1 218.7v10.3M228.2 228.5v9.1M252.5 223.7v5.8M229.2 227.3v7.6M235.1 225.4v7.4M249.6 227.7v3.8M231.8 225.1v7.3M250.2 226.2v9.8M224.5 228.3v9.1M247.7 229.2v7.2M229.7 221.5v7.6M222.8 218.6v10.9M228.1 220.1v8.7M225.5 219.5v10.8"/>
<path stroke="#A028B4" stroke-width="0.7" fill="none" opacity="0.9" d="M241 229.1v4.9M230.8 226.6v10.9M241.6 225.4v6.9M238.6 218.2v10.4M226.6 229.9v6.8M249.7 224.8v8.9M234.2 227.8v8.8M239.1 221.3v4.3M242.3 221.7v6.4M246.1 225.4v9.2M230.7 221.5v10.4M236.2 221.8v9M232.7 220.6v5.9M236.6 223v3.5M240.5 224.3v6.8M233.1 218.2v10.1M245.6 222.8v10.8M235.6 223.4v5.4M237.8 222.9v5.7M248.1 224.6v4.2M251 219.3v8.9M231.3 220v6.8M239.3 230v5.7M224.2 224.2v4.5M226.2 221.3v9.7M245.4 225.6v5.2M235.2 230.7v5.8M232.3 223.9v10.3M232 226.7v9.5M253.6 231.8v4.5M243.7 228.5v7.8M238.2 225.3v3.3M241.4 225.8v6.6M247 225.5v8.8M236.9 228.3v9.1M235.6 218.4v9.2M245.5 228.8v5M245.2 228.8v7M227.7 224.5v8.8M224.8 218.6v10.4M230 227.1v5.8"/>
<path stroke="#CD0F2D" stroke-width="0.7" fill="none" opacity="0.9" d="M227.9 227.8v6.8M222.2 231.2v11M245.8 225.4v6.5M224 222.8v4.3M227.3 224.5v3.4M252.2 224.1v7.8M239 226.9v8.8M224.6 225.2v8.4M230.6 226.9v9.4M234.8 221.8v4.9M227.9 218.5v10.2M229.9 222.6v6.6M235.4 225.2v3.6"/>
<path stroke="#0573D7" stroke-width="0.7" fill="none" opacity="0.9" d="M253.4 226.1v7.4M225.2 217.7v10.7M228 225.9v4.7M230.6 226.1v9.2M243.5 221v9M228.7 230.6v3.2M224.8 221.9v4M226.2 228.8v10.6M253.2 219.5v10.1M238.1 219.8v10.8M227.2 224.9v9.7M247.4 227.2v4.9M237 228.6v4M248.8 226.4v9.2M241.7 218.5v9.8M224.8 223.7v3.2M252.5 220.5v9.2M252.1 222.9v8.8M239.8 225.7v6M238.9 223.1v5M238.2 219.3v8.5M224.1 226.2v6.6M233.1 222.3v3.8M239.6 218.4v9.6M234.4 218.7v10.4M231.2 221.5v7.3M252.1 223v3.8M244.1 226.8v5M240.4 222.6v6.8M245.6 221.2v3.2M235.7 227.7v9.3M228.4 220.4v10M227.3 220.9v3.6M236.6 226.5v5.8M243.5 217.7v10.9"/>
<path stroke="#6EB928" stroke-width="0.7" fill="none" opacity="0.9" d="M252.7 219.4v6.8M240.2 217.5v10.3M252 222.5v6M243.5 223.5v10.1M226.7 225.5v8.5M236.1 226.8v5M228.2 219.9v7.1M223.8 228v8M227.1 225.5v8.1M230.5 225.2v7.4M250.8 229.9v5.6M235.9 228.8v5.9M252.7 224v8.6M231.6 224.9v9.3M240.6 226v5.8M233.3 225.2v5.7M248.5 229.9v7M228.4 227.5v5.8M235.7 227.8v8.8M224.1 225.3v5.3M237.4 219.4v6.8M231.4 227v7.8M239.5 220.9v6.7M246.4 229.1v5.7M248.4 225.1v7.5M236.3 224.3v10.6M225.2 227.3v8.5M231.2 228.7v3.2M249.6 224.5v10.4M229.6 222.5v10.1M224.1 222.9v6.5M236 228.9v9.1M243.9 219.9v9.1M233.1 223.3v3.4M243.9 228.4v8.9M234.1 228.2v8.5M233.7 227.3v6.5M223.9 227.5v4M250 218.8v8.6M233.7 225.4v3.9M251.4 229.4v6.4M233.2 219.5v7.2M236.7 220.8v3.3M243.3 228.9v8.5M246.3 223v3.6"/>
<path stroke="#1CBEF5" stroke-width="0.7" fill="none" opacity="0.9" d="M240.2 223.8v9.8M251.2 228.7v8.5M222.2 231.1v4M231 225.1v10.5M227.8 221.5v10.5M244.7 219.3v10.6M237.7 220.4v8.7M248.5 229.7v7.6M231.6 222.9v3.5M226 228.7v10.5M248.2 228.8v3.3M232.7 224.2v6.4M237.1 225.9v7.7M228.9 220.3v5.4M230.4 228.6v6.7M225.1 222.3v8.7"/>
<path stroke="#CD0F2D" stroke-width="0.6" fill="none" opacity="0.8" d="M213.4 221.4v5.4M222.9 209.7v3.4M214 213.4v5.4M212.7 219v4.5M220.2 227v3.2M215.1 218.9v5.2M221.2 227.2v2.9M219.3 222.8v2.1M213.4 223.1v2.3M220.2 219.2v2.1M223.4 214.8v3.5M217.2 222.3v5.4M214.1 222.8v4.3M217.7 219.2v3.9M213.1 224.8v4M218.8 224v4.2M216.5 219.7v3.3M216.3 220.8v5.2M223 211.1v5.8M223.2 212.6v5.7M216.1 221v4.8M223.3 205.3v4.3M216.8 214.7v4.7M212.5 224.1v2.3M214.5 225.6v4.3M214.8 216.9v2.6M222.6 211.6v2.6M218.7 217.1v3.1M219.5 224.5v5.8M223 209.3v3.5"/>
<path stroke="#0573D7" stroke-width="0.6" fill="none" opacity="0.85" d="M242.4 190.4v2.2M215.7 193.1v5M241.4 190.7v4.8M218.4 187.8v5.3M252 187.2v5.6M235 191v5.7M239.2 187v4.1M241.6 187.3v5.7M216.7 191.4v4.4M226.5 189.9v2M216 188.5v3.6M236.2 188.9v4.2M212 189.1v3.4M249.8 191.1v5.8M236.8 186.2v4.5M227 189.9v3.1M227.8 190.2v5.2M245.1 188.6v4.2M214.7 193.9v2M235.4 190.7v2.6M237.6 186.9v5.8M237.1 190.1v2.3M243.8 191.4v4.4M246.8 192.1v2.1"/>
<path stroke="#A028B4" stroke-width="0.6" fill="none" opacity="0.85" d="M216.6 188.7v4.7M230.2 188v4M217.9 191.9v3M224.2 186.7v4.7M219.6 189.8v2.4M252.1 187.2v3.1M236.8 189.5v4.3M211.1 189v5M231 187.8v3.9M221.2 188.5v3.3M237.4 187.9v2.3M214.9 192.8v2.7M224.8 187.8v3.4M245.1 189.8v4.6M243.3 189.2v6M241.1 190.7v5.3M223.6 186.5v2.3M232.8 188v5.7M234.3 188.9v5.8M227.1 186.6v5.8"/>
<path stroke="#FFFFFF" stroke-width="0.6" fill="none" opacity="0.85" d="M228.7 189.1v3.6M217.6 194.8v3.4M219.8 193.7v5M224.6 189.1v4.4M233.9 192.7v3.7M242.8 192v2.7M245.6 189.3v2.8M231.2 187.2v2.2M221.4 189v2.4M229.3 187.9v4.5M215.6 189.7v2.2M231.3 186.9v4.1M234.9 187.4v5.4M233.8 189.5v2.7M213.4 193.9v3M241.6 191.8v3"/>
<path stroke="#0573D7" stroke-width="0.6" fill="none" opacity="0.85" d="M215.1 172.1v1.6M220.3 172.5v2.1M211.7 173.6v2M211.7 173.1v1.7M222.4 172.1v2.9M217.5 175.4v1.6M215.7 172.1v2.2M212.9 174.4v2.6"/>
<path stroke="#6EB928" stroke-width="0.6" fill="none" opacity="0.85" d="M215.2 173.3v2M215.3 173.6v2.7M221.6 174.4v2.6M214.4 174.4v1.8M221.4 173.4v2.8M219.7 172.9v1.3M218.8 175v2.7M222.2 173.8v2.2M214.9 173.1v1M220.8 174v2.5M217.3 173.5v1.8M224.3 174.5v2.1M225.6 178.1v1.4M220.5 174.1v1M221.4 174.4v2.9M220.8 173v2.9"/>
<path stroke="#CD0F2D" stroke-width="0.6" fill="none" opacity="0.85" d="M216.9 174.2v1.1M224.2 173.9v2.5M215.8 175.1v1.9M216.9 173.2v1.2M220.3 172.5v1.7M214.2 174.3v2.1M214 173.4v2.4M224.5 176.5v1.1M215.2 173.3v1.8M212.3 174.9v1.6M219.4 173.8v2.6M215.6 174.8v2.3M218.8 173.3v2.3M222.3 173.5v1.1M221.3 173.2v2.3M225.8 176.8v1.7"/>
<rect x="254" y="171" width="11" height="95" fill="#6EB928"/>
<path fill="#CD0F2D" d="M254 178.4l.5-3 .5-1.7 .5 3.9 .5 1.2 .5 1.3 .5-3.3 .5 3.2 .5-5.4 .5 3.6 .5 2 .5 3.8 .5-2.7 .5-.5 .5-.7 .5-2.5 .5 1.9 .5 2.7 .5 .6 .5 .8 .5-3.4 .5-.7 .5-2V266H254z"/>
<path fill="#1CBEF5" d="M254 186.4l.5-7.9 .5-2.7 .5 6.2 .5 4.1 .5 2.4 .5-3.2 .5-.6 .5-4.8 .5 4.3 .5 3.5 .5-4.3 .5 3.9 .5-2.2 .5-2.4 .5 1.7 .5-3.3 .5 1.7 .5 1.4 .5-.1 .5-.9 .5-.9 .5-1.5V266H254z"/>
<path fill="#FF5F10" d="M254 192.5l.5-3.6 .5 0 .5 2.2 .5 .2 .5 2.9 .5-2.8 .5 .2 .5-2.1 .5 .2 .5 2.3 .5-.7 .5 .5 .5-.6 .5-3.6 .5 2.9 .5-7.3 .5 2.8 .5 .4 .5-1.1 .5-1.7 .5 1.7 .5-5.8V266H254z"/>
<path fill="#FFB40A" d="M254 197.6l.5 7.6 .5-14.4 .5 6.4 .5 4.7 .5-1.8 .5-2.9 .5 0 .5-.4 .5-4.5 .5 2.9 .5-.3 .5-.7 .5 2.2 .5-4.7 .5 .2 .5-2 .5-.5 .5-3.6 .5 5.7 .5 .2 .5-1.2 .5-4V266H254z"/>
<path fill="#CD0F2D" d="M254 195.8l.5 3.4 .5-4.5 .5 6.9 .5 1.2 .5-1 .5-2.4 .5-1.8 .5 .9 .5-2.9 .5 3.6 .5-1.1 .5-.7 .5-.7 .5-1.8 .5 2.4 .5-4.1 .5-1 .5 0 .5 1.4 .5-1 .5 3 .5-3.5V266H254z"/>
<path fill="#FFB40A" d="M254 198.7l.5 4.9 .5-.9 .5 6.2 .5-3.2 .5-1.3 .5 2 .5 3.4 .5-1.2 .5-5.8 .5 1.4 .5 2 .5-2 .5 1.5 .5 2 .5-3.9 .5-3.5 .5 2.3 .5 1.7 .5-.1 .5-1 .5 1.7 .5-2.6V266H254z"/>
<path fill="#1CBEF5" d="M254 205.5l.5 2 .5-1.7 .5 9 .5 3.3 .5-3.5 .5-1.1 .5 .4 .5 .4 .5-7.2 .5 3.7 .5 2.7 .5-4.8 .5 1.5 .5 2 .5-.8 .5-4.6 .5 1.1 .5-2.8 .5 5.8 .5-1.3 .5 4.2 .5-6V266H254z"/>
<path fill="#FF5F10" d="M254 212.8l.5 6 .5-4.7 .5 15 .5-2.5 .5-3.1 .5-1.9 .5 2 .5 1.5 .5-5 .5-2.7 .5 4.4 .5-3.9 .5 3.3 .5-3.4 .5 1.3 .5-3.5 .5-1 .5 2.4 .5-1.5 .5-1.1 .5 4.7 .5-9.1V266H254z"/>
<path fill="#6EB928" d="M254 217.5l.5 4 .5-4.7 .5 16.6 .5-1.6 .5-7.2 .5 1.3 .5 3.2 .5 .4 .5-13.8 .5 4.8 .5 2.1 .5-.7 .5 2.6 .5-2.9 .5 .2 .5-3.2 .5-2.4 .5 .9 .5 5.5 .5-3.7 .5 3.3 .5-4.5V266H254z"/>
<path fill="#A028B4" d="M254 223.4l.5 9.4 .5-3.7 .5 11.9 .5 .4 .5-9.9 .5 1.5 .5 4.5 .5 2.4 .5-11.8 .5-2.3 .5 4.8 .5-2.7 .5 7.3 .5-3.6 .5-1.6 .5-1.9 .5-4.5 .5-3.4 .5 8.4 .5 1.2 .5 3.1 .5-5.7V266H254z"/>
<path fill="#FF5F10" d="M254 224.3l.5 12.6 .5-7.6 .5 18.6 .5-1.6 .5-6.8 .5 .1 .5 4.7 .5 3.3 .5-19.2 .5 4.6 .5 9.5 .5-8.6 .5 7.3 .5-3.6 .5 2.9 .5-5.2 .5-1 .5-3.3 .5 7.8 .5-3.4 .5 5.1 .5-5.1V266H254z"/>
<rect x="265" y="174" width="88" height="92" fill="#6EB928"/>
<path fill="#0573D7" d="M265 179l.5 .5 .5-.5 .5 .9 .5-.2 .5 .7 .5-1.1 .5 .7 .5-.6 .5 1.1 .5-.6 .5-.2 .5 .9 .5-.1 .5 .2 .5-.2 .5-.6 .5-.3 .5 .6 .5-.2 .5-.1 .5-.7 .5 1.4 .5 0 .5-.5 .5-.4 .5 .7 .5 .8 .5-.8 .5 .2 .5-.2 .5-1 .5 .7 .5-.6 .5 1.2 .5 .6 .5-1.2 .5 .4 .5-1.1 .5-.6 .5 .7 .5-1.1 .5 1.3 .5 1.4 .5-1.1 .5 1 .5-.2 .5-.5 .5-.2 .5 .8 .5-.5 .5-.2 .5 .4 .5 .2 .5-.6 .5 .1 .5-.4 .5 .4 .5-.4 .5 .8 .5 1 .5-.8 .5 .6 .5-1.1 .5-1.4 .5 1.4 .5 .7 .5-.2 .5-.6 .5 1.3 .5-1.1 .5-.8 .5 .3 .5 .1 .5 1.4 .5 .2 .5 0 .5-.9 .5-1.1 .5 1 .5-.5 .5 .5 .5 .6 .5-1.2 .5-.2 .5 .1 .5 1.2 .5-1.1 .5 1.3 .5-.2 .5-.7 .5 .5 .5 .2 .5-.8 .5 1.4 .5-1 .5-2.3 .5 2.6 .5-1.3 .5 .7 .5 .5 .5 0 .5-.9 .5 1.3 .5 .4 .5-.8 .5-.1 .5-.5 .5 1.9 .5-1.5 .5 0 .5 0 .5 0 .5 .3 .5-.9 .5 0 .5 .9 .5-.6 .5 .3 .5-1.2 .5-.1 .5 .8 .5 .8 .5-.1 .5 .9 .5-.4 .5 2.1 .5-3.4 .5 1.1 .5 2.4 .5-2.2 .5-.5 .5 .7 .5 1.2 .5-1.9 .5 .1 .5-1.1 .5 .9 .5 0 .5-.5 .5 1.1 .5 .1 .5-.6 .5-1.2 .5 1.2 .5 .5 .5-.4 .5-.3 .5 .1 .5 .9 .5 .2 .5-.9 .5 .7 .5 0 .5 1.3 .5-.9 .5-.2 .5-.3 .5-.3 .5 0 .5 1.5 .5-1.7 .5 .9 .5-.2 .5-1 .5 1.5 .5-.5 .5 .6 .5-.3 .5-.6 .5 .8 .5 .6 .5 .2 .5-.7 .5-.9 .5 .7 .5 .2V266H265z"/>
<path fill="#1CBEF5" d="M265 182l.5-.8 .5-1.4 .5 1.1 .5 .6 .5-.6 .5-.4 .5 1.1 .5-.9 .5 .2 .5 1.1 .5-1.1 .5 1.6 .5-1.1 .5 1.3 .5-.4 .5-1.1 .5 .8 .5-.3 .5-.3 .5 .8 .5-.7 .5-1.3 .5 .7 .5 .4 .5 2.6 .5-1.9 .5-.3 .5 .8 .5-.5 .5-.4 .5 1 .5-.9 .5-.4 .5 1.1 .5-.3 .5-1.7 .5 1.2 .5-.8 .5 0 .5-.9 .5 .6 .5 1.2 .5 .6 .5-.2 .5 .4 .5-.5 .5-.1 .5 0 .5-.8 .5 .7 .5-.5 .5 .3 .5 0 .5 .4 .5-1.4 .5 1 .5 .1 .5-.2 .5 1.1 .5 1.3 .5-.8 .5-1.1 .5 .4 .5-.3 .5 .4 .5-.7 .5 1.9 .5-1.3 .5 0 .5-.4 .5-.7 .5 .6 .5 .1 .5-.3 .5 2 .5-1.3 .5-.4 .5-1.2 .5 1.1 .5-.2 .5-.3 .5 .1 .5 .1 .5 .4 .5-.5 .5 .8 .5-.1 .5 .3 .5-3.3 .5 3.9 .5-1.3 .5 .9 .5-.2 .5 .4 .5 .3 .5-.8 .5 1.2 .5-1.1 .5-.4 .5 .4 .5-1.4 .5 1.7 .5 1.2 .5-.9 .5-.8 .5-.4 .5-.8 .5 1.1 .5 .7 .5-.6 .5-.7 .5 1 .5-2.2 .5 .7 .5 1.2 .5-.1 .5-.5 .5 .7 .5-.6 .5-.7 .5 1.7 .5 .3 .5-.2 .5-.1 .5 0 .5-.3 .5-.1 .5 1.4 .5-.8 .5-.8 .5 .7 .5-1.2 .5 .5 .5 0 .5 .3 .5-.5 .5 .8 .5 0 .5 1 .5-1.3 .5 .4 .5-1 .5-.5 .5 1.5 .5-.4 .5-.5 .5 1 .5-.8 .5 .6 .5-.2 .5-1.1 .5 1.3 .5 0 .5-.4 .5 2.1 .5-2.5 .5 1.3 .5-2.2 .5-.2 .5 1.3 .5 .3 .5 .9 .5-.4 .5-.4 .5 .3 .5-.5 .5 1 .5-.9 .5 .7 .5 1 .5-1 .5-.5 .5 1 .5-.6 .5 .1 .5-.3V266H265z"/>
<path fill="#FF5F10" d="M265 184.1l.5 .2 .5 .3 .5-1.5 .5 .7 .5 1 .5-1.2 .5-.1 .5 1.3 .5-1.2 .5 .1 .5 .1 .5 .7 .5 0 .5-.2 .5-.2 .5-.8 .5 .4 .5 1.5 .5-1.4 .5-.6 .5-.1 .5 .8 .5 .4 .5-1.7 .5 .9 .5 .8 .5-1.1 .5 .9 .5-.1 .5-.9 .5 .7 .5-.9 .5 .2 .5 .2 .5 1.4 .5-1.4 .5-.1 .5-.2 .5-.6 .5 .9 .5-1.2 .5 1 .5 1.2 .5 0 .5 .5 .5-1.4 .5 .8 .5-.6 .5-.2 .5 .4 .5 .1 .5 1.1 .5-1.2 .5-.2 .5-.7 .5-.6 .5 1.4 .5-.8 .5 2.5 .5-1.8 .5-.3 .5 .6 .5-.3 .5-.1 .5 .4 .5-.5 .5 .1 .5 .3 .5-.9 .5 .7 .5-.3 .5-.5 .5 1.2 .5-.9 .5 2.1 .5-.2 .5-.5 .5-.3 .5-.6 .5-.2 .5 0 .5-.5 .5 1.3 .5-.1 .5-.7 .5 .9 .5-.6 .5-.5 .5-.3 .5 .5 .5 .2 .5 0 .5 .3 .5 .1 .5 2.1 .5-3.1 .5 .9 .5-.9 .5 .1 .5 .1 .5 .8 .5 .5 .5-.1 .5-.1 .5-.4 .5-.9 .5 1.7 .5 .4 .5-1.4 .5-.7 .5 .7 .5-.2 .5 0 .5-1.3 .5 .9 .5-.3 .5 .6 .5 .1 .5 .1 .5 .2 .5 .2 .5 1.3 .5-.4 .5-1 .5 .2 .5-.2 .5 .1 .5 .2 .5-.7 .5 .3 .5 .3 .5-.2 .5 .2 .5-.4 .5-.4 .5 .1 .5 .3 .5 .4 .5-.2 .5-.8 .5 .8 .5-1.2 .5 .9 .5 0 .5-.6 .5 .8 .5 .9 .5-.5 .5 0 .5 1.9 .5-2.1 .5 1 .5-1.5 .5 .8 .5-.4 .5 .7 .5 .2 .5-1.3 .5 1.8 .5-.9 .5-.2 .5-.2 .5 1.1 .5-.2 .5-.4 .5 1.2 .5-.6 .5-.6 .5 .4 .5 .3 .5-2.4 .5 1.3 .5 .2 .5 .4 .5 1.3 .5-.9V266H265z"/>
<path fill="#FFB40A" d="M265 187.3l.5-.9 .5 .7 .5-.3 .5 .3 .5-.8 .5 1.1 .5-.4 .5 .8 .5-.5 .5-.1 .5 .9 .5 0 .5 0 .5 1 .5-1.5 .5-.1 .5 .5 .5-.8 .5 .3 .5 .6 .5-1.4 .5 .7 .5 .1 .5 0 .5-.6 .5 .3 .5 .1 .5 .2 .5 .1 .5-1.5 .5 .5 .5 0 .5 .5 .5 .6 .5-.8 .5-.7 .5 .9 .5 .1 .5-1.1 .5 .9 .5-1.4 .5 1.4 .5-.1 .5 .6 .5 0 .5-.2 .5-.3 .5 .3 .5-.3 .5 1 .5-1.6 .5 .8 .5-.3 .5-.6 .5 .7 .5 .4 .5 0 .5-.7 .5-.3 .5 1 .5-.4 .5 .6 .5-.6 .5-.2 .5 .6 .5 .4 .5-1.3 .5 .6 .5-1.3 .5 1.3 .5-.8 .5 .4 .5 .7 .5 .2 .5 .8 .5-.4 .5-2.3 .5 2.7 .5-2.4 .5 1.1 .5-.1 .5-.4 .5 .3 .5-.5 .5 .2 .5 1 .5-1 .5 1.2 .5-1.2 .5 .5 .5 .2 .5-.4 .5 .3 .5 .6 .5-.8 .5-.7 .5-.7 .5 2 .5-.7 .5 1.8 .5-1.7 .5 .7 .5 0 .5 .2 .5-1 .5 .4 .5-.3 .5-.2 .5-.5 .5 .7 .5 .8 .5-.5 .5-.2 .5-.7 .5 .4 .5 .4 .5 0 .5-.2 .5 .1 .5 0 .5-.3 .5 .4 .5 .7 .5-.6 .5 .8 .5-.8 .5-.2 .5 .2 .5-.6 .5 0 .5 .5 .5-.2 .5 .6 .5 .1 .5-1.1 .5 .3 .5 .3 .5-.4 .5-.6 .5 .8 .5-.3 .5 .1 .5-.6 .5 .4 .5-.3 .5 .8 .5 1.1 .5-.8 .5-2 .5 2 .5-.3 .5 .3 .5 .3 .5-1.6 .5 1.5 .5-.6 .5 0 .5-.8 .5 .2 .5 .8 .5 .2 .5 .1 .5-.3 .5 .6 .5-.6 .5 .2 .5 1.2 .5-2.1 .5 1.4 .5 .7 .5 .6 .5-1.4 .5 .3 .5-.3 .5-.3 .5 .4V266H265z"/>
<path fill="#CD0F2D" d="M265 191.6l.5-.6 .5-1.6 .5 2.6 .5-1.6 .5 3 .5-1.2 .5 .3 .5-.2 .5 .1 .5-.4 .5-.2 .5 1.7 .5-2.2 .5 .2 .5 .5 .5-.4 .5-1.2 .5 2.6 .5-3.8 .5 1.7 .5 .2 .5 .1 .5-.6 .5 .3 .5-1.9 .5 3.1 .5-.7 .5-.1 .5 .2 .5-.8 .5-1.5 .5 1 .5 1.4 .5 .1 .5-.9 .5 .9 .5-1 .5 .9 .5-.7 .5-1.3 .5 .3 .5 .2 .5 2.5 .5-.3 .5-1.4 .5-3.1 .5 3.7 .5-1.1 .5-.3 .5 2 .5-2 .5-.5 .5 2 .5-.9 .5-.4 .5-5.1 .5 5.7 .5-.3 .5-.3 .5 1.6 .5 .2 .5-.7 .5 .6 .5-.9 .5-.1 .5-1.9 .5 1.7 .5 .1 .5 0 .5 0 .5-.9 .5 .8 .5 .6 .5 1.5 .5 0 .5 0 .5-1.8 .5 .2 .5 .4 .5-1.7 .5 .1 .5 .9 .5-.6 .5 .1 .5 .6 .5 .6 .5-.8 .5-.5 .5 0 .5 1.4 .5-1.6 .5 1.7 .5 2.6 .5-2.7 .5 .3 .5-.5 .5 .3 .5 .2 .5-1 .5 0 .5 0 .5-.3 .5 0 .5 .7 .5 .3 .5-1.1 .5 .2 .5 .8 .5-.7 .5 1.2 .5-.4 .5-.8 .5-.1 .5 1 .5-1.1 .5 .1 .5-1.3 .5 1.8 .5-.1 .5-.2 .5 .1 .5 3.2 .5-3.2 .5 1.9 .5 .9 .5-2.9 .5 .1 .5-.4 .5 .4 .5 .7 .5 .5 .5-1 .5 1.3 .5-2 .5 .7 .5-.3 .5-1.8 .5 .2 .5 2.1 .5-1.9 .5 1.8 .5-1.4 .5 .2 .5 .1 .5-.5 .5 1.2 .5 0 .5 1 .5-.1 .5-.6 .5 0 .5 1.7 .5-1.6 .5 .5 .5-1.4 .5 .6 .5 .2 .5 0 .5 .3 .5 .4 .5-.1 .5-.3 .5 1.1 .5-.9 .5 1 .5-1.5 .5 .1 .5-.2 .5-.4 .5-.3 .5 0 .5-.2 .5 2.3 .5-.6 .5 .7 .5-.9V266H265z"/>
<path fill="#1CBEF5" d="M265 204.5l.5-.6 .5 .9 .5 1 .5 1.4 .5-.1 .5 .8 .5-.4 .5-1 .5-1.1 .5-.3 .5-1.2 .5-.5 .5-1.1 .5-1.4 .5 .6 .5-2.3 .5 1.1 .5 .4 .5-.2 .5-.5 .5-.6 .5 .7 .5 .7 .5 .4 .5-1.6 .5-.5 .5 1.4 .5-.5 .5-1 .5 .3 .5-.6 .5-1.6 .5 1.5 .5 .7 .5-1.4 .5 .6 .5-1.1 .5 .2 .5-.5 .5-.5 .5 .8 .5 .7 .5 1.3 .5-1.5 .5 .3 .5 .2 .5-.1 .5-.2 .5-.9 .5 1.9 .5-2.3 .5 1.7 .5-.7 .5-.8 .5-.5 .5 1.1 .5 .3 .5 0 .5-.4 .5 .5 .5-.7 .5 .9 .5-.2 .5-.6 .5 .2 .5 1.1 .5-1.1 .5-1.3 .5 1.1 .5 .1 .5-1.3 .5 1 .5 1.3 .5-.3 .5 .4 .5 .1 .5-.8 .5-.4 .5-.9 .5 .3 .5 .2 .5 .7 .5-.7 .5-.1 .5-2 .5 2.4 .5-.3 .5 .6 .5-.5 .5 .8 .5-.6 .5 1 .5-.7 .5-.1 .5 1.7 .5-2.2 .5-.3 .5 0 .5-.1 .5 .4 .5 0 .5 .9 .5 .9 .5-1.1 .5-.5 .5-.5 .5 0 .5 .4 .5 .3 .5-.1 .5 .1 .5-.6 .5 .1 .5-.3 .5 1.8 .5-1.7 .5 .4 .5 .5 .5-.8 .5-.6 .5 1.5 .5-.5 .5-1.7 .5 2.9 .5-.9 .5-2.4 .5 2.5 .5-.1 .5-1.3 .5 .6 .5 .4 .5 .1 .5-.9 .5 .7 .5 .1 .5-.3 .5 .9 .5-.6 .5-.3 .5 .9 .5-.9 .5-.1 .5-.9 .5-1.2 .5 .8 .5 .6 .5 1.4 .5-1 .5 .7 .5-1.3 .5 1.1 .5-.7 .5 .1 .5-.7 .5 0 .5 1 .5-.4 .5 .1 .5-.2 .5-.4 .5 1.5 .5-.7 .5 .3 .5 .1 .5-.9 .5 .7 .5 2.3 .5-2 .5 .4 .5 .2 .5-.8 .5 1 .5-1.1 .5 .8 .5-.4 .5-.8V266H265z"/>
<path fill="#FF5F10" d="M265 202.8l.5 .7 .5 .5 .5 1.6 .5 .9 .5 2.3 .5 0 .5-1.9 .5-.2 .5-1.7 .5-1.4 .5 1.5 .5-1.2 .5-2.6 .5 .2 .5 .9 .5-1.1 .5 1.9 .5-2.6 .5 1.1 .5-.8 .5-.3 .5 .1 .5 .2 .5-1.4 .5 1.2 .5 0 .5 .2 .5-.1 .5 .6 .5-1.3 .5-.2 .5 .5 .5-.1 .5 .5 .5-1.4 .5 1.1 .5 .7 .5-2.6 .5-.1 .5 .9 .5 1 .5-.6 .5 .4 .5 .3 .5-.7 .5 1.1 .5-.9 .5 0 .5-.1 .5-.1 .5 .3 .5 .3 .5-.6 .5 .1 .5-.1 .5-1 .5 1.2 .5-.3 .5 .7 .5 .2 .5-.5 .5 .4 .5-.9 .5-.1 .5 .7 .5-1.1 .5 1.2 .5-.2 .5 0 .5-.1 .5-.6 .5 .7 .5 .3 .5 0 .5 .1 .5 1.2 .5-.6 .5-1 .5-.3 .5 .7 .5-1.3 .5 1.4 .5 .4 .5-2.4 .5 .7 .5 .1 .5-.3 .5 .4 .5 .6 .5-.1 .5-.7 .5 .8 .5 .6 .5-.4 .5 .2 .5-.6 .5-.4 .5 1 .5-1.5 .5 .8 .5 .4 .5 .5 .5 .1 .5-.2 .5 .6 .5 .3 .5-1.8 .5 .1 .5 .7 .5-.5 .5 .5 .5-1.2 .5-.5 .5 .4 .5 .3 .5 0 .5 1.1 .5-.2 .5-.4 .5-.2 .5-.5 .5 .4 .5 .6 .5-.3 .5 .4 .5-.7 .5-.4 .5-.1 .5 0 .5-.1 .5 .6 .5 .2 .5-.5 .5 .5 .5-.3 .5-.1 .5 .3 .5-.4 .5 1.8 .5-.9 .5-.8 .5-.3 .5-.5 .5 .4 .5-.3 .5 1.2 .5-.2 .5-.7 .5 1.3 .5-.4 .5-1.1 .5 1.2 .5-.1 .5-.2 .5-.4 .5 .6 .5-2.3 .5 1.8 .5 .7 .5-.1 .5 .4 .5-.9 .5 .1 .5 .4 .5-.4 .5 0 .5 .4 .5-.1 .5 .5 .5-.3 .5-.1 .5-1.3 .5 .1 .5 .6 .5 .2 .5 .3V266H265z"/>
<path fill="#FFB40A" d="M265 203.6l.5-1.3 .5 3.1 .5 .4 .5 2.5 .5 0 .5 .9 .5-1.7 .5 .1 .5-.3 .5-.6 .5-.6 .5-.9 .5-1.1 .5-1.9 .5 .2 .5 .7 .5-.2 .5 .3 .5-.3 .5-.1 .5-.4 .5 .3 .5-.3 .5-.1 .5 .1 .5-.1 .5 .1 .5 .6 .5-.1 .5-1.2 .5 .8 .5-.7 .5 .4 .5-.1 .5 0 .5-.6 .5 .4 .5-.4 .5-.4 .5 .3 .5-.9 .5 1.6 .5 .6 .5-.6 .5 1.7 .5-2 .5 .7 .5-.4 .5-.9 .5 .8 .5-.2 .5-.7 .5-.9 .5-.1 .5 1.1 .5 .6 .5 0 .5 .4 .5 .1 .5 .3 .5-.6 .5 1.2 .5-1.7 .5-.5 .5 1.5 .5-.2 .5-1.2 .5 1.3 .5-.5 .5-.4 .5-.4 .5 .8 .5 .7 .5 .1 .5-.5 .5-.1 .5 0 .5-.2 .5-.1 .5-.4 .5 .8 .5-.5 .5-.1 .5 .7 .5-.7 .5-.6 .5 1.1 .5 .3 .5-.8 .5 .6 .5-.3 .5 .2 .5 .3 .5 .3 .5-.3 .5 .5 .5-1 .5 .2 .5-1.8 .5 3 .5-.7 .5-.4 .5 .7 .5-.6 .5-1.3 .5 .6 .5 0 .5 .5 .5-.2 .5 .7 .5-1 .5-.8 .5 .3 .5 1 .5-.4 .5 .1 .5-.4 .5 .4 .5-.7 .5 .4 .5 .5 .5 .2 .5 .4 .5-2.4 .5 2.4 .5-.5 .5-.4 .5-.4 .5 .6 .5-.4 .5 .3 .5 .2 .5-.6 .5 .4 .5 .1 .5-.2 .5-.4 .5-.2 .5 1.3 .5-2.7 .5 2.4 .5-.7 .5-.3 .5 .1 .5-.1 .5-1.2 .5 1.7 .5 .3 .5-.1 .5 .2 .5-.5 .5-.5 .5 .9 .5 .7 .5-.7 .5-.5 .5 0 .5 .8 .5-1.8 .5 1 .5 .5 .5 .8 .5-.7 .5-.4 .5-.6 .5 0 .5 .9 .5 .1 .5 .4 .5 .2 .5-.6 .5 .1 .5-.5 .5-.4 .5-.3 .5 .3V266H265z"/>
<path fill="#FF5F10" d="M265 209.6l.5-.7 .5 1 .5 .3 .5-.3 .5 .5 .5-.6 .5 2.5 .5-1.4 .5-.4 .5 .4 .5-.6 .5 .4 .5-1 .5-.1 .5 .4 .5-1.4 .5 .1 .5 0 .5 0 .5 1.4 .5-1.2 .5-.9 .5 .3 .5 .5 .5-.2 .5 .5 .5-1.6 .5 .9 .5 .3 .5-1.1 .5 .1 .5 .1 .5-.1 .5 .5 .5-1.2 .5 .4 .5 .7 .5-.8 .5 .3 .5 .3 .5 0 .5 .2 .5 1 .5-.7 .5 0 .5 .4 .5-.3 .5-.9 .5-1.2 .5 1.6 .5 .1 .5 .1 .5 .2 .5-1 .5 .8 .5-1.3 .5 1.9 .5-.3 .5 .2 .5-.7 .5 .3 .5-.1 .5-1.1 .5 .6 .5 .8 .5-.5 .5 1.9 .5-1.4 .5-.6 .5-.2 .5 0 .5 .3 .5 .5 .5 1.4 .5-.5 .5 .6 .5-2 .5 .2 .5-.2 .5 0 .5 .7 .5-.7 .5-1.4 .5 1.7 .5 .5 .5-.8 .5 .2 .5-.1 .5-.6 .5 .7 .5 .9 .5-.9 .5 .6 .5-1 .5 .2 .5-.5 .5 .6 .5-.5 .5-.4 .5 .6 .5 .4 .5 .6 .5-.1 .5-.9 .5 .6 .5-1.1 .5 1.2 .5-.5 .5 .3 .5-.3 .5-.9 .5 .7 .5 .3 .5-.5 .5 .7 .5 .1 .5 .1 .5-.6 .5-.1 .5 1.3 .5-.9 .5 0 .5 .6 .5-.5 .5 .4 .5-.3 .5-.2 .5-.3 .5-.1 .5 0 .5 .7 .5-.5 .5 .6 .5-1.6 .5 1.4 .5-1.8 .5 1.5 .5-.1 .5 .7 .5 .4 .5-1.5 .5-.9 .5 .2 .5 .4 .5-.9 .5 1.9 .5 .5 .5-.9 .5 .1 .5 .2 .5-.4 .5 1.2 .5-.9 .5-.9 .5 .5 .5 0 .5-.1 .5 .1 .5-.1 .5-.3 .5 .9 .5-.6 .5 .4 .5 .1 .5 .5 .5 .2 .5-.8 .5-.4 .5 1.1 .5 1 .5-1.1 .5 .3 .5-.3 .5 .2 .5 .4 .5-1V266H265z"/>
<path fill="#0573D7" d="M265 210.6l.5 .1 .5 .5 .5 1 .5 .3 .5 .6 .5 0 .5-.2 .5 .6 .5-1.2 .5 .5 .5-.4 .5-.4 .5 .2 .5-1.8 .5 .9 .5-.3 .5 0 .5 .1 .5 .3 .5-2.1 .5 1.2 .5-.4 .5-.4 .5 .1 .5-.7 .5 .2 .5-.2 .5 .4 .5 0 .5-1.3 .5 1.6 .5-1.4 .5 .5 .5 .1 .5-.9 .5 1.1 .5-1.1 .5-.5 .5 .3 .5 1 .5-2.1 .5 .2 .5 2.3 .5-.9 .5-.8 .5 .2 .5 .7 .5-.3 .5 0 .5 1.1 .5-1.3 .5-.3 .5 .3 .5-.2 .5 2.2 .5-2.1 .5-.1 .5 .3 .5 .4 .5-.5 .5 .1 .5-.2 .5-.4 .5 .1 .5 .9 .5-1.1 .5 1.2 .5-1.7 .5-.2 .5 1.7 .5-1.7 .5 .3 .5 1.1 .5 .3 .5-.1 .5-.9 .5 1.8 .5-1.4 .5-.4 .5-.2 .5 .1 .5 .2 .5-.7 .5 .5 .5 1.5 .5-2 .5 .8 .5 .2 .5-.8 .5 .9 .5 .3 .5-2.6 .5 1.4 .5 .6 .5 .6 .5-1 .5 .4 .5 .1 .5-.6 .5 .4 .5-.1 .5 .4 .5 .3 .5-.1 .5-.3 .5-1.1 .5 .6 .5 .5 .5-.4 .5 .8 .5-.3 .5-1 .5 .5 .5-.3 .5-.1 .5 .4 .5-.7 .5 1 .5 .2 .5-.1 .5-.4 .5 .2 .5 .6 .5 .1 .5-.3 .5-1 .5 .4 .5 .6 .5 .7 .5-1 .5-.5 .5 .4 .5 .1 .5-.1 .5-.4 .5 .4 .5-.2 .5 .6 .5 .1 .5-1 .5-.1 .5-.1 .5 0 .5-1.6 .5 1.6 .5 .3 .5 .9 .5-.6 .5 .2 .5 .6 .5-1.7 .5-.1 .5 1.2 .5 .1 .5 1.2 .5-1.4 .5 0 .5-.6 .5 .4 .5 0 .5 .5 .5-.1 .5-.6 .5 .4 .5 .1 .5-.6 .5 .7 .5 .3 .5-.9 .5 1.7 .5-1.3 .5-.2 .5-.3 .5 1.3 .5-.8 .5 .2V266H265z"/>
<path fill="#1CBEF5" d="M265 211.4l.5-.5 .5 .8 .5 2.6 .5-2.1 .5 .3 .5 .8 .5-1 .5 .3 .5-.1 .5-1.8 .5 2.3 .5-.4 .5 .1 .5-1 .5 2.4 .5-2.8 .5 .2 .5-1.3 .5 1.9 .5-.4 .5-.2 .5-.2 .5-.4 .5 .7 .5-.3 .5 .5 .5-.6 .5 2.3 .5-2 .5 .4 .5 .4 .5-1.3 .5 .3 .5 2.8 .5-1.6 .5-1.9 .5 1 .5 1.5 .5-2.2 .5 1.1 .5 1 .5-1.7 .5 .1 .5 1.9 .5-.4 .5 .5 .5-3.2 .5 2 .5 1 .5-.3 .5 1.3 .5-.1 .5-.3 .5-1.2 .5-1.4 .5 .4 .5 1.8 .5-.8 .5 .9 .5-.4 .5-.4 .5 .1 .5-.6 .5 .5 .5-1.3 .5 1.7 .5-.1 .5 .1 .5 1.1 .5-1.2 .5-3.5 .5 3.2 .5 0 .5 1.4 .5 0 .5 .2 .5-.6 .5-1.4 .5 .1 .5 1.8 .5-1.1 .5-.3 .5-3.4 .5 2.3 .5 .8 .5 2.1 .5-3.7 .5 1.9 .5-.4 .5 .1 .5 .3 .5-.1 .5 .7 .5 .3 .5-1.5 .5-.7 .5 .7 .5 .6 .5 .1 .5-.3 .5-.5 .5 1.1 .5-2.4 .5 1.6 .5 .7 .5-.4 .5 .3 .5 .3 .5-.9 .5-.4 .5 .2 .5-.5 .5 1.4 .5-2.1 .5 1.2 .5-2.8 .5 2.6 .5-1.3 .5 2 .5 .2 .5 .3 .5 2.5 .5-.2 .5-.1 .5-2.3 .5-.7 .5-.6 .5 1 .5-.1 .5 2.2 .5-2 .5-.8 .5 1.3 .5-.5 .5-1.8 .5 2 .5 .7 .5-1.6 .5 .6 .5-.3 .5-2.8 .5 2.9 .5 2.8 .5-3.2 .5 0 .5 .7 .5-.6 .5 .7 .5-.9 .5 .5 .5-.5 .5 1.9 .5-1.7 .5 1.9 .5-3.1 .5 1.6 .5 .5 .5-3.3 .5 3.1 .5-1.4 .5 1.2 .5-1 .5 .5 .5 .2 .5 .1 .5 .9 .5-1.7 .5 .9 .5 .4 .5-.9 .5 1 .5 .8 .5-.7 .5-2.1 .5 1.8 .5 0V266H265z"/>
<path fill="#FF5F10" d="M265 217.2l.5-.5 .5-.8 .5 2.7 .5-2.7 .5 1.7 .5-1 .5 .3 .5-1.2 .5 .9 .5-.1 .5 .6 .5 .6 .5-1.1 .5 1.3 .5 4 .5-6.8 .5 3.3 .5-1.3 .5 .4 .5-.3 .5 2.9 .5-4.2 .5 1.1 .5 2.6 .5 .4 .5-3.2 .5 1 .5 .9 .5-.4 .5-.8 .5-.8 .5-.9 .5 1.1 .5 2.2 .5-1.2 .5 1.2 .5-1.8 .5 .7 .5-1.3 .5 .5 .5 0 .5-.9 .5 2.2 .5 0 .5 .2 .5-1.7 .5-.8 .5 1.4 .5 .2 .5-1.1 .5 3.5 .5-4.3 .5 1.2 .5-.3 .5-.7 .5 .9 .5 1.3 .5 .2 .5-2 .5 4 .5-.7 .5-2.8 .5 0 .5 1.9 .5-.1 .5-.9 .5-1.5 .5 2.2 .5-.7 .5-2.4 .5 1.2 .5 .8 .5 0 .5 1.5 .5 4.2 .5-5.5 .5-.9 .5 .8 .5 1.3 .5-.9 .5-.4 .5-.2 .5 1.4 .5-.2 .5-.2 .5 .3 .5-1.6 .5 .6 .5-.4 .5 1 .5-1 .5 1.5 .5-1.1 .5 .2 .5-.6 .5 1 .5-2.1 .5 .9 .5 .5 .5-.4 .5 .8 .5 1.1 .5-.7 .5-.2 .5-.8 .5 .9 .5-1.1 .5 .7 .5-1.1 .5-.9 .5 2.3 .5-1.5 .5 1.1 .5-1.2 .5 1.6 .5 .3 .5-1.3 .5 1.3 .5-.6 .5 1.4 .5-1.3 .5-.4 .5-1.7 .5 .3 .5 3.1 .5-2 .5 .2 .5-3.2 .5 2.2 .5 3.5 .5-.6 .5-3.4 .5 2.1 .5-.5 .5-.8 .5-1.8 .5 2.2 .5 .5 .5 .1 .5-1.1 .5 .4 .5-1.4 .5 1.4 .5-1.3 .5 .7 .5 .7 .5 .4 .5 1.4 .5-1.6 .5-.4 .5 4.2 .5-3.5 .5-1.8 .5 0 .5 2.1 .5 .7 .5-2.9 .5 1.7 .5-.8 .5 .9 .5-.5 .5 2.1 .5-1.8 .5-3.9 .5 4.1 .5-.1 .5-.1 .5-2.6 .5 4.3 .5-.1 .5-1.7 .5 1.2 .5-1.2 .5 .7 .5 1.4 .5-3.7V266H265z"/>
<path fill="#6EB928" d="M265 220.2l.5-1.3 .5 1.4 .5-.3 .5 .6 .5-1.1 .5-1.2 .5 1.8 .5 1.5 .5-1.1 .5 .1 .5 .1 .5-.2 .5-6.4 .5 2.8 .5 6.6 .5-4.1 .5 1.1 .5-1.6 .5 .9 .5-.3 .5-.3 .5-1.4 .5 1.1 .5 .4 .5-.2 .5 0 .5 0 .5-.4 .5 1.7 .5-1.9 .5-1.2 .5 1.8 .5 1 .5-.7 .5-1.9 .5-2.7 .5 2.8 .5-.4 .5-.4 .5 .6 .5 .7 .5-.8 .5 1.4 .5 1.4 .5-1.8 .5-2.8 .5 3.2 .5-.1 .5-.4 .5-1.8 .5 4.2 .5-3.8 .5 1.4 .5-1 .5 1.3 .5-1 .5 2.9 .5-2.6 .5 .4 .5 .7 .5-1 .5-.5 .5 .4 .5 .4 .5 7.1 .5-6.4 .5 1.3 .5 2.2 .5-7 .5 2.9 .5-.6 .5 .8 .5 2 .5-2.1 .5 3 .5-3.4 .5 1.1 .5-5.5 .5 5.1 .5 .3 .5-.4 .5 .6 .5-3.6 .5 4.6 .5-2.6 .5-.2 .5-4.6 .5 6.6 .5-2.8 .5 1.1 .5 .3 .5-.9 .5 2.3 .5-.4 .5 0 .5-1.1 .5 .2 .5-.9 .5 .9 .5-.4 .5 .6 .5 .5 .5-.5 .5 1.9 .5-2.3 .5-.1 .5 1.3 .5-2 .5 4.2 .5-2.3 .5-3.1 .5 1.7 .5 1.8 .5-1.8 .5 .6 .5-.1 .5-.1 .5 .2 .5-.8 .5 .2 .5-2.3 .5 3.5 .5-.5 .5 1.6 .5 .6 .5-2.6 .5-.5 .5-.5 .5 1.8 .5-1 .5 0 .5 .8 .5-3.5 .5 7.1 .5-2.6 .5 .1 .5 .4 .5-1.9 .5-1 .5 1.7 .5-1 .5 2.8 .5-2.6 .5-.1 .5-1.2 .5 .4 .5-.7 .5 2.8 .5 .3 .5-1.1 .5 4.9 .5-4.4 .5-3.2 .5 4.2 .5-3.6 .5 1.4 .5-.3 .5-.1 .5-.5 .5 .7 .5-.9 .5 1.3 .5 0 .5 1 .5 .5 .5-2.2 .5 1.6 .5 .8 .5 .2 .5-2.3 .5-2.4 .5 2.4 .5 .7 .5-3.5 .5 4.4 .5-1.2V266H265z"/>
<path fill="#A028B4" d="M265 230.8l.5 4.2 .5-5.8 .5-.1 .5 2.3 .5-1.6 .5 2 .5-1.9 .5 .9 .5 2.4 .5-4.8 .5 2.6 .5-.1 .5 .7 .5 3.6 .5-5.3 .5 1.5 .5 1.9 .5-2.8 .5 .9 .5 4.8 .5-4.6 .5-1.4 .5 0 .5 .1 .5 0 .5 1.4 .5-.8 .5-.8 .5-1 .5 2.9 .5-1 .5-2.5 .5-1.9 .5 7.6 .5-4.5 .5 1.2 .5-2.4 .5-.3 .5-1.1 .5-1.6 .5-1.8 .5 .6 .5 4.2 .5 .8 .5 1.9 .5-2.5 .5-1.2 .5-1.8 .5 .6 .5-3.6 .5 5.4 .5-1 .5-1 .5 5.7 .5-5.5 .5 .9 .5-1.8 .5 3.8 .5 .5 .5-1.7 .5-1.6 .5 .3 .5 .9 .5-2.4 .5 3.4 .5 4.2 .5-6.6 .5 .5 .5 .5 .5-2.4 .5 1.3 .5 1.9 .5 .8 .5 .9 .5-.1 .5-8.7 .5 7.2 .5-.4 .5-3.7 .5 2.2 .5-2.2 .5 1.7 .5-2.1 .5 1.1 .5 2.8 .5-1 .5-.9 .5-.3 .5 9.2 .5-14.2 .5 4.7 .5 1.7 .5-5 .5 .1 .5 7.1 .5 1.3 .5-1.5 .5-6.4 .5 1.5 .5 .2 .5 .9 .5 5.8 .5-6.3 .5 .3 .5 .5 .5 .7 .5-2.9 .5 5.2 .5-.4 .5-2.7 .5-1.7 .5 1.5 .5 1.2 .5-2.6 .5-1 .5 0 .5 2.2 .5 1 .5-4.9 .5 2.1 .5 .1 .5 .6 .5 1.9 .5-1.1 .5-3.5 .5-.5 .5 4.3 .5 .6 .5 .8 .5-3.8 .5 4.1 .5 4.1 .5-6.5 .5-.3 .5 .4 .5-2.4 .5 4.2 .5-4.7 .5 4.3 .5-.9 .5 2 .5-2.6 .5-.7 .5 6.1 .5-5.5 .5-1.1 .5 3.7 .5-2.5 .5 .1 .5 .6 .5-1.4 .5 2 .5 .2 .5-1.5 .5 .4 .5 1.2 .5-4.1 .5 4.5 .5-4.6 .5 6.1 .5-3.4 .5 3.4 .5-1.4 .5-2.4 .5-.4 .5 3 .5-2.3 .5 .2 .5-.4 .5 4.8 .5-3.4 .5-3.3 .5 .9 .5-3.2 .5 3.7 .5 5.9V266H265z"/>
<path fill="#FF5F10" d="M265 238.5l.5-.1 .5-1.9 .5 2.8 .5-.4 .5 .4 .5 .8 .5-3.1 .5 5.2 .5-3.1 .5 2.9 .5 .7 .5-1.4 .5-7.4 .5 8.9 .5-1.4 .5-.3 .5-3.7 .5 4.7 .5-3.3 .5-2.6 .5 1 .5 .7 .5 2.4 .5-8.5 .5 5 .5-.3 .5 5.8 .5-5.7 .5 1.5 .5-.6 .5-.8 .5 6.2 .5-5.2 .5-3.3 .5 3.7 .5-.6 .5-3 .5 .5 .5 5.7 .5-7.8 .5 2.3 .5-.8 .5 8.9 .5-5.8 .5-3.4 .5 1.8 .5 3.5 .5-4.4 .5-1.9 .5 4.1 .5-2.1 .5-3 .5 2.2 .5 2.1 .5-1.8 .5 4.6 .5-2.7 .5-3.2 .5 1.8 .5-2.6 .5 .6 .5 .1 .5 3.6 .5-7.1 .5 4.9 .5-1.6 .5-4.5 .5 5.7 .5-5.2 .5 5.6 .5-2.6 .5-1 .5 3.2 .5-1.8 .5 .6 .5 .5 .5-2.4 .5 .5 .5 5.1 .5-6.6 .5 1.7 .5 .5 .5-3.3 .5 1.3 .5 .4 .5 .1 .5 0 .5 .3 .5-5 .5 7.9 .5-4.8 .5 0 .5 4.9 .5-2.4 .5-4.6 .5 2.2 .5 7.1 .5-6.2 .5 .1 .5-1.7 .5 3.1 .5 1.3 .5 .4 .5-3 .5-.1 .5 .2 .5 1.3 .5-2.3 .5 7.1 .5-2.5 .5-5 .5-2.3 .5-4.6 .5 6.3 .5 3.4 .5-3.4 .5-1.7 .5-6.3 .5 8.7 .5-.3 .5-2 .5 3.9 .5-.8 .5 .5 .5 6.4 .5-5.6 .5-2.2 .5 1.2 .5-2.4 .5 3.4 .5-7.3 .5 .9 .5 2.7 .5 5.8 .5 .2 .5-4.4 .5 .1 .5 .5 .5 0 .5-.1 .5 0 .5-.7 .5-2.4 .5 7.4 .5-5.4 .5-1 .5 .7 .5 .1 .5 5.9 .5-7.1 .5 1.8 .5 .8 .5 .2 .5-4.3 .5 3.6 .5 0 .5-8.3 .5 8.8 .5-.7 .5 0 .5-3.8 .5 8 .5-1.8 .5-2.9 .5 .5 .5 .8 .5 .1 .5-4.9 .5 7.2 .5-2.5 .5 .8 .5 3.4 .5-4.4 .5 .8 .5 7.1 .5-11.2V266H265z"/>
<path fill="#FFFFFF" d="M265 255.6l.5 1.2 .5-2.2 .5 0 .5-.5 .5 4.4 .5-3.8 .5-2.2 .5 1.9 .5 3.7 .5-3.7 .5 1.1 .5-.2 .5-1.3 .5 .2 .5-.4 .5 .2 .5 .3 .5-.6 .5-.5 .5 .5 .5-.8 .5-3.6 .5 2.1 .5 .8 .5 3.2 .5-3.4 .5-.6 .5-.1 .5-2.2 .5 1.6 .5 .1 .5-.1 .5-2.6 .5 2.1 .5-.7 .5-.2 .5-.1 .5 .2 .5-2.3 .5-.4 .5 1.4 .5-2.8 .5 4.5 .5-.7 .5 2 .5-3.4 .5 1.9 .5-.9 .5 .7 .5 .8 .5-2.4 .5 1.6 .5 1.7 .5 1.1 .5-2.7 .5 2.2 .5 0 .5-2.4 .5 .3 .5 2.2 .5-2.6 .5-.7 .5-.1 .5-2.1 .5 2.5 .5-1.5 .5-.3 .5 2.4 .5-1.8 .5 .7 .5-.1 .5 .2 .5 .6 .5-1.1 .5 1.3 .5 0 .5-3.1 .5 2.5 .5-1.1 .5-2.2 .5 2.3 .5-.8 .5 1 .5 .7 .5-1 .5-.4 .5 1.8 .5-1.4 .5-.9 .5 .8 .5 .5 .5-.7 .5-.4 .5-3.5 .5-1 .5-.9 .5-3.4 .5 1.8 .5-1.3 .5-.3 .5 2.7 .5-2.1 .5 1.7 .5-2.8 .5 1.8 .5-.1 .5 .9 .5 2.2 .5-4.6 .5 1.6 .5-1.5 .5-1.1 .5 2.6 .5-1.2 .5 1.2 .5 .6 .5-3.4 .5 2.6 .5-.7 .5-.2 .5 0 .5-1.1 .5 .4 .5 .6 .5 .2 .5 0 .5-.7 .5 .4 .5 1.8 .5-1.1 .5-.2 .5 .1 .5-.5 .5 1.3 .5 .6 .5-2.6 .5 1.9 .5-.7 .5 .4 .5-4.5 .5 2.9 .5 .6 .5 1.5 .5-1.5 .5 .6 .5-.2 .5 1 .5-1 .5 .8 .5-1.6 .5 .3 .5-.7 .5-2 .5 7.1 .5-2.9 .5-.7 .5-1.8 .5 .9 .5 .4 .5-.5 .5 .2 .5 .6 .5 2.5 .5 .2 .5-5.8 .5 .2 .5 3.2 .5-.8 .5 .9 .5 .5 .5 1.7 .5-1.1 .5-1.3 .5-.7 .5 1.4 .5-.5V266H265z"/>
<path stroke="#FF5F10" stroke-width="0.55" fill="none" opacity="0.8" d="M275.4 241.6v9.8M289 249.1v7.1M292.1 246.5v9.4M297.6 243.4v10.6M301.7 245.7v5.8M309.2 248.2v6.2M293.9 243.9v10.1M295.9 245.3v7.4M311.5 246.7v6.5M291.4 250.9v5M284.7 248.1v5.7M295.6 250.2v6.6M307.3 244.7v7.7M296.5 244v6.8M291.9 250.9v4.1M301.3 244.1v5.7M275.7 243.6v7.4M279 244.2v4.9M278.5 248.1v9.7M291.7 248v4.7M308 245.7v8.7M310.2 248.5v8M306 246.4v10.2M307.7 243.1v9.7M302.8 244.3v6.8M306.6 246.3v7.1M278.8 248.1v9.3M285.6 245.8v10.9M311.5 247v6.9M292.3 243.4v10.7M291.9 249.3v6M308.9 248.1v4.6M287.3 243.9v9.3M302.5 246.3v7.8M304.3 243.1v10.7M297.6 246.1v10.7M293.8 248.8v7M298.2 248.2v4.5M275.5 242.2v9.1M300.8 241.3v10.7M311.6 251.7v4.4M302.5 244.9v4M294.7 249.7v4.6M297.3 243.1v6.5M297.9 249.4v8.3M283.4 243.4v8.6M296.7 243.8v4.4M303.4 248.1v7.6M307.9 248.1v8.4M285.3 243.8v4.4M279.1 243.5v9.9M290.8 247.3v5.6M310.7 245.3v5.9M296.9 247.8v11M304 243.2v6.5M300.6 243.6v8.2M299 241.5v10.8M297.3 246.1v4.4M292.4 242.2v9.1M296.5 246.5v5.7M297.4 247.5v10.6M275.8 245.9v8M308.9 243.4v5.5M281.7 248.5v9.7M304.8 247.5v7.2M281.5 244.5v5.7M304.7 244.2v4.9M293.9 243.2v7.3M287.8 246v9.4M282.3 247.5v6.6M293.8 248.1v4.2M278.2 246.2v6.4M296.7 246.2v6.9M279.1 249.3v8.7M304 242.4v9.4M305 250.9v4.3M278.3 243.1v6.7M275.4 248.9v7.4M304 243.3v6.3M305.1 247.3v4.3M296.3 248.7v8.6M309.5 250.7v5.7M294 243.1v8.7M310.5 250.4v5.1M299.1 244.8v7M283.7 248.9v4.1M275 243.6v9.8M309.2 249.7v4.1M304.7 246.3v7.5M282.2 243.9v10.9M290.5 244.5v7M309.4 249.2v7.4M300.2 250.2v6.3M285.8 241v8.3M304 245v7.4M309.7 246.9v7.7M295 248.7v8.2M276.8 242.2v8.4M279.3 246.6v9.2M300.3 248.6v7.2M278.3 248.4v8.4M293.2 247.2v9.4M297.4 249.7v5M279.6 247.7v5.4M290.3 249.3v8.9M280.1 248.2v6.8M307.7 242.5v6.9M276.8 244v9.6M299.4 244.2v6.6M304.8 248.4v6M288.5 246.1v8.1M308.2 245.5v4.3M310.4 247.4v9.3M290.5 242.5v10.5M275.4 247.5v6.4M284.6 243.4v7.9M292.6 250.2v6.4M288.6 245.6v8.1M310.2 248.1v6.2M295.5 245.8v6.2M290.8 245.2v7.1M295.3 243.9v5.6M306 244.8v10.9M280.6 244v6.8M308 243.8v5.9M309.5 243.9v8.6M309.7 248.9v7.8M279.2 248.2v8.3M284.6 241v9.8M298.8 245.5v6"/>
<path stroke="#FF5F10" stroke-width="0.5" fill="none" opacity="0.75" d="M343.6 232.2v12M340.5 236.3v7.1M334.5 236.1v5.5M314.8 234.6v11.5M341.1 239.6v15.9M351.2 236.9v14.2M325.4 238.6v5.1M350.8 241.6v10.8M335.2 237.7v4.7M329.2 239.5v13.6M328.6 236.3v12.6M343.9 233.6v12.7M347.7 238.1v4.3M320.3 243.1v8.3M343.3 241.3v11.4M332.8 232.2v14.1M351.1 236.9v8.9M350.7 238.2v13.2M326.4 242.5v11.7M339 238.5v8M315.6 236.8v6.3M326.5 235.7v7.4M324.6 245.4v4.3M318.9 242.8v3.5M315 234v7.7M344.6 241.7v10.4M328.2 237.1v11.9M335.9 234.5v13.4M318.1 244.8v6.1M328.3 242.7v11.2M344.1 235v12.3M332.2 241.9v12.6M316.2 238.5v12.8M328.3 240.9v9.5M319.7 242v12.2M342.1 236.9v13.2M326.7 235.4v7.4M342.1 235.3v12.6M329.4 243.3v4.4M351.3 237.5v10.2M318 239.4v8.2M336.7 239.6v7.2M313.9 241.8v3.2M341.3 242.2v7.2M334.5 239.9v12.9M324.6 243.3v6.9M327.2 236.6v11M332.1 242.2v11M350.2 236.4v5.9M337.7 239.1v10.2M315.4 236.4v10.5M338.6 244.3v5.9M347.8 242.6v10.4M322.7 243.5v7.1M324.6 244v5.1M326.3 246v4.4M327.6 236.2v12.3M341.2 237v9.1M320.1 234.8v13.1M326.1 237.1v8.5M340.5 240.2v5.8M317.9 243.2v9M315.2 236.9v15.3M346.2 237.1v9.7M322.2 243.2v3M343.2 238.6v7.4M328.4 235.6v11.2M346 237.4v9.9M325.7 237.4v4.5M341.9 244.6v3.4M346.2 242.3v7.7M348.1 232v15.4M312.1 233.9v15.6M336.7 236v10.4M334.1 244.8v5.7M350.1 237.6v14.2M317 241.8v5.2M312.9 241.7v3.9M312.8 237.4v13.8M322.6 235.4v5.7M341.3 237.9v14.7M349.2 235.7v11M320.2 238.9v14M335.9 240.4v15.4M321.5 237v4.9M320.8 239.1v4.4M319.3 241.7v11.4M334.4 239.7v10.8M341.2 233.8v11.1M317.1 238.9v8.1M325.9 237.4v12M313.6 240.3v10.2M318.5 235.2v10.3M341.3 241.6v6.5M326.3 238v13.4M346.6 240.8v10.3M336.2 242v11.3M339.1 235v13.8M324.4 235.3v14.5M322.6 242.2v6.5M314.7 241.9v11.7M321.5 232.5v14.3M325.8 239.7v12M339.3 238.6v13.4M343.4 244.1v5.9M317.5 232.9v11.5M348.8 234.8v14.6M344.7 234.5v9.2M331.6 236.7v12.2M327.2 241.9v5"/>
<path stroke="#FFB40A" stroke-width="0.6" fill="none" opacity="0.7" d="M348.7 239.4v3.8M298.3 241.7v3.5M302.8 239.5v3.2M326.6 236.3v5.1M343.9 232.3v2.7M303.9 240.9v4.7M321.2 234v5.2M314.7 234.8v5.1M319 239v4.4M346.3 234.7v3.1M337.6 235.1v3.6M351.9 237.7v3.7M271.5 237v4.7M344.2 238.6v3.6M269.3 234.3v5.2M284.3 238.6v5.4M273.7 232.7v4M313.3 231.5v4.3M284 232.7v4.9M300.4 231.1v3.6M307.1 234.1v3M294.2 236.7v2.3M280.2 236.4v3.2M279.8 242v4M327.9 232.6v4.7M291.6 241.2v4.1M328.3 231.3v5.4M329.6 240.3v4.4M308.1 240.4v4M320.2 240.9v3.8M272.6 239.5v4.6M276 232.7v4.4M285.6 230.5v2.7M350.9 231.6v4.4M312.6 230.9v6M352.5 232.9v4M293.9 239.5v5.7M269.4 232.2v5.2M333 230.7v5.3M331.4 232.7v4.5M299.6 236v4.7M270.1 234.4v4.9M284 237.5v4.3"/>
<path stroke="#CD0F2D" stroke-width="0.6" fill="none" opacity="0.7" d="M317.8 233.7v5.7M346.8 239.6v5M274.5 233.8v3.2M275.2 232.5v4.4M309.7 234.2v3.7M296.4 230.3v5.3M294.3 231.5v5.5M300 237v5.9M305 241.7v3M311.3 241.9v5.6M292.4 240.6v5.4M269.1 236.7v5.2M290.9 233.8v2.4M272.9 233.9v4.7M293.3 236.8v5.6M291.5 241.3v2.2M306.7 234v3.3M320.5 231.4v4.1M266.2 232.7v5.7M346.7 238.8v5.3M305.6 230.1v5.4M300 235.8v5.6M289.6 232.2v5.9M276.8 232.1v4.9M337.1 234.1v4.5M341.3 238.4v4M293.3 230.5v4.6M286.7 237.6v5.3M285.7 240.5v5.1M325.5 232.7v4.7M273.5 235.3v5.4M344.1 241.9v4.3M340.6 233.8v5.6M318.9 237.9v5.5M313.4 237.1v3.6M270.9 238.5v4.4M334.6 237.7v4.3"/>
<path fill="#fff" d="M211 174.2l.5-1 .5-1.2 .5 .4 .5-.2 .5 .2 .5-.7 .5 0 .5 .3 .5 .8 .5 .2 .5 .3 .5-.1 .5 .1 .5-.1 .5 .1 .5-.1 .5-.2 .5-.3 .5 .5 .5-1.2 .5 1.2 .5-.1 .5 0 .5 .8 .5-.4 .5 .5 .5 1.1 .5 .6 .5-.8 .5 1 .5 .7 .5-2 .5 2 .5-.6 .5 .9 .5 .4 .5-.7 .5 .4 .5-.5 .5-3 .5 2.5 .5-1.3 .5 1.7 .5-.9 .5 2.2 .5-.4 .5 .5 .5-1.1 .5-.9 .5 1.2 .5-.1 .5-1.9 .5 1.8 .5 .4 .5 .2 .5-.9 .5 .9 .5-.5 .5-.3 .5 .2 .5 0 .5-.7 .5-.1 .5 .1 .5 .6 .5-1.1 .5 1.7 .5-1.4 .5 .2 .5-.4 .5 1.3 .5-.1 .5 .6 .5-.9 .5 .3 .5 .1 .5 .2 .5 .3 .5-2.2 .5 2.2 .5-.3 .5-2.1 .5 1.1 .5 0 .5-.9 .5-.2 0-.3 .5-1.6 .5-1.1 .5 .1 .5 3.4 .5 2.4 .5-2.7 .5-.6 .5-1.3 .5 3.1 .5 3 .5 .2 .5 .1 .5-1.1 .5-1.7 .5 .4 .5-.2 .5 0 .5 .6 .5 1.7 .5-.2 .5-1.8 .5 .5 0 .1 .5-.2 .5-.8 .5 .7 .5-.9 .5 1.1 .5-.9 .5 .5 .5-.1 .5-.1 .5 .3 .5-.3 .5 .8 .5-.8 .5-.3 .5 .4 .5-1.4 .5 1.3 .5-.2 .5 .5 .5-.2 .5-.6 .5 .6 .5-.2 .5 .2 .5 0 .5-.1 .5-.4 .5 .7 .5-.2 .5-.4 .5 0 .5 .3 .5-.1 .5-.6 .5 1.1 .5-.2 .5 0 .5-.8 .5-1 .5 1.4 .5-1.7 .5 2 .5 .6 .5 .4 .5 0 .5-1.4 .5 .9 .5 0 .5-.3 .5 0 .5-.6 .5 .5 .5 .5 .5-.6 .5 .5 .5-.2 .5 .4 .5-.4 .5 .6 .5 .3 .5-.7 .5 .4 .5-.3 .5-.4 .5 .3 .5-.5 .5 1 .5-.2 .5-.8 .5 .8 .5-.9 .5 .4 .5 .9 .5-.3 .5 .4 .5 .7 .5-1 .5-.1 .5-.2 .5-.1 .5 .3 .5-.6 .5 .3 .5-.3 .5-.1 .5 .1 .5 .4 .5 .4 .5-1.1 .5 1.1 .5-.2 .5 .3 .5 0 .5 .2 .5-.1 .5-.2 .5-.1 .5 .1 .5-1.2 .5 .9 .5 .4 .5 .3 .5 .5 .5-.5 .5-.3 .5-.8 .5 .6 .5 .2 .5-.3 .5-.1 .5 .1 .5-.8 .5 .8 .5-.3 .5 .3 .5-1.2 .5 1.4 .5 .4 .5-.4 .5-.2 .5-.1 .5 .5 .5 .5 .5-.9 .5 .7 .5-.5 .5 .3 .5-.6 .5 .6 .5-.4 .5 .1 .5-.2 .5-.2 .5-.2 .5 .4 .5 .3 .5 .2 .5-.4 .5 .5 .5 0 .5-.4 .5-.3 .5-.5 .5 .6 .5-.2 .5 .3 .5 .7 .5-.1 .5 .1 .5 .2 .5-.9 .5 .1 .5 .6 .5-.3 .5 .3 .5-.7 .5 .3 .5 0 .5-.4 .5 .6 .5-.3 .5 .7 .5-.1 .5 0 .5-.2 .5 .1 .5 .1 .5-.5 .5 .6 .5 0 .5-.1 .5 0 .5 .2 .5-.4 .5 .3 .5 .3V153H211z"/>
<path fill="#fff" d="M211 253.2l.5 .2 .5 1.1 .5-2.2 .5 .1 .5-.2 .5 2.3 .5 0 .5-2.7 .5 2.7 .5-2.3 .5 2.3 .5-1.1 .5-1.1 .5 2 .5-1.6 .5-1.1 .5-.1 .5 .4 .5 .1 .5-.6 .5 .5 .5-8.6 .5-6.9 .5 .7 .5-3.7 .5-.1 .5 0 .5 20.9 .5-19.3 .5 1.9 .5-1.2 .5-1.8 .5 3.1 .5-3.2 .5 2.2 .5 14.7 .5-16.5 .5-.1 .5-.2 .5-.8 .5 6.9 .5 1.8 .5-6.4 .5-.5 .5 0 .5-.2 .5 .3 .5 .7 .5-1.4 .5 5.4 .5-5.7 .5-.8 .5 .8 .5 1 .5 .7 .5-2 .5 .9 .5-1.1 .5 .2 .5-.2 .5 .1 .5 .6 .5-1 .5 .8 .5 0 .5 .6 .5-.7 .5 .8 .5 6.7 .5 11.2 .5-9.2 .5-5.6 .5-3.7 .5 3.4 .5 3.9 .5-7.9 .5 .6 .5 .5 .5-.1 .5-.5 .5 .1 .5-1.1 .5 .7 .5 .7 .5 .4 .5 2 0-2.5 .5 10.1 .5-6.4 .5 18.1 .5 0 .5-8.6 .5 3.1 .5 5.5 .5 0 .5-13.8 .5-.2 .5 14 .5-9.2 .5 7.5 .5 1.7 .5-.3 .5-6.7 .5-.7 .5 2.5 .5 4.5 .5-3.5 .5 4.2 .5-2 0 2 .5-.5 .5-.2 .5 .4 .5 .3 .5 0 .5 0 .5-.2 .5 .2 .5 0 .5 0 .5 0 .5 0 .5 0 .5 0 .5 0 .5 0 .5 0 .5 0 .5 0 .5 0 .5 0 .5 0 .5 0 .5 0 .5 0 .5 0 .5 0 .5 0 .5 0 .5-.1 .5 .1 .5-.1 .5 .1 .5 0 .5 0 .5-.1 .5 .1 .5-.5 .5-.1 .5 .3 .5-.4 .5 .4 .5 .3 .5 0 .5 0 .5 0 .5 0 .5 0 .5 0 .5 0 .5 0 .5 0 .5 0 .5-.1 .5 .1 .5-.2 .5 .2 .5 0 .5 0 .5 0 .5 0 .5 0 .5 0 .5-.2 .5 .2 .5-.1 .5 .1 .5 0 .5-.2 .5 .2 .5 0 .5 0 .5 0 .5 0 .5 0 .5 0 .5 0 .5 0 .5 0 .5 0 .5 0 .5 0 .5-.1 .5 .1 .5 0 .5 0 .5 0 .5 0 .5 0 .5 0 .5 0 .5 0 .5 0 .5 0 .5 0 .5 0 .5 0 .5 0 .5-.1 .5 .1 .5 0 .5 0 .5 0 .5 0 .5 0 .5-.2 .5 0 .5 .2 .5 0 .5 0 .5 0 .5-.1 .5 .1 .5-.2 .5 .2 .5 0 .5 0 .5 0 .5 0 .5 0 .5 0 .5 0 .5 0 .5 0 .5 0 .5 0 .5 0 .5 0 .5 0 .5-.2 .5 .2 .5 0 .5 0 .5 0 .5 0 .5 0 .5 0 .5-.1 .5 .1 .5 0 .5 0 .5 0 .5-.7 .5 .1 .5 .4 .5 .1 .5 .1 .5 0 .5 0 .5 0 .5 0 .5 0 .5 0 .5 0 .5 0 .5-.1 .5 0 .5-.3 .5 .4 .5 0 .5 0 .5 0 .5 0 .5 0 .5 0 .5 0 .5 0 .5 0 .5 0 .5 0 .5 0 .5 0 .5 0 .5 0 .5 0 .5 0V266H211z"/>
<g stroke-width="0.4" opacity="0.55" fill="none"><path d="M234.4 232.5V250.6" stroke="#A028B4"/><path d="M228.4 232.5V244.1" stroke="#FF5F10"/><path d="M251.4 232.5V249" stroke="#FF5F10"/><path d="M243.6 232.5V242.4" stroke="#A028B4"/><path d="M247.7 232.5V245.3" stroke="#FFB40A"/><path d="M222.8 232.5V244.1" stroke="#FFB40A"/><path d="M247.6 232.5V247.5" stroke="#FF5F10"/><path d="M228.3 232.5V248.9" stroke="#A028B4"/><path d="M244.4 232.5V239.2" stroke="#CD0F2D"/><path d="M235.6 232.5V245.1" stroke="#A028B4"/><path d="M253.1 232.5V249.5" stroke="#FFB40A"/><path d="M238.6 232.5V249" stroke="#FF5F10"/><path d="M230.5 232.5V246.6" stroke="#FF5F10"/><path d="M229.9 232.5V249.8" stroke="#FFB40A"/><path d="M226.4 232.5V243.1" stroke="#CD0F2D"/><path d="M249.3 232.5V246.3" stroke="#CD0F2D"/><path d="M242.1 232.5V239.9" stroke="#FFB40A"/><path d="M253.3 232.5V241.9" stroke="#FFB40A"/><path d="M239.9 232.5V245" stroke="#FFB40A"/><path d="M250 232.5V240.7" stroke="#FF5F10"/><path d="M227.3 232.5V241.8" stroke="#FF5F10"/><path d="M225.2 232.5V238.1" stroke="#FF5F10"/><path d="M248.9 232.5V240.5" stroke="#FF5F10"/><path d="M230.7 232.5V238.4" stroke="#FF5F10"/><path d="M247.4 232.5V246.8" stroke="#FF5F10"/><path d="M229.2 232.5V244.1" stroke="#CD0F2D"/><path d="M227.3 232.5V244.8" stroke="#A028B4"/><path d="M250 232.5V244.8" stroke="#FF5F10"/><path d="M242.1 232.5V250.1" stroke="#FF5F10"/><path d="M229.3 232.5V250.3" stroke="#FF5F10"/><path d="M248.8 232.5V248.8" stroke="#FFB40A"/><path d="M231.4 232.5V241.6" stroke="#FF5F10"/><path d="M249.3 232.5V246.3" stroke="#CD0F2D"/><path d="M236.7 232.5V242.5" stroke="#FF5F10"/><path d="M229.3 232.5V241.4" stroke="#CD0F2D"/><path d="M253 232.5V240.2" stroke="#FF5F10"/><path d="M230.4 232.5V245.5" stroke="#FF5F10"/><path d="M249.2 232.5V242.4" stroke="#FF5F10"/><path d="M246.2 232.5V244.8" stroke="#FFB40A"/><path d="M244.8 232.5V240.2" stroke="#CD0F2D"/><path d="M227.7 232.5V248.7" stroke="#FF5F10"/><path d="M228.8 232.5V248.2" stroke="#FF5F10"/><path d="M236.3 232.5V250.8" stroke="#FF5F10"/><path d="M242.5 232.5V242.8" stroke="#A028B4"/><path d="M233.9 232.5V238.4" stroke="#CD0F2D"/><path d="M241.8 232.5V239.8" stroke="#FF5F10"/><path d="M248.2 232.5V244.5" stroke="#A028B4"/><path d="M244.5 232.5V246.6" stroke="#A028B4"/><path d="M227.3 232.5V245.2" stroke="#A028B4"/><path d="M231.4 232.5V238" stroke="#FF5F10"/><path d="M240.3 232.5V242.9" stroke="#FFB40A"/><path d="M245.9 232.5V245" stroke="#FFB40A"/><path d="M243.9 232.5V239" stroke="#CD0F2D"/><path d="M228.8 232.5V240.7" stroke="#CD0F2D"/><path d="M230.6 232.5V242.5" stroke="#CD0F2D"/><path d="M239.9 232.5V248.2" stroke="#A028B4"/><path d="M231.6 232.5V249.9" stroke="#FF5F10"/><path d="M239.3 232.5V242.2" stroke="#FF5F10"/><path d="M252.6 232.5V247.7" stroke="#FFB40A"/><path d="M233 232.5V238.9" stroke="#FF5F10"/><path d="M233 232.5V248.7" stroke="#A028B4"/><path d="M226.7 232.5V243.5" stroke="#FF5F10"/><path d="M244.7 232.5V239.1" stroke="#A028B4"/><path d="M226.2 232.5V242.6" stroke="#CD0F2D"/><path d="M242.6 232.5V244.7" stroke="#A028B4"/><path d="M253.2 232.5V238.4" stroke="#A028B4"/><path d="M250.1 232.5V242.3" stroke="#CD0F2D"/><path d="M231.7 232.5V245.3" stroke="#FF5F10"/><path d="M243.6 232.5V241.7" stroke="#FF5F10"/><path d="M244.2 232.5V239.5" stroke="#FF5F10"/><path d="M231.5 232.5V247.8" stroke="#FF5F10"/><path d="M246.1 232.5V244.2" stroke="#FF5F10"/><path d="M225.3 232.5V247.1" stroke="#CD0F2D"/><path d="M251.3 232.5V241.9" stroke="#CD0F2D"/><path d="M232.9 232.5V241" stroke="#A028B4"/></g>
</g>
<g stroke="#262626" stroke-width="0.5" fill="none" opacity="0.45">
<rect x="210.5" y="152.5" width="146" height="113.9"/>
<path d="M210.5 266.4v-1.3M210.5 152.5v1.3M247 266.4v-1.3M247 152.5v1.3M283.5 266.4v-1.3M283.5 152.5v1.3M320 266.4v-1.3M320 152.5v1.3M356.5 266.4v-1.3M356.5 152.5v1.3M210.5 152.5h1.3M356.5 152.5h-1.3M210.5 168.8h1.3M356.5 168.8h-1.3M210.5 185h1.3M356.5 185h-1.3M210.5 201.3h1.3M356.5 201.3h-1.3M210.5 217.6h1.3M356.5 217.6h-1.3M210.5 233.9h1.3M356.5 233.9h-1.3M210.5 250.1h1.3M356.5 250.1h-1.3M210.5 266.4h1.3M356.5 266.4h-1.3"/>
</g>
<g fill="#262626" stroke="#262626" stroke-width="0.1">
<text x="283.5" y="149.9" font-size="8" text-anchor="middle" fill="#000" stroke="#000" stroke-width="0.12">StandUp</text>
<g font-size="4.2">
<text x="210.5" y="273.3" text-anchor="middle">0</text>
<text x="247" y="273.3" text-anchor="middle">0.5</text>
<text x="283.5" y="273.3" text-anchor="middle">1</text>
<text x="320" y="273.3" text-anchor="middle">1.5</text>
<text x="356.5" y="273.3" text-anchor="middle">2</text>
<text x="208.2" y="154.1" text-anchor="end">1000</text>
<text x="208.2" y="170.3" text-anchor="end">800</text>
<text x="208.2" y="186.6" text-anchor="end">600</text>
<text x="208.2" y="202.9" text-anchor="end">400</text>
<text x="208.2" y="219.1" text-anchor="end">200</text>
<text x="208.2" y="235.4" text-anchor="end">0</text>
<text x="208.2" y="251.7" text-anchor="end">-200</text>
<text x="208.2" y="267.9" text-anchor="end">-400</text>
</g>
<g font-size="4.4">
<text x="283.5" y="279" text-anchor="middle">Sample</text>
<text transform="translate(195.8 209.4) rotate(-90)" text-anchor="middle">Amplitude</text>
<text x="346.1" y="280.6" font-size="4.6">×10<tspan dy="-1.8" font-size="3.4">4</tspan></text>
</g>
</g>
<g filter="url(#bl)">
<rect x="400" y="173" width="59" height="93" fill="#6EB928"/>
<path fill="#1CBEF5" d="M400 178.8l.5 .4 .5 0 .5 .7 .5-.6 .5 .3 .5 .6 .5-.4 .5-.7 .5 1.8 .5-2.3 .5 .1 .5 .4 .5-1 .5 2.5 .5-.6 .5 .2 .5 .1 .5-2.3 .5 1.2 .5 .7 .5-.6 .5 .4 .5 1.9 .5-2 .5 .9 .5-2.2 .5 4.1 .5-2.3 .5-.5 .5 .2 .5-.6 .5-2 .5 1.3 .5 .7 .5-.7 .5 0 .5 .4 .5-.3 .5 .1 .5-.1 .5 .5 .5-.1 .5-2.4 .5 3 .5-.2 .5 .5 .5-2 .5 1 .5-.9 .5 0 .5-.5 .5-.8 .5 3.2 .5-.7 .5 .8 .5-.3 .5-.2 .5-.8 .5 1.1 .5-.5 .5 .8 .5 .2 .5 .4 .5-2.2 .5 1.7 .5 .1 .5-2.1 .5 2.8 .5-1.4 .5 2.6 .5-2.9 .5 .6 .5-.1 .5-.8 .5-.2 .5 .4 .5 .2 .5 1.6 .5-.7 .5-1.6 .5 1.7 .5-.3 .5-.1 .5-.8 .5-.7 .5-1 .5 2.1 .5-.5 .5-.4 .5 .8 .5-2.6 .5 2.4 .5-1.1 .5-.2 .5 1.7 .5-.5 .5-2.1 .5 1.3 .5-1.2 .5 .8 .5-.5 .5 0 .5 .3 .5 .2 .5-.7 .5 1.4 .5-2.1 .5 .4 .5 1.8 .5-.5 .5 1.5 .5-1.3 .5-.7 .5 .4 .5-2.9 .5 4.1 .5-.1 .5-3.4V266H400z"/>
<path fill="#CD0F2D" d="M400 185.1l.5-.1 .5 .5 .5 0 .5 .3 .5 0 .5 .4 .5 1.3 .5-1.6 .5 .4 .5-.6 .5-.2 .5 .5 .5 .2 .5-.2 .5 1.6 .5-1.2 .5 .4 .5-2 .5 1.2 .5-.1 .5-.5 .5 1.1 .5-.2 .5 .1 .5-.4 .5 .3 .5 0 .5-.2 .5-.2 .5 .7 .5-.4 .5-1.6 .5 1 .5-.1 .5-.3 .5-.3 .5 .2 .5 1.5 .5-.2 .5-.4 .5-.9 .5-.4 .5 1.4 .5 .2 .5-.8 .5 .9 .5-.2 .5 .5 .5-.6 .5-.2 .5-1.1 .5 1.6 .5-.9 .5 .1 .5 .3 .5 .7 .5-.1 .5-1.6 .5 .8 .5 .7 .5 .5 .5-1 .5 .6 .5 0 .5 1.2 .5-.7 .5-.6 .5 2.4 .5-1.6 .5-1.4 .5 1 .5-.4 .5-.2 .5-.2 .5-.3 .5-.1 .5 2 .5-.3 .5-1.2 .5 .3 .5 .6 .5-1.1 .5-.2 .5 .2 .5-1 .5 1 .5-.9 .5 .3 .5 .1 .5 .1 .5-.7 .5 .2 .5 0 .5 .4 .5-.7 .5 1.2 .5 .3 .5-1 .5-.6 .5 .2 .5-.2 .5 .2 .5-.2 .5-.6 .5 .3 .5-.2 .5 .7 .5 .5 .5 .1 .5-1 .5 .9 .5 .4 .5-.1 .5-.2 .5 .2 .5-.5 .5-.2 .5 .5V266H400z"/>
<path fill="#FFFFFF" d="M400 190.1l.5 .5 .5-.1 .5-.1 .5 0 .5-.4 .5 3.6 .5-2 .5 1.8 .5-2.4 .5 0 .5 1.3 .5-1.4 .5 .2 .5 .9 .5-.7 .5 1.2 .5-1 .5 .5 .5 .2 .5-2.2 .5 3.3 .5-1.8 .5 .9 .5-.4 .5 .1 .5-.1 .5 .4 .5-.1 .5-1.6 .5 1.8 .5-2.2 .5-.3 .5 .1 .5 .8 .5 1.1 .5-2.7 .5 4.1 .5-3.7 .5 1.1 .5 .2 .5 .5 .5-.2 .5-.4 .5 .8 .5-.1 .5-.1 .5-.6 .5-.5 .5-1.3 .5 .9 .5-.3 .5 1.1 .5-.9 .5 1.6 .5 .3 .5 3 .5-2.1 .5-.4 .5 1.9 .5-1.2 .5 0 .5-3.2 .5 2.8 .5-.7 .5 0 .5 1.4 .5-.6 .5 0 .5 .7 .5-1.7 .5 .9 .5-2.2 .5-.4 .5 .9 .5-.1 .5-3.4 .5 5.3 .5-.4 .5-.5 .5-.7 .5 1.7 .5-.8 .5-.8 .5-1 .5 3.3 .5-1.2 .5-2.5 .5 1 .5 .5 .5 .1 .5-.3 .5 .1 .5-.8 .5 0 .5-.8 .5 1.4 .5 .4 .5-1.7 .5 1 .5-1.2 .5 .4 .5 .9 .5-1.7 .5 1.4 .5-.4 .5 0 .5 1.4 .5-.6 .5 .3 .5 .9 .5 0 .5-3.1 .5 2.6 .5-.5 .5 .4 .5-1.5 .5 1 .5-.9V266H400z"/>
<path fill="#FF5F10" d="M400 199l.5-1.5 .5 .9 .5-.4 .5 .3 .5-.4 .5 2.1 .5-1.9 .5 .4 .5 0 .5-1.2 .5 .3 .5-1.9 .5 2.9 .5 .7 .5-3.2 .5 2.6 .5-.7 .5-1.5 .5 2.5 .5-2.3 .5 1.8 .5 2.7 .5-2.5 .5 .3 .5-.6 .5 1.3 .5-.5 .5-1.2 .5 .1 .5 .6 .5-2.2 .5 1 .5 1.7 .5 .1 .5-2.5 .5 2.3 .5-1 .5 .7 .5-1.2 .5 2.8 .5-2.4 .5-.5 .5 .7 .5-.1 .5 .4 .5 2.8 .5-4.1 .5 .8 .5 2.1 .5 0 .5-6.7 .5 5.6 .5-2.6 .5 .7 .5-2.4 .5 3.5 .5 .8 .5 .5 .5 0 .5-.5 .5-.2 .5-2.5 .5 .8 .5 .5 .5 4.2 .5-3.1 .5 .9 .5 .9 .5-1.8 .5-.1 .5-.3 .5 1.2 .5-1 .5-1.9 .5-.5 .5 1.6 .5 .9 .5 .2 .5 1 .5-.3 .5 .2 .5-4.8 .5 5.3 .5 .6 .5-2.3 .5 .8 .5-1.7 .5 .4 .5-.3 .5-2.2 .5 1.8 .5 .7 .5-1.3 .5-1 .5 2.6 .5 1.7 .5-1.4 .5-1 .5-1.3 .5-1.4 .5 1.3 .5-.5 .5 0 .5 2.2 .5-3 .5 .2 .5 1.4 .5-1.2 .5 1.6 .5 3.1 .5-4.4 .5 1 .5 2.8 .5-3.2 .5 2.7 .5-2.2 .5 1.4 .5-2.6V266H400z"/>
<path fill="#FFB40A" d="M400 203.3l.5-.3 .5 .7 .5-1.6 .5 1 .5 .8 .5 .5 .5 1.5 .5-1.6 .5-.6 .5 .1 .5-.9 .5 1.5 .5-.8 .5 .7 .5-.5 .5 .6 .5-.8 .5 1.1 .5-.4 .5-.4 .5 .5 .5 .3 .5-1.1 .5 .8 .5-1.3 .5 .8 .5-.3 .5 .4 .5-1.4 .5 1.1 .5 .1 .5 .2 .5-1 .5 1.5 .5-1.3 .5 .1 .5-.4 .5 1.7 .5-2.1 .5 1.4 .5-.4 .5 0 .5 1.2 .5-1 .5 .9 .5 0 .5-.2 .5 .7 .5-1.6 .5 .4 .5-.3 .5 0 .5 .1 .5-.1 .5 .1 .5 .5 .5 .1 .5 1 .5-.6 .5-.7 .5 .3 .5-.1 .5 1.5 .5-.5 .5-.8 .5-.1 .5 .5 .5-.6 .5 .3 .5-.6 .5 .5 .5-.2 .5-.4 .5-.3 .5 .1 .5-.4 .5 1 .5 .5 .5-.7 .5 .8 .5-.7 .5 0 .5-.4 .5-.5 .5-.6 .5-.3 .5 .4 .5-.6 .5 .9 .5 .4 .5-.7 .5 0 .5 1 .5-1.1 .5 .5 .5 .3 .5-.6 .5 .1 .5-.2 .5 .3 .5-.8 .5 .5 .5-.3 .5 0 .5 .9 .5-1.4 .5 0 .5 .8 .5 .2 .5 .3 .5 .2 .5 .1 .5 1 .5-1.6 .5-.7 .5 .9 .5 .1 .5 1V266H400z"/>
<path fill="#1CBEF5" d="M400 206.7l.5 .8 .5-.1 .5 1.9 .5-3 .5 1.3 .5 .7 .5 .2 .5 0 .5-.3 .5-.8 .5-1.6 .5 1.8 .5 1.2 .5-.1 .5-.9 .5 1.9 .5-1.6 .5 .1 .5 .1 .5-.6 .5-.5 .5 1.2 .5 .6 .5-.6 .5-1.3 .5 1.6 .5-.6 .5 .8 .5-1.3 .5 .4 .5 .5 .5-1.1 .5-.4 .5 .1 .5-.2 .5-.7 .5 1.3 .5 .3 .5-1 .5 .9 .5-.5 .5 1 .5-.5 .5 1.8 .5-1.4 .5 0 .5 .1 .5-.9 .5 .8 .5-.4 .5-.5 .5 .9 .5-1.1 .5 1.1 .5-.5 .5 .5 .5-1.1 .5 2.7 .5-1 .5-.6 .5 0 .5 1.2 .5-1 .5 .7 .5 .4 .5-1.5 .5 .8 .5-.2 .5-.2 .5 .1 .5-.4 .5 .7 .5-.3 .5-.7 .5-.2 .5-.3 .5 .6 .5 1 .5-.8 .5 .5 .5-.2 .5-2.4 .5 1.9 .5-.2 .5-.4 .5 .3 .5-.1 .5-.1 .5 .3 .5-.2 .5 .5 .5-.2 .5-.7 .5 .2 .5-.4 .5 0 .5 .2 .5-2.1 .5 2.1 .5 .2 .5-1.7 .5 1.1 .5-.1 .5-.1 .5-1.6 .5 1.7 .5 .2 .5-.5 .5-.5 .5 .9 .5 1 .5-.2 .5 .4 .5-2.2 .5 1.7 .5-.9 .5 1.1 .5-1.5V266H400z"/>
<path fill="#6EB928" d="M400 211.2l.5-.1 .5-1.3 .5 1.4 .5 .2 .5-.4 .5 2.9 .5-1.8 .5 .8 .5-1.5 .5-.3 .5-.1 .5 .1 .5-.7 .5 .9 .5 .5 .5 .1 .5-.3 .5 .1 .5-.6 .5 0 .5 .3 .5 .2 .5-.1 .5 .2 .5-.4 .5 2.2 .5-1.6 .5-.2 .5 0 .5-.3 .5 .5 .5-1.2 .5 .4 .5-.9 .5 1.1 .5 .4 .5-1.2 .5 .2 .5 .4 .5-.3 .5 .7 .5-.4 .5 .5 .5-.4 .5 0 .5-.4 .5 .8 .5-.5 .5 0 .5-.5 .5-.1 .5 .6 .5-.3 .5-.4 .5 1.3 .5 1.1 .5-.1 .5-.2 .5-.6 .5 .2 .5-.2 .5 .1 .5-.6 .5 .6 .5-1.1 .5 1.3 .5-2 .5 2 .5 .4 .5-1.3 .5 .2 .5 .1 .5 .6 .5-1.4 .5 0 .5-.5 .5 .1 .5 1.1 .5 .4 .5-.3 .5 .1 .5 .2 .5-1 .5 .7 .5-.7 .5-.7 .5 .8 .5-1 .5 2 .5-.9 .5-1.2 .5 .3 .5-.4 .5 .7 .5-.4 .5 .5 .5-.3 .5 .1 .5 .6 .5-1.1 .5 .4 .5 .8 .5-1.5 .5 .3 .5 .2 .5-.5 .5 1.6 .5 .7 .5-1 .5-.1 .5 .8 .5-.5 .5 .1 .5-.1 .5-.1 .5-1.3 .5 .7 .5 .8V266H400z"/>
<path fill="#FFB40A" d="M400 212.8l.5 .1 .5 1 .5 .1 .5-1.6 .5 1.7 .5 .9 .5-1.2 .5 1.2 .5-1.4 .5 .1 .5-.6 .5 1 .5-1.6 .5 2.2 .5 .3 .5 .1 .5-1.1 .5 1.7 .5-1.3 .5-.7 .5 .1 .5 1.1 .5-1.5 .5 .8 .5-.2 .5 .2 .5-.6 .5 .3 .5-.4 .5 .7 .5-.8 .5 0 .5-.3 .5-.6 .5 .4 .5 .3 .5 .2 .5 .2 .5-.7 .5 1.5 .5-.5 .5-.9 .5 1 .5 .4 .5 .6 .5-.3 .5 .4 .5-1.7 .5 .3 .5-.8 .5 .7 .5-2.5 .5 .9 .5 1.3 .5 .5 .5 .7 .5 1.8 .5-2.4 .5 .5 .5 .6 .5-.2 .5 0 .5-1.8 .5 1.1 .5 1.1 .5-1.4 .5 1.1 .5-.3 .5-.2 .5-.1 .5 .6 .5 2 .5-2.3 .5-.4 .5 0 .5-1.4 .5 1.1 .5 2.1 .5-1.9 .5-.3 .5 .8 .5-.9 .5 .8 .5-1.2 .5 .5 .5 .2 .5-1.5 .5 2 .5-1 .5-.1 .5-.5 .5-1.4 .5 2.2 .5-1.5 .5 .6 .5 .2 .5-.2 .5-.2 .5 2.1 .5-2.5 .5 .2 .5 .7 .5-.3 .5 0 .5-.4 .5 0 .5 .2 .5 .1 .5-.3 .5 1.1 .5-.1 .5-.1 .5 0 .5 .3 .5-.3 .5-.4 .5 .1 .5 .5V266H400z"/>
<path fill="#0573D7" d="M400 217.9l.5 .3 .5 .2 .5-1.2 .5 2.1 .5 .2 .5 .3 .5-1.1 .5 .8 .5 .7 .5-1 .5-.9 .5 1 .5-.9 .5 1.3 .5-.3 .5 0 .5 0 .5-.7 .5-.9 .5 1.3 .5 .4 .5-.3 .5-.1 .5-.8 .5 .7 .5 1.1 .5-1 .5 0 .5-.7 .5-.1 .5 .9 .5-1.4 .5 1.3 .5-.1 .5-1.8 .5 1 .5-1.2 .5 2 .5-.3 .5-2 .5 2 .5-.2 .5-.1 .5 .6 .5 0 .5 1.1 .5-1.1 .5 .3 .5-.7 .5-.2 .5-.4 .5 .9 .5-.3 .5-1.2 .5 1 .5 1 .5-.7 .5-.9 .5 3.6 .5-1.7 .5-.2 .5 0 .5-.1 .5-.4 .5 .5 .5 0 .5 .7 .5-.8 .5 .2 .5-1.3 .5 1.2 .5-1.3 .5 .7 .5-.7 .5 .1 .5 .6 .5 .2 .5 1.2 .5-1 .5-.1 .5-.3 .5 .4 .5-1.2 .5 0 .5 .4 .5-.6 .5 .5 .5-1.1 .5 .4 .5 .3 .5-.2 .5-.3 .5-.4 .5 .5 .5 1.5 .5-.5 .5-.4 .5-.4 .5-.2 .5 0 .5 .3 .5-.3 .5-.6 .5 .1 .5 .6 .5 0 .5-.1 .5 .5 .5-.7 .5 .6 .5-.4 .5-.1 .5 2.8 .5-2.2 .5 .5 .5-.4 .5-.4 .5 .4V266H400z"/>
<path fill="#FF5F10" d="M400 222.2l.5-1.2 .5 1.2 .5-.2 .5-1.3 .5 .7 .5 2.8 .5-2.3 .5 1.7 .5-2.8 .5 0 .5-.6 .5 2.1 .5-1.2 .5-.1 .5 3.3 .5-1.3 .5-1.2 .5-1.3 .5 .8 .5 .3 .5 .2 .5-.1 .5 1 .5-2.4 .5 1.2 .5 .8 .5-.8 .5-1.2 .5 1.2 .5 .8 .5-.6 .5-.1 .5-3.2 .5 3.4 .5-.8 .5-.3 .5 1.1 .5-2.2 .5 1.3 .5 1.1 .5 .4 .5-1.2 .5-2.3 .5 3 .5 .3 .5-.5 .5 2.6 .5-2.9 .5-.1 .5 1.2 .5-1.9 .5-.6 .5 .9 .5 1.4 .5-.3 .5 .9 .5-1.3 .5-.5 .5 1.1 .5-.1 .5-1.1 .5 1.3 .5 .1 .5-.6 .5 1 .5-1.5 .5 1.5 .5-2.5 .5 1.9 .5-1 .5 1.4 .5 .9 .5-2 .5-.8 .5 .7 .5-2.6 .5 3.1 .5-1.1 .5 1.4 .5 .6 .5-.8 .5-.2 .5 .2 .5-.1 .5-2.3 .5 .9 .5 1 .5-.6 .5 .9 .5-.6 .5-.3 .5 0 .5-.7 .5 .8 .5 .1 .5 .6 .5-.6 .5-1 .5 .9 .5-.7 .5 .1 .5 .7 .5-1 .5 2.2 .5-1 .5-.2 .5-1.2 .5 1.2 .5-.7 .5-1.3 .5 2.3 .5-.8 .5 1.6 .5-.4 .5 .2 .5 1 .5-3.2 .5 1.5V266H400z"/>
<path stroke="#CD0F2D" stroke-width="0.7" fill="none" opacity="0.85" d="M424.8 220.4v2.7M408.9 220.9v2.4M402.6 226.4v4.5M445.5 220.4v3.6M411.4 225.6v5.9M436.4 226.1v5.2M405.1 226.3v5.8M439.2 225v4.7M411 221.5v5.1M439 225.3v4.9M440 223.8v3.5M431.9 225.5v4.8M431.9 221.3v4.1M429.3 223.8v4.5M414.7 223.9v3.7M411.2 226.7v2.1M424.2 226.7v4.3M409.4 225.2v3.1M435.8 224.9v5.9M400.4 220.3v6.7M400.9 219.8v4M451.6 224.5v4.6M438.2 223.5v5.5M457.9 223v2.7M458.7 221.4v2.6M421.3 221.9v6.4M441.3 227.8v5M458.3 226.6v5.9M423.3 221.9v6.9M422.7 226.5v4.3M415.8 219.6v6.9M446.5 221v6.3M418.7 222v4.6M429.6 223.6v5.1M457.3 223.3v5.1M454.5 223.9v2.5M457.6 222.3v5.5M425.3 223.2v2.4M450.4 224.2v4.4M418.3 223.3v3.5M406 221.5v6.2M405.9 224.6v5.4M408.3 220.9v5.1M414.4 225.8v2.4M412.4 226.7v6.4M410.8 222.5v4.9M420.7 223v5.2M427.4 220.7v4.5M433.7 221v6.6M441 222.3v2.9M454.5 220.8v3.5M425 226.1v3.6M453.8 222.7v3.5M401.8 223.1v2.2M439 222.1v2.3M433.8 220.7v5.7M449.6 226.4v2.7M412.5 224.8v5.8M420.8 220.7v6.7M404.1 226.5v3.6M432.3 224.8v2.5M407.4 227.3v4.5M414.1 224.4v5.7M403.6 220.7v3.8M427.9 226.9v2M444.2 227.6v2.6M441.3 222.7v6.5M451 221.2v3.8M405.4 221.4v4.1M412.6 223.6v6.7M416.2 222.6v3.5M451.9 224.5v6.8M431.9 221.2v4.4M401.8 224.4v4.6M441 226.4v6.1M454.1 223.1v5.5M444.6 219.9v4.7M458.7 224.1v6.3M410.9 225.7v2.8M410.8 223.8v5.5M404.3 223.1v3.6M458.4 224.6v2.2M425.2 226.5v6.7M454 222.9v3.4M442.9 224.8v2.3M446.1 218.8v6.6M458.1 222.5v5.8M444.7 225.9v4.7M416.5 221v3.8M458.1 221v3.1M413.5 222.6v4.8M443.2 227v5.2M408.2 224.5v4.1M444.9 227.2v4.7M429.1 221.6v6.3M415 227.4v2.3M410.6 221.3v3.9M455.8 225.9v6M412.2 221.9v4.6M431.4 228.6v4.5M427.9 225.5v5.9"/>
<path stroke="#FFB40A" stroke-width="0.7" fill="none" opacity="0.85" d="M445.4 222.6v5.4M402 220.4v4.6M407.5 227.2v2.9M403.3 227.5v5.9M409.1 224.8v5.8M438.7 225.1v6.9M403.5 224.9v6.8M418.7 218.5v6.1M455 224.8v2.9M446.1 221.2v2.4M437.8 226.8v2.3M420.1 227.4v2.4M432 221.4v5M445.1 226.3v3M439.3 225.2v6.9M447.9 222.6v6.5M433.1 223.7v5.6M417.4 219.8v6.2M407.4 221.1v5.9M428.3 223.7v6.1M449.9 225.8v5.3M415.8 221.9v4.2M418 219.5v4.6M442 219.3v5.1M410.6 221v2.1M423.6 220.4v7M434.5 229v2.3M401.8 225.1v5.7M446.2 226.6v6M442.7 225v4.2M422.6 220v5.4M412.2 222.2v6.2M454.1 225v6.9"/>
<path stroke="#A028B4" stroke-width="0.7" fill="none" opacity="0.85" d="M456.9 221.8v3.3M420.8 226.7v4.7M431.2 227.6v3.7M440.8 223.6v2.6M419.7 222.8v5.3M433.4 228.9v4M450.5 223.4v6.3M426.1 225.1v3.1M415.3 227v5.2M406.9 221.5v3.2M429.9 223.5v2.7M426.7 223.2v3.8M448.2 222.2v5.2M448.4 227v2.4M428.8 224.6v4.9M403.5 220.6v6.7M447.9 223.6v3.8M406.2 226.2v3.3M418.5 221.5v2.7M447.1 228.1v3.9M457.2 221.1v5.2M448.9 222.8v5.1M413 225.9v5.7M421.6 220.9v3.4M424.3 220v6.4M412.3 220.5v3.7M454.4 228.4v4.8M413.2 221.5v6.2M401.7 221.8v2.4M457.3 224.1v2.3M447.6 225.4v5M417.7 221.7v3.8M422.9 227.3v5.4M418.7 221.6v2.5M431.3 228.3v4.4M435.1 228.8v2.9"/>
<path stroke="#CD0F2D" stroke-width="0.7" fill="none" opacity="0.9" d="M454.6 176.2v2M457 178v1.1M405.1 179.1v1.3M416.6 178.3v1.7M454.5 176.6v1.1M438.9 177.5v1.9M428.7 178.2v1.1M422.1 178.2v1M413.8 178v2.4M425 178.1v1.8M415.6 177.4v2.2M403.3 178.8v1.8M416.3 178.8v1.2M444.2 177.5v2.3M455.8 177.8v1.3M437.8 178.2v1.8M433.1 179.4v2"/>
<path stroke="#6EB928" stroke-width="0.7" fill="none" opacity="0.9" d="M405.2 177.8v1.1M410.4 178v1.4M431.9 178.2v2.3M422.2 178.6v1.9M455.4 176.6v1.2M449.5 176.3v1.2M414.7 178v2.3M418 177.2v1.7M458.3 176v2.2M402.6 178.6v1.9M417.6 176.9v1.4M420.9 179v1.3M448.4 177.4v2.5M421.1 178.4v2.5M412.7 177.6v2.2M402.8 178.8v2.2M456.3 177.4v1M440 179.9v1.2M424.8 177.1v1.7M445.8 176.5v1.7M424.4 177.5v1.7M428.6 177.8v2M400.7 178.3v1.7"/>
<path stroke="#CD0F2D" stroke-width="0.6" fill="none" opacity="0.7" d="M444.6 184v4.3M448.8 202.3v3.4M452.1 181.6v5.9M455 182.1v7.7M444.8 208v4.2M452 206.1v5.8M449.3 201v4.9M447.6 205.4v7.1M446.6 212.1v8.9M451.6 200.4v4.3M449.5 213.9v8.5M455.7 187.5v4.4M450.5 186.1v3.3"/>
<path stroke="#1CBEF5" stroke-width="0.6" fill="none" opacity="0.7" d="M452.3 198.5v6M445.5 206.3v5.5M455.3 210.9v7.5M458.1 204.7v5.5M450.7 193.5v7.5M453.9 201.9v4.3M444.1 192.5v5.6M442.7 198.1v4.7M442 215.7v6.5M453.7 187.9v6M450.8 172.3v8.7M451.7 189.8v6.1"/>
<path stroke="#FFB40A" stroke-width="0.6" fill="none" opacity="0.7" d="M451.5 183.3v8.7M444.9 203.3v4.4M443.7 180.6v4.1M455 205.1v5.7M447.1 186.7v3.5M454 212.9v3.5M458.7 185.9v8M444.9 203.5v8.4M456.8 174.6v8.6M445.3 193v6.2M454.2 202.2v3.2M455 222.5v4.3M449.6 211.3v5.6M442.4 208.3v4.5M448.6 181.5v8.3M451.8 206.4v3.3M448.9 194.6v5.4M444.5 189.2v3.3"/>
<path stroke="#6EB928" stroke-width="0.6" fill="none" opacity="0.7" d="M456.2 187.9v7.8M456.3 189.6v6.3M445.5 191.5v5.3M452 191.4v4.9M455 190.3v8.8M451.4 185.2v6.2M448.1 205.7v8.9M442.1 221.7v5.2"/>
<path stroke="#FF5F10" stroke-width="0.6" fill="none" opacity="0.7" d="M453.8 205.4v7.8M448.8 197.2v7.4M452.7 219.7v7.6M448.6 179.4v8.7M455.6 209.4v4M447.7 220.9v6.8M447.6 204.3v3.8M454.4 218.5v6.7M446.9 202.4v5"/>
<rect x="459" y="169" width="28" height="97" fill="#6EB928"/>
<path fill="#1CBEF5" d="M459 177l.5 8 .5 4.7 .5-4.4 .5-8.4 .5 .3 .5-.9 .5 .1 .5-1 .5 .7 .5 2 .5-.5 .5-.3 .5 0 .5-1.5 .5 .3 .5 2.8 .5-2.4 .5-.7 .5 .4 .5 .7 .5-1 .5-1.5 .5 2.2 .5 1.1 .5 .1 .5-1.8 .5 1.4 .5-2.6 .5 .8 .5-2.1 .5 1.4 .5 1.6 .5-2.7 .5 1 .5-1 .5-1.7 .5 .6 .5 1 .5 2.1 .5-.4 .5 .7 .5-.2 .5 14.6 .5 2.2 .5 2.4 .5-.9 .5-1.5 .5-10.4 .5-5.8 .5 .2 .5-1.4 .5-.3 .5 1.2 .5-1 .5-1 .5 3.5V266H459z"/>
<path fill="#CD0F2D" d="M459 182.3l.5 9.5 .5 5.1 .5-3.4 .5-7.8 .5 3.1 .5-3.2 .5-1.7 .5 1.8 .5 1 .5 .2 .5-1 .5-2.1 .5-.4 .5-2.1 .5 4.3 .5-1.5 .5 2.8 .5-1.6 .5 1.1 .5-1.2 .5-4.5 .5 3.3 .5 .3 .5 2.1 .5-.5 .5-1 .5-1 .5-2.6 .5 3.9 .5-4.8 .5-.8 .5 2.9 .5 .4 .5 2.5 .5-1.6 .5-3.3 .5 .6 .5 1.7 .5 3.5 .5 .2 .5-.2 .5 .7 .5 10 .5 2.8 .5 3 .5-.8 .5 3.8 .5-10.7 .5-8.7 .5 1.5 .5-8.2 .5 5.8 .5 4.7 .5-5.5 .5-1.6 .5 2V266H459z"/>
<path fill="#FFFFFF" d="M459 190l.5 5.5 .5 2.7 .5 2.4 .5-6.7 .5-.1 .5-.2 .5-2.7 .5 5.8 .5-5.5 .5 1.6 .5-1.5 .5 4.2 .5-4.2 .5-.4 .5-1.7 .5 3.9 .5-.6 .5-.5 .5-.7 .5 2.3 .5-7.9 .5 1 .5-.7 .5 5.2 .5 4.5 .5-.4 .5-6.3 .5 .9 .5 2 .5-4.6 .5-1.7 .5 6.5 .5-3.3 .5 2.8 .5-1.4 .5-4.3 .5 2.4 .5 .1 .5 4.2 .5 2.2 .5-2.1 .5 .8 .5 9.4 .5 1.9 .5 .6 .5 4.1 .5 1.6 .5-11.6 .5-1.1 .5-5.6 .5 2.9 .5-2.8 .5 1.5 .5 .2 .5-6.4 .5-.5V266H459z"/>
<path fill="#FF5F10" d="M459 193.9l.5 13 .5 2.3 .5-5.6 .5-4.3 .5 2.9 .5-1.9 .5-4.2 .5 4 .5-1.8 .5 2.1 .5-2.4 .5-5.4 .5-.2 .5-5.6 .5 5.6 .5 6.3 .5-4.6 .5 1.8 .5-1.1 .5 .3 .5-2.6 .5 9.7 .5-4.8 .5-1.2 .5-1.1 .5 .5 .5 3.4 .5-6 .5 4.1 .5-6.6 .5-1.1 .5 4.4 .5-2.5 .5 .7 .5 .6 .5-2 .5 .9 .5 .4 .5 6.9 .5-4.2 .5 2.2 .5 1.1 .5 9.6 .5 1.5 .5 2.3 .5-.3 .5-.2 .5-8.1 .5-1.1 .5-2.2 .5-2.9 .5-2.1 .5 7.3 .5-5.6 .5-3 .5 8.8V266H459z"/>
<path fill="#FFB40A" d="M459 198.1l.5 7.5 .5 6.9 .5-2.1 .5-4.5 .5-2.2 .5 .9 .5-1 .5 .2 .5 1.2 .5-.7 .5-.3 .5-6.1 .5 4 .5-3.2 .5 1 .5 3.8 .5 2.6 .5-3.4 .5 .5 .5 .1 .5-6.2 .5 3.5 .5 2.3 .5-3.9 .5 5.2 .5-.2 .5-2.3 .5-3 .5 .7 .5-2 .5-1.7 .5 .7 .5 2.2 .5 5.9 .5-6.1 .5-.5 .5-.2 .5 5.3 .5 1.5 .5 2.2 .5 .3 .5-1.7 .5 8.1 .5 1.4 .5 0 .5 .4 .5 3.2 .5-11 .5 .5 .5-1.8 .5-2.6 .5 3.1 .5-.9 .5-3.7 .5-1.3 .5 5V266H459z"/>
<path fill="#1CBEF5" d="M459 204.2l.5 9.8 .5 5.3 .5-1.5 .5-5.6 .5 1.1 .5 .8 .5-2.2 .5 1.9 .5-2.4 .5 1.5 .5-.7 .5-4.8 .5 .5 .5-1.8 .5-1.6 .5 9.5 .5-5.8 .5-.3 .5 4.7 .5-1.8 .5-8.4 .5 5.2 .5 .8 .5-3.7 .5 4.6 .5 1.1 .5-4.2 .5-3 .5 .2 .5 1.7 .5-6.7 .5 7.1 .5-.5 .5 3.7 .5-2.5 .5-1.1 .5 .9 .5 4.3 .5 3.1 .5 .9 .5-.8 .5 .4 .5 2.9 .5 4.9 .5-1 .5-.1 .5 4.9 .5-8.2 .5-1.1 .5-3 .5-.6 .5 1.9 .5 .5 .5-6.9 .5-.5 .5 .3V266H459z"/>
<path fill="#6EB928" d="M459 207.8l.5 9.1 .5 5 .5 .2 .5-7.7 .5-2 .5 6.7 .5-5.1 .5 5.3 .5-2 .5 .9 .5-1.7 .5-5.8 .5-.8 .5 .6 .5-3.1 .5 11.5 .5-7.7 .5 1.4 .5 2.8 .5-2.4 .5-10.3 .5 8.2 .5 .8 .5-.4 .5 2.7 .5-1.1 .5-3.3 .5 1.3 .5-2.7 .5 .6 .5-8.4 .5 8.5 .5-1.3 .5 5.9 .5-6.2 .5 3.2 .5 .4 .5 1.6 .5 3.7 .5 2.2 .5-.8 .5-1.6 .5 5.6 .5 3.6 .5-2.4 .5-.5 .5 6.1 .5-7.7 .5 .8 .5-4.4 .5-.5 .5 .1 .5-.7 .5-3.4 .5-.9 .5-3.3V266H459z"/>
<path fill="#FFB40A" d="M459 210.3l.5 10.7 .5 5 .5-1.1 .5-3.8 .5-1.7 .5 1.7 .5-3.3 .5 4.1 .5-2.7 .5 5.2 .5-5.8 .5-6.9 .5 2 .5-1.8 .5-.8 .5 6.8 .5-1.7 .5 .9 .5 1.9 .5-2.4 .5-6.9 .5 4.9 .5 1.3 .5-4.3 .5 4.7 .5-.5 .5-2 .5-5.7 .5 2.9 .5 0 .5-4.1 .5 4.6 .5-6.2 .5 9.1 .5-6 .5 2.4 .5 .5 .5 5.5 .5 3.2 .5 .8 .5 .1 .5-.1 .5 2.6 .5 0 .5 2.7 .5-.3 .5 5.3 .5-8.5 .5-.3 .5-2.2 .5-3.7 .5 5 .5-3.2 .5-5.3 .5-1.6 .5 4.4V266H459z"/>
<path fill="#0573D7" d="M459 215.9l.5 8.6 .5 7.5 .5-1 .5-6.1 .5-1 .5 2.8 .5-2.2 .5 4.3 .5-1.1 .5-2.1 .5-.1 .5-7.7 .5 .1 .5-1.9 .5-2.8 .5 9.3 .5-3.2 .5 5.5 .5-2.1 .5-.4 .5-10.5 .5 8.5 .5-.2 .5-4.4 .5 6.5 .5-1.8 .5-3.9 .5-1.9 .5-.2 .5 1.6 .5-7 .5 5.8 .5-.8 .5 6.3 .5-3.6 .5-1.2 .5 2 .5 4 .5 5 .5 1.4 .5-2.5 .5-2 .5 3.8 .5 1.4 .5 1.3 .5 .5 .5 .7 .5-3.9 .5-2.9 .5-1.6 .5-1.5 .5 1.6 .5 .3 .5-6.5 .5-.8 .5 2.6V266H459z"/>
<path fill="#FF5F10" d="M459 217.8l.5 10.9 .5 1.5 .5 2.8 .5-3.7 .5-1.2 .5 2.8 .5-5.1 .5 5.9 .5-2.3 .5-.3 .5-1.5 .5-6.4 .5 .7 .5-4.3 .5-1.6 .5 9.9 .5-5.3 .5 3.5 .5 4.8 .5-2.9 .5-9.8 .5 3.7 .5 4.3 .5-6 .5 7.1 .5-2 .5-4.6 .5 1.2 .5-2.6 .5 1.3 .5-9 .5 10.1 .5-3.8 .5 9 .5-6.7 .5 .8 .5-.5 .5 6.5 .5 3.5 .5 1.8 .5-1.7 .5 3.7 .5-3.5 .5 2 .5-.5 .5 .3 .5 7.3 .5-7.5 .5-.6 .5-2.4 .5-1.7 .5 4.7 .5-4.6 .5-5.5 .5-.3 .5 1.2V266H459z"/>
<path stroke="#CD0F2D" stroke-width="0.6" fill="none" opacity="0.8" d="M468.8 209.9v9.3M478.8 181.9v5.4M462 178.3v6M486.8 205.9v9.3M483.3 218.9v9M478 215.7v5.3M475.1 206.9v10.6M465.3 182.2v10.2M470.3 183.7v7.9M484.3 228.7v10.3M472.7 216.1v7.3M465.1 202.1v5.1"/>
<path stroke="#1CBEF5" stroke-width="0.6" fill="none" opacity="0.8" d="M484 182.9v5.2M462 207.8v9M474.3 208v11.4M463.1 233.3v6.5M475.9 206.6v7.5M466.4 200.9v4.6M481 202v8.8M471.8 217.4v5.4"/>
<path stroke="#FFB40A" stroke-width="0.6" fill="none" opacity="0.8" d="M473 202.5v8.2"/>
<path stroke="#FF5F10" stroke-width="0.6" fill="none" opacity="0.8" d="M464.8 206v5.1M464.7 217.3v8.2M478.6 199.7v8.5M476.2 225.8v8.7M471.6 202.4v8.6M476.4 178.4v11.2M479.3 186.7v7.4M478.4 183.8v9.5"/>
<path stroke="#0573D7" stroke-width="0.6" fill="none" opacity="0.8" d="M461.4 181.4v9.4M462.2 215.2v8.2M472.2 202.1v9.5M483.8 226.9v10.8M472.4 180.3v10.8M471.8 189v5.9M476.3 181.2v9.6"/>
<path stroke="#FFFFFF" stroke-width="0.6" fill="none" opacity="0.9" d="M465.6 220.8v10.1M467.9 229.3v5.3M468.2 236.1v9.8M484.6 234.6v12.8M470 219.1v5.2M473.6 229.8v6.4M464.5 227.5v11.6M480.5 243v7.6M466.1 223.6v10.6M481.6 234.9v10.8M479.4 243.7v10.3M485.3 231.8v10.2M463.2 233.8v8.7M466.9 225.4v13.3M484.6 231.8v8.9M485.4 251.2v7M463.5 242.5v10M481.8 238.6v8.4M465.5 232.5v12M484.2 244.6v9.3M485 229.2v13.9M462.5 236.7v10.2M467.9 226.5v13.7M467.8 222.6v11.5M478.5 229.5v8.3M468.6 241.2v12M463.5 233.3v13.8M467.5 243.4v8.4M468.6 245.5v6.7M480.1 240.6v9.7M465.2 225v6.3M473.7 229v10.6M481.3 233.4v13.4M468 227.5v11.3M478.1 232.3v6.4M484.1 247.4v11.9"/>
<rect x="487" y="172" width="55" height="94" fill="#6EB928"/>
<path fill="#1CBEF5" d="M487 176.9l.5 1.5 .5-.6 .5 .3 .5-2.2 .5 .6 .5 .5 .5 1.8 .5-.9 .5 0 .5-1 .5 .7 .5-1.4 .5 1.3 .5 2.4 .5-4.2 .5 1.8 .5 2.8 .5-.7 .5-1.3 .5-.1 .5-.4 .5-.6 .5 .2 .5 .4 .5 .8 .5-.4 .5-1.1 .5 1.2 .5-1.3 .5 .9 .5 .5 .5 .5 .5 1.1 .5-1.1 .5-1.7 .5 .9 .5-1.1 .5 .1 .5 5.8 .5-.1 .5-2.1 .5-3.5 .5 3 .5-1 .5 .3 .5 .3 .5-.6 .5 .7 .5 .4 .5 .1 .5-1.2 .5 1.7 .5-2 .5-1 .5 .8 .5-1.4 .5 .8 .5 .5 .5-1.6 .5 .2 .5 1.8 .5-.4 .5-.1 .5 0 .5-.4 .5 0 .5 1.5 .5-1.8 .5 2.4 .5-.6 .5 .2 .5-.1 .5-.4 .5-1 .5-.1 .5-.9 .5-.2 .5 .4 .5 .7 .5 2.9 .5-2.7 .5 .8 .5-.1 .5 0 .5-.2 .5-1.4 .5 3 .5-1.5 .5 .9 .5-.4 .5 2.9 .5-3.6 .5 .9 .5 1.4 .5-1.9 .5 .8 .5 .5 .5 .2 .5-.8 .5-1.5 .5 .8 .5 0 .5 1 .5 .1 .5 .3 .5 0 .5 .3 .5 .1 .5-1.3 .5 1V266H487z"/>
<path fill="#CD0F2D" d="M487 183.4l.5 .7 .5 1.2 .5-2.3 .5 1.6 .5 .1 .5 .1 .5-.2 .5-1 .5-.9 .5 1.1 .5 .5 .5 0 .5-.5 .5 .7 .5 0 .5-.5 .5 .3 .5 0 .5-1.1 .5 2.9 .5-2.2 .5 .1 .5 .6 .5-.4 .5 1 .5 .4 .5-2.2 .5 1.7 .5-1.3 .5 1.3 .5 .1 .5 1.3 .5-.7 .5 .4 .5-2.5 .5 .4 .5 .3 .5 .3 .5 1.2 .5 .9 .5-1.9 .5 0 .5 .8 .5-1.2 .5 1.3 .5-.6 .5-1.3 .5 .4 .5 .9 .5-1.3 .5 1.5 .5 0 .5 .4 .5-.4 .5-.8 .5-1.3 .5 .7 .5 0 .5-.3 .5 .7 .5-.7 .5 .2 .5-.4 .5-1 .5 .5 .5 1.1 .5 .7 .5 .6 .5-.4 .5-.1 .5 .1 .5 .2 .5-.6 .5-.4 .5-.7 .5-.5 .5 .9 .5-1.7 .5 1.9 .5-.2 .5 .6 .5 .8 .5-1 .5 .8 .5-.6 .5-.6 .5 .2 .5 .1 .5 .8 .5-.4 .5 1.5 .5-.9 .5 1.6 .5-.6 .5-1.1 .5 0 .5 .9 .5 1.2 .5-1.3 .5-.2 .5 0 .5-1 .5-.7 .5 2.2 .5-.3 .5 1.8 .5-1.6 .5-.4 .5-.1 .5-.9V266H487z"/>
<path fill="#FFFFFF" d="M487 189.9l.5 2.9 .5 .6 .5-1.9 .5 1.5 .5-3.9 .5 2.7 .5 2.5 .5-1.5 .5-.5 .5 1.8 .5-2.5 .5 2 .5-2.8 .5 1.8 .5 .3 .5-2 .5 1.7 .5 0 .5 1.6 .5-2.3 .5 .3 .5 .1 .5-.8 .5 1 .5 3 .5-1.3 .5-2 .5 2.8 .5-2 .5-.4 .5-1.2 .5 1 .5-.1 .5-.6 .5 .4 .5-1.4 .5 1.3 .5 .3 .5 2.3 .5 1.6 .5-3.9 .5 .4 .5 2 .5-4.1 .5 3.3 .5-1.2 .5-1.8 .5 .8 .5 .5 .5 .4 .5-.8 .5 1.2 .5-1.6 .5-1.2 .5 .5 .5 .5 .5-1.7 .5 .9 .5 1.5 .5-.3 .5-1 .5-.6 .5-2.5 .5 2.5 .5-.9 .5 .8 .5 1 .5 .2 .5 .2 .5-1.4 .5 1.8 .5-.5 .5-.6 .5-2 .5 .3 .5-.3 .5 3.3 .5-4.7 .5 3.6 .5 2.1 .5-2.2 .5 1.2 .5-1.7 .5 1.3 .5-3.7 .5 1 .5 .4 .5 1.8 .5-1.7 .5 1.7 .5-.4 .5-2 .5 7.7 .5-8.5 .5 11.1 .5-6.3 .5-1.4 .5 1.4 .5 1.5 .5-3.4 .5 1 .5-.7 .5 .7 .5-.3 .5-1.1 .5 2.2 .5 .2 .5-.3 .5-1.9 .5 .6V266H487z"/>
<path fill="#FF5F10" d="M487 194l.5 2.2 .5-3.5 .5 3.2 .5 .5 .5 1.1 .5-1.8 .5 .5 .5-3.5 .5 1.6 .5-.7 .5-.5 .5 1.7 .5 .6 .5 1.9 .5-.4 .5-1.8 .5-1.2 .5 5.4 .5-4.2 .5-.1 .5-.7 .5 3.3 .5-3.5 .5 0 .5 .1 .5 1.2 .5-1.1 .5-.7 .5 2.1 .5-.6 .5 .4 .5-1.4 .5 1.4 .5-4.6 .5 4.5 .5-1.7 .5-.2 .5 2.9 .5-1.8 .5 2.7 .5 0 .5-.3 .5-.4 .5-1.3 .5 1.6 .5-1.7 .5 12.9 .5-7.4 .5-.3 .5-5.9 .5-.8 .5 4.2 .5 .2 .5-2.1 .5 .9 .5-.7 .5-1.7 .5 1.3 .5-.7 .5 2.5 .5-1.5 .5-2.2 .5 4 .5-6.1 .5 4.8 .5-.2 .5 2.4 .5-1.7 .5 1 .5-.6 .5-.6 .5 2.1 .5-.3 .5-6.3 .5 3.6 .5-.7 .5-.1 .5-.6 .5 2.1 .5-1.3 .5 1.8 .5 .9 .5-1.8 .5 1.4 .5-1.8 .5 1.1 .5 .9 .5-2.6 .5 2 .5-.1 .5 1 .5-.8 .5 .3 .5-2.7 .5 2.5 .5 1.6 .5-1.2 .5 .9 .5-.4 .5-1.8 .5 3.2 .5-.5 .5-2.4 .5 3.3 .5-1.1 .5-5.3 .5 3 .5 .3 .5-1.5 .5-2.4V266H487z"/>
<path fill="#FFB40A" d="M487 200.3l.5-.7 .5 1.1 .5 1 .5-.1 .5-.3 .5 0 .5 .3 .5-.9 .5-.1 .5 .3 .5-2.1 .5 3 .5-.9 .5 .3 .5 .5 .5-1.2 .5-.9 .5 1.8 .5 0 .5 .4 .5 .7 .5-1.3 .5-1.1 .5 .9 .5-1.7 .5 2.1 .5-.9 .5 .1 .5-.2 .5 1.5 .5 .4 .5-.4 .5 .1 .5-.6 .5-.4 .5 .4 .5 .2 .5 .2 .5 1.6 .5-.5 .5-.5 .5 .3 .5-.4 .5-.8 .5 .7 .5-.2 .5 .4 .5-.9 .5 1 .5-.5 .5-.1 .5 .6 .5-.2 .5-3.4 .5 2.6 .5-1 .5 .2 .5 1.1 .5-1.3 .5 1.2 .5-.9 .5 .5 .5-.1 .5-.2 .5 .3 .5 1.2 .5-.4 .5-1.8 .5 1.6 .5 .8 .5-.3 .5-.3 .5 .2 .5-1.3 .5-.6 .5 .3 .5 .5 .5-1 .5 1.2 .5-.2 .5 .5 .5 0 .5 .4 .5 .3 .5-1.5 .5-.6 .5 .9 .5-.2 .5 2.1 .5-1 .5 0 .5-.2 .5-1.2 .5 1.6 .5-.4 .5-.2 .5 1.3 .5 0 .5-.1 .5-.5 .5-.2 .5 0 .5 .5 .5-.6 .5 1.3 .5-.5 .5 .7 .5-.8 .5-.6 .5-.4V266H487z"/>
<path fill="#1CBEF5" d="M487 205.2l.5 1.2 .5-1.1 .5 1.2 .5 .3 .5-.7 .5 .6 .5 .2 .5-.7 .5-.6 .5 1.3 .5-.5 .5 0 .5-.1 .5 .3 .5-.4 .5-.5 .5 1 .5 0 .5 .8 .5-1.1 .5 .6 .5-.1 .5-.6 .5 .1 .5 .3 .5-1.4 .5-.1 .5 .6 .5-.3 .5 .3 .5 1.7 .5-.8 .5 .6 .5-1 .5 .1 .5-.3 .5 1.3 .5-1.1 .5 1.5 .5-.2 .5-1.2 .5 1.3 .5 .1 .5-1.4 .5-.4 .5 1.7 .5-2.2 .5-.5 .5 1 .5 .2 .5 1.4 .5 .2 .5-.9 .5-.7 .5-.6 .5-.5 .5-.1 .5-.3 .5 .8 .5 .3 .5-.7 .5-.2 .5 .8 .5-.9 .5 .3 .5 .6 .5-.2 .5 1 .5-1.3 .5 1 .5-.2 .5 .2 .5 .3 .5-.8 .5-.5 .5-1 .5 .5 .5 0 .5 1.2 .5-.7 .5 2 .5-.9 .5-.3 .5 1.3 .5-1.4 .5-.4 .5 0 .5-.8 .5 1.8 .5 .4 .5-.1 .5 .1 .5-.1 .5 0 .5-.1 .5 1.4 .5-.9 .5-.3 .5 .6 .5-.7 .5 1 .5-1.9 .5-.2 .5 2.3 .5-.5 .5 .3 .5 .1 .5-.4 .5-1.1 .5 .7V266H487z"/>
<path fill="#6EB928" d="M487 207.6l.5 .7 .5-.1 .5 1.5 .5 0 .5-.5 .5 .2 .5 .1 .5-.7 .5-.5 .5 .2 .5-.3 .5 .7 .5-.5 .5 .5 .5 1.4 .5-1.8 .5 .7 .5 .7 .5-.1 .5-.5 .5-.3 .5-1.8 .5 1.8 .5 .4 .5-.2 .5-.2 .5-.6 .5 .4 .5-1.3 .5 .9 .5 .8 .5-.1 .5-.3 .5-1.1 .5 1 .5-.5 .5 1 .5-.4 .5 .8 .5-.1 .5-.1 .5 .4 .5-.6 .5-.4 .5 .5 .5 0 .5-.4 .5-.3 .5 .9 .5-.1 .5 .5 .5 .2 .5-1.1 .5-.1 .5-.2 .5-2 .5 .8 .5 .8 .5 .4 .5-.8 .5-.3 .5 .8 .5-.5 .5-1 .5 1.6 .5 .1 .5-.1 .5 .5 .5-.3 .5 .7 .5-.6 .5 .2 .5 0 .5 1.6 .5-2.6 .5 .3 .5-1.9 .5 2.6 .5-.5 .5 .2 .5 .4 .5-.1 .5-1 .5 .5 .5-.3 .5-.4 .5 .2 .5 .6 .5 .7 .5-.4 .5 .4 .5-1.9 .5 1.4 .5-.5 .5 .4 .5 .4 .5 0 .5 .8 .5-.6 .5 1.7 .5-1.5 .5-.6 .5 .6 .5-.1 .5-.4 .5 1.2 .5-.5 .5 .4 .5-.8 .5 0V266H487z"/>
<path fill="#FFB40A" d="M487 210.2l.5 .6 .5-.3 .5 1 .5 0 .5-.8 .5 1.2 .5-.2 .5-.8 .5 0 .5-.9 .5 1.4 .5-.7 .5-.1 .5 .2 .5 .9 .5-2.2 .5 1.5 .5 .8 .5 .1 .5-1.2 .5 1.1 .5-1.1 .5 .3 .5 .5 .5 .9 .5-1.4 .5-1 .5 .4 .5-1.2 .5 1.3 .5 .3 .5-.7 .5 1.5 .5-.7 .5 .6 .5-.6 .5-.9 .5 1.2 .5 1.2 .5-.4 .5 .1 .5-.1 .5-1.1 .5 .6 .5-.1 .5-.1 .5-1.3 .5 .7 .5 .7 .5 0 .5-.1 .5 .2 .5-.7 .5-.6 .5 2.6 .5-2.3 .5-1.7 .5 1.2 .5-.1 .5 1.4 .5-2.2 .5 .9 .5-1.7 .5 1.7 .5-3.1 .5 3.1 .5 .7 .5-.4 .5 .7 .5 .2 .5 1.1 .5-1.4 .5-.1 .5-.1 .5-.9 .5 .2 .5 .3 .5 .6 .5 0 .5-.3 .5 .3 .5-.6 .5 .5 .5 .4 .5-.3 .5-.9 .5 .5 .5 .5 .5-.1 .5 .6 .5-1.6 .5 .9 .5 .2 .5 .1 .5-.3 .5 1.4 .5-.9 .5 1.3 .5-1.2 .5 .2 .5 .1 .5-.5 .5-.2 .5 .6 .5-.7 .5 .8 .5 .3 .5 .1 .5-1 .5 .1V266H487z"/>
<path fill="#0573D7" d="M487 213.7l.5 .2 .5 .6 .5-1.3 .5 2.4 .5-1.1 .5 0 .5 .2 .5-.7 .5 .2 .5-.5 .5 0 .5 .5 .5-.5 .5 .6 .5 0 .5 .2 .5-1.7 .5 1.9 .5-.3 .5 .8 .5 .1 .5-.1 .5 0 .5-.2 .5-.7 .5 0 .5-1 .5 .3 .5 .4 .5-.1 .5 .3 .5 .5 .5-.3 .5-.5 .5-.2 .5-.4 .5 .9 .5 .1 .5-.2 .5 .9 .5 .5 .5-1 .5 .1 .5-.3 .5-.1 .5 1.9 .5-2 .5 .2 .5 .1 .5 1.7 .5-1.6 .5-.1 .5 .2 .5-.8 .5 .3 .5-.1 .5-1.2 .5 0 .5 .2 .5 .7 .5 .2 .5 1 .5-.6 .5-1.2 .5 .4 .5 1.3 .5 .9 .5-1.4 .5-.2 .5 .5 .5-.3 .5-.9 .5 1 .5-.3 .5-.5 .5 .4 .5-1 .5 .2 .5 .9 .5-2.4 .5 2.7 .5 .2 .5-1 .5 .8 .5-.9 .5-.4 .5 0 .5-.4 .5 1.7 .5 0 .5 .2 .5-.7 .5 0 .5 .4 .5-.6 .5 .1 .5 .1 .5 1.5 .5-.2 .5-.7 .5 1.8 .5-1.9 .5 .1 .5 1.1 .5 .4 .5-1.2 .5 .6 .5-.3 .5-.5 .5-.5V266H487z"/>
<path fill="#FF5F10" d="M487 213.6l.5 2.9 .5 .9 .5 .2 .5 .8 .5 1.7 .5-1.8 .5-.2 .5-.5 .5-.5 .5 .2 .5 0 .5 .4 .5 0 .5-.4 .5 1.6 .5-3.3 .5 2.6 .5 1 .5 0 .5 1.1 .5-1.8 .5-.6 .5 .1 .5 .2 .5-.8 .5 .6 .5 .7 .5-2.4 .5 1.5 .5-.6 .5 1.2 .5 .5 .5-1.1 .5 .1 .5-2.4 .5 1.2 .5 .9 .5 .4 .5 .6 .5-3.7 .5 4.7 .5-2.4 .5-1.1 .5 1.5 .5-3.9 .5 4.6 .5 1.8 .5-1.3 .5-.2 .5-1.3 .5 2.8 .5-1.8 .5-1.1 .5-.9 .5 1.4 .5-.8 .5-1.1 .5 1.2 .5-3 .5 2.9 .5-.8 .5 2.9 .5-3.2 .5-.8 .5-.2 .5 3.7 .5-.1 .5-.8 .5 .1 .5 .2 .5-1 .5 1.6 .5 .4 .5-1.3 .5-3.1 .5 2 .5 5.2 .5-5.1 .5 1.2 .5-.7 .5 .8 .5 .7 .5 1.6 .5-1 .5-2.5 .5 .7 .5-1.6 .5 0 .5 2.2 .5-1.9 .5 1.4 .5-.6 .5 3.2 .5 .2 .5-.8 .5-2.3 .5 .9 .5 1.2 .5-.6 .5-.5 .5-1.2 .5 0 .5 1.9 .5-1 .5 1.2 .5-1.3 .5 1.4 .5-.4 .5-1.6 .5 1.4V266H487z"/>
<path stroke="#CD0F2D" stroke-width="0.7" fill="none" opacity="0.85" d="M525.1 223.2v3.7M495.9 218v6.1M490.2 219.3v3.1M491.6 224.4v2.4M491 228.5v3M515.3 221.5v2.7M525.8 215.4v6M538.1 220.8v5.3M490.3 218.6v4.2M534.2 222v5.4M522.3 224.8v5.8M518.1 216.8v4.1M534.7 224.4v5.1M487.9 215v6.3M537.9 222.7v2.1M532.5 223.8v5.5M526.5 215.8v4.8M503.4 224.7v6.4M502.5 218.8v3.4M539 218.9v4.5M522.1 227.7v2.5M525.7 214.5v6.6M527.2 218.8v3M515.6 219.1v3.2M538.5 224.5v3.6M517.9 226.9v4.1M529.6 221.1v3M504.5 225.1v4.7M487.6 219.9v5.9M520.7 217.4v2.8M536 220.6v5.1M504.3 222.6v5.1M496.8 226.7v4M535.6 222.8v3M538 218.5v4.1M535.5 223.1v4M541.1 219.1v4.4M530.2 220.7v2.8M504.6 218.2v2.4M490.7 224.5v3.1M498.7 224.2v4.5M514.1 217.2v2.1M501.1 221.9v4.7M539.1 222.7v2.2M531.6 218.7v7M539.1 222v6M506.8 226.9v2.4M511.3 222v4.8M521.7 220.6v6.9M503.5 220.6v2.1M531.7 219.4v5.4M524.4 225.7v3.9M532.8 217.7v5.1M529.1 225.9v4.5M496.5 223.1v5M537.9 224.3v6.2M519 216.1v5.3M492 220.9v2.6M505.6 217.7v4.6M520.9 224.4v3.6M511.6 227.7v3.6M491.4 217.1v6.7M502.9 224.9v3.6M537.1 224.8v3.2M500.1 227.9v2.4M539.6 223.5v4.8M530.8 220.5v6.3M523 221.7v3.9M527.9 222.1v4M501.8 220.1v4.7M536 222.5v2.4M539.3 223.7v3.9M513.4 226.7v3.8M510.7 221.5v3.6M490.6 221.1v4.6M507.9 220.6v5.9M532.4 225.3v3.1M509.6 218.4v5.4M537.4 219.6v4.6M510.6 216.9v4.2M499.8 220.3v3.3M532.9 223.8v5.5M503.7 219.6v4.7M511.6 222.4v2.3M530.4 220.2v5M500.3 217.7v4.9M501.6 221.1v6.1M523.6 218.8v6.1M537.2 218v6.1M539.1 225.4v5.6M502.7 225.9v2.9M526.7 225.5v4.6M497 222.5v4.6M512.8 217.5v6.8M533.7 226v5M490.9 227.5v5.8M512.5 220.5v4.3"/>
<path stroke="#FFB40A" stroke-width="0.7" fill="none" opacity="0.85" d="M504.5 222.7v5.9M533.7 221.9v5.1M497.8 224.8v2.4M517.4 228v2.7M539.1 224.1v2.6M491.4 219.1v5.2M528.6 220.7v3.4M526.8 225.5v4.7M533 225.2v4.7M530.7 221.8v3.7M494 217.5v6.1M493.3 226.3v3.2M496.7 218.6v4.6M541.2 223.1v5.9M487.8 224.2v2.6M504.4 226v6.3M518.1 225.4v4.4M508.9 226.3v3.9M519.7 216.7v6.2M516.5 218.3v4.6M518.4 218.2v5.6M513.7 223.8v3.5M505 223.7v3.3M495.5 226.1v2.7M536.8 228.2v2.2M493.7 216.4v5.9M510.4 219.6v6.1M498.3 217.9v2.3M535.1 222v5.4M537.3 222.7v6.2M526.3 217.2v2M500.3 223.6v2.3M534.7 228.3v2.7M523 226.7v6.3M507.8 228.2v4.2"/>
<path stroke="#A028B4" stroke-width="0.7" fill="none" opacity="0.85" d="M518 218.7v3.3M487.2 220.3v6.8M499.3 218.5v5M531.7 225.6v3.7M487.4 222v5.5M536.3 224.5v3.2M521.1 219.5v6.9M529.9 215.8v6.1M499.5 220.4v7M532.6 217.6v3.9M503.5 222.3v2.6M529.2 224.5v3.7M517.8 224.7v2.4M521.4 224.6v5.5M525.6 218.5v6.4M519.9 224.5v4.8M495.4 227.7v2.1M488.5 223.8v2.5M487.5 223.3v3.6M531.1 219.9v3.2M494.4 220.2v6M492.5 219.3v5.2M494.8 219.9v6.4M508.9 218.7v2.2M511.9 222v6.4M489.9 226v5.2M506.9 219.6v6.6M515.6 216.9v6M540.5 220.9v3.6M512.9 220.7v6.1M520.4 217.2v3.3M516.4 225.1v5.4M530.1 225.4v4.7M506.4 220.4v2.1M520.8 216.4v4.9M527.1 217.3v5.1M495.8 219.7v5.3M507.2 220v3.4"/>
<path stroke="#CD0F2D" stroke-width="0.6" fill="none" opacity="0.7" d="M491.3 179.2v8M504.3 201.1v7.8M499.9 221.2v4.3M488.2 188.7v3.3M492.4 214.3v3.2M488.3 177.5v4.8M501.9 209v3.7M487.4 188.9v4.1M496.3 189.4v5.2M491.2 176.3v5.2M495 194.8v5.5M492.4 184v7.5M505.6 205.1v5.1M494.1 214.1v3.5M493.7 217v8.9"/>
<path stroke="#1CBEF5" stroke-width="0.6" fill="none" opacity="0.7" d="M490.2 204.5v4.4M503.1 173.6v8.8M493.5 213.9v5.5M489 188.3v7.5M505 205.8v5.3M504.2 214.1v5.1M489.8 199.8v4.6M500.1 191.1v6.8M494.2 207.2v4.3M503.6 196.1v6.8M491.3 221.4v3.2M489.7 183.6v6.5M487.5 190.3v3.8M500.5 177.6v6.9M502.3 182.8v8.6M488.6 185.5v7.2M500 185.8v8.7M489 189.9v8.6M496.8 174.5v6.1"/>
<path stroke="#FFB40A" stroke-width="0.6" fill="none" opacity="0.7" d="M496.5 175v4.8M491.2 211.8v5.9M490.7 175.2v6M488.6 180.5v6.4M496.5 192.4v5.8M504.2 199.4v5.9M503.9 190.7v8M488.1 219.3v7.1M487.2 191.6v7.7M498.2 196.2v4.4M490.9 206.3v5.1M496.1 208.3v7.6M493.7 210.9v5.6"/>
<path stroke="#6EB928" stroke-width="0.6" fill="none" opacity="0.7" d="M502.8 201v8.1M494.9 184.3v6.6M498.3 204.6v8.1M500 193.8v6.1M500.1 204.5v6.7M496.6 205v4M492 214.4v3.4M496.7 196.1v7.1M498.9 182.7v3.3M492.5 201.4v3.4"/>
<path stroke="#FF5F10" stroke-width="0.6" fill="none" opacity="0.7" d="M505.8 203.9v3.9M496.9 191.6v6.6M493.6 220.8v6.4M498.1 186.4v4.8M497.3 211.1v7.3M494.4 179.4v7M499.8 212.5v6.9M499.3 186v5.1M493.8 214.7v6.7M505.4 181.7v3.3M487 179.9v7.5M500.5 179.5v8.5M503.5 202.3v4.5"/>
<path fill="#fff" d="M400 176.6l.5 .7 .5 .8 .5 .2 .5-.4 .5 .7 .5 .3 .5-.2 .5-.3 .5 .1 .5-.2 .5-.6 .5 .5 .5-.4 .5 1.2 .5 .2 .5-1.3 .5-1.4 .5 2.4 .5-.5 .5 .1 .5 .1 .5-.2 .5 0 .5 .3 .5-.8 .5 1 .5 0 .5-.2 .5-.2 .5 0 .5-.3 .5-.8 .5 .1 .5 .1 .5-.1 .5-.1 .5 .2 .5 .2 .5 0 .5 .5 .5-.3 .5-1.8 .5 1.2 .5 1.2 .5 0 .5 .3 .5-.5 .5-.3 .5-.5 .5 .3 .5-.7 .5 .7 .5-1.7 .5 1.8 .5-1.1 .5 1.7 .5-.1 .5-.1 .5-.4 .5 .6 .5-.1 .5-.7 .5 1 .5-1.3 .5 1.5 .5-.5 .5 .5 .5 .1 .5-.5 .5 0 .5-.2 .5 0 .5-1.1 .5 1 .5-.5 .5-.8 .5 1.3 .5 .4 .5-.3 .5-.2 .5 .7 .5-1.5 .5 0 .5 .6 .5-.4 .5-.7 .5 0 .5 .3 .5 .4 .5 0 .5-.8 .5 .3 .5-.2 .5-.3 .5 0 .5 .4 .5-.4 .5-.2 .5 .3 .5-.3 .5-.9 .5-.8 .5 1.6 .5-1.9 .5 1.9 .5-.3 .5 .5 .5-.1 .5-.5 .5 .4 .5-.4 .5 .6 .5 .2 .5 0 .5 0 .5-.5 .5 .3 .5-.3 0-.5 .5 7.7 .5 4.7 .5-4.3 .5-8.9 .5 1.1 .5-1 .5-3.1 .5 .2 .5 3.6 .5 1.1 .5-1.2 .5 .2 .5 0 .5 .2 .5 0 .5-2.8 .5 1.4 .5-.2 .5 1 .5 0 .5-4.7 .5 3.3 .5 1.1 .5 1.6 .5-.2 .5-2.6 .5 2.3 .5-2.4 .5-2.5 .5-.1 .5 3.2 .5 .1 .5-1 .5-.2 .5-3 .5 2 .5-.5 .5 .9 .5-.3 .5 2.9 .5-.2 .5-1.5 .5 12.9 .5 5.9 .5 1.1 .5 .6 .5-1.6 .5-10.6 .5-6.9 .5 .1 .5-1 .5 .5 .5 .7 .5 .3 .5-1.8 .5 3.3 0-2.1 .5 1 .5 .3 .5 .6 .5 .3 .5-.8 .5-.2 .5-1.2 .5 .5 .5 1.1 .5-2.9 .5 1.1 .5 .5 .5 1.2 .5-1.6 .5 1.7 .5-.3 .5-.6 .5 1.4 .5-.9 .5 1 .5-.4 .5-1 .5 1.3 .5-.4 .5 .4 .5 0 .5-1.7 .5 .4 .5-1.8 .5 2.4 .5-.3 .5 1.2 .5-.6 .5 .6 .5-.9 .5-.4 .5 1.3 .5-.2 .5 1.5 .5 0 .5-.1 .5 .3 .5-1.7 .5 .5 .5 1 .5-1.6 .5 .8 .5-.1 .5 .5 .5 .3 .5 .5 .5-2.1 .5 1.3 .5-.8 .5-.1 .5-.1 .5-.5 .5 .7 .5-.5 .5-.4 .5-1.3 .5 2.2 .5 .4 .5-1.1 .5 0 .5 1.1 .5-.1 .5 .8 .5 0 .5-.2 .5 .3 .5-1.1 .5 .5 .5 0 .5-.9 .5 0 .5-.4 .5 0 .5 1.1 .5-.5 .5 .8 .5 .5 .5-.6 .5 .1 .5-1.1 .5 .6 .5 .3 .5 .2 .5 .6 .5-.7 .5 .2 .5 .9 .5-.3 .5-.1 .5-1.3 .5 1.8 .5 0 .5 .5 .5-.1 .5-2.1 .5 1.5 .5-1 .5 .5 .5 .4 .5 .5 .5-.8 .5 .9 .5-.4 .5-.9 .5-.1V153H400z"/>
<path fill="#fff" d="M400 230.2l.5-.7 .5 3.2 .5-1.6 .5-1.6 .5 1.4 .5 .5 .5-1 .5 .3 .5 .3 .5 .3 .5-2 .5 .8 .5 .5 .5-.1 .5 1.2 .5-.5 .5 1.4 .5-2.1 .5 .3 .5-.6 .5 .9 .5-.9 .5-.2 .5 9.7 .5-9.2 .5 .2 .5 4.7 .5-2.1 .5-2.9 .5-.4 .5-.5 .5-.2 .5-.1 .5 5.1 .5-4.4 .5 1.5 .5 .1 .5 7.4 .5-1.6 .5-4.9 .5 1.9 .5-1.4 .5-2.3 .5 2.8 .5-2.9 .5 .5 .5-.3 .5 3.3 .5-.1 .5-.4 .5-3.4 .5 1.4 .5-1.3 .5 .3 .5-.2 .5 .8 .5-.3 .5 .7 .5-.2 .5-.2 .5-.2 .5 4.5 .5-4.1 .5-.1 .5 3.2 .5-3.3 .5 .9 .5-.8 .5-.3 .5-.1 .5 1.8 .5-1.3 .5-.1 .5-.7 .5 .1 .5 2.1 .5-1.9 .5 6.5 .5-6.2 .5 0 .5 2.9 .5-3.3 .5 2.4 .5-2.1 .5 .2 .5-.7 .5 .5 .5-.8 .5 1 .5 .1 .5-1.1 .5 .3 .5 2.5 .5-2.5 .5 3.5 .5-3.3 .5 .3 .5-.4 .5 2.3 .5-1.9 .5 0 .5 1.6 .5 0 .5-2.3 .5 4.7 .5 .4 .5-4.3 .5 .1 .5 2.3 .5-2.3 .5 .5 .5-.1 .5 .8 .5-.3 .5 .1 .5 .6 .5 .6 .5-2.1 0-3.8 .5 12.5 .5 4.4 .5 .6 .5 1.5 .5 2.8 .5-3 .5-2 .5 2.6 .5-3.4 .5 .6 .5-3.6 .5-6.5 .5 .5 .5-4 .5-1.7 .5 11.6 .5-4.7 .5 5.6 .5-1 .5 7.9 .5-22.9 .5 9.1 .5 3.5 .5-5.7 .5 7.6 .5 1.1 .5-9.5 .5 2.3 .5 6.3 .5-7.1 .5-9.6 .5 15.1 .5-6.3 .5 15.1 .5-10.3 .5-4.4 .5 1.2 .5 8.9 .5 2.5 .5 8.4 .5-8.5 .5 6.5 .5-7 .5-1.1 .5 4.8 .5-4.6 .5 9.9 .5-7.5 .5 .8 .5-1.7 .5-3.6 .5 5.8 .5 6.2 .5-18.4 .5 2 .5 1.2 0 1.2 .5-9.3 .5 .3 .5 7.1 .5-6.1 .5-.9 .5 6.2 .5-6.1 .5 4.5 .5-1.5 .5 .2 .5-4.4 .5 .5 .5 6.4 .5-5.9 .5 .3 .5 .1 .5 2.4 .5-2.5 .5 9.8 .5-9.5 .5 .6 .5 1.5 .5 1.2 .5-1.5 .5 10.2 .5-12.2 .5-1.3 .5 0 .5-.1 .5 3.6 .5 2.5 .5-3.7 .5-1.6 .5 .5 .5-.5 .5 .2 .5 2.8 .5-3 .5 4.5 .5-2.3 .5-1.3 .5 1.4 .5-2.3 .5 3.4 .5-3.6 .5 .4 .5-.2 .5 6.1 .5-6 .5-.5 .5 7.3 .5-4.4 .5-2.8 .5-.3 .5 .4 .5 .4 .5-1.5 .5 .6 .5-.8 .5 .9 .5-.3 .5-.3 .5 .9 .5-1.6 .5 .8 .5 1 .5 .1 .5 .3 .5 10.5 .5-10.5 .5 1.2 .5 1.2 .5-2.2 .5 4.1 .5-4.4 .5 .6 .5-1.7 .5 6.6 .5-5.6 .5-.2 .5 1.8 .5 6.5 .5-8.2 .5 .5 .5-1.2 .5 0 .5 .1 .5 .1 .5 11.7 .5-10 .5 .5 .5 1.8 .5-3.1 .5-.9 .5 .1 .5 .7 .5 .7 .5 .7 .5-.9 .5-.7 .5 1.2 .5 2.9 .5-4.2 .5 .4 .5 .7 .5 1.4 .5-1.6 .5 .2 .5-.6 .5-.9V266H400z"/>
<g stroke-width="0.4" opacity="0.5" fill="none"><path d="M521.7 229.5V239.6" stroke="#CD0F2D"/><path d="M486.8 229.5V248.3" stroke="#A028B4"/><path d="M478.7 229.5V240.5" stroke="#CD0F2D"/><path d="M414.8 229.5V240.3" stroke="#FFB40A"/><path d="M410 229.5V250.5" stroke="#A028B4"/><path d="M401.6 229.5V246.5" stroke="#FFB40A"/><path d="M490.4 229.5V242.2" stroke="#1CBEF5"/><path d="M459.3 229.5V236.1" stroke="#FF5F10"/><path d="M491.8 229.5V243.3" stroke="#FF5F10"/><path d="M470.3 229.5V238.8" stroke="#1CBEF5"/><path d="M438.1 229.5V240.7" stroke="#CD0F2D"/><path d="M421.8 229.5V244.4" stroke="#FF5F10"/><path d="M413.6 229.5V242.8" stroke="#A028B4"/><path d="M432.3 229.5V238.7" stroke="#CD0F2D"/><path d="M488.1 229.5V239.7" stroke="#1CBEF5"/><path d="M420.9 229.5V244.5" stroke="#FF5F10"/><path d="M535.4 229.5V236.8" stroke="#CD0F2D"/><path d="M404.9 229.5V248.8" stroke="#FFB40A"/><path d="M496.9 229.5V246.4" stroke="#FF5F10"/><path d="M407.8 229.5V236.2" stroke="#FF5F10"/><path d="M541.4 229.5V237" stroke="#1CBEF5"/><path d="M444.1 229.5V248.4" stroke="#FF5F10"/><path d="M403.5 229.5V244.4" stroke="#1CBEF5"/><path d="M514.3 229.5V237.7" stroke="#FF5F10"/><path d="M504.5 229.5V251" stroke="#CD0F2D"/><path d="M400.9 229.5V246.1" stroke="#CD0F2D"/><path d="M442.8 229.5V248.2" stroke="#CD0F2D"/><path d="M451 229.5V241" stroke="#1CBEF5"/><path d="M443.4 229.5V247.1" stroke="#CD0F2D"/><path d="M458.2 229.5V244.4" stroke="#A028B4"/><path d="M414.7 229.5V240.8" stroke="#FFB40A"/><path d="M409.9 229.5V236.1" stroke="#CD0F2D"/><path d="M424.3 229.5V240.6" stroke="#CD0F2D"/><path d="M421.2 229.5V242.4" stroke="#FF5F10"/><path d="M460 229.5V243.6" stroke="#FF5F10"/><path d="M529.5 229.5V250.3" stroke="#FF5F10"/><path d="M470.7 229.5V238.9" stroke="#FFB40A"/><path d="M406.5 229.5V241.3" stroke="#FFB40A"/><path d="M431.1 229.5V247.8" stroke="#FF5F10"/><path d="M441.8 229.5V247" stroke="#A028B4"/><path d="M501.4 229.5V240.8" stroke="#FF5F10"/><path d="M474.8 229.5V239.4" stroke="#CD0F2D"/><path d="M432.4 229.5V248.4" stroke="#1CBEF5"/><path d="M509.4 229.5V238.1" stroke="#FFB40A"/><path d="M404.9 229.5V250.7" stroke="#A028B4"/><path d="M519.7 229.5V239.4" stroke="#A028B4"/><path d="M479.6 229.5V245.9" stroke="#FF5F10"/><path d="M484.4 229.5V236.5" stroke="#FF5F10"/><path d="M438.4 229.5V249.9" stroke="#CD0F2D"/><path d="M516.3 229.5V242.4" stroke="#FF5F10"/><path d="M472.7 229.5V245.3" stroke="#1CBEF5"/><path d="M441.7 229.5V247.7" stroke="#CD0F2D"/><path d="M420.9 229.5V240.1" stroke="#CD0F2D"/><path d="M534.8 229.5V242.2" stroke="#CD0F2D"/><path d="M401.8 229.5V243.6" stroke="#1CBEF5"/><path d="M416.6 229.5V237.2" stroke="#CD0F2D"/><path d="M476.9 229.5V237.8" stroke="#1CBEF5"/><path d="M490 229.5V238.5" stroke="#1CBEF5"/><path d="M525.7 229.5V237" stroke="#FF5F10"/><path d="M465.1 229.5V248.9" stroke="#FF5F10"/><path d="M493.3 229.5V246.4" stroke="#FFB40A"/><path d="M519.2 229.5V248.3" stroke="#CD0F2D"/><path d="M500 229.5V239.6" stroke="#FFB40A"/><path d="M504.9 229.5V250.9" stroke="#CD0F2D"/><path d="M493.5 229.5V239.4" stroke="#FF5F10"/><path d="M507.3 229.5V239.8" stroke="#1CBEF5"/><path d="M458.5 229.5V245.8" stroke="#1CBEF5"/><path d="M469.5 229.5V246.1" stroke="#FF5F10"/><path d="M419.4 229.5V250.7" stroke="#1CBEF5"/><path d="M451.3 229.5V243.3" stroke="#CD0F2D"/><path d="M527.4 229.5V237" stroke="#1CBEF5"/><path d="M475.3 229.5V240.9" stroke="#CD0F2D"/><path d="M473.5 229.5V246.4" stroke="#CD0F2D"/><path d="M474.9 229.5V250.1" stroke="#FF5F10"/><path d="M513.3 229.5V244.1" stroke="#1CBEF5"/><path d="M444.1 229.5V246.9" stroke="#FF5F10"/><path d="M511.9 229.5V246.1" stroke="#CD0F2D"/><path d="M446.2 229.5V248.4" stroke="#FF5F10"/><path d="M457.6 229.5V243.9" stroke="#FF5F10"/><path d="M462.3 229.5V251" stroke="#1CBEF5"/><path d="M472 229.5V247.7" stroke="#1CBEF5"/><path d="M451.8 229.5V245.1" stroke="#1CBEF5"/><path d="M418.2 229.5V246.7" stroke="#A028B4"/><path d="M481.4 229.5V244" stroke="#A028B4"/><path d="M483.4 229.5V246.3" stroke="#CD0F2D"/><path d="M474.3 229.5V240.4" stroke="#FF5F10"/><path d="M531.6 229.5V248.2" stroke="#CD0F2D"/><path d="M500.8 229.5V238.8" stroke="#FFB40A"/><path d="M500 229.5V237.5" stroke="#CD0F2D"/><path d="M533.6 229.5V243.6" stroke="#CD0F2D"/><path d="M446.4 229.5V243.3" stroke="#FF5F10"/><path d="M471.1 229.5V247" stroke="#CD0F2D"/><path d="M479.4 229.5V244.1" stroke="#FF5F10"/><path d="M534.4 229.5V238.5" stroke="#FFB40A"/><path d="M505.8 229.5V244.2" stroke="#CD0F2D"/><path d="M529.8 229.5V238.3" stroke="#FF5F10"/><path d="M541.4 229.5V250.3" stroke="#FF5F10"/><path d="M508.8 229.5V240" stroke="#FF5F10"/><path d="M524.9 229.5V248.1" stroke="#CD0F2D"/><path d="M420.5 229.5V238.1" stroke="#FFB40A"/><path d="M460 229.5V248.6" stroke="#CD0F2D"/><path d="M526.5 229.5V245.5" stroke="#1CBEF5"/><path d="M460 229.5V248.4" stroke="#A028B4"/><path d="M434.7 229.5V243.7" stroke="#FF5F10"/><path d="M531.5 229.5V246.9" stroke="#1CBEF5"/><path d="M519.2 229.5V242.2" stroke="#CD0F2D"/><path d="M403.8 229.5V243.7" stroke="#FFB40A"/><path d="M420.7 229.5V245.8" stroke="#FF5F10"/><path d="M419.1 229.5V236.7" stroke="#FF5F10"/><path d="M400.8 229.5V250.2" stroke="#FFB40A"/><path d="M499.7 229.5V240.2" stroke="#1CBEF5"/><path d="M499.2 229.5V246.9" stroke="#CD0F2D"/><path d="M400.6 229.5V237.6" stroke="#1CBEF5"/><path d="M492.5 229.5V236.2" stroke="#A028B4"/><path d="M439.5 229.5V247.9" stroke="#FFB40A"/><path d="M470 229.5V247.3" stroke="#FFB40A"/><path d="M426.9 229.5V243.1" stroke="#A028B4"/><path d="M449 229.5V247.8" stroke="#FF5F10"/><path d="M417 229.5V239.4" stroke="#1CBEF5"/><path d="M422 229.5V240.4" stroke="#CD0F2D"/><path d="M469.1 229.5V236.1" stroke="#CD0F2D"/><path d="M465.6 229.5V240.3" stroke="#CD0F2D"/><path d="M465.2 229.5V248.3" stroke="#FF5F10"/><path d="M507.9 229.5V247.7" stroke="#A028B4"/><path d="M454.7 229.5V242.9" stroke="#CD0F2D"/><path d="M410.8 229.5V249.7" stroke="#FF5F10"/><path d="M404.6 229.5V238.4" stroke="#1CBEF5"/><path d="M516 229.5V246.8" stroke="#1CBEF5"/><path d="M454.5 229.5V246.5" stroke="#1CBEF5"/><path d="M489.7 229.5V246.8" stroke="#A028B4"/><path d="M472.4 229.5V247.5" stroke="#FFB40A"/><path d="M487 229.5V246.2" stroke="#CD0F2D"/><path d="M490.7 229.5V244.4" stroke="#CD0F2D"/><path d="M423.8 229.5V248.8" stroke="#CD0F2D"/><path d="M434.9 229.5V239" stroke="#FFB40A"/><path d="M443.3 229.5V240.1" stroke="#FF5F10"/><path d="M434.6 229.5V241.5" stroke="#A028B4"/><path d="M424.4 229.5V245.7" stroke="#A028B4"/><path d="M499.9 229.5V237.4" stroke="#A028B4"/><path d="M419.2 229.5V247.6" stroke="#1CBEF5"/><path d="M484.9 229.5V249.3" stroke="#FF5F10"/><path d="M429.3 229.5V242.5" stroke="#CD0F2D"/><path d="M450.8 229.5V244.6" stroke="#1CBEF5"/><path d="M444.4 229.5V244.8" stroke="#A028B4"/><path d="M423.7 229.5V249.9" stroke="#FFB40A"/><path d="M485.7 229.5V248.8" stroke="#A028B4"/><path d="M442.8 229.5V247" stroke="#FF5F10"/><path d="M523.6 229.5V245.6" stroke="#1CBEF5"/><path d="M508.9 229.5V238.3" stroke="#1CBEF5"/><path d="M413.4 229.5V245.3" stroke="#CD0F2D"/><path d="M540.7 229.5V236.3" stroke="#FF5F10"/><path d="M486 229.5V239.7" stroke="#A028B4"/><path d="M436.5 229.5V243.1" stroke="#CD0F2D"/><path d="M466.1 229.5V242.3" stroke="#FF5F10"/><path d="M445.4 229.5V248.7" stroke="#1CBEF5"/><path d="M471.6 229.5V249.1" stroke="#A028B4"/><path d="M512.9 229.5V243.8" stroke="#A028B4"/><path d="M438.8 229.5V250.3" stroke="#1CBEF5"/><path d="M467.3 229.5V246.9" stroke="#CD0F2D"/><path d="M504.6 229.5V246.1" stroke="#FF5F10"/><path d="M509.7 229.5V242.7" stroke="#1CBEF5"/><path d="M535 229.5V242.1" stroke="#1CBEF5"/><path d="M522.5 229.5V248.6" stroke="#1CBEF5"/><path d="M530.5 229.5V247.7" stroke="#FFB40A"/><path d="M435.5 229.5V243.8" stroke="#CD0F2D"/><path d="M503.7 229.5V240.9" stroke="#FF5F10"/><path d="M516.3 229.5V244.6" stroke="#CD0F2D"/><path d="M526.4 229.5V246.6" stroke="#A028B4"/><path d="M494 229.5V250.7" stroke="#FFB40A"/><path d="M496.9 229.5V238.4" stroke="#CD0F2D"/></g><g fill="none" stroke-width="0.7" opacity="0.85"><path stroke="#CD0F2D" d="M460.9 178V249M481.9 176V250M484 200V251"/><path stroke="#0573D7" d="M461.5 184V246M480.2 176V247M483.2 196V244"/><path stroke="#FF5F10" d="M462.2 200V244M479.4 205V246"/></g>
</g>
<g stroke="#262626" stroke-width="0.5" fill="none" opacity="0.45">
<rect x="399.4" y="152.5" width="146.1" height="113.9"/>
<path d="M399.4 266.4v-1.3M399.4 152.5v1.3M435.9 266.4v-1.3M435.9 152.5v1.3M472.4 266.4v-1.3M472.4 152.5v1.3M509 266.4v-1.3M509 152.5v1.3M545.5 266.4v-1.3M545.5 152.5v1.3M399.4 152.5h1.3M545.5 152.5h-1.3M399.4 168.8h1.3M545.5 168.8h-1.3M399.4 185h1.3M545.5 185h-1.3M399.4 201.3h1.3M545.5 201.3h-1.3M399.4 217.6h1.3M545.5 217.6h-1.3M399.4 233.9h1.3M545.5 233.9h-1.3M399.4 250.1h1.3M545.5 250.1h-1.3M399.4 266.4h1.3M545.5 266.4h-1.3"/>
</g>
<g fill="#262626" stroke="#262626" stroke-width="0.1">
<text x="472.4" y="149.9" font-size="8" text-anchor="middle" fill="#000" stroke="#000" stroke-width="0.12">Walking</text>
<g font-size="4.2">
<text x="399.4" y="273.3" text-anchor="middle">0</text>
<text x="435.9" y="273.3" text-anchor="middle">0.5</text>
<text x="472.4" y="273.3" text-anchor="middle">1</text>
<text x="509" y="273.3" text-anchor="middle">1.5</text>
<text x="545.5" y="273.3" text-anchor="middle">2</text>
<text x="397.1" y="154.1" text-anchor="end">1000</text>
<text x="397.1" y="170.3" text-anchor="end">800</text>
<text x="397.1" y="186.6" text-anchor="end">600</text>
<text x="397.1" y="202.9" text-anchor="end">400</text>
<text x="397.1" y="219.1" text-anchor="end">200</text>
<text x="397.1" y="235.4" text-anchor="end">0</text>
<text x="397.1" y="251.7" text-anchor="end">-200</text>
<text x="397.1" y="267.9" text-anchor="end">-400</text>
</g>
<g font-size="4.4">
<text x="472.4" y="279" text-anchor="middle">Sample</text>
<text transform="translate(384.7 209.4) rotate(-90)" text-anchor="middle">Amplitude</text>
<text x="535.1" y="280.6" font-size="4.6">×10<tspan dy="-1.8" font-size="3.4">4</tspan></text>
</g>
</g>
</svg>
</body></html>
